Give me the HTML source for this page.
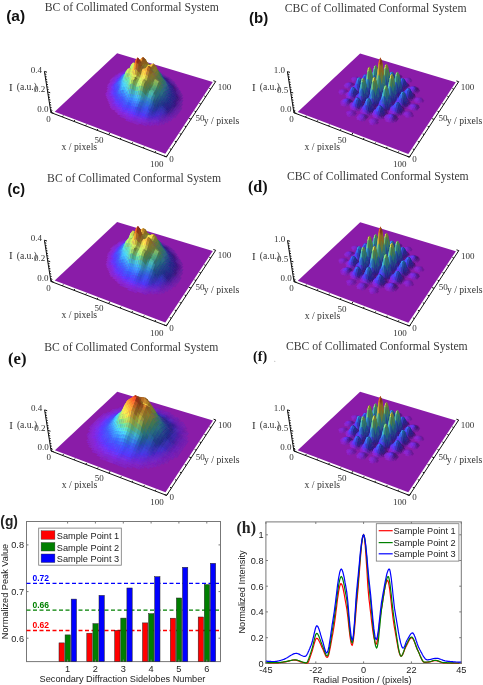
<!DOCTYPE html>
<html><head><meta charset="utf-8"><style>
html,body{margin:0;padding:0;background:#fff;width:483px;height:685px;overflow:hidden}
svg{display:block}

</style></head><body>
<svg width="483" height="685" viewBox="0 0 483 685">
<defs><filter id="bl" x="-5%" y="-5%" width="110%" height="110%"><feGaussianBlur stdDeviation=".6"/></filter><g id="bA" transform="scale(0.2)"><path fill="#7020b0" d="M736 351l10 3 5-4-10-3zM744 353l10 3 5-4-11-3z"/>
<path fill="#7020b8" d="M717 349l10 3 4-4-10-2z"/>
<path fill="#7020c0" d="M697 349l11 2 4-3-10-3z"/>
<path fill="#7028c0" d="M678 348l10 2 5-3-10-2z"/>
<path fill="#7820b0" d="M732 346l11 3 4-5-10-3zM740 348l10 3 5-4-10-4zM748 350l10 4 4-5-10-3zM756 352l10 4 4-4-10-4zM763 355l11 3 4-4-10-4z"/>
<path fill="#7820b8" d="M694 345l10 2 4-4-10-3zM721 347l10 3 4-4-10-3zM701 346l11 3 4-4-10-3zM682 346l10 2 5-4-10-2zM728 349l11 3 4-4-10-4zM709 348l10 2 5-3-10-3zM690 347l10 3 4-4-10-3z"/>
<path fill="#7820c0" d="M670 347l10 2 5-4-10-2z"/>
<path fill="#7828c8" d="M658 349l11 2 4-4-10-2z"/>
<path fill="#8020b0" d="M705 343l10 3 5-4-10-3z"/>
<path fill="#8020b8" d="M686 343l10 3 5-5-10-3zM667 343l10 2 5-4-10-3zM713 345l10 3 5-4-10-3zM655 345l10 2 5-5-10-2zM674 344l10 3 5-4-10-3z"/>
<path fill="#8020c0" d="M663 346l10 2 4-4-10-2zM651 348l10 2 5-4-10-3z"/>
<path fill="#8820c0" d="M643 347l10 2 5-5-10-2zM627 353l10 2 5-5-10-2z"/>
<path fill="#8820c8" d="M639 351l10 2 5-5-10-2z"/>
<path fill="#5828b0" d="M720 351l11 3 4-2-10-2z"/>
<path fill="#6020b0" d="M740 354l10 4 5-3-11-3zM748 357l10 3 4-3-10-3z"/>
<path fill="#6028b8" d="M713 351l10 1 4-1-10-3z"/>
<path fill="#6028c8" d="M681 351l11 2 4-3-10-2zM701 351l11 1 4-1-11-2z"/>
<path fill="#6820b0" d="M732 352l11 3 4-2-10-4z"/>
<path fill="#6820b8" d="M724 351l11 2 4-3-10-3z"/>
<path fill="#6828c0" d="M705 350l10 2 5-3-11-2zM693 351l11 1 4-2-10-2z"/>
<path fill="#6828c8" d="M674 350l10 2 5-3-11-2z"/>
<path fill="#7020b0" d="M752 355l10 3 4-3-10-4zM759 357l11 4 4-4-10-3zM767 360l11 3 4-4-10-3z"/>
<path fill="#7028c0" d="M686 349l10 2 4-2-10-3z"/>
<path fill="#7028c8" d="M666 350l10 1 5-3-10-2z"/>
<path fill="#7028d8" d="M662 353l10 1 5-4-11-1z"/>
<path fill="#7820a8" d="M779 359l10 4 5-4-11-4zM787 362l10 4 4-5-10-3zM795 365l10 4 4-5-10-4z"/>
<path fill="#7820b0" d="M771 357l10 4 5-5-10-3z"/>
<path fill="#7828d8" d="M654 352l10 1 5-4-10-1z"/>
<path fill="#8028c8" d="M635 355l10 1 5-5-10-2z"/>
<path fill="#8028d0" d="M647 352l10 1 4-4-10-2zM630 358l10 1 5-4-10-2z"/>
<path fill="#8028d8" d="M642 355l10 1 5-4-10-2z"/>
<path fill="#8820c0" d="M615 356l10 2 5-5-10-3zM611 360l10 2 5-5-10-3zM599 362l10 2 5-5-10-2z"/>
<path fill="#8828c8" d="M623 357l10 2 5-5-10-2z"/>
<path fill="#4028a8" d="M724 352l11 3 4 0-11-3z"/>
<path fill="#4828b0" d="M716 351l11 2 4 0-11-2z"/>
<path fill="#5020a8" d="M728 353l11 3 4-1-11-4zM736 355l11 3 4-1-11-4zM744 357l10 3 5-1-11-3zM752 359l10 3 4-1-10-3z"/>
<path fill="#5028c0" d="M709 351l10 1 4 0-10-2z"/>
<path fill="#5030d0" d="M697 352l10 0 5-1-11 0z"/>
<path fill="#5828d0" d="M689 352l11 1 4-2-11-1z"/>
<path fill="#5830d8" d="M677 353l11 1 4-2-10-2z"/>
<path fill="#5830e0" d="M665 355l11 1 4-3-10-1z"/>
<path fill="#6020a8" d="M771 363l11 4 4-2-10-4z"/>
<path fill="#6020b0" d="M756 359l10 3 4-2-10-4zM763 361l11 3 4-2-10-4z"/>
<path fill="#6030d8" d="M669 353l11 1 4-3-10-2z"/>
<path fill="#6820a8" d="M783 364l10 4 5-3-11-4zM791 367l10 4 4-4-10-4z"/>
<path fill="#6830e0" d="M658 355l10 1 4-4-10-1z"/>
<path fill="#7020a8" d="M775 362l10 4 5-4-11-4zM799 370l10 5 4-5-10-4z"/>
<path fill="#7030e0" d="M646 358l10 0 4-3-10-1zM634 361l10 0 5-3-11-1z"/>
<path fill="#7828e0" d="M638 359l10 0 5-4-10-1z"/>
<path fill="#7830e0" d="M650 356l10 0 5-4-10-1z"/>
<path fill="#8028c8" d="M607 363l9 2 5-5-9-2z"/>
<path fill="#8028d0" d="M619 361l9 1 5-5-10-1zM602 367l10 2 5-5-10-2z"/>
<path fill="#8028d8" d="M626 362l10 0 5-4-10-1zM614 364l10 1 5-4-10-2z"/>
<path fill="#8820c8" d="M595 366l9 2 5-5-9-2z"/>
<path fill="#3028a8" d="M720 351l11 2 4 2-11-3z"/>
<path fill="#3828a0" d="M732 354l11 3 4 1-11-4z"/>
<path fill="#3828a8" d="M740 356l11 3 4 1-11-3zM748 358l11 2 3 2-10-3z"/>
<path fill="#3830b8" d="M712 351l11 0 4 2-11-2z"/>
<path fill="#402090" d="M775 365l11 5 4-1-11-4z"/>
<path fill="#482098" d="M767 363l11 3 4 0-11-4z"/>
<path fill="#4820a8" d="M760 361l10 3 4 0-10-4z"/>
<path fill="#4830c8" d="M704 352l11-1 4 0-10 0z"/>
<path fill="#4838e0" d="M693 353l10-1 4-1-10 1zM681 355l10-1 5-1-11 0z"/>
<path fill="#5030e0" d="M685 354l11-1 4-1-11-1z"/>
<path fill="#5030e8" d="M673 355l11 0 4-2-11-1z"/>
<path fill="#5038e8" d="M661 357l11 0 4-2-11-1z"/>
<path fill="#5820a0" d="M779 366l10 4 5-3-11-4z"/>
<path fill="#6020a0" d="M787 369l10 4 5-3-11-4zM795 372l10 5 5-4-11-4z"/>
<path fill="#6030e8" d="M653 358l11-1 4-2-10-1zM641 361l11-2 4-2-10 0z"/>
<path fill="#6820a0" d="M803 375l10 5 4-4-10-4zM811 379l10 4 4-4-10-4z"/>
<path fill="#6830e8" d="M629 364l11-2 4-2-10 0z"/>
<path fill="#7020a8" d="M807 373l10 4 4-4-10-4z"/>
<path fill="#7030f0" d="M617 368l11-1 4-4-10 0z"/>
<path fill="#7820a8" d="M814 376l11 4 4-4-10-4z"/>
<path fill="#7830e0" d="M622 365l10 0 5-4-11-1z"/>
<path fill="#8028e0" d="M610 368l10 1 5-5-10-1z"/>
<path fill="#8828d0" d="M590 371l10 1 5-5-10-2zM586 375l9 2 6-6-10-2z"/>
<path fill="#8828d8" d="M598 372l10 1 5-6-10-1z"/>
<path fill="#302088" d="M772 363l10 5 4 2-11-5z"/>
<path fill="#302090" d="M764 361l10 3 4 2-11-3z"/>
<path fill="#302898" d="M728 353l11 3 4 1-11-3z"/>
<path fill="#3028a0" d="M736 355l11 2 4 2-11-3z"/>
<path fill="#3828a0" d="M756 360l11 1 3 3-10-3z"/>
<path fill="#3838c8" d="M708 351l11-1 4 1-11 0z"/>
<path fill="#4038d8" d="M700 352l11-2 4 1-10 1z"/>
<path fill="#4040e0" d="M688 354l11-2 4 0-10 1zM676 356l11-3 4 1-10 1z"/>
<path fill="#482090" d="M783 369l11 5 4-1-11-5z"/>
<path fill="#482098" d="M791 372l11 6 4-2-11-5z"/>
<path fill="#4838d8" d="M657 358l10-2 5 0-11 1z"/>
<path fill="#4838e0" d="M669 356l10-1 5 0-11 0zM644 360l11-3 5 0-11 2z"/>
<path fill="#502098" d="M799 376l10 5 5-2-11-5z"/>
<path fill="#5038e8" d="M649 359l11-2 4-1-11 1z"/>
<path fill="#5038f0" d="M637 362l10-3 5-1-11 2z"/>
<path fill="#5820a0" d="M807 380l10 4 5-2-11-4z"/>
<path fill="#6038f8" d="M625 367l10-3 5-3-11 2z"/>
<path fill="#6820a0" d="M819 382l10 4 4-4-10-4z"/>
<path fill="#7020a0" d="M827 385l10 4 4-4-10-4zM835 388l10 5 4-5-10-4z"/>
<path fill="#7030f8" d="M613 372l10-1 5-5-11 1z"/>
<path fill="#7830e8" d="M601 376l10 1 5-6-10-1z"/>
<path fill="#8030e8" d="M605 372l10 0 5-5-10 0z"/>
<path fill="#8820c8" d="M574 378l9 2 5-6-9-2zM569 383l10 2 5-6-10-2z"/>
<path fill="#8828d0" d="M581 379l10 2 5-6-10-2z"/>
<path fill="#8828e0" d="M593 376l10 1 5-6-10-1zM589 380l10 1 5-6-10-1z"/>
<path fill="#282888" d="M760 358l11 3 3 3-10-3z"/>
<path fill="#2830a0" d="M724 351l11 3 4 2-11-3zM732 353l11 2 4 2-11-2z"/>
<path fill="#302080" d="M780 367l10 6 4 0-11-5z"/>
<path fill="#3030a0" d="M744 357l11 1 4 2-11-1zM752 358l11 1 3 3-10-2z"/>
<path fill="#3038b0" d="M716 350l11 2 4 1-11-2z"/>
<path fill="#3040c8" d="M704 350l11-1 4 2-11 0z"/>
<path fill="#382088" d="M787 371l11 6 4 0-11-5z"/>
<path fill="#3840d0" d="M672 355l10-4 5 3-10 2z"/>
<path fill="#3840d8" d="M684 354l11-4 4 2-10 3z"/>
<path fill="#402090" d="M795 376l11 5 4-1-11-4zM803 380l11 4 4 0-11-5z"/>
<path fill="#4040d8" d="M696 352l11-2 4 1-11 1zM664 356l11-2 4 1-10 2zM652 358l11-3 4 1-10 2z"/>
<path fill="#4048e8" d="M640 361l10-4 5 0-10 3z"/>
<path fill="#482090" d="M811 383l11 5 4-1-11-5z"/>
<path fill="#5040f8" d="M632 364l11-4 4-1-10 3z"/>
<path fill="#582098" d="M815 383l10 5 5-3-11-4z"/>
<path fill="#5838ff" d="M621 370l10-3 4-4-10 3z"/>
<path fill="#602098" d="M823 386l10 6 5-4-11-4zM831 390l10 5 5-3-11-5z"/>
<path fill="#6820a0" d="M839 394l10 5 5-4-11-5z"/>
<path fill="#7038f8" d="M608 376l11-1 4-6-10 1z"/>
<path fill="#7830f0" d="M596 381l10 0 5-6-10 0z"/>
<path fill="#8028e0" d="M584 385l10 1 5-6-10-1z"/>
<path fill="#8820c8" d="M564 387l10 2 5-6-9-2z"/>
<path fill="#8828d0" d="M577 384l9 1 6-6-10-1z"/>
<path fill="#8828d8" d="M572 388l10 2 5-6-10-2z"/>
<path fill="#282088" d="M784 370l10 6 4 1-10-6z"/>
<path fill="#282888" d="M768 361l11 5 3 2-10-5zM776 364l10 7 4 2-10-6z"/>
<path fill="#2838a0" d="M720 350l11 2 4 2-11-2z"/>
<path fill="#2838a8" d="M740 355l11 1 4 2-11-1zM748 356l11 0 4 3-11-1z"/>
<path fill="#2840b0" d="M712 350l11 1 4 1-11-2z"/>
<path fill="#2848b8" d="M700 349l10-2 5 3-11 1z"/>
<path fill="#302088" d="M792 375l10 5 4 1-10-5z"/>
<path fill="#302090" d="M800 379l10 5 4 0-11-5z"/>
<path fill="#3048c8" d="M680 353l10-6 5 4-10 4z"/>
<path fill="#3048d0" d="M692 351l10-3 5 2-11 3z"/>
<path fill="#3840d0" d="M660 356l10-3 5 2-11 2z"/>
<path fill="#3848e0" d="M648 358l10-3 5 1-11 2z"/>
<path fill="#482090" d="M819 387l11 6 4-2-11-5z"/>
<path fill="#4850ff" d="M636 364l10-5 5-2-11 4z"/>
<path fill="#501890" d="M827 391l11 6 4-3-11-5z"/>
<path fill="#5048ff" d="M628 367l10-5 5-2-11 4zM624 371l10-5 4-4-10 5z"/>
<path fill="#581890" d="M835 396l11 6 4-4-10-5z"/>
<path fill="#5840ff" d="M616 374l10-3 5-5-11 3zM612 378l10-3 4-5-10 3z"/>
<path fill="#6838f8" d="M604 380l10-1 5-6-10 1z"/>
<path fill="#6838ff" d="M599 384l11-2 4-5-10 2z"/>
<path fill="#7020a0" d="M847 398l10 5 5-5-11-5z"/>
<path fill="#7830f0" d="M592 385l10 0 5-6-10 0z"/>
<path fill="#8028e0" d="M580 389l9 1 6-6-10-1z"/>
<path fill="#8828c8" d="M560 392l10 2 5-7-10-2z"/>
<path fill="#8828d8" d="M567 393l10 1 5-6-9-2z"/>
<path fill="#9028d0" d="M555 396l10 2 5-6-10-2z"/>
<path fill="#202888" d="M772 362l10 7 4 2-10-7z"/>
<path fill="#203088" d="M764 358l11 6 3 2-10-5z"/>
<path fill="#203090" d="M756 356l11 3 4 3-11-3z"/>
<path fill="#204090" d="M716 347l11 2 4 4-11-2z"/>
<path fill="#282888" d="M780 368l10 7 4 1-10-7zM788 373l11 6 3 1-10-6z"/>
<path fill="#2838a0" d="M728 352l11 1 4 3-11-2z"/>
<path fill="#2840a8" d="M736 353l11 0 4 3-11 0z"/>
<path fill="#2848a0" d="M708 347l10 0 5 4-11-1z"/>
<path fill="#2850b8" d="M688 349l10-6 5 6-10 4z"/>
<path fill="#302088" d="M808 382l10 6 4 0-10-5z"/>
<path fill="#3048d0" d="M668 354l10-5 5 3-10 4z"/>
<path fill="#3050d8" d="M655 356l11-4 5 2-11 3z"/>
<path fill="#381880" d="M824 391l10 7 4-1-10-7z"/>
<path fill="#382080" d="M816 386l10 7 4-1-10-6z"/>
<path fill="#3858f8" d="M643 360l11-4 4-1-10 3z"/>
<path fill="#481888" d="M832 397l10 7 4-3-10-6z"/>
<path fill="#4858ff" d="M631 367l11-4 4-4-10 4z"/>
<path fill="#5050ff" d="M619 375l11-5 4-4-11 5z"/>
<path fill="#5840ff" d="M607 382l10-5 5-3-11 4z"/>
<path fill="#6038ff" d="M595 388l10-3 5-4-11 2z"/>
<path fill="#682098" d="M843 400l11 6 4-5-10-4z"/>
<path fill="#7020a0" d="M851 404l11 5 4-5-10-4zM859 408l11 4 4-5-10-4z"/>
<path fill="#7030f0" d="M583 393l10 0 5-6-10 0z"/>
<path fill="#7830f0" d="M587 389l10 0 5-6-10 0z"/>
<path fill="#8030e8" d="M575 393l10 1 5-6-10-1zM570 398l10 1 5-7-9 0z"/>
<path fill="#8828d8" d="M563 398l10 1 5-7-10-1z"/>
<path fill="#9028d0" d="M550 401l10 2 6-6-10-2z"/>
<path fill="#203888" d="M760 356l11 5 4 3-11-6z"/>
<path fill="#204090" d="M724 349l10 0 5 5-11-1zM752 354l11 2 4 3-11-2z"/>
<path fill="#204888" d="M704 342l10 0 5 7-11 0z"/>
<path fill="#204898" d="M696 344l10-3 5 7-11 2zM732 350l10-1 5 5-11 0z"/>
<path fill="#282088" d="M804 381l11 6 3 1-10-6zM812 386l10 7 4-1-10-6z"/>
<path fill="#282888" d="M796 377l11 6 3 0-10-4z"/>
<path fill="#2840a8" d="M744 354l11 0 4 3-11 0z"/>
<path fill="#2858a8" d="M683 345l10-8 6 8-10 5z"/>
<path fill="#302080" d="M820 391l10 8 4-1-10-7z"/>
<path fill="#3058c0" d="M675 350l10-7 6 5-10 6z"/>
<path fill="#3060d8" d="M663 354l10-7 5 3-10 5z"/>
<path fill="#381880" d="M828 397l10 8 5-2-11-7z"/>
<path fill="#3868f0" d="M651 357l11-4 4 0-10 3z"/>
<path fill="#4060ff" d="M627 371l10-5 5-4-11 5z"/>
<path fill="#4068ff" d="M639 364l11-4 4-4-11 3z"/>
<path fill="#4850ff" d="M615 378l10-6 4-2-10 5z"/>
<path fill="#5048ff" d="M603 386l10-7 4-2-10 5z"/>
<path fill="#582098" d="M840 402l10 6 4-4-10-5z"/>
<path fill="#6020a0" d="M848 407l10 5 4-4-10-5z"/>
<path fill="#6038ff" d="M590 392l11-3 4-5-10 3z"/>
<path fill="#6820a0" d="M856 411l10 5 5-5-11-4z"/>
<path fill="#7020a0" d="M864 414l10 5 5-5-11-4z"/>
<path fill="#7030f0" d="M578 398l10 0 5-7-10 1z"/>
<path fill="#8028e8" d="M566 403l10 1 5-7-10-1z"/>
<path fill="#8828d0" d="M553 408l10 1 6-7-10-1z"/>
<path fill="#8828d8" d="M558 403l10 1 5-7-10-1z"/>
<path fill="#9028c8" d="M546 406l10 3 5-7-10-2z"/>
<path fill="#202888" d="M792 375l11 6 4 2-11-6z"/>
<path fill="#203088" d="M776 365l11 7 4 2-11-6zM784 371l11 6 4 2-11-6z"/>
<path fill="#203888" d="M768 360l11 7 4 2-11-7z"/>
<path fill="#204888" d="M712 342l10 1 4 7-10-1zM748 349l11 2 4 6-11-2z"/>
<path fill="#204890" d="M740 350l10-1 5 6-11 0z"/>
<path fill="#205088" d="M720 343l10 1 4 7-10-1z"/>
<path fill="#205888" d="M691 338l10-4 5 9-10 3z"/>
<path fill="#282088" d="M816 390l11 9 4 0-10-8z"/>
<path fill="#282888" d="M800 380l11 6 4 1-11-6zM808 384l11 8 4 1-11-8z"/>
<path fill="#302088" d="M824 397l11 9 4-2-10-7z"/>
<path fill="#3070d0" d="M671 349l10-9 5 4-10 7z"/>
<path fill="#3878f0" d="M659 354l10-7 5 1-10 6z"/>
<path fill="#4060ff" d="M622 374l10-7 5-2-10 6z"/>
<path fill="#4070ff" d="M635 367l10-5 4-3-10 4z"/>
<path fill="#4078ff" d="M647 360l10-5 5-2-11 4z"/>
<path fill="#482090" d="M836 403l10 7 5-3-11-6z"/>
<path fill="#4850ff" d="M610 381l10-8 5-1-10 7z"/>
<path fill="#5048ff" d="M598 389l10-7 5-3-11 6z"/>
<path fill="#582098" d="M844 408l10 6 5-3-11-6z"/>
<path fill="#6020a0" d="M852 413l11 5 4-4-11-5zM860 417l11 6 4-5-10-5z"/>
<path fill="#6038ff" d="M586 397l10-3 4-6-10 3z"/>
<path fill="#6820a0" d="M868 421l11 6 4-5-10-5z"/>
<path fill="#7830f0" d="M574 404l9-1 5-7-9 0zM569 409l10 0 5-8-10 1z"/>
<path fill="#8028e0" d="M561 409l10 1 5-8-10-1z"/>
<path fill="#8828d0" d="M549 413l10 2 5-7-10-2z"/>
<path fill="#203088" d="M797 376l10 7 4 3-11-6z"/>
<path fill="#203888" d="M780 367l11 6 4 4-11-6zM788 372l11 5 4 4-11-5z"/>
<path fill="#204088" d="M764 355l11 7 4 5-11-7zM772 361l11 7 4 4-11-7z"/>
<path fill="#204888" d="M756 351l11 5 4 5-11-4z"/>
<path fill="#205088" d="M728 344l10-2 5 9-11 0z"/>
<path fill="#205880" d="M699 335l10-1 5 10-10 0z"/>
<path fill="#206080" d="M708 335l10 1 4 9-10-1z"/>
<path fill="#3080b8" d="M679 341l10-9 5 6-10 8z"/>
<path fill="#382080" d="M832 404l11 7 4-2-10-7z"/>
<path fill="#3860f8" d="M618 375l10-7 5 0-10 6z"/>
<path fill="#3870ff" d="M630 369l10-6 5-1-10 5z"/>
<path fill="#3890e8" d="M667 349l10-10 5 1-10 10z"/>
<path fill="#3890ff" d="M655 357l10-8 4-1-10 7z"/>
<path fill="#402090" d="M840 410l11 6 4-3-10-6z"/>
<path fill="#4058ff" d="M606 384l9-9 5-2-10 8z"/>
<path fill="#4080ff" d="M642 363l11-5 4-3-10 5z"/>
<path fill="#502098" d="M849 415l10 6 4-4-10-5z"/>
<path fill="#5048ff" d="M594 394l10-7 4-5-10 7zM589 400l10-5 4-8-10 6z"/>
<path fill="#582098" d="M857 419l10 7 4-5-10-5z"/>
<path fill="#602098" d="M865 424l10 6 5-5-11-5z"/>
<path fill="#6038ff" d="M581 403l10-3 5-8-10 4z"/>
<path fill="#6838ff" d="M577 408l9-2 5-8-10 3z"/>
<path fill="#7830e8" d="M564 414l10 1 5-8-10 0z"/>
<path fill="#8828d8" d="M552 419l10 1 5-7-10-1z"/>
<path fill="#8828e0" d="M557 414l9 1 6-7-10-1z"/>
<path fill="#9028d0" d="M544 418l10 2 5-7-9-2zM539 423l10 2 6-7-10-2z"/>
<path fill="#203088" d="M805 381l10 9 4 2-11-8z"/>
<path fill="#205080" d="M761 347l10 8 4 8-11-6z"/>
<path fill="#205880" d="M736 343l10-2 5 10-11 0zM744 342l10 0 5 11-11-2zM752 342l11 5 4 10-11-4z"/>
<path fill="#206080" d="M715 337l11 0 4 8-10 0z"/>
<path fill="#282888" d="M821 396l10 9 4 0-10-8zM813 388l10 10 4 1-10-9z"/>
<path fill="#287898" d="M687 333l10-5 5 8-10 4z"/>
<path fill="#302080" d="M837 410l10 7 4-2-10-6z"/>
<path fill="#302088" d="M829 403l10 8 4 0-10-8z"/>
<path fill="#3870f0" d="M625 370l10-6 5 0-10 5z"/>
<path fill="#3870ff" d="M613 377l10-8 5-1-10 7z"/>
<path fill="#3880f8" d="M638 365l10-7 5 0-11 5z"/>
<path fill="#3898ff" d="M650 359l10-8 5-2-10 8z"/>
<path fill="#402088" d="M845 415l10 7 5-2-11-6z"/>
<path fill="#4060ff" d="M601 389l10-9 4-5-9 9z"/>
<path fill="#40a8f8" d="M663 351l9-10 5-2-10 11z"/>
<path fill="#40b0d8" d="M675 341l9-10 6 2-10 9z"/>
<path fill="#482088" d="M853 421l10 7 5-3-11-7z"/>
<path fill="#501890" d="M861 426l11 7 4-4-11-6z"/>
<path fill="#5848ff" d="M584 406l10-4 5-9-10 5z"/>
<path fill="#601898" d="M869 431l11 7 4-5-10-6z"/>
<path fill="#6820a0" d="M873 429l10 5 5-5-11-5z"/>
<path fill="#6838f8" d="M572 414l10-2 5-8-10 3z"/>
<path fill="#7038f8" d="M567 419l10-1 5-8-10 2z"/>
<path fill="#8030e8" d="M560 420l9 0 6-7-10-1zM555 425l10 0 5-7-10 0z"/>
<path fill="#8828d8" d="M547 424l10 2 5-7-9-2z"/>
<path fill="#9028c8" d="M535 428l9 2 6-7-10-2z"/>
<path fill="#202888" d="M817 392l10 11 4 2-10-10z"/>
<path fill="#203088" d="M809 382l11 12 3 4-10-10z"/>
<path fill="#203888" d="M801 375l11 9 3 6-10-8z"/>
<path fill="#204088" d="M793 370l11 6 3 7-11-6z"/>
<path fill="#204888" d="M777 361l10 5 4 8-11-6zM785 366l11 4 3 8-11-5z"/>
<path fill="#205088" d="M769 354l10 8 4 7-11-7z"/>
<path fill="#282088" d="M833 408l11 8 4 1-11-8z"/>
<path fill="#282888" d="M825 400l11 10 3 1-10-8z"/>
<path fill="#286880" d="M724 337l10-3 4 10-10 2z"/>
<path fill="#287078" d="M695 328l10 0 5 8-10 1zM703 329l11 2 4 7-10-1z"/>
<path fill="#302088" d="M841 415l11 8 4-1-11-7z"/>
<path fill="#381880" d="M850 421l10 8 4-2-10-7z"/>
<path fill="#3880f8" d="M621 371l10-6 5-1-10 6z"/>
<path fill="#3888f0" d="M633 365l10-6 5 0-10 6z"/>
<path fill="#3898f0" d="M646 360l9-9 6 1-10 7z"/>
<path fill="#401880" d="M858 427l10 8 4-3-10-7z"/>
<path fill="#4058ff" d="M597 395l10-7 4-8-10 8z"/>
<path fill="#4078ff" d="M609 382l10-8 4-5-10 8z"/>
<path fill="#40b8f8" d="M658 353l10-10 5-2-10 11z"/>
<path fill="#4858ff" d="M592 402l10-6 4-9-10 7z"/>
<path fill="#501888" d="M866 433l10 7 4-3-10-7z"/>
<path fill="#5840ff" d="M580 412l10-4 4-8-10 5zM575 418l10-5 5-6-10 4z"/>
<path fill="#682098" d="M878 436l10 6 4-5-10-5z"/>
<path fill="#7030f8" d="M563 425l10-2 5-7-10 2z"/>
<path fill="#8028e0" d="M550 430l10 1 5-7-10-1z"/>
<path fill="#8828d0" d="M538 435l9 2 6-8-10-2z"/>
<path fill="#8828d8" d="M542 429l10 2 6-7-10-2z"/>
<path fill="#203088" d="M822 396l10 11 4 3-11-10z"/>
<path fill="#206880" d="M765 345l11 8 3 10-11-7z"/>
<path fill="#282088" d="M846 419l10 9 4 0-10-8z"/>
<path fill="#282888" d="M830 405l10 9 4 2-11-8zM838 412l10 9 4 1-10-8z"/>
<path fill="#287078" d="M711 331l11 0 4 7-10 1zM740 331l10 0 5 14-10-1zM749 331l10 5 4 13-10-4z"/>
<path fill="#287080" d="M732 335l10-4 5 12-10 2z"/>
<path fill="#302080" d="M854 426l10 10 5-2-11-8z"/>
<path fill="#307878" d="M719 332l10-5 6 9-11 3z"/>
<path fill="#381878" d="M862 434l10 8 5-2-11-8z"/>
<path fill="#3898f0" d="M628 367l11-7 5-1-11 7z"/>
<path fill="#38a0e0" d="M641 361l10-10 5 1-10 9z"/>
<path fill="#4070ff" d="M600 397l10-6 4-10-10 6z"/>
<path fill="#4078ff" d="M604 389l10-7 4-9-10 7z"/>
<path fill="#409088" d="M690 327l11 0 5 3-11 0z"/>
<path fill="#4090ff" d="M616 375l11-5 4-5-10 6z"/>
<path fill="#40b0b8" d="M682 332l11-6 5 3-10 6z"/>
<path fill="#40b0e0" d="M653 354l10-12 5 2-9 10z"/>
<path fill="#4850ff" d="M587 408l11-5 4-8-10 6z"/>
<path fill="#48d0f0" d="M670 343l10-10 5-2-10 11z"/>
<path fill="#5050ff" d="M583 414l10-7 4-6-10 6z"/>
<path fill="#50d0e0" d="M666 345l10-10 5-2-10 11z"/>
<path fill="#5840ff" d="M570 423l11-5 4-6-10 4z"/>
<path fill="#601890" d="M874 439l10 6 5-4-11-6z"/>
<path fill="#6820a0" d="M882 444l11 5 4-5-11-5z"/>
<path fill="#7030f0" d="M558 431l10-2 5-8-10 2z"/>
<path fill="#8828e0" d="M545 436l10 1 6-8-10-1z"/>
<path fill="#9028d0" d="M533 440l10 3 5-8-10-2z"/>
<path fill="#203888" d="M814 385l10 13 3 5-10-11z"/>
<path fill="#204088" d="M806 374l10 14 3 6-10-11z"/>
<path fill="#205088" d="M798 366l10 10 3 9-10-9z"/>
<path fill="#205880" d="M781 358l11 3 3 11-10-4zM790 361l10 5 3 11-10-5z"/>
<path fill="#206080" d="M773 353l10 5 4 10-10-6z"/>
<path fill="#287080" d="M757 336l10 9 4 11-11-7z"/>
<path fill="#302080" d="M859 434l10 10 4-2-10-9z"/>
<path fill="#387860" d="M727 328l11-7 5 12-10 4z"/>
<path fill="#388070" d="M699 327l11 2 4 3-11-2z"/>
<path fill="#4060ff" d="M590 408l11-6 4-6-10 6z"/>
<path fill="#4068ff" d="M595 403l10-5 4-9-10 6z"/>
<path fill="#4088ff" d="M607 391l10-5 5-10-10 5z"/>
<path fill="#409080" d="M707 329l11-1 4 4-11 1z"/>
<path fill="#4090ff" d="M612 383l10-5 4-9-10 5z"/>
<path fill="#40b0c8" d="M649 353l9-14 6 4-10 11z"/>
<path fill="#40b0e0" d="M636 362l10-12 5 1-9 10z"/>
<path fill="#40b0ff" d="M624 371l10-7 5-4-11 7z"/>
<path fill="#501888" d="M870 441l11 7 4-4-10-6z"/>
<path fill="#5050ff" d="M578 419l10-7 5-6-11 7z"/>
<path fill="#5840ff" d="M566 429l10-4 4-8-10 4z"/>
<path fill="#58d0a8" d="M686 330l11-1 5-2-11 0z"/>
<path fill="#58e0d0" d="M678 335l11-7 4-1-10 6z"/>
<path fill="#601898" d="M878 447l11 6 4-5-10-5z"/>
<path fill="#6038ff" d="M561 436l10-3 5-10-10 4z"/>
<path fill="#6820a0" d="M887 451l10 6 5-5-11-5z"/>
<path fill="#7830f0" d="M553 437l10-1 5-9-10 2z"/>
<path fill="#8030e8" d="M548 443l10 0 6-9-10 1z"/>
<path fill="#8828d8" d="M541 442l9 2 6-9-10-1z"/>
<path fill="#9028d0" d="M536 448l10 2 5-8-10-2z"/>
<path fill="#203088" d="M834 409l11 10 3 2-10-9zM826 402l11 10 3 2-10-9z"/>
<path fill="#203888" d="M818 392l10 12 4 3-10-11z"/>
<path fill="#204888" d="M810 379l10 15 4 5-10-14z"/>
<path fill="#282088" d="M851 425l10 11 4-1-10-9z"/>
<path fill="#282888" d="M843 417l10 10 4 1-11-9z"/>
<path fill="#287078" d="M769 345l11 5 3 10-10-6z"/>
<path fill="#307070" d="M761 336l11 11 3 8-11-9z"/>
<path fill="#307860" d="M753 326l10 12 4 9-11-9z"/>
<path fill="#387858" d="M736 322l10-1 5 12-10 0zM745 321l10 6 4 12-10-6z"/>
<path fill="#401878" d="M867 442l10 9 4-4-10-7z"/>
<path fill="#4060ff" d="M586 413l10-6 4-6-10 7z"/>
<path fill="#4080ff" d="M603 398l10-5 4-9-10 5z"/>
<path fill="#40a0ff" d="M615 386l10-6 5-10-10 6z"/>
<path fill="#40a8ff" d="M620 378l10-6 4-8-10 5z"/>
<path fill="#48c0b8" d="M661 344l10-11 5 3-9 10z"/>
<path fill="#48d0f8" d="M632 366l10-12 5-3-10 11z"/>
<path fill="#501890" d="M875 449l10 7 5-4-11-7z"/>
<path fill="#5048ff" d="M569 433l9-4 5-11-10 5z"/>
<path fill="#5050ff" d="M573 425l11-6 4-8-10 7z"/>
<path fill="#50a880" d="M715 329l10-6 5 5-10 5z"/>
<path fill="#50b088" d="M694 329l11 1 5-1-11-3z"/>
<path fill="#602098" d="M883 454l11 6 4-4-11-6z"/>
<path fill="#60d8a0" d="M682 332l11-2 4-2-11 1z"/>
<path fill="#60e0c0" d="M674 337l10-7 5-1-11 6z"/>
<path fill="#6820a0" d="M891 459l11 6 4-6-10-5z"/>
<path fill="#7038f8" d="M556 443l10-1 5-11-10 3z"/>
<path fill="#8828e0" d="M544 449l9 1 6-9-10 0z"/>
<path fill="#9028c8" d="M531 453l10 3 5-8-9-2z"/>
<path fill="#203088" d="M839 415l10 12 4 0-10-11z"/>
<path fill="#203888" d="M831 407l10 11 4 1-10-10z"/>
<path fill="#204088" d="M823 399l10 11 4 1-11-9z"/>
<path fill="#205880" d="M803 366l9 15 4 7-10-13z"/>
<path fill="#282088" d="M855 434l10 11 4-2-10-10z"/>
<path fill="#282888" d="M847 424l10 12 4-1-10-10z"/>
<path fill="#286880" d="M794 357l11 11 3 9-11-10z"/>
<path fill="#287078" d="M777 350l11 3 4 10-11-3zM786 353l10 4 4 11-11-5z"/>
<path fill="#381880" d="M863 443l10 10 5-3-11-9z"/>
<path fill="#4060ff" d="M581 420l10-6 5-8-11 6z"/>
<path fill="#4078ff" d="M598 403l10-5 5-7-11 6zM593 408l11-5 4-6-10 5z"/>
<path fill="#4098ff" d="M611 393l10-6 4-9-10 7z"/>
<path fill="#481888" d="M871 451l11 8 4-4-10-7z"/>
<path fill="#48a888" d="M657 341l9-14 6 7-10 11z"/>
<path fill="#48d0ff" d="M628 373l10-11 4-8-10 12z"/>
<path fill="#50b890" d="M669 335l10-8 6 4-11 7z"/>
<path fill="#50c0b8" d="M644 353l10-17 5 3-9 14z"/>
<path fill="#582098" d="M879 457l11 7 4-5-10-6z"/>
<path fill="#5840ff" d="M564 441l10-2 5-13-10 5z"/>
<path fill="#58c090" d="M702 330l12-1 4 0-11 0z"/>
<path fill="#602098" d="M888 463l10 6 5-6-11-5z"/>
<path fill="#60a870" d="M723 325l11-7 5 5-11 6z"/>
<path fill="#60c088" d="M690 330l11 1 4-1-11-2z"/>
<path fill="#7020a0" d="M896 467l11 6 4-6-10-5z"/>
<path fill="#7830f0" d="M552 450l9-1 6-10-10 2z"/>
<path fill="#8030e8" d="M547 456l10 0 5-9-10 0z"/>
<path fill="#8828d0" d="M534 460l10 2 5-8-9-1z"/>
<path fill="#8828d8" d="M539 455l10 1 5-8-10-1z"/>
<path fill="#203088" d="M843 425l10 12 5-1-10-12z"/>
<path fill="#203888" d="M835 415l10 12 4-1-10-11z"/>
<path fill="#204888" d="M815 388l9 13 4 3-9-13z"/>
<path fill="#205880" d="M807 375l9 16 4 3-9-15z"/>
<path fill="#282888" d="M851 435l10 12 5-2-10-11z"/>
<path fill="#302088" d="M859 445l11 10 4-3-10-9z"/>
<path fill="#307860" d="M765 341l11 6 4 5-11-6z"/>
<path fill="#381880" d="M868 453l10 9 4-4-10-8z"/>
<path fill="#387858" d="M757 332l10 11 4 4-10-11z"/>
<path fill="#4078ff" d="M589 415l10-4 4-9-10 4z"/>
<path fill="#4090ff" d="M606 399l10-7 5-6-11 6z"/>
<path fill="#4858ff" d="M577 429l9-4 5-12-10 5z"/>
<path fill="#487850" d="M749 322l10 12 4 5-10-12z"/>
<path fill="#48b8ff" d="M619 388l10-10 4-8-10 10z"/>
<path fill="#48c8ff" d="M623 381l10-10 4-10-10 11z"/>
<path fill="#502090" d="M876 460l10 7 5-4-11-7z"/>
<path fill="#5050ff" d="M572 438l9-2 5-14-9 4z"/>
<path fill="#507840" d="M740 317l11 7 4 5-11-8z"/>
<path fill="#582098" d="M884 466l11 7 4-6-10-6z"/>
<path fill="#5840ff" d="M567 447l10-2 5-12-10 3z"/>
<path fill="#58a070" d="M677 329l11-3 5 4-11 2z"/>
<path fill="#58d8b8" d="M640 356l9-17 5-2-9 16z"/>
<path fill="#609050" d="M732 319l10-2 5 5-11 2z"/>
<path fill="#682098" d="M892 471l11 6 5-5-11-6z"/>
<path fill="#6838ff" d="M559 449l10-1 5-12-9 3z"/>
<path fill="#68c888" d="M698 331l11-2 5 0-12 1z"/>
<path fill="#7030f8" d="M555 455l9 0 6-10-10 2z"/>
<path fill="#70d088" d="M711 330l10-6 5 0-11 6z"/>
<path fill="#8828e0" d="M542 461l10 1 5-8-10 0z"/>
<path fill="#9028d0" d="M529 466l10 2 6-8-10-2z"/>
<path fill="#204088" d="M827 406l10 11 4 0-10-10z"/>
<path fill="#204888" d="M819 398l10 11 4 0-10-10z"/>
<path fill="#205880" d="M811 386l10 14 4 1-10-13z"/>
<path fill="#282088" d="M856 446l10 11 4-2-10-11z"/>
<path fill="#282888" d="M848 436l10 12 4-1-10-12z"/>
<path fill="#287080" d="M799 361l9 16 4 4-9-15z"/>
<path fill="#302080" d="M864 455l10 10 5-4-11-8z"/>
<path fill="#307060" d="M773 346l11 2 4 6-11-2z"/>
<path fill="#307068" d="M782 348l11 5 3 6-11-5z"/>
<path fill="#307070" d="M790 352l11 12 3 5-10-12z"/>
<path fill="#402088" d="M872 463l11 8 4-5-11-7z"/>
<path fill="#4068ff" d="M584 424l10-3 5-12-10 3z"/>
<path fill="#4088ff" d="M597 411l10-5 4-9-10 5z"/>
<path fill="#4090ff" d="M601 404l11-6 4-7-11 7z"/>
<path fill="#40b8ff" d="M614 393l10-11 4-5-10 11z"/>
<path fill="#4858ff" d="M580 435l9-2 5-14-9 3z"/>
<path fill="#502090" d="M880 469l11 7 4-5-10-6z"/>
<path fill="#589060" d="M664 329l10-9 6 9-10 7z"/>
<path fill="#589860" d="M685 327l11 1 5 3-11 0z"/>
<path fill="#602098" d="M889 475l10 6 5-5-11-6z"/>
<path fill="#6038ff" d="M562 454l10-1 5-10-9 2z"/>
<path fill="#60e8d0" d="M636 364l9-16 4-9-9 18z"/>
<path fill="#68a860" d="M694 328l10-2 5 4-11 1z"/>
<path fill="#68b878" d="M652 339l9-17 6 6-9 14z"/>
<path fill="#7020a0" d="M901 476l11 5 4-6-11-5z"/>
<path fill="#7830f0" d="M550 461l10 0 5-8-10 0z"/>
<path fill="#80d880" d="M706 330l11-5 5 0-11 5z"/>
<path fill="#8828d8" d="M537 467l10 1 5-8-9-1z"/>
<path fill="#9020c8" d="M524 471l10 3 6-8-10-2z"/>
<path fill="#90e078" d="M719 326l11-7 4-1-10 8z"/>
<path fill="#203088" d="M840 424l9 14 5-1-10-13z"/>
<path fill="#204088" d="M831 414l10 13 5 0-10-12z"/>
<path fill="#204888" d="M823 405l10 12 5 0-11-11z"/>
<path fill="#286880" d="M803 373l9 16 5 2-10-16z"/>
<path fill="#301880" d="M868 465l11 8 4-3-10-8z"/>
<path fill="#302088" d="M860 456l10 10 5-2-10-9z"/>
<path fill="#307070" d="M795 360l9 16 5 1-10-16z"/>
<path fill="#401888" d="M877 472l10 8 5-5-11-7z"/>
<path fill="#4070ff" d="M588 432l9-3 5-15-10 5z"/>
<path fill="#407850" d="M761 340l11 6 4 1-11-6z"/>
<path fill="#4080ff" d="M592 421l10-4 4-13-9 5z"/>
<path fill="#40b8ff" d="M609 399l10-12 5-5-10 11z"/>
<path fill="#487848" d="M753 332l10 10 4 1-10-11z"/>
<path fill="#489060" d="M769 345l11 3 4 1-11-3z"/>
<path fill="#5048ff" d="M570 453l10-2 5-10-10 2z"/>
<path fill="#5050ff" d="M575 445l10-2 5-13-10 3z"/>
<path fill="#50e0e8" d="M626 380l10-14 4-8-9 14z"/>
<path fill="#587840" d="M673 321l10-1 5 8-10 2zM744 323l10 11 5 0-10-12zM681 320l11 2 4 7-10 0z"/>
<path fill="#58e0e0" d="M631 372l10-13 4-11-10 16z"/>
<path fill="#682098" d="M897 480l11 6 4-6-10-5z"/>
<path fill="#6838ff" d="M558 460l10 0 5-9-10 1z"/>
<path fill="#688840" d="M736 319l10 6 5-1-10-8z"/>
<path fill="#8030e8" d="M545 468l10 0 5-9-10 0z"/>
<path fill="#80b058" d="M702 327l10-6 6 5-11 5z"/>
<path fill="#8828d0" d="M532 473l10 2 6-9-10-1z"/>
<path fill="#90d880" d="M648 342l9-19 5-1-9 17z"/>
<path fill="#a0e070" d="M715 326l11-6 4 0-11 6z"/>
<path fill="#a8d868" d="M727 321l12-2 4-2-11 2z"/>
<path fill="#203088" d="M844 434l10 14 4 0-10-13z"/>
<path fill="#203888" d="M836 422l10 15 4 1-10-14z"/>
<path fill="#205880" d="M815 396l10 11 4 1-10-11z"/>
<path fill="#206080" d="M807 385l10 13 4 2-10-14z"/>
<path fill="#282888" d="M852 446l10 12 4-1-10-11z"/>
<path fill="#287078" d="M799 372l9 15 5 2-10-16z"/>
<path fill="#387858" d="M777 347l11 6 5 1-11-6z"/>
<path fill="#387860" d="M786 351l10 12 5 1-10-12z"/>
<path fill="#4058ff" d="M583 443l10-3 4-14-9 4z"/>
<path fill="#40a0ff" d="M600 417l10-9 4-14-10 11z"/>
<path fill="#40b0ff" d="M605 406l10-11 4-8-10 11z"/>
<path fill="#4850ff" d="M578 451l10-2 5-12-10 3z"/>
<path fill="#501890" d="M885 478l11 7 4-5-11-6z"/>
<path fill="#507840" d="M748 332l11 9 4 1-10-11z"/>
<path fill="#50d8e8" d="M622 384l9-15 5-3-9 14z"/>
<path fill="#5840ff" d="M566 459l9 0 6-10-10 1z"/>
<path fill="#601898" d="M893 484l11 6 5-5-11-6z"/>
<path fill="#6038ff" d="M561 466l10 1 5-10-10 0z"/>
<path fill="#688840" d="M689 323l11-2 5 7-11 2z"/>
<path fill="#7020a0" d="M902 489l11 6 4-6-11-6z"/>
<path fill="#7038f8" d="M553 467l10 0 5-9-10 0z"/>
<path fill="#7830f0" d="M548 474l10 1 5-10-10 0z"/>
<path fill="#789040" d="M731 320l11 6 5-2-11-6z"/>
<path fill="#78a048" d="M660 323l10-10 5 8-9 9z"/>
<path fill="#8028e0" d="M540 474l10 1 5-9-9-1z"/>
<path fill="#8828d8" d="M535 481l10 1 6-9-10-1z"/>
<path fill="#9028d0" d="M527 479l10 2 6-8-10-2z"/>
<path fill="#90b048" d="M710 323l11-7 5 5-11 6z"/>
<path fill="#98f090" d="M643 350l10-17 4-10-9 19z"/>
<path fill="#b0d860" d="M723 322l11-1 5-2-12 1z"/>
<path fill="#202888" d="M849 445l9 14 5-1-10-12z"/>
<path fill="#204888" d="M828 411l10 13 4 3-10-13z"/>
<path fill="#205880" d="M820 402l10 11 4 3-11-11z"/>
<path fill="#206080" d="M811 392l11 12 3 3-10-11z"/>
<path fill="#282888" d="M857 456l10 12 4-2-10-10z"/>
<path fill="#302088" d="M865 466l10 9 4-2-10-9z"/>
<path fill="#307060" d="M791 359l9 15 5 2-10-16z"/>
<path fill="#381880" d="M873 473l10 9 5-3-11-8z"/>
<path fill="#4060ff" d="M586 449l10-5 5-13-10 6z"/>
<path fill="#4070ff" d="M591 439l10-5 4-15-9 7z"/>
<path fill="#407850" d="M782 350l10 12 5 1-10-12z"/>
<path fill="#4088ff" d="M596 429l9-7 5-16-10 9z"/>
<path fill="#481880" d="M881 480l11 9 4-5-10-7z"/>
<path fill="#487848" d="M757 339l10 6 5 1-11-6zM773 346l11 6 5 1-11-6z"/>
<path fill="#5048ff" d="M574 458l9-1 5-11-9 3z"/>
<path fill="#50d0d8" d="M617 389l9-18 5-2-9 16z"/>
<path fill="#581890" d="M890 487l10 7 5-5-11-6z"/>
<path fill="#5840ff" d="M569 466l10 0 5-11-10 1z"/>
<path fill="#589058" d="M765 344l11 3 4 1-11-3z"/>
<path fill="#607838" d="M740 324l10 10 5 0-10-11z"/>
<path fill="#681898" d="M898 493l11 6 4-6-10-5z"/>
<path fill="#6838ff" d="M556 474l10 1 5-10-10-1z"/>
<path fill="#687830" d="M668 314l10 0 6 8-11 1zM676 314l11 5 5 5-11-2z"/>
<path fill="#70e8b0" d="M634 368l10-14 4-8-9 15z"/>
<path fill="#8030e8" d="M543 482l10 1 6-10-10-1z"/>
<path fill="#809840" d="M697 323l11-9 5 9-10 6z"/>
<path fill="#80f0a0" d="M639 361l10-14 4-14-10 17z"/>
<path fill="#9028d0" d="M530 487l10 2 6-9-10-1z"/>
<path fill="#203888" d="M841 431l9 16 4 1-9-14z"/>
<path fill="#204888" d="M833 417l9 16 4 3-10-14z"/>
<path fill="#282088" d="M861 467l10 10 5-2-11-10z"/>
<path fill="#282888" d="M853 456l10 13 4-2-10-11z"/>
<path fill="#287078" d="M803 380l10 14 4 4-10-14z"/>
<path fill="#302080" d="M869 475l11 10 4-4-10-8z"/>
<path fill="#307068" d="M795 366l10 17 4 4-10-16z"/>
<path fill="#381878" d="M878 483l10 9 5-4-11-9z"/>
<path fill="#481888" d="M886 490l11 8 4-5-10-7z"/>
<path fill="#4858ff" d="M582 457l9-5 5-11-10 5z"/>
<path fill="#48d8f8" d="M608 408l10-16 4-14-10 19z"/>
<path fill="#5050ff" d="M577 465l10-4 5-11-10 5z"/>
<path fill="#50d8e8" d="M613 397l8-19 5-7-9 18z"/>
<path fill="#5840ff" d="M564 475l10 0 5-12-10 1z"/>
<path fill="#587838" d="M752 336l12 4 4 5-12-5z"/>
<path fill="#601898" d="M894 497l11 6 5-5-11-6z"/>
<path fill="#607838" d="M744 328l11 9 4 4-11-9z"/>
<path fill="#60d8a8" d="M629 371l10-16 5-1-9 14z"/>
<path fill="#6838f8" d="M559 484l10 0 5-11-9 0z"/>
<path fill="#687830" d="M736 319l10 11 5 4-11-10z"/>
<path fill="#7020a0" d="M903 502l11 6 4-6-11-6z"/>
<path fill="#707830" d="M727 314l11 6 4 6-11-5z"/>
<path fill="#7830f0" d="M551 483l10 1 6-11-10-1z"/>
<path fill="#8028e0" d="M546 490l10 2 6-10-10-2z"/>
<path fill="#808838" d="M719 317l10-3 5 7-10 2z"/>
<path fill="#809038" d="M685 319l10-2 5 6-10 2z"/>
<path fill="#8828d8" d="M538 489l10 2 6-10-10-1z"/>
<path fill="#9028d0" d="M533 495l10 3 6-9-10-2z"/>
<path fill="#c0e060" d="M655 326l10-12 6 0-10 10z"/>
<path fill="#d0f868" d="M651 336l11-10 4-12-11 10z"/>
<path fill="#203088" d="M845 443l10 16 4-1-10-14z"/>
<path fill="#204088" d="M837 427l9 19 5 1-10-16z"/>
<path fill="#205880" d="M824 405l10 14 4 5-10-13z"/>
<path fill="#282088" d="M866 477l10 10 4-3-10-10z"/>
<path fill="#282888" d="M857 468l11 11 4-3-10-10z"/>
<path fill="#286880" d="M816 396l11 11 3 6-11-11z"/>
<path fill="#287078" d="M808 387l10 11 4 6-11-12z"/>
<path fill="#301880" d="M874 485l10 10 5-4-11-9z"/>
<path fill="#401880" d="M882 493l11 9 4-5-10-8z"/>
<path fill="#4070ff" d="M590 452l10-9 4-10-10 9z"/>
<path fill="#407850" d="M787 353l10 16 4 5-10-15z"/>
<path fill="#4080ff" d="M594 444l10-9 4-12-10 9z"/>
<path fill="#4098ff" d="M599 434l9-9 5-17-10 11z"/>
<path fill="#40b8ff" d="M604 422l9-12 4-19-10 16z"/>
<path fill="#5048ff" d="M572 475l10-3 5-13-10 4z"/>
<path fill="#507848" d="M778 344l11 11 4 6-11-10z"/>
<path fill="#581890" d="M891 501l10 7 5-6-11-7z"/>
<path fill="#5840ff" d="M567 484l10-1 5-13-9 2z"/>
<path fill="#587840" d="M761 340l11 1 4 7-11-3zM770 341l11 4 3 7-11-5z"/>
<path fill="#68d090" d="M625 374l9-20 5 1-9 17z"/>
<path fill="#7830e8" d="M554 492l10 1 6-11-10-1z"/>
<path fill="#8828d8" d="M541 497l10 2 6-9-10-2z"/>
<path fill="#888830" d="M706 316l10-11 6 12-11 7z"/>
<path fill="#909838" d="M672 316l10 6 5-2-10-6z"/>
<path fill="#a0a040" d="M693 319l10-12 6 8-11 9z"/>
<path fill="#a0f088" d="M642 356l11-9 4-9-11 9z"/>
<path fill="#b8f870" d="M647 348l10-8 4-15-10 8z"/>
<path fill="#c0c048" d="M663 316l11 1 5-2-11-1z"/>
<path fill="#e8f060" d="M659 327l10 0 5-12-10-1z"/>
<path fill="#203088" d="M849 458l10 12 5-2-10-12z"/>
<path fill="#203888" d="M841 443l10 17 4-2-9-15z"/>
<path fill="#205880" d="M829 412l10 18 3 3-9-16z"/>
<path fill="#282088" d="M862 480l10 11 5-4-11-11z"/>
<path fill="#302080" d="M870 489l10 10 5-5-10-9z"/>
<path fill="#307068" d="M799 374l10 15 4 5-10-14z"/>
<path fill="#401880" d="M878 498l11 9 5-6-11-9z"/>
<path fill="#4068ff" d="M585 461l10-8 4-12-10 10z"/>
<path fill="#407850" d="M791 358l10 19 4 6-10-17z"/>
<path fill="#40a8ff" d="M602 436l10-10 4-13-10 10z"/>
<path fill="#4858ff" d="M580 472l10-6 4-15-9 8z"/>
<path fill="#48c8ff" d="M607 425l9-10 4-20-9 13z"/>
<path fill="#5048ff" d="M576 483l9-4 5-16-10 6z"/>
<path fill="#581890" d="M887 505l10 8 5-6-10-7z"/>
<path fill="#6820a0" d="M899 507l11 6 5-6-11-6z"/>
<path fill="#687830" d="M748 329l11 3 4 9-11-4z"/>
<path fill="#7038f8" d="M563 492l9 1 6-13-10 2z"/>
<path fill="#707830" d="M740 320l11 11 4 6-11-9z"/>
<path fill="#787828" d="M732 308l10 13 4 9-11-10z"/>
<path fill="#8030e8" d="M558 500l10 1 5-11-10 0z"/>
<path fill="#807828" d="M714 306l11-4 5 14-10 3zM723 302l11 6 4 13-10-4z"/>
<path fill="#8828d8" d="M545 505l10 2 5-8-10-3z"/>
<path fill="#8828e0" d="M550 499l10 2 5-10-10-2z"/>
<path fill="#9028d0" d="M536 503l11 3 5-9-10-2z"/>
<path fill="#90d878" d="M637 357l10-11 5 0-10 11z"/>
<path fill="#c0f870" d="M650 348l10-2 5-9-10 1z"/>
<path fill="#d0d050" d="M680 321l11-2 5-1-12 1z"/>
<path fill="#d0f868" d="M655 340l9-1 6-15-10 0z"/>
<path fill="#d8e058" d="M667 326l10 3 6-9-10-5z"/>
<path fill="#203088" d="M845 460l10 13 5-3-10-13z"/>
<path fill="#204088" d="M837 446l10 16 4-3-9-16z"/>
<path fill="#205088" d="M833 426l10 20 4 0-9-19z"/>
<path fill="#282888" d="M853 471l11 11 4-4-10-10z"/>
<path fill="#287080" d="M821 399l10 15 3 5-10-14z"/>
<path fill="#302088" d="M866 493l10 11 5-6-10-10z"/>
<path fill="#307060" d="M804 382l10 11 4 5-11-11z"/>
<path fill="#307070" d="M812 391l11 10 3 6-10-11z"/>
<path fill="#381880" d="M875 502l10 9 5-5-11-9z"/>
<path fill="#4098ff" d="M597 444l10-12 5-8-10 11z"/>
<path fill="#502090" d="M883 510l11 7 4-6-10-7z"/>
<path fill="#5840ff" d="M571 492l9-1 6-15-10 4z"/>
<path fill="#587840" d="M783 342l10 18 4 9-11-15z"/>
<path fill="#58e0e0" d="M612 411l9-13 4-23-10 17z"/>
<path fill="#6820a0" d="M895 511l11 7 5-7-11-6z"/>
<path fill="#7038f8" d="M566 501l10 0 5-12-10 1z"/>
<path fill="#707830" d="M757 333l10-2 5 12-11-2zM766 331l10 2 4 14-10-4z"/>
<path fill="#70e8b8" d="M616 394l9-19 4-16-9 21z"/>
<path fill="#78e098" d="M620 380l9-21 5-5-9 20z"/>
<path fill="#8828e0" d="M553 507l10 1 5-9-10-1z"/>
<path fill="#9028d0" d="M540 511l10 3 6-8-11-3z"/>
<path fill="#98c860" d="M632 356l10-13 6 3-10 12z"/>
<path fill="#a08830" d="M701 309l10-15 6 13-10 10z"/>
<path fill="#a0d058" d="M645 347l11-2 5 0-11 3z"/>
<path fill="#d0f868" d="M658 346l10 0 6-9-11-1z"/>
<path fill="#d8f060" d="M663 338l10 1 5-12-10-3z"/>
<path fill="#e0d040" d="M689 320l10-14 5 2-10 12z"/>
<path fill="#e8f060" d="M671 339l11-5 4-10-10 3z"/>
<path fill="#f0f058" d="M676 329l10-3 5-8-10 1z"/>
<path fill="#202888" d="M849 475l11 11 4-4-10-12z"/>
<path fill="#203888" d="M841 463l10 14 5-4-10-14z"/>
<path fill="#205880" d="M829 429l10 19 4-2-9-20z"/>
<path fill="#282888" d="M858 484l10 11 5-5-10-10z"/>
<path fill="#286880" d="M825 410l10 19 4 1-10-19z"/>
<path fill="#302088" d="M862 497l11 11 4-5-10-11z"/>
<path fill="#307070" d="M817 397l10 16 4 1-10-15z"/>
<path fill="#381880" d="M871 506l10 10 5-6-11-9z"/>
<path fill="#4060ff" d="M584 479l9-5 5-19-10 8z"/>
<path fill="#407850" d="M796 368l9 16 4 5-9-15z"/>
<path fill="#4078ff" d="M588 466l10-9 4-16-9 10z"/>
<path fill="#4088ff" d="M593 453l10-11 4-11-10 12z"/>
<path fill="#48d0ff" d="M610 426l10-7 4-14-10 8z"/>
<path fill="#501890" d="M879 514l11 8 4-6-10-8z"/>
<path fill="#5048ff" d="M579 491l9-3 5-17-9 5z"/>
<path fill="#5840ff" d="M574 500l10-1 5-13-10 2z"/>
<path fill="#587840" d="M788 350l9 21 4 6-10-19z"/>
<path fill="#58e0e0" d="M615 415l9-7 5-22-10 9z"/>
<path fill="#602098" d="M891 516l11 7 5-7-11-6zM888 521l10 6 5-6-11-6z"/>
<path fill="#687830" d="M775 333l10 10 3 13-10-10z"/>
<path fill="#7020a0" d="M900 521l11 6 5-7-11-5z"/>
<path fill="#7830e8" d="M561 508l10 1 5-11-9 0z"/>
<path fill="#787828" d="M744 324l11 2 4 8-11-3z"/>
<path fill="#807828" d="M736 312l10 14 5 5-11-11z"/>
<path fill="#8828d8" d="M548 513l10 2 6-9-10-1z"/>
<path fill="#886020" d="M710 295l10-6 5 15-10 4z"/>
<path fill="#a8c858" d="M653 345l11 2 5-3-11 1z"/>
<path fill="#e0f060" d="M667 345l10-5 5-8-11 5z"/>
<path fill="#ffe848" d="M684 326l10-15 5-5-10 14z"/>
<path fill="#203088" d="M846 478l10 12 4-4-10-12z"/>
<path fill="#203888" d="M837 466l10 14 5-4-10-13z"/>
<path fill="#204888" d="M833 449l10 17 5-4-10-17z"/>
<path fill="#205880" d="M825 434l10 18 4-4-9-19z"/>
<path fill="#282888" d="M854 488l10 11 5-5-10-11z"/>
<path fill="#287078" d="M821 413l9 19 5-3-9-19z"/>
<path fill="#387860" d="M808 389l11 11 4 1-11-10z"/>
<path fill="#407850" d="M800 381l10 10 4 2-10-11z"/>
<path fill="#4078ff" d="M592 474l9-4 5-21-10 6z"/>
<path fill="#40b8ff" d="M601 443l10-8 4-11-10 8z"/>
<path fill="#4858ff" d="M587 488l10-2 4-19-9 4z"/>
<path fill="#48c0ff" d="M605 434l11-9 4-9-11 9z"/>
<path fill="#5048ff" d="M582 499l10-1 5-15-10 2z"/>
<path fill="#58e0e8" d="M618 419l10-3 5-15-10 4z"/>
<path fill="#6838f8" d="M569 508l10 0 6-11-10 1z"/>
<path fill="#7020a0" d="M896 526l11 6 5-7-11-5z"/>
<path fill="#7830f0" d="M564 515l10 1 6-10-10 0z"/>
<path fill="#78e8a8" d="M619 398l9-9 5-25-9 11z"/>
<path fill="#8028e0" d="M556 515l10 1 6-10-10 0z"/>
<path fill="#807828" d="M752 327l11-5 5 11-11 2z"/>
<path fill="#8828d8" d="M551 521l10 2 6-9-10-1z"/>
<path fill="#886020" d="M719 289l10 8 5 13-11-6z"/>
<path fill="#886820" d="M728 297l10 18 4 7-11-14z"/>
<path fill="#9028d0" d="M543 519l10 3 6-9-10-2z"/>
<path fill="#90a840" d="M640 344l11-1 5 2-11 3z"/>
<path fill="#b0f878" d="M624 377l9-11 4-19-9 12z"/>
<path fill="#c8f868" d="M628 362l9-14 5-5-9 13z"/>
<path fill="#d8a038" d="M697 308l10-17 5 4-10 15z"/>
<path fill="#d8e860" d="M662 347l11-6 4-2-10 6z"/>
<path fill="#fff050" d="M680 335l10-15 4-9-10 15z"/>
<path fill="#203088" d="M842 480l10 12 5-3-11-12z"/>
<path fill="#204888" d="M829 452l10 16 5-3-10-16z"/>
<path fill="#282088" d="M858 500l11 11 4-4-10-11z"/>
<path fill="#282888" d="M850 490l10 12 5-4-10-11z"/>
<path fill="#301880" d="M867 509l10 11 5-5-10-10z"/>
<path fill="#307068" d="M812 401l10 15 5-4-10-15z"/>
<path fill="#4068ff" d="M595 486l10-1 5-19-10 1z"/>
<path fill="#4098ff" d="M596 457l10-6 4-18-9 8z"/>
<path fill="#481888" d="M875 518l11 9 5-6-11-8z"/>
<path fill="#5050ff" d="M590 498l10 0 5-16-9 1z"/>
<path fill="#507848" d="M791 367l10 16 5 1-10-16z"/>
<path fill="#50e0f8" d="M613 426l10-2 5-11-10 3z"/>
<path fill="#582098" d="M884 525l11 7 4-6-11-7z"/>
<path fill="#5840ff" d="M577 507l10 0 6-11-10 0z"/>
<path fill="#6820a0" d="M892 531l11 6 5-6-11-6z"/>
<path fill="#6838ff" d="M572 515l10 1 6-11-10 0z"/>
<path fill="#68e8b8" d="M623 408l9-4 5-21-9 3z"/>
<path fill="#707830" d="M779 331l10 21 4 8-10-18z"/>
<path fill="#8030e8" d="M559 523l10 1 6-10-10-1z"/>
<path fill="#807828" d="M771 322l10 10 4 13-11-10z"/>
<path fill="#887020" d="M731 312l10 15 5-1-10-14z"/>
<path fill="#887828" d="M761 322l11 0 4 13-10-1z"/>
<path fill="#9028d0" d="M546 528l10 3 6-10-10-2z"/>
<path fill="#90a040" d="M648 343l12 5 5-1-12-2z"/>
<path fill="#90e080" d="M627 389l9-3 5-24-9 2z"/>
<path fill="#b8a030" d="M739 325l12 2 4 1-11-3z"/>
<path fill="#d0d850" d="M657 347l11-6 5 0-11 6z"/>
<path fill="#e0f060" d="M635 349l11 1 5-7-11 0z"/>
<path fill="#ffb840" d="M693 314l10-17 4-6-9 18z"/>
<path fill="#fff050" d="M675 341l10-14 5-7-10 15z"/>
<path fill="#204088" d="M833 468l10 14 5-3-10-13z"/>
<path fill="#206080" d="M821 436l10 19 4-4-9-18z"/>
<path fill="#282888" d="M855 502l10 13 5-4-11-12z"/>
<path fill="#287078" d="M817 418l9 18 5-5-9-18z"/>
<path fill="#302080" d="M863 513l10 11 5-5-10-11z"/>
<path fill="#387858" d="M804 393l10 10 5-4-10-10z"/>
<path fill="#3888ff" d="M600 469l9-1 5-21-9 2z"/>
<path fill="#401880" d="M871 522l11 9 5-5-11-9z"/>
<path fill="#4070ff" d="M603 484l10 0 5-19-10 0z"/>
<path fill="#40b8ff" d="M604 451l10-1 5-18-10 1z"/>
<path fill="#4858ff" d="M599 497l9 0 6-16-10 1z"/>
<path fill="#487848" d="M795 384l11 11 5-4-11-11z"/>
<path fill="#48d0ff" d="M608 436l10-2 5-13-10 3z"/>
<path fill="#582098" d="M880 530l11 7 4-6-10-7z"/>
<path fill="#5840ff" d="M586 507l10 1 5-13-10 0z"/>
<path fill="#587840" d="M787 371l10 15 5-3-10-16z"/>
<path fill="#58e0e8" d="M621 423l10 1 6-12-11 1z"/>
<path fill="#60e8d0" d="M626 415l10-1 5-14-10 1z"/>
<path fill="#6820a0" d="M888 536l11 6 5-6-11-6z"/>
<path fill="#687830" d="M783 347l10 22 4 2-9-22z"/>
<path fill="#70e8a8" d="M631 404l9-2 5-19-9 0z"/>
<path fill="#7830f0" d="M568 523l10 2 5-11-10-1z"/>
<path fill="#8828d8" d="M554 530l10 2 6-10-10-1z"/>
<path fill="#886020" d="M723 295l10 20 5 0-10-18z"/>
<path fill="#98d870" d="M635 386l10 0 5-21-10-3z"/>
<path fill="#c07028" d="M705 292l11-7 5 5-10 7z"/>
<path fill="#c8d050" d="M644 349l10 5 6-7-11-5z"/>
<path fill="#d0f068" d="M631 366l10-1 5-18-10 0z"/>
<path fill="#e8d848" d="M670 343l10-16 6 0-10 14z"/>
<path fill="#ffc040" d="M688 323l11-16 4-10-10 17z"/>
<path fill="#202888" d="M846 492l10 13 5-4-10-12z"/>
<path fill="#203888" d="M838 482l10 13 5-3-11-13z"/>
<path fill="#205088" d="M825 453l10 17 5-2-10-16z"/>
<path fill="#287078" d="M813 421l9 18 5-3-10-18z"/>
<path fill="#307060" d="M808 407l10 14 5-6-10-15z"/>
<path fill="#381880" d="M867 527l11 9 5-6-11-9z"/>
<path fill="#3890f8" d="M608 468l9 0 5-20-9-1z"/>
<path fill="#407850" d="M799 398l11 11 5-7-10-10z"/>
<path fill="#40b8f8" d="M612 450l10 0 5-18-10-1z"/>
<path fill="#487848" d="M791 389l10 11 6-6-11-11z"/>
<path fill="#5048ff" d="M594 507l10 1 5-13-10 0z"/>
<path fill="#50e0f8" d="M617 434l10 1 5-14-10 0z"/>
<path fill="#582098" d="M876 535l11 7 4-6-10-7z"/>
<path fill="#5840ff" d="M589 516l10 2 6-12-10-1z"/>
<path fill="#6038ff" d="M581 515l10 2 5-12-10 0z"/>
<path fill="#68e8b8" d="M634 414l10-4 5-15-10 5z"/>
<path fill="#7020a0" d="M897 541l11 5 5-6-11-6z"/>
<path fill="#7038f8" d="M576 524l10 2 6-11-11-2z"/>
<path fill="#707830" d="M779 352l9 21 5-4-9-22z"/>
<path fill="#8028e0" d="M563 531l10 3 5-11-10-2z"/>
<path fill="#807828" d="M775 328l9 22 5 2-9-21z"/>
<path fill="#885018" d="M714 285l11 12 4 2-10-10z"/>
<path fill="#886820" d="M726 320l11 13 5-7-10-14z"/>
<path fill="#88f098" d="M639 402l10-4 5-19-10 4z"/>
<path fill="#9028d0" d="M549 537l11 3 5-10-10-2z"/>
<path fill="#c0d858" d="M639 365l10 3 6-17-10-4z"/>
<path fill="#d0b038" d="M748 327l11-7 5 3-11 5z"/>
<path fill="#f0f058" d="M652 353l11-5 5-6-11 4z"/>
<path fill="#ffc840" d="M684 329l10-16 4-6-10 16z"/>
<path fill="#ffe048" d="M735 332l11 1 5-7-11-2z"/>
<path fill="#203088" d="M842 496l10 12 5-4-10-12z"/>
<path fill="#204088" d="M829 470l10 14 5-2-10-15z"/>
<path fill="#206880" d="M817 436l10 20 4-2-9-18z"/>
<path fill="#282888" d="M850 506l11 13 5-5-11-12z"/>
<path fill="#302088" d="M859 517l10 11 5-5-10-11z"/>
<path fill="#307860" d="M804 409l10 15 5-4-10-14z"/>
<path fill="#4060ff" d="M607 497l10-1 5-17-10 2z"/>
<path fill="#4080ff" d="M612 484l9-2 5-20-9 3z"/>
<path fill="#40a8ff" d="M616 468l10-3 5-21-10 3z"/>
<path fill="#4850ff" d="M602 508l10-1 5-14-9 1z"/>
<path fill="#48d0ff" d="M621 450l9-3 5-18-9 3z"/>
<path fill="#587840" d="M782 376l11 15 5-6-10-15z"/>
<path fill="#58e0e8" d="M625 435l10-4 5-14-10 4z"/>
<path fill="#60e8d0" d="M630 423l10-3 5-12-10 3z"/>
<path fill="#6820a0" d="M885 541l10 6 5-6-11-6z"/>
<path fill="#6838ff" d="M584 526l10 2 6-12-10-2z"/>
<path fill="#7020a0" d="M893 546l11 6 5-7-11-6z"/>
<path fill="#8030e8" d="M571 533l10 3 6-12-10-2z"/>
<path fill="#8828d0" d="M558 539l10 3 6-10-11-3z"/>
<path fill="#885820" d="M718 303l10 19 6-8-10-20z"/>
<path fill="#886020" d="M713 316l11 16 5-11-10-18z"/>
<path fill="#886820" d="M766 318l11 13 4 3-10-12z"/>
<path fill="#887828" d="M722 331l10 10 6-9-10-13z"/>
<path fill="#a88028" d="M757 321l11-3 5 5-12 1z"/>
<path fill="#c0f870" d="M644 386l9-5 5-21-9 5z"/>
<path fill="#e0c040" d="M666 344l9-21 6 4-10 16z"/>
<path fill="#e0f060" d="M648 367l10-4 5-17-10 5z"/>
<path fill="#ff9838" d="M701 299l11-5 4-9-11 7z"/>
<path fill="#ffd048" d="M744 332l11-7 5-5-12 7z"/>
<path fill="#ffe048" d="M731 340l11-1 4-8-10-1z"/>
<path fill="#203888" d="M833 486l11 12 5-4-11-12z"/>
<path fill="#204888" d="M825 474l10 14 5-4-10-15z"/>
<path fill="#205080" d="M821 454l10 18 5-2-10-17z"/>
<path fill="#282888" d="M846 512l11 12 5-6-11-12z"/>
<path fill="#302088" d="M855 523l10 11 5-7-10-11z"/>
<path fill="#307070" d="M809 420l9 19 5 0-10-18z"/>
<path fill="#381888" d="M863 532l11 10 5-7-11-10z"/>
<path fill="#4058ff" d="M611 507l10-2 5-15-10 3z"/>
<path fill="#4070ff" d="M615 496l10-3 5-18-10 4z"/>
<path fill="#407850" d="M795 401l11 11 5-4-11-11z"/>
<path fill="#487848" d="M787 392l10 11 5-4-10-11z"/>
<path fill="#5048ff" d="M597 518l10 0 6-13-10 0z"/>
<path fill="#582098" d="M872 540l11 8 5-7-11-8z"/>
<path fill="#587838" d="M778 380l10 14 6-4-11-14z"/>
<path fill="#6038ff" d="M593 527l10 2 5-13-10-1z"/>
<path fill="#6820a0" d="M881 546l10 7 5-7-11-6z"/>
<path fill="#707830" d="M774 359l10 20 5-6-9-21z"/>
<path fill="#7830f0" d="M579 535l10 2 6-11-10-3z"/>
<path fill="#8828d8" d="M566 541l10 3 6-11-10-2z"/>
<path fill="#884818" d="M709 293l11 13 5-10-10-11z"/>
<path fill="#886820" d="M709 321l10 17 6-6-11-17z"/>
<path fill="#887028" d="M770 334l10 21 5-5-9-22z"/>
<path fill="#887828" d="M717 336l11 10 5-6-10-10z"/>
<path fill="#88f098" d="M643 410l10-9 4-15-10 10z"/>
<path fill="#9020c8" d="M553 545l10 4 6-9-10-3z"/>
<path fill="#905820" d="M705 305l10 13 6-14-11-12z"/>
<path fill="#b8f878" d="M648 398l9-9 5-23-10 13z"/>
<path fill="#e0a038" d="M679 329l10-19 5 4-10 15z"/>
<path fill="#ffa038" d="M697 309l10-2 5-15-11 5z"/>
<path fill="#ffe848" d="M726 345l12-2 4-6-11 2z"/>
<path fill="#203088" d="M838 502l10 12 5-6-10-12z"/>
<path fill="#203888" d="M829 492l11 12 5-7-11-12z"/>
<path fill="#205880" d="M817 457l10 19 5-4-10-18z"/>
<path fill="#287080" d="M813 435l10 21 4-1-9-19z"/>
<path fill="#302088" d="M851 529l10 11 5-7-10-12z"/>
<path fill="#387858" d="M800 408l10 14 5 1-10-14z"/>
<path fill="#402088" d="M859 538l11 9 5-7-11-9z"/>
<path fill="#4098ff" d="M620 482l10-4 4-23-9 7z"/>
<path fill="#487848" d="M791 400l11 10 4 1-10-11z"/>
<path fill="#48c8ff" d="M625 465l9-7 5-23-10 9z"/>
<path fill="#5050ff" d="M606 518l10-2 5-13-10 2z"/>
<path fill="#5820a0" d="M868 546l11 7 5-7-11-7z"/>
<path fill="#5840ff" d="M601 528l10 0 5-14-10 1z"/>
<path fill="#6820a8" d="M877 552l10 7 5-8-11-6z"/>
<path fill="#68e8c0" d="M634 431l10-12 4-12-10 11z"/>
<path fill="#7020a8" d="M889 552l11 5 5-7-11-5z"/>
<path fill="#7030f8" d="M588 537l10 2 5-13-10-1z"/>
<path fill="#707830" d="M770 363l10 19 5-4-10-19z"/>
<path fill="#70f0b0" d="M638 420l11-12 4-9-11 10z"/>
<path fill="#8828e0" d="M574 543l11 3 5-11-10-2z"/>
<path fill="#885820" d="M700 311l11 12 5-6-10-13z"/>
<path fill="#886020" d="M761 324l11 12 5-6-10-12z"/>
<path fill="#887028" d="M713 332l11 14 5-1-11-10z"/>
<path fill="#887828" d="M766 342l10 20 5-8-10-21z"/>
<path fill="#9028d0" d="M561 548l10 3 6-9-10-3z"/>
<path fill="#e0f060" d="M652 381l10-12 4-26-10 17z"/>
<path fill="#f8c840" d="M661 349l10-22 5-3-10 20z"/>
<path fill="#ffb038" d="M692 316l11-3 4-9-11 3z"/>
<path fill="#ffc040" d="M753 326l11-1 5-6-12 1z"/>
<path fill="#ffd048" d="M740 339l11-7 4-8-11 7z"/>
<path fill="#203088" d="M833 510l11 11 5-8-10-12z"/>
<path fill="#203888" d="M825 500l10 12 6-9-11-12z"/>
<path fill="#204888" d="M821 480l10 14 5-7-10-14z"/>
<path fill="#282888" d="M842 520l10 11 6-8-11-12z"/>
<path fill="#302088" d="M846 536l11 10 5-7-10-11z"/>
<path fill="#307860" d="M805 418l9 20 5 0-10-18z"/>
<path fill="#402090" d="M855 545l11 8 5-7-11-9z"/>
<path fill="#4070ff" d="M619 505l10-3 5-16-10 4z"/>
<path fill="#4088ff" d="M624 493l9-4 5-20-9 6z"/>
<path fill="#40b0ff" d="M629 478l9-6 5-26-10 9z"/>
<path fill="#4858ff" d="M614 516l10-3 5-14-10 3z"/>
<path fill="#507840" d="M783 392l10 10 5 0-11-11z"/>
<path fill="#5820a0" d="M864 552l11 7 5-7-11-7z"/>
<path fill="#58e0e0" d="M629 447l10-10 4-19-9 11z"/>
<path fill="#607838" d="M774 380l10 15 5-1-10-15z"/>
<path fill="#6838ff" d="M596 538l10 1 6-14-10 1z"/>
<path fill="#7020a8" d="M885 557l11 6 5-7-11-6z"/>
<path fill="#7830f0" d="M591 547l11 2 5-12-10-1z"/>
<path fill="#8030e8" d="M583 545l10 3 6-11-10-2z"/>
<path fill="#8828d0" d="M569 550l11 4 6-10-11-3z"/>
<path fill="#8828d8" d="M578 553l10 3 6-10-10-3z"/>
<path fill="#886020" d="M705 314l10 21 5 3-10-18z"/>
<path fill="#886820" d="M757 331l10 13 6-9-11-12z"/>
<path fill="#887828" d="M762 345l9 21 5-4-9-21z"/>
<path fill="#b06820" d="M687 312l10-8 6 8-11 4z"/>
<path fill="#c88028" d="M674 326l10-26 5 10-9 20z"/>
<path fill="#e0c040" d="M721 345l12-2 5-1-12 3z"/>
<path fill="#ffc040" d="M748 332l11 1 5-9-11 0z"/>
<path fill="#ffd048" d="M735 343l11-8 5-4-12 8z"/>
<path fill="#ffe848" d="M657 363l10-20 4-16-10 22z"/>
<path fill="#202888" d="M829 517l11 11 5-8-10-11z"/>
<path fill="#203888" d="M821 507l10 12 5-9-10-11z"/>
<path fill="#204888" d="M816 488l11 14 5-9-10-14z"/>
<path fill="#205880" d="M813 464l9 18 6-7-10-18z"/>
<path fill="#282888" d="M838 527l10 11 5-8-10-12z"/>
<path fill="#287078" d="M809 438l9 22 5-4-9-21z"/>
<path fill="#302088" d="M842 542l11 10 5-7-11-10z"/>
<path fill="#4068ff" d="M623 513l10-2 5-14-10 2z"/>
<path fill="#4080ff" d="M627 501l10-2 5-15-10 2z"/>
<path fill="#40a0ff" d="M632 489l10-3 5-20-10 3z"/>
<path fill="#482090" d="M851 550l11 9 5-7-11-9z"/>
<path fill="#487850" d="M796 406l10 14 5 2-10-14z"/>
<path fill="#5050ff" d="M610 527l9-1 6-15-10 2z"/>
<path fill="#5840ff" d="M605 539l10 0 5-16-10 2z"/>
<path fill="#587840" d="M787 399l11 9 4 2-10-10z"/>
<path fill="#58e0e0" d="M633 458l9-9 5-27-9 13z"/>
<path fill="#607838" d="M778 392l11 9 5 1-11-10z"/>
<path fill="#6820a8" d="M872 558l11 6 5-7-11-6z"/>
<path fill="#7020a8" d="M881 563l11 6 5-8-11-5z"/>
<path fill="#7038f8" d="M600 549l10 1 5-14-10 0z"/>
<path fill="#707830" d="M766 362l10 20 4 0-9-19z"/>
<path fill="#8828e0" d="M586 555l11 3 5-11-10-2z"/>
<path fill="#885018" d="M696 304l11 13 4 6-11-12z"/>
<path fill="#886820" d="M753 334l10 14 5-5-10-13z"/>
<path fill="#9028c8" d="M573 560l10 3 6-9-10-3z"/>
<path fill="#a8f880" d="M647 409l9-15 5-6-10 13z"/>
<path fill="#c0f870" d="M651 401l11-11 4-14-11 11z"/>
<path fill="#e0f058" d="M656 389l10-11 4-28-10 16z"/>
<path fill="#f0b840" d="M730 344l11-9 5 0-11 8z"/>
<path fill="#ffc040" d="M744 336l11 0 5-5-12 0z"/>
<path fill="#203088" d="M816 514l11 11 5-7-10-12z"/>
<path fill="#204088" d="M812 496l10 13 6-8-11-14zM808 503l10 13 5-8-10-13z"/>
<path fill="#205088" d="M803 483l11 15 5-9-10-16z"/>
<path fill="#205880" d="M808 474l10 16 5-9-9-18z"/>
<path fill="#282088" d="M834 533l10 11 5-7-10-12z"/>
<path fill="#282888" d="M825 524l10 11 6-8-11-11z"/>
<path fill="#287078" d="M804 446l10 20 5-7-9-22z"/>
<path fill="#387858" d="M801 420l9 20 5-3-10-20z"/>
<path fill="#4078ff" d="M631 511l10 1 5-14-10-1z"/>
<path fill="#4088ff" d="M636 499l10 1 5-16-10-1z"/>
<path fill="#40a0f0" d="M641 486l9 1 5-21-9-1z"/>
<path fill="#4858ff" d="M618 526l10-1 5-16-10 1z"/>
<path fill="#48c8e8" d="M637 472l9-4 5-27-9 5z"/>
<path fill="#5048ff" d="M613 538l10 1 5-17-10 1z"/>
<path fill="#5820a0" d="M860 558l10 7 5-7-10-7z"/>
<path fill="#6038ff" d="M608 550l10 1 6-15-10 0z"/>
<path fill="#6820a8" d="M868 564l11 6 5-7-11-7z"/>
<path fill="#687830" d="M770 379l10 15 5 0-10-14z"/>
<path fill="#7020a8" d="M877 569l11 5 5-7-11-5z"/>
<path fill="#78f0a8" d="M638 437l9-13 4-21-9 15z"/>
<path fill="#8030e8" d="M595 557l10 3 6-12-10-2z"/>
<path fill="#886020" d="M709 325l10 19 5 2-10-14z"/>
<path fill="#887028" d="M757 343l10 22 5 1-10-21z"/>
<path fill="#9028d0" d="M581 562l11 3 6-9-11-3z"/>
<path fill="#a0f088" d="M642 420l10-17 4-9-10 15z"/>
<path fill="#c09830" d="M717 343l12 1 4-1-11 2z"/>
<path fill="#e0f060" d="M660 391l10-6 5-15-11 6z"/>
<path fill="#e88030" d="M670 329l9-29 5 1-9 25z"/>
<path fill="#ffd040" d="M661 369l9-16 4-33-9 23z"/>
<path fill="#205088" d="M799 490l10 15 6-8-10-15z"/>
<path fill="#282088" d="M829 539l11 10 5-6-10-11z"/>
<path fill="#282888" d="M821 530l10 10 5-6-10-11z"/>
<path fill="#286880" d="M795 468l10 17 6-10-10-19z"/>
<path fill="#287080" d="M800 457l10 19 5-10-10-21z"/>
<path fill="#302088" d="M838 548l11 10 5-7-11-10z"/>
<path fill="#3870ff" d="M639 512l11 4 5-16-10-3z"/>
<path fill="#3888ff" d="M644 499l10 4 6-17-10-2z"/>
<path fill="#38a0e0" d="M649 486l10 3 5-20-10-3z"/>
<path fill="#4060ff" d="M626 524l10 2 6-16-10-1z"/>
<path fill="#482090" d="M847 556l10 9 6-7-11-9z"/>
<path fill="#48b8c8" d="M645 468l10 1 5-27-10-1z"/>
<path fill="#5048ff" d="M622 538l10 2 5-16-10-2z"/>
<path fill="#507840" d="M792 408l10 14 5-2-10-15z"/>
<path fill="#5820a0" d="M855 564l11 7 5-7-11-8z"/>
<path fill="#5840ff" d="M617 551l10 2 5-15-10-2z"/>
<path fill="#6820a8" d="M864 570l11 6 5-7-11-7z"/>
<path fill="#688040" d="M783 402l11 8 4-3-10-8z"/>
<path fill="#708838" d="M774 396l11 8 5-4-11-8z"/>
<path fill="#7830f0" d="M603 559l11 2 5-12-10-2z"/>
<path fill="#807828" d="M762 359l9 23 5 0-10-20z"/>
<path fill="#8828d8" d="M590 565l10 3 6-10-10-3z"/>
<path fill="#884018" d="M682 302l10-12 6 16-10 7z"/>
<path fill="#885018" d="M700 302l10 26 5 7-10-21z"/>
<path fill="#886020" d="M748 333l11 13 5 2-11-14z"/>
<path fill="#d09030" d="M739 336l12-3 4 2-11 1z"/>
<path fill="#d8f860" d="M655 396l10-10 5-4-11 8z"/>
<path fill="#e8a838" d="M726 344l11-10 5 1-11 10z"/>
<path fill="#f0d848" d="M665 378l9-6 5-30-10 8z"/>
<path fill="#ffa038" d="M665 346l10-26 4-20-9 29z"/>
<path fill="#203088" d="M812 521l10 10 6-7-11-11z"/>
<path fill="#203888" d="M803 510l11 12 5-7-10-13z"/>
<path fill="#206080" d="M791 475l10 17 5-8-10-17z"/>
<path fill="#282088" d="M825 545l11 11 5-8-11-11z"/>
<path fill="#302088" d="M834 554l10 10 6-7-11-10z"/>
<path fill="#307860" d="M791 442l10 17 6-12-10-19z"/>
<path fill="#3858f8" d="M635 526l10 3 5-16-10-3z"/>
<path fill="#3858ff" d="M643 529l11 3 5-16-10-3z"/>
<path fill="#3870ff" d="M648 515l10 3 6-15-10-3z"/>
<path fill="#387858" d="M796 429l10 19 5-8-10-21z"/>
<path fill="#3888ff" d="M653 502l10 3 5-16-10-3z"/>
<path fill="#38a0e8" d="M658 489l10 2 5-19-10-3z"/>
<path fill="#40a8b0" d="M654 468l9 4 6-24-10-6z"/>
<path fill="#482098" d="M842 562l11 9 5-7-10-9z"/>
<path fill="#4848f8" d="M630 540l10 3 6-16-10-4z"/>
<path fill="#5838ff" d="M625 553l11 3 5-15-10-4z"/>
<path fill="#6020a0" d="M851 570l11 7 5-8-11-7z"/>
<path fill="#60d8a8" d="M641 449l10-5 4-30-9 8z"/>
<path fill="#7020a8" d="M873 575l11 5 5-7-11-6z"/>
<path fill="#7030f0" d="M612 561l10 3 6-13-10-3z"/>
<path fill="#707830" d="M765 383l11 15 5-4-10-15z"/>
<path fill="#803818" d="M691 290l11 13 4 14-10-11z"/>
<path fill="#8828e0" d="M598 567l11 3 6-11-11-2z"/>
<path fill="#885820" d="M704 326l10 21 5-3-10-19z"/>
<path fill="#9028d0" d="M585 571l10 4 6-9-10-3z"/>
<path fill="#989838" d="M690 383l10 8 6-17-10-12z"/>
<path fill="#98a040" d="M676 386l11 9 6-13-11-10z"/>
<path fill="#a0b848" d="M685 394l11 7 5-12-10-8z"/>
<path fill="#e0e858" d="M668 384l10 3 6-14-11-4z"/>
<path fill="#f0b840" d="M712 346l12 3 5-6-12-1z"/>
<path fill="#203090" d="M807 528l11 10 6-8-11-10z"/>
<path fill="#204888" d="M795 497l10 15 5-8-10-15z"/>
<path fill="#282890" d="M816 537l11 10 5-8-10-10z"/>
<path fill="#307070" d="M786 454l11 16 5-12-10-17z"/>
<path fill="#4098ff" d="M662 505l10 1 5-17-10-1z"/>
<path fill="#40b0c0" d="M662 471l10 3 5-22-9-5z"/>
<path fill="#4848ff" d="M639 543l10 3 5-16-10-4z"/>
<path fill="#507840" d="M787 418l10 13 6-10-10-14z"/>
<path fill="#5840ff" d="M634 555l10 3 6-15-10-3z"/>
<path fill="#6820a8" d="M860 576l11 6 5-8-11-6z"/>
<path fill="#7030f8" d="M621 563l10 3 6-13-11-3z"/>
<path fill="#707830" d="M761 393l10 14 6-10-11-15z"/>
<path fill="#7820a8" d="M869 581l11 5 5-7-11-6z"/>
<path fill="#8028e0" d="M607 569l10 3 6-11-10-2z"/>
<path fill="#807828" d="M757 362l10 23 5-4-10-22z"/>
<path fill="#8828d0" d="M593 574l11 3 6-9-11-3z"/>
<path fill="#886020" d="M699 341l10 18 6-13-10-20z"/>
<path fill="#886820" d="M753 339l10 23 4 3-9-22z"/>
<path fill="#887020" d="M694 364l11 12 6-19-11-17z"/>
<path fill="#90b858" d="M778 412l11 7 5-11-10-7z"/>
<path fill="#988828" d="M681 375l10 9 6-21-10-15z"/>
<path fill="#98b850" d="M769 405l11 8 5-11-10-7z"/>
<path fill="#b0f878" d="M646 425l9-8 5-23-10 9z"/>
<path fill="#c0a038" d="M673 372l10 3 5-27-10-6z"/>
<path fill="#c8d850" d="M663 387l11 4 5-6-11-3z"/>
<path fill="#d0f868" d="M650 405l11-9 4-10-11 9z"/>
<path fill="#d8f868" d="M694 400l11 2 5-12-11-2z"/>
<path fill="#e0e058" d="M699 390l10 2 5-17-10-2z"/>
<path fill="#f0d048" d="M704 375l10 3 5-20-10-2z"/>
<path fill="#ffc840" d="M708 358l10 3 6-14-11-3z"/>
<path fill="#203888" d="M799 518l10 12 6-9-11-12z"/>
<path fill="#206080" d="M786 481l10 18 6-7-10-17z"/>
<path fill="#287078" d="M782 462l10 16 6-9-10-16z"/>
<path fill="#302898" d="M821 553l10 10 6-9-11-10z"/>
<path fill="#382090" d="M829 561l11 10 5-8-10-10z"/>
<path fill="#387860" d="M778 444l10 12 6-13-11-13z"/>
<path fill="#4068ff" d="M652 532l10 1 6-16-10-2z"/>
<path fill="#4080ff" d="M657 518l10 1 5-16-10-1z"/>
<path fill="#40b0f8" d="M666 491l10 1 6-20-10 0z"/>
<path fill="#4850ff" d="M648 545l10 2 5-16-10-2z"/>
<path fill="#487850" d="M782 432l11 12 5-15-10-13z"/>
<path fill="#48c8d8" d="M671 474l10 1 5-23-10 0z"/>
<path fill="#502098" d="M838 569l11 9 5-8-11-9z"/>
<path fill="#50a070" d="M658 444l10 6 5-25-10-9z"/>
<path fill="#58a870" d="M769 437l10 8 6-14-10-8z"/>
<path fill="#6020a8" d="M847 576l11 7 5-8-11-7z"/>
<path fill="#687838" d="M756 407l10 12 6-14-10-13z"/>
<path fill="#68b068" d="M760 430l11 8 5-14-10-8z"/>
<path fill="#68c080" d="M650 443l9 2 5-29-9-2z"/>
<path fill="#7038f8" d="M629 565l11 3 5-12-10-3z"/>
<path fill="#707830" d="M671 390l11 11 6-7-11-10z"/>
<path fill="#78b060" d="M774 425l10 8 6-16-11-7z"/>
<path fill="#8030e8" d="M616 571l10 4 6-11-11-3z"/>
<path fill="#80b858" d="M765 418l10 8 6-15-11-7z"/>
<path fill="#8828d0" d="M602 576l11 4 5-10-10-3z"/>
<path fill="#88a848" d="M680 400l11 8 6-9-11-7z"/>
<path fill="#c88028" d="M735 335l11-5 5 4-12 3z"/>
<path fill="#f09030" d="M669 353l9-8 5-37-9 12z"/>
<path fill="#f8f058" d="M708 392l10-2 5-19-10 4z"/>
<path fill="#ffb840" d="M722 349l11-11 4-4-11 11z"/>
<path fill="#203890" d="M794 528l11 11 5-11-10-11z"/>
<path fill="#204888" d="M790 505l11 15 5-9-10-15z"/>
<path fill="#2838a0" d="M803 537l11 10 5-10-10-10z"/>
<path fill="#3030a0" d="M812 545l10 10 6-10-11-10z"/>
<path fill="#307068" d="M773 452l11 12 5-9-10-13z"/>
<path fill="#4088ff" d="M666 519l10-1 5-15-10 0z"/>
<path fill="#40a0ff" d="M670 505l10 0 6-16-10 0z"/>
<path fill="#48a078" d="M764 445l11 9 6-10-11-9z"/>
<path fill="#48c0f8" d="M675 491l10 0 5-20-10 1z"/>
<path fill="#50b088" d="M667 450l10 5 5-23-10-7z"/>
<path fill="#5840ff" d="M643 557l10 3 5-15-10-2z"/>
<path fill="#58a870" d="M755 438l11 8 6-10-11-8z"/>
<path fill="#608840" d="M751 419l11 12 6-14-11-12z"/>
<path fill="#6838f8" d="M638 568l10 3 6-13-11-3z"/>
<path fill="#7020a8" d="M856 582l11 6 5-8-11-6z"/>
<path fill="#708030" d="M667 398l10 13 6-11-10-11z"/>
<path fill="#70a860" d="M671 427l10 8 6-19-10-8z"/>
<path fill="#8030e8" d="M624 574l11 3 5-11-10-3z"/>
<path fill="#804018" d="M695 300l10 29 5-1-9-26z"/>
<path fill="#807828" d="M752 374l10 21 6-11-10-22z"/>
<path fill="#80a848" d="M676 409l10 10 6-12-11-9z"/>
<path fill="#885820" d="M744 330l11 12 4 4-10-13zM686 351l10 14 6-24-11-23z"/>
<path fill="#a8d058" d="M654 416l10 3 5-22-10-3z"/>
<path fill="#c8f868" d="M689 408l11 0 5-8-10-2z"/>
<path fill="#d84820" d="M677 303l11-16 5 4-10 12z"/>
<path fill="#d8e858" d="M658 396l11 4 5-10-10-4z"/>
<path fill="#e0f060" d="M703 401l11-2 5-11-11 2z"/>
<path fill="#ffc040" d="M717 361l11-7 4-16-10 9z"/>
<path fill="#ffe048" d="M713 377l10-3 5-23-11 7z"/>
<path fill="#204088" d="M786 515l10 14 6-10-11-15z"/>
<path fill="#205880" d="M782 489l10 18 5-9-10-17z"/>
<path fill="#2838a0" d="M790 539l10 10 6-12-11-11z"/>
<path fill="#287078" d="M778 467l10 17 5-7-10-16z"/>
<path fill="#3038b0" d="M799 547l10 9 6-11-11-9z"/>
<path fill="#3828a8" d="M816 562l11 9 5-9-10-10z"/>
<path fill="#3830b0" d="M807 555l11 9 6-11-11-9z"/>
<path fill="#4020a0" d="M825 570l11 8 5-9-11-9z"/>
<path fill="#4070ff" d="M661 533l10 0 5-17-10 0z"/>
<path fill="#4858ff" d="M656 547l10 1 6-18-10 0z"/>
<path fill="#508048" d="M747 428l10 11 6-10-11-11z"/>
<path fill="#50d0d0" d="M680 475l10-1 5-25-10 3z"/>
<path fill="#5820a0" d="M834 577l11 7 5-8-11-8z"/>
<path fill="#5848ff" d="M651 559l11 2 5-16-10-1z"/>
<path fill="#607838" d="M738 415l10 15 6-10-10-15z"/>
<path fill="#60d8a0" d="M676 455l10 0 5-23-10 0z"/>
<path fill="#6820a8" d="M843 583l11 7 5-8-11-7z"/>
<path fill="#687830" d="M742 407l11 14 6-14-11-17z"/>
<path fill="#709848" d="M662 418l11 10 5-20-10-11z"/>
<path fill="#7820a8" d="M865 587l11 5 5-7-11-6z"/>
<path fill="#7830e8" d="M633 577l10 3 6-11-10-3z"/>
<path fill="#787830" d="M747 392l11 16 5-15-10-20z"/>
<path fill="#8820c8" d="M597 583l11 4 5-9-10-4z"/>
<path fill="#8828d8" d="M611 579l10 4 6-10-11-4z"/>
<path fill="#884818" d="M690 319l11 24 5-15-10-28z"/>
<path fill="#886020" d="M748 342l10 23 5-3-9-23z"/>
<path fill="#a0f088" d="M680 434l10 0 6-18-11 0z"/>
<path fill="#b06020" d="M677 345l10 6 5-33-10-10z"/>
<path fill="#c0f870" d="M685 418l10 0 6-12-11 0z"/>
<path fill="#f8e850" d="M717 390l10 0 5-20-10 1z"/>
<path fill="#203888" d="M781 528l10 12 6-12-10-14z"/>
<path fill="#205080" d="M777 501l10 16 6-11-10-17z"/>
<path fill="#3038a8" d="M785 550l11 9 5-12-10-10z"/>
<path fill="#307068" d="M769 458l10 12 6-7-11-12z"/>
<path fill="#3830b8" d="M794 558l11 8 5-11-10-9z"/>
<path fill="#4028b0" d="M812 571l11 8 5-9-11-9z"/>
<path fill="#4030b8" d="M803 565l11 8 5-11-11-9z"/>
<path fill="#4058ff" d="M665 547l10 2 5-18-10-1z"/>
<path fill="#4078ff" d="M670 532l10 2 5-18-10 0z"/>
<path fill="#4090ff" d="M674 518l11 1 5-16-10-1z"/>
<path fill="#40a8ff" d="M679 505l10 1 6-16-11-2z"/>
<path fill="#487850" d="M742 435l11 12 5-9-10-11z"/>
<path fill="#489878" d="M760 452l11 8 5-8-11-8z"/>
<path fill="#48c0e8" d="M684 491l10 1 5-20-10-1z"/>
<path fill="#5020a8" d="M821 578l10 8 6-9-11-9z"/>
<path fill="#5048ff" d="M660 561l10 2 6-16-10-2z"/>
<path fill="#50a078" d="M751 446l11 7 5-8-11-8z"/>
<path fill="#6838ff" d="M647 570l10 3 6-14-11-2z"/>
<path fill="#7020b0" d="M852 588l11 6 5-8-11-6z"/>
<path fill="#707830" d="M729 403l11 14 5-10-10-13z"/>
<path fill="#787830" d="M734 396l10 12 6-16-10-16z"/>
<path fill="#802810" d="M686 288l11 14 5 2-11-14z"/>
<path fill="#8820c8" d="M606 586l10 4 6-9-10-4z"/>
<path fill="#8828d8" d="M619 582l11 3 6-10-11-3z"/>
<path fill="#c0b038" d="M725 390l10 7 6-20-10-8z"/>
<path fill="#d8f060" d="M698 408l12-5 4-6-11 3z"/>
<path fill="#f0f058" d="M712 399l10 0 6-11-11 0z"/>
<path fill="#f8c040" d="M721 374l10-2 6-24-11 3z"/>
<path fill="#ff6828" d="M673 323l10-12 5-24-10 13z"/>
<path fill="#ff9838" d="M730 340l12-7 4-3-11 5z"/>
<path fill="#203898" d="M776 540l11 11 6-13-11-12z"/>
<path fill="#204088" d="M768 530l10 12 6-14-10-14z"/>
<path fill="#204888" d="M772 516l11 13 6-13-11-16z"/>
<path fill="#2830a0" d="M772 551l10 10 6-12-10-10z"/>
<path fill="#287078" d="M773 475l10 16 6-8-10-16z"/>
<path fill="#3078b0" d="M710 502l10 8 6-17-10-9z"/>
<path fill="#3078c8" d="M696 509l11 7 6-15-11-8z"/>
<path fill="#3830b8" d="M781 560l10 8 6-11-11-9z"/>
<path fill="#3888f0" d="M683 518l10 4 6-15-11-4z"/>
<path fill="#3898e8" d="M688 505l10 5 6-16-11-5z"/>
<path fill="#4030c0" d="M789 567l11 8 6-11-11-8z"/>
<path fill="#40b0d0" d="M692 492l11 4 5-20-10-5z"/>
<path fill="#50b888" d="M746 455l11 7 6-10-11-8z"/>
<path fill="#587840" d="M733 420l11 17 5-8-10-15z"/>
<path fill="#58c8b0" d="M689 474l9 0 6-26-10 1z"/>
<path fill="#6020a8" d="M830 584l10 7 6-8-11-8z"/>
<path fill="#6038ff" d="M655 572l11 3 5-14-10-3z"/>
<path fill="#7020b0" d="M838 590l12 6 5-8-11-6z"/>
<path fill="#7830f0" d="M642 579l10 3 6-11-11-3z"/>
<path fill="#78e098" d="M685 455l9-3 5-26-9 5z"/>
<path fill="#8828c8" d="M614 589l11 4 6-9-11-4z"/>
<path fill="#8828e0" d="M628 585l11 3 5-10-10-3z"/>
<path fill="#885018" d="M739 333l11 11 5-3-10-12z"/>
<path fill="#886020" d="M743 357l11 19 5-12-10-22z"/>
<path fill="#887028" d="M738 378l11 15 6-18-11-19z"/>
<path fill="#903018" d="M681 311l11 10 5-21-10-13z"/>
<path fill="#b0b840" d="M720 398l11 7 6-10-11-8z"/>
<path fill="#b88830" d="M730 372l10 7 6-23-10-9z"/>
<path fill="#d0f868" d="M694 418l11-6 4-11-11 5z"/>
<path fill="#ffa838" d="M726 354l10-4 5-17-10 4z"/>
<path fill="#205098" d="M759 521l10 10 6-16-10-12z"/>
<path fill="#205880" d="M764 505l10 12 6-16-11-14z"/>
<path fill="#283898" d="M763 542l11 11 5-13-10-11z"/>
<path fill="#286880" d="M768 488l11 15 6-13-11-16z"/>
<path fill="#2868c0" d="M705 515l11 8 5-15-10-8z"/>
<path fill="#3060c0" d="M700 528l11 8 6-15-11-8z"/>
<path fill="#3068c8" d="M692 522l10 7 6-15-11-7z"/>
<path fill="#3068d0" d="M714 523l11 7 5-15-10-8z"/>
<path fill="#307068" d="M764 466l11 11 5-9-10-11z"/>
<path fill="#3078c0" d="M719 510l10 7 6-17-11-8z"/>
<path fill="#3078d8" d="M728 516l10 6 6-16-11-6z"/>
<path fill="#308890" d="M715 486l10 9 6-20-11-11z"/>
<path fill="#3088b0" d="M724 495l10 7 6-18-11-9z"/>
<path fill="#3090b0" d="M701 496l10 7 6-19-10-8z"/>
<path fill="#3850f0" d="M674 549l10 3 5-18-10-3z"/>
<path fill="#3870f0" d="M678 533l11 4 5-17-10-4z"/>
<path fill="#3890c8" d="M732 502l11 6 5-19-10-6z"/>
<path fill="#407850" d="M737 444l11 12 6-10-11-12z"/>
<path fill="#4828c0" d="M798 573l11 8 6-10-11-8z"/>
<path fill="#4848f8" d="M669 563l10 3 6-16-11-4z"/>
<path fill="#5028b0" d="M807 580l11 7 6-9-11-8z"/>
<path fill="#50b098" d="M755 461l11 7 6-10-11-8z"/>
<path fill="#5820b0" d="M816 586l11 7 5-9-10-8z"/>
<path fill="#5838ff" d="M664 574l10 4 6-14-10-4z"/>
<path fill="#7820b0" d="M847 595l12 6 5-8-11-6z"/>
<path fill="#7830f0" d="M650 582l11 3 6-12-11-3z"/>
<path fill="#8028e0" d="M637 587l10 4 6-11-11-3z"/>
<path fill="#b06820" d="M734 350l11 9 6-16-11-11z"/>
<path fill="#b8f870" d="M689 434l10-5 5-19-10 5z"/>
<path fill="#e8f058" d="M707 403l11-2 5-4-11 0z"/>
<path fill="#2848a8" d="M754 534l11 10 6-14-11-11z"/>
<path fill="#2860c0" d="M745 527l11 8 6-15-11-9z"/>
<path fill="#2870b0" d="M750 513l10 9 6-18-10-9z"/>
<path fill="#3030b0" d="M767 561l11 9 6-11-11-9z"/>
<path fill="#3050c8" d="M696 542l10 7 6-15-10-8z"/>
<path fill="#3058d0" d="M687 536l10 7 6-16-10-7z"/>
<path fill="#3060d8" d="M709 535l11 7 6-15-11-6z"/>
<path fill="#3068e0" d="M732 534l10 6 6-14-11-7z"/>
<path fill="#3070e0" d="M723 529l10 6 6-15-10-6z"/>
<path fill="#3078d0" d="M737 522l10 6 6-16-11-7z"/>
<path fill="#308888" d="M759 480l11 10 6-14-11-11z"/>
<path fill="#3088c8" d="M741 508l11 6 5-19-10-6z"/>
<path fill="#3840d8" d="M691 556l11 6 5-15-10-7z"/>
<path fill="#3848d8" d="M682 552l11 5 5-17-10-6z"/>
<path fill="#3860e8" d="M718 541l11 5 5-14-10-5z"/>
<path fill="#389088" d="M728 477l11 9 5-18-10-11zM706 478l10 9 6-23-10-11z"/>
<path fill="#4030c0" d="M776 569l11 8 5-11-10-8z"/>
<path fill="#408868" d="M733 459l10 11 6-15-10-12z"/>
<path fill="#40a8c0" d="M746 491l10 7 6-20-10-6z"/>
<path fill="#40b0b8" d="M737 486l10 6 6-19-10-6z"/>
<path fill="#4840e8" d="M678 566l10 4 6-15-11-6z"/>
<path fill="#48b098" d="M697 474l10 5 6-26-10-5z"/>
<path fill="#48b8b0" d="M751 475l10 6 6-16-11-6z"/>
<path fill="#50b8a0" d="M742 469l10 6 6-15-11-7z"/>
<path fill="#587840" d="M729 429l10 17 6-10-11-16z"/>
<path fill="#6820b0" d="M825 592l11 6 5-8-11-7z"/>
<path fill="#687830" d="M725 406l10 16 6-6-11-14z"/>
<path fill="#8828d0" d="M623 592l11 4 6-10-11-3z"/>
<path fill="#889038" d="M716 400l10 9 6-5-11-8z"/>
<path fill="#2838a0" d="M758 553l11 9 6-11-11-10z"/>
<path fill="#2840b0" d="M749 545l11 9 6-12-11-10z"/>
<path fill="#3030a8" d="M754 563l10 9 6-11-11-10z"/>
<path fill="#3048d0" d="M736 550l11 7 5-13-10-7z"/>
<path fill="#3058c8" d="M741 539l10 7 6-13-11-8z"/>
<path fill="#3080a0" d="M755 497l10 9 6-18-10-10z"/>
<path fill="#3830b8" d="M763 571l10 8 6-11-11-8z"/>
<path fill="#3850e0" d="M705 548l10 6 6-14-11-7z"/>
<path fill="#3850f0" d="M714 554l10 4 6-14-11-5z"/>
<path fill="#3858f0" d="M727 545l11 6 5-14-10-5z"/>
<path fill="#387860" d="M719 466l11 12 6-20-11-15z"/>
<path fill="#4048e0" d="M700 562l10 5 6-15-10-6z"/>
<path fill="#4830c8" d="M785 575l11 8 5-10-10-8z"/>
<path fill="#4838e0" d="M686 570l11 5 6-15-11-6z"/>
<path fill="#4848f0" d="M709 566l10 5 6-15-11-5z"/>
<path fill="#487848" d="M724 445l10 15 6-15-10-17z"/>
<path fill="#5028c0" d="M794 581l11 7 5-9-11-7z"/>
<path fill="#5038f0" d="M695 574l11 5 5-14-10-5z"/>
<path fill="#5828b0" d="M803 587l11 7 5-9-11-7z"/>
<path fill="#5830e8" d="M682 581l10 5 6-13-11-5z"/>
<path fill="#5838f0" d="M673 577l10 5 6-14-11-5z"/>
<path fill="#6020b0" d="M812 593l11 7 5-9-11-7z"/>
<path fill="#7020b0" d="M834 597l11 6 5-8-11-6z"/>
<path fill="#7030e8" d="M668 587l11 4 5-11-10-5z"/>
<path fill="#7030f0" d="M659 584l11 4 5-12-10-4z"/>
<path fill="#7820b0" d="M843 602l11 5 5-8-11-6z"/>
<path fill="#8028e8" d="M646 590l10 3 6-10-11-4z"/>
<path fill="#8828d0" d="M632 595l11 3 5-9-10-4z"/>
<path fill="#88d880" d="M693 452l10-1 5-27-10 2z"/>
<path fill="#e8f060" d="M702 412l11-3 5-9-11 1z"/>
<path fill="#3038b8" d="M745 555l11 9 5-12-10-9z"/>
<path fill="#3830b8" d="M749 574l11 8 6-12-11-9z"/>
<path fill="#3838c0" d="M740 567l11 8 6-13-11-8z"/>
<path fill="#3848e0" d="M731 562l11 6 6-13-11-7z"/>
<path fill="#4030c0" d="M758 581l11 7 5-11-10-8z"/>
<path fill="#4030c8" d="M772 578l10 7 6-10-11-8z"/>
<path fill="#4050f0" d="M722 558l11 5 6-15-11-5z"/>
<path fill="#4840e0" d="M727 574l10 6 6-14-11-6z"/>
<path fill="#4848f0" d="M718 570l10 5 6-15-11-4z"/>
<path fill="#488058" d="M711 456l10 11 6-23-11-14z"/>
<path fill="#5028c8" d="M780 584l11 7 6-10-11-7zM767 587l11 7 5-11-10-7z"/>
<path fill="#5038f8" d="M704 578l11 5 5-14-10-5zM713 582l11 5 5-14-10-5z"/>
<path fill="#5828c0" d="M789 589l11 7 6-9-11-7z"/>
<path fill="#6028b8" d="M798 595l11 6 6-8-11-7z"/>
<path fill="#6030e8" d="M690 585l11 4 6-12-11-5z"/>
<path fill="#6030f0" d="M699 589l11 4 6-12-11-5z"/>
<path fill="#607838" d="M715 432l11 14 6-17-11-16z"/>
<path fill="#687830" d="M720 414l10 17 6-9-10-16z"/>
<path fill="#7020b0" d="M821 599l11 6 5-8-11-7z"/>
<path fill="#7030e0" d="M677 590l10 5 6-11-11-5z"/>
<path fill="#70b068" d="M702 451l10 5 5-26-10-6z"/>
<path fill="#7820b0" d="M830 604l11 5 5-8-11-6z"/>
<path fill="#7828d8" d="M663 595l11 5 6-11-11-4z"/>
<path fill="#8028e0" d="M654 592l11 4 6-10-11-4z"/>
<path fill="#8820c8" d="M627 602l11 4 5-9-10-4z"/>
<path fill="#8828d8" d="M641 598l10 3 6-10-11-3z"/>
<path fill="#a0a840" d="M711 408l11 8 5-9-10-8z"/>
<path fill="#d0f868" d="M698 429l10-2 5-20-10 2z"/>
<path fill="#4030d0" d="M736 579l10 7 6-13-11-8z"/>
<path fill="#4830c8" d="M744 585l11 7 6-12-11-8z"/>
<path fill="#5028c8" d="M753 591l11 6 6-11-11-7z"/>
<path fill="#5030d8" d="M731 590l11 6 5-12-10-7z"/>
<path fill="#5038e8" d="M722 586l11 5 5-13-10-6z"/>
<path fill="#5828c8" d="M740 595l11 6 5-11-11-7z"/>
<path fill="#6028c0" d="M785 598l11 6 5-10-11-6z"/>
<path fill="#6028c8" d="M776 593l11 6 5-10-11-7zM762 596l11 6 6-10-11-7zM749 600l11 6 5-10-11-7z"/>
<path fill="#6820b0" d="M807 600l11 7 6-9-11-7z"/>
<path fill="#6820b8" d="M794 602l11 7 5-9-11-7z"/>
<path fill="#6828c8" d="M771 601l11 6 6-10-11-6z"/>
<path fill="#6828d0" d="M726 600l11 5 6-11-11-6z"/>
<path fill="#6830e0" d="M717 596l11 5 6-12-11-5z"/>
<path fill="#6830e8" d="M708 592l11 5 6-12-11-5z"/>
<path fill="#7020b0" d="M816 605l12 6 5-8-11-6zM803 608l11 6 5-9-11-6z"/>
<path fill="#7030e0" d="M686 594l10 5 6-12-11-4z"/>
<path fill="#7820b0" d="M825 610l12 6 5-8-11-6z"/>
<path fill="#7828d8" d="M672 599l11 4 5-10-10-5z"/>
<path fill="#7828e0" d="M703 601l11 5 6-11-11-5z"/>
<path fill="#7830e0" d="M695 598l10 4 6-11-11-4z"/>
<path fill="#8028c8" d="M667 607l11 4 6-10-11-4z"/>
<path fill="#8028d0" d="M658 603l11 5 6-10-11-4z"/>
<path fill="#8028d8" d="M681 602l11 5 5-10-10-5z"/>
<path fill="#8820c8" d="M636 605l10 4 6-10-11-3zM644 608l11 4 6-10-11-4z"/>
<path fill="#8828d0" d="M649 600l11 4 6-10-11-4z"/>
<path fill="#a0b848" d="M706 426l11 7 5-19-10-8z"/>
<path fill="#6828c8" d="M735 604l11 6 6-11-11-6z"/>
<path fill="#7020b8" d="M789 610l11 6 6-9-11-6z"/>
<path fill="#7028c8" d="M780 606l11 5 6-9-11-6zM758 605l11 6 5-10-11-7zM744 609l11 5 6-10-11-6z"/>
<path fill="#7820b0" d="M812 612l11 6 5-8-11-6zM798 615l12 6 5-9-11-6zM808 619l11 6 5-9-11-5z"/>
<path fill="#7820b8" d="M785 618l11 5 5-9-11-5z"/>
<path fill="#7820c0" d="M776 614l11 5 5-9-11-6zM762 617l11 5 6-9-11-5zM739 617l11 5 6-10-11-5z"/>
<path fill="#7828c0" d="M753 613l11 5 6-9-11-6z"/>
<path fill="#7828c8" d="M767 610l11 5 5-10-11-6zM730 613l11 5 6-10-11-6z"/>
<path fill="#7828d0" d="M721 608l11 6 6-11-11-5z"/>
<path fill="#7828d8" d="M712 605l11 4 6-10-11-5z"/>
<path fill="#8020b0" d="M794 622l11 5 6-8-12-6z"/>
<path fill="#8020b8" d="M771 621l11 5 6-9-11-5z"/>
<path fill="#8028c8" d="M676 610l11 5 6-10-11-4zM685 614l11 4 6-10-11-4zM694 617l11 4 5-9-10-5zM717 616l11 5 5-9-11-5z"/>
<path fill="#8028d0" d="M699 609l11 5 5-10-11-5zM708 613l11 4 5-9-11-5z"/>
<path fill="#8028d8" d="M690 606l11 4 5-10-11-4z"/>
<path fill="#8820c0" d="M653 611l11 4 6-9-11-4zM662 614l11 5 6-10-11-4zM671 618l11 4 6-9-11-5zM680 621l11 4 6-9-11-4z"/>
<path fill="#8020b8" d="M780 625l11 5 6-8-11-6zM758 625l11 5 5-9-11-5zM735 624l11 5 5-9-11-5zM744 628l11 5 5-9-11-5zM721 627l11 5 6-9-11-5z"/>
<path fill="#8020c0" d="M748 621l12 5 5-9-11-6zM703 620l11 5 6-10-11-4zM726 620l11 5 5-9-11-5zM712 624l11 5 6-10-11-5z"/></g>
<g id="cB" transform="scale(0.2)"><path fill="#681888" d="M657 370l9 5 4-3-9-4z"/>
<path fill="#681890" d="M728 363l9 5 4-4-9-4zM651 368l9 4 4-3-9-3z"/>
<path fill="#681898" d="M731 370l8 5 5-5-9-5z"/>
<path fill="#6820a0" d="M722 361l8 4 4-4-8-3zM725 366l8 5 4-4-8-5zM769 371l10 2 3-1-9-3z"/>
<path fill="#701898" d="M725 359l9 3 3-3-8-3zM645 366l8 3 4-2-8-3z"/>
<path fill="#7020a8" d="M635 367l9-1 4 1-10-2zM721 371l9 4 4-5-8-5z"/>
<path fill="#7020b8" d="M718 364l9 4 4-5-9-3z"/>
<path fill="#7820a8" d="M719 357l8 3 4-3-9-3zM638 366l9 1 4-2-9-2z"/>
<path fill="#7820b0" d="M715 360l9 2 4-3-9-3zM763 371l9 1 4-2-9-2z"/>
<path fill="#7828c0" d="M715 368l8 4 5-6-9-3z"/>
<path fill="#7828c8" d="M712 363l9 2 4-4-9-3z"/>
<path fill="#8020b8" d="M709 359l9 2 4-4-9-2zM629 368l9 0 3-2-8-2z"/>
<path fill="#8028c8" d="M625 370l9-2 4-1-9 0z"/>
<path fill="#8028d0" d="M709 367l8 2 4-5-8-3z"/>
<path fill="#8820c0" d="M753 374l10 0 3-3-9-1z"/>
<path fill="#8828d0" d="M706 362l8 2 4-5-8-1z"/>
<path fill="#8828d8" d="M702 367l9 1 4-6-9-1zM705 372l9 2 4-7-8-2z"/>
<path fill="#9020c0" d="M619 371l9 0 4-4-9-1z"/>
<path fill="#9020c8" d="M699 362l9 1 4-4-9-2zM696 366l9 1 4-5-9-1z"/>
<path fill="#9028d0" d="M699 371l8 2 5-7-9-1z"/>
<path fill="#481870" d="M654 369l8 7 4-2-8-5z"/>
<path fill="#481878" d="M647 367l9 4 4 0-9-4z"/>
<path fill="#501880" d="M779 376l9 6 4-3-9-5z"/>
<path fill="#5020b0" d="M637 366l10 1 3 0-9-1z"/>
<path fill="#581880" d="M660 374l8 6 5-3-9-5zM786 381l8 6 4-4-8-5z"/>
<path fill="#582098" d="M641 366l9 1 4 1-9-2zM773 373l9 5 3-2-9-5z"/>
<path fill="#601888" d="M782 375l9 5 4-3-9-4z"/>
<path fill="#601890" d="M776 372l9 4 3-2-9-3z"/>
<path fill="#6820b0" d="M766 373l10 2 3-2-9-3z"/>
<path fill="#6828c8" d="M631 368l9-2 4 0-9 1z"/>
<path fill="#7020a0" d="M728 374l8 5 4-6-8-5z"/>
<path fill="#7820a8" d="M724 379l9 4 4-6-8-5zM682 380l10-3 3 1-9-1z"/>
<path fill="#7820b0" d="M718 376l8 4 5-6-9-5zM715 381l8 3 4-6-8-4zM699 379l8 2 4-3-9-3z"/>
<path fill="#7828c0" d="M760 373l9 0 3-2-9-1z"/>
<path fill="#8020c0" d="M708 378l9 4 4-7-8-3z"/>
<path fill="#8028c8" d="M712 373l8 4 4-7-8-3z"/>
<path fill="#8028e0" d="M757 376l9 0 3-4-9 0z"/>
<path fill="#8820b8" d="M692 378l9 2 4-4-9-2z"/>
<path fill="#8828d0" d="M750 377l9 0 4-5-9 0z"/>
<path fill="#8828d8" d="M747 381l9 0 3-6-8 0z"/>
<path fill="#8828e0" d="M622 374l9-3 3-4-9 2z"/>
<path fill="#9020c8" d="M696 376l8 2 4-7-8-2z"/>
<path fill="#9028c8" d="M615 374l9 0 4-5-9 0zM702 377l8 2 5-6-9-3zM612 378l8 0 4-6-8 0z"/>
<path fill="#401870" d="M656 375l9 7 4-3-8-6zM653 377l8 8 5-4-9-7z"/>
<path fill="#401878" d="M650 369l9 8 4-2-9-6zM695 375l9 0 4 6-9-2z"/>
<path fill="#402088" d="M644 366l8 5 4-1-8-4z"/>
<path fill="#4828b8" d="M640 369l9 5 4-4-9-5z"/>
<path fill="#501890" d="M776 379l9 6 4-4-9-6z"/>
<path fill="#581880" d="M782 383l9 7 4-4-8-6z"/>
<path fill="#582098" d="M689 378l9-4 3 5-9 0z"/>
<path fill="#6020a8" d="M679 380l8-8 5 6-9 2z"/>
<path fill="#6028b8" d="M770 377l8 4 4-4-8-5z"/>
<path fill="#6030e8" d="M634 369l9 1 4-3-9-2z"/>
<path fill="#681898" d="M711 382l9 5 4-4-9-4z"/>
<path fill="#6820a0" d="M705 380l9 4 4-4-9-3z"/>
<path fill="#7020a8" d="M663 381l8 3 5-3-9-3z"/>
<path fill="#7028d8" d="M763 375l9 3 4-5-9-2z"/>
<path fill="#7030f0" d="M628 371l9-2 3-3-9 2zM624 376l9-1 3-7-8 1z"/>
<path fill="#7820a8" d="M821 389l9 3 4-3-9-3z"/>
<path fill="#7820b8" d="M673 381l9-2 3 0-9-1z"/>
<path fill="#7828c8" d="M669 384l9-6 4 1-9 3z"/>
<path fill="#7830e8" d="M760 380l9 2 4-6-9-2z"/>
<path fill="#8028e8" d="M753 381l9 0 4-6-9 0z"/>
<path fill="#8828d8" d="M615 383l8 0 4-9-9 2z"/>
<path fill="#8828e0" d="M618 378l9-2 3-6-8 2zM750 386l9 1 4-8-9 0z"/>
<path fill="#9020c8" d="M608 382l8 1 5-7-9 0zM740 390l9 2 4-7-9-1z"/>
<path fill="#9028d0" d="M744 386l8 1 4-8-8 0zM611 388l8 1 4-8-8 0z"/>
<path fill="#381878" d="M646 372l9 7 4-3-8-7z"/>
<path fill="#382090" d="M685 374l8-8 5 10-8 3z"/>
<path fill="#401870" d="M708 379l9 8 3 0-9-5z"/>
<path fill="#401878" d="M702 375l9 5 3 3-9-3z"/>
<path fill="#481068" d="M714 385l9 7 4-2-9-5z"/>
<path fill="#481888" d="M649 382l9 8 4-6-8-8z"/>
<path fill="#482098" d="M643 377l8 7 5-6-9-7z"/>
<path fill="#581890" d="M779 388l9 6 4-5-9-7z"/>
<path fill="#5820a0" d="M773 384l8 6 4-6-8-6z"/>
<path fill="#5830d8" d="M637 374l8 5 4-7-8-4z"/>
<path fill="#6820a8" d="M770 390l8 5 4-7-8-6z"/>
<path fill="#6828d0" d="M766 381l9 4 4-6-9-4z"/>
<path fill="#6838ff" d="M630 374l9 1 4-6-8-2z"/>
<path fill="#701898" d="M828 391l9 4 3-4-9-3z"/>
<path fill="#7018a0" d="M568 386l9 3 4-3-8-3z"/>
<path fill="#7030f0" d="M627 381l8 2 4-10-8-1z"/>
<path fill="#7820a8" d="M562 384l9 3 4-3-9-3z"/>
<path fill="#7820b0" d="M818 392l9 2 4-3-9-3z"/>
<path fill="#7820b8" d="M659 384l9 3 4-4-9-3z"/>
<path fill="#7828d0" d="M763 387l9 4 4-8-9-4z"/>
<path fill="#8020b8" d="M812 391l9 1 3-3-9-2z"/>
<path fill="#8020c0" d="M552 386l9 2 4-4-9-2z"/>
<path fill="#8030e8" d="M621 382l8 0 4-10-8 2zM757 386l8 2 4-8-8-2z"/>
<path fill="#8820c0" d="M737 393l9 1 4-4-9-2z"/>
<path fill="#8828d0" d="M747 391l8 2 4-8-8-1z"/>
<path fill="#8828d8" d="M617 388l8 1 4-9-8 0zM753 392l9 2 4-8-9-2z"/>
<path fill="#9020c8" d="M802 394l9 1 4-5-9-1zM542 390l8 1 5-5-8-2z"/>
<path fill="#282088" d="M692 367l8-2 4 12-8 0z"/>
<path fill="#401878" d="M711 380l8 12 4 0-8-8z"/>
<path fill="#481870" d="M717 390l9 6 4-1-9-5z"/>
<path fill="#5028c8" d="M676 380l8-12 4 5-8 8z"/>
<path fill="#5820a8" d="M639 385l9 6 4-9-8-6z"/>
<path fill="#602098" d="M646 389l8 6 5-7-9-7z"/>
<path fill="#681890" d="M831 395l9 5 4-3-9-5z"/>
<path fill="#682098" d="M776 394l8 5 5-6-9-6z"/>
<path fill="#6820a0" d="M825 393l9 4 3-4-9-3z"/>
<path fill="#6820a8" d="M564 388l9 4 4-4-8-4zM734 394l9-4 3 3-9 0z"/>
<path fill="#6830d8" d="M633 382l8 4 5-9-8-4z"/>
<path fill="#7020b0" d="M766 396l9 4 4-7-8-5zM750 393l9 2 4-2-9-3z"/>
<path fill="#7820b0" d="M603 393l9-2 4 0-9-1z"/>
<path fill="#7820b8" d="M558 387l9 2 4-3-8-3z"/>
<path fill="#7828c8" d="M815 395l9 3 4-5-9-3z"/>
<path fill="#7828d0" d="M630 390l8 3 4-9-8-4z"/>
<path fill="#7830e8" d="M666 387l8-8 4-1-9 6z"/>
<path fill="#8020b0" d="M727 394l9 1 4-2-9-2z"/>
<path fill="#8020c0" d="M743 394l10 0 3-3-9-2z"/>
<path fill="#8028c8" d="M760 393l8 4 4-8-8-4z"/>
<path fill="#8028d0" d="M656 389l8 3 5-7-9-3z"/>
<path fill="#8030e8" d="M623 389l8 1 5-10-8-1z"/>
<path fill="#8828c8" d="M652 394l9 3 4-7-8-3z"/>
<path fill="#8828d0" d="M809 394l9 2 3-5-9-1zM613 392l9 1 4-6-8-1zM548 390l9 1 4-5-8-1z"/>
<path fill="#9020c8" d="M538 394l9 1 4-6-8-1z"/>
<path fill="#9028c8" d="M799 398l9 1 3-5-9-1z"/>
<path fill="#282088" d="M699 365l8 5 3 11-8-4z"/>
<path fill="#302080" d="M705 370l8 12 4 5-9-7z"/>
<path fill="#481888" d="M740 391l9-5 4 8-9 0z"/>
<path fill="#5038f0" d="M672 382l8-14 4 0-8 12z"/>
<path fill="#601888" d="M763 397l9 6 4-4-9-5z"/>
<path fill="#602098" d="M756 394l9 5 4-4-9-4z"/>
<path fill="#6020a0" d="M610 391l8-3 5 4-10 0z"/>
<path fill="#681890" d="M835 402l8 6 4-5-8-5zM769 401l9 6 4-5-9-5z"/>
<path fill="#681898" d="M571 390l8 5 5-4-9-4z"/>
<path fill="#682098" d="M828 399l9 5 4-5-9-5z"/>
<path fill="#6820a0" d="M632 395l9 6 4-6-8-5z"/>
<path fill="#6820a8" d="M724 395l9-4 4 3-10 0z"/>
<path fill="#6820b0" d="M636 392l8 5 5-8-8-6z"/>
<path fill="#701898" d="M577 394l8 4 5-4-8-4z"/>
<path fill="#7020a8" d="M642 396l9 4 4-7-8-5z"/>
<path fill="#7020b8" d="M822 396l9 4 3-4-8-4zM626 393l8 4 5-6-9-3zM561 391l8 4 5-5-9-3z"/>
<path fill="#7820a0" d="M773 399l8 4 4-6-8-5z"/>
<path fill="#7830f0" d="M662 391l9-5 3-7-8 7z"/>
<path fill="#8020b8" d="M593 396l9-3 4 0-9-1zM583 397l9 2 4-4-8-2z"/>
<path fill="#8028c8" d="M554 390l9 3 4-5-8-3z"/>
<path fill="#8028d0" d="M620 392l8 2 4-5-8-3zM812 399l9 3 4-6-9-3z"/>
<path fill="#8028e0" d="M659 397l8-2 4-10-9 4z"/>
<path fill="#8828d0" d="M544 394l9 1 4-6-8-1z"/>
<path fill="#8828d8" d="M805 399l9 1 4-6-9-1z"/>
<path fill="#9020c8" d="M796 403l8 1 4-6-9-2z"/>
<path fill="#302080" d="M708 376l8 15 4 1-8-12z"/>
<path fill="#3030a8" d="M682 370l8-11 5 9-9 7z"/>
<path fill="#381878" d="M747 387l9-1 3 9-8-1zM754 386l9 5 3 7-9-3z"/>
<path fill="#401870" d="M629 392l8 8 5 0-9-6z"/>
<path fill="#401878" d="M714 389l9 8 4-1-9-7zM622 388l9 5 4 3-9-3z"/>
<path fill="#401880" d="M616 389l9-1 4 5-9-1z"/>
<path fill="#4820a0" d="M730 393l9-11 4 9-8 4z"/>
<path fill="#5840ff" d="M669 387l8-12 3-7-7 14z"/>
<path fill="#6020b0" d="M600 394l8-8 5 5-9 3z"/>
<path fill="#6028c0" d="M721 396l8-7 4 3-9 4z"/>
<path fill="#6820a0" d="M567 394l8 5 5-5-8-5z"/>
<path fill="#701898" d="M832 407l8 5 4-6-8-5z"/>
<path fill="#7020a0" d="M573 397l9 5 4-5-8-5z"/>
<path fill="#7020a8" d="M825 403l9 5 4-6-9-5z"/>
<path fill="#7020b0" d="M563 398l8 5 5-6-8-5z"/>
<path fill="#7828c0" d="M819 401l8 3 4-5-9-4z"/>
<path fill="#7828c8" d="M557 396l8 3 5-6-8-3zM590 398l8-6 4 1-8 3z"/>
<path fill="#8020c0" d="M815 406l9 4 4-7-9-4z"/>
<path fill="#8028d8" d="M551 395l8 2 5-6-9-3z"/>
<path fill="#8828c8" d="M580 401l8 1 5-5-9-1z"/>
<path fill="#8828d0" d="M655 402l9 0 4-9-9 1z"/>
<path fill="#8828d8" d="M809 405l8 2 4-7-8-2zM547 400l8 2 5-7-8-2z"/>
<path fill="#9020c8" d="M799 408l9 2 4-7-9-1zM652 405l8 2 4-7-8 0z"/>
<path fill="#9028d0" d="M802 404l9 1 4-7-9-1zM541 399l8 2 4-8-8-1z"/>
<path fill="#203088" d="M688 360l8-3 5 10-8 2zM695 358l9 6 3 9-9-6z"/>
<path fill="#282088" d="M737 384l8-10 5 14-9 5z"/>
<path fill="#282888" d="M702 363l8 15 3 5-8-13z"/>
<path fill="#381878" d="M711 391l8 8 4-3-8-8z"/>
<path fill="#382090" d="M606 387l7-7 6 10-8 3z"/>
<path fill="#3850e8" d="M679 371l7-12 5 1-8 11z"/>
<path fill="#401878" d="M760 391l9 10 3 1-9-5z"/>
<path fill="#481068" d="M767 398l8 10 4-2-9-6zM635 398l9 8 4-3-9-5z"/>
<path fill="#5028c8" d="M596 394l7-12 6 5-8 8z"/>
<path fill="#601880" d="M773 406l8 6 4-4-8-4z"/>
<path fill="#6038ff" d="M666 395l8-6 3-14-9 11z"/>
<path fill="#701898" d="M641 404l9 4 5-3-9-4z"/>
<path fill="#7820a8" d="M569 402l9 4 5-6-9-4z"/>
<path fill="#7820b0" d="M822 408l9 5 4-7-9-4zM559 404l9 4 4-7-8-4zM819 413l8 5 4-7-8-4z"/>
<path fill="#7820b8" d="M648 408l9-4 4 1-9-1z"/>
<path fill="#7830e8" d="M662 402l8-2 4-14-9 7z"/>
<path fill="#8020b0" d="M566 407l8 4 5-7-8-4z"/>
<path fill="#8020b8" d="M796 411l9 1 3-3-9-2z"/>
<path fill="#8020c0" d="M812 411l9 4 4-7-9-4z"/>
<path fill="#8028c8" d="M553 401l8 4 5-7-8-4z"/>
<path fill="#8030e8" d="M586 402l8-8 4-2-8 7z"/>
<path fill="#8820c0" d="M549 407l9 3 4-7-8-4z"/>
<path fill="#8828c8" d="M806 409l8 3 4-7-8-2z"/>
<path fill="#8828e0" d="M658 406l9-2 4-6-9 2z"/>
<path fill="#9028c8" d="M543 405l8 3 5-8-8-2z"/>
<path fill="#9028d0" d="M576 405l8 1 5-6-9-1z"/>
<path fill="#203088" d="M698 363l8 15 4 0-8-15z"/>
<path fill="#282088" d="M705 376l7 17 4-2-7-16zM612 381l8-2 5 11-8 1zM619 379l8 5 4 10-8-3zM701 383l8 16 4-7-8-16z"/>
<path fill="#302080" d="M625 384l9 12 3 4-9-7z"/>
<path fill="#3060e0" d="M685 361l9-3 3 1-9 3z"/>
<path fill="#381878" d="M764 391l8 15 3 2-8-10z"/>
<path fill="#3830b8" d="M727 391l8-16 5 8-9 11z"/>
<path fill="#401870" d="M770 404l8 9 4-2-9-6z"/>
<path fill="#401878" d="M632 394l8 11 4 0-8-7z"/>
<path fill="#402090" d="M707 397l9 7 4-6-8-8z"/>
<path fill="#4060ff" d="M675 378l9-11 3-8-9 11z"/>
<path fill="#481880" d="M638 404l9 4 4-1-9-3z"/>
<path fill="#5050ff" d="M672 389l8-6 3-17-8 9z"/>
<path fill="#581890" d="M793 410l9-3 3 5-9-1z"/>
<path fill="#5820a0" d="M654 405l8-9 5 8-8 3z"/>
<path fill="#5820a8" d="M704 406l8 5 5-8-9-7z"/>
<path fill="#6038f0" d="M717 399l9-9 4-1-9 8z"/>
<path fill="#6038ff" d="M668 400l8-3 4-17-8 6z"/>
<path fill="#681890" d="M816 415l8 6 4-5-9-4z"/>
<path fill="#6820a0" d="M809 413l9 4 4-4-9-4z"/>
<path fill="#6820a8" d="M776 412l10-1 3 1-10-2z"/>
<path fill="#6838ff" d="M714 404l9-7 3-7-9 8z"/>
<path fill="#7020a8" d="M786 412l10-2 3 1-10-2z"/>
<path fill="#7030f0" d="M665 404l8-2 4-7-9 3z"/>
<path fill="#7820b0" d="M802 411l9 3 4-3-9-3z"/>
<path fill="#8020b0" d="M556 409l8 4 5-7-9-4z"/>
<path fill="#8030e8" d="M583 406l8-5 3-7-8 7z"/>
<path fill="#9020c8" d="M572 410l9 2 4-7-8-2z"/>
<path fill="#203088" d="M694 371l8 14 5-7-8-15z"/>
<path fill="#203888" d="M691 358l9 7 4 0-9-7z"/>
<path fill="#282088" d="M758 378l8 15 2 8-8-8z"/>
<path fill="#282888" d="M744 374l8-3 4 17-8 1zM751 371l8 7 3 15-8-4zM691 386l8 11 5-13-9-14z"/>
<path fill="#302080" d="M697 395l8 12 5-9-8-16z"/>
<path fill="#302090" d="M687 400l8 8 5-13-8-11z"/>
<path fill="#3030b0" d="M602 384l7-11 6 8-8 8z"/>
<path fill="#381878" d="M767 402l8 12 4-1-9-9z"/>
<path fill="#401878" d="M694 407l8 7 5-9-9-11zM799 408l10 0 3 5-10-1zM806 408l10 5 2 3-9-3z"/>
<path fill="#4030c0" d="M681 397l8 4 4-17-8-5z"/>
<path fill="#4058ff" d="M678 383l8-1 4-18-8 2z"/>
<path fill="#4070ff" d="M681 369l9-2 4-9-9 1z"/>
<path fill="#481878" d="M690 411l9 8 4-6-8-8z"/>
<path fill="#4828c0" d="M677 401l9 5 4-6-8-6z"/>
<path fill="#5038f0" d="M592 396l8-14 4 0-7 12z"/>
<path fill="#5040f8" d="M675 397l7 0 4-18-7 1z"/>
<path fill="#5820a8" d="M644 408l8-10 5 7-8 3zM783 412l9-7 4 5-10 3z"/>
<path fill="#6038ff" d="M671 401l8 1 4-7-8 0z"/>
<path fill="#7020a8" d="M697 418l8 4 5-6-9-4z"/>
<path fill="#7020b0" d="M700 413l9 5 4-8-8-6z"/>
<path fill="#7030f0" d="M711 411l8-3 4-12-9 6z"/>
<path fill="#7820b0" d="M525 413l9 1 4-3-8-2z"/>
<path fill="#8828e0" d="M579 411l8-1 4-11-9 5zM707 417l8 0 4-11-8 3z"/>
<path fill="#9028d0" d="M575 416l8 1 4-10-8 2z"/>
<path fill="#203088" d="M608 374l8-3 5 10-8 2z"/>
<path fill="#203898" d="M734 377l8-15 5 13-9 10z"/>
<path fill="#282088" d="M761 383l7 21 4 2-8-15z"/>
<path fill="#282888" d="M621 377l8 15 4 4-8-12z"/>
<path fill="#2850b8" d="M688 366l8 7 4-9-8-6z"/>
<path fill="#301880" d="M764 403l7 13 4-3-8-12z"/>
<path fill="#302080" d="M628 389l8 15 4 1-8-12z"/>
<path fill="#302088" d="M661 398l8-10 4 13-8 4z"/>
<path fill="#3040c0" d="M684 381l8 6 5-17-8-6z"/>
<path fill="#381878" d="M684 404l8 9 5-6-9-9zM634 402l9 5 4 0-9-4z"/>
<path fill="#382088" d="M790 406l8-7 4 10-9 3z"/>
<path fill="#3850f0" d="M598 385l8-12 4 1-7 11z"/>
<path fill="#401870" d="M813 412l9 8 3 0-9-5zM693 416l9 7 4-2-9-5z"/>
<path fill="#4048e0" d="M724 392l8-18 4 1-8 17z"/>
<path fill="#481068" d="M819 418l9 8 4-3-9-5z"/>
<path fill="#4850ff" d="M721 399l8-17 3-8-7 18z"/>
<path fill="#581888" d="M544 417l8 5 5-3-8-5z"/>
<path fill="#5840ff" d="M589 402l7-13 4-6-7 13z"/>
<path fill="#601890" d="M538 414l8 4 5-2-9-4z"/>
<path fill="#6028b8" d="M773 412l9-2 4 1-10 1z"/>
<path fill="#6038ff" d="M585 410l8-6 3-15-8 11z"/>
<path fill="#6820a0" d="M531 413l9 2 5-2-9-3z"/>
<path fill="#6838f8" d="M714 417l8-3 3-17-8 9z"/>
<path fill="#7828c8" d="M521 415l9 0 4-2-9-1z"/>
<path fill="#8030e8" d="M582 417l7-2 4-14-8 6z"/>
<path fill="#8820c0" d="M515 416l9 0 4-4-9-1z"/>
<path fill="#8828d0" d="M703 421l9 1 4-7-9 0z"/>
<path fill="#8828d8" d="M577 421l9 0 4-8-8 1z"/>
<path fill="#203088" d="M614 371l9 6 4 9-9-5zM755 366l7 20 3 8-8-16z"/>
<path fill="#204088" d="M741 363l8-4 4 15-8 2z"/>
<path fill="#282088" d="M797 400l8-2 4 12-9 0zM624 389l8 17 5-2-9-15z"/>
<path fill="#282888" d="M667 388l8-3 5 17-8 0zM674 385l8 6 4 15-8-4z"/>
<path fill="#301880" d="M811 404l8 12 3 4-9-7z"/>
<path fill="#302080" d="M760 409l8 12 4-6-8-13z"/>
<path fill="#302088" d="M681 391l8 15 4 7-9-8z"/>
<path fill="#302898" d="M651 400l7-20 5 18-7 8z"/>
<path fill="#381878" d="M687 404l8 14 4 0-8-8z"/>
<path fill="#401870" d="M817 414l8 12 3 0-8-8z"/>
<path fill="#4028b0" d="M630 404l9 5 4-3-8-4z"/>
<path fill="#4030c0" d="M641 407l7-16 5 8-8 9z"/>
<path fill="#481068" d="M823 424l8 8 4-3-9-6z"/>
<path fill="#4828c0" d="M780 411l8-11 4 6-8 7z"/>
<path fill="#5048ff" d="M718 408l8-9 3-17-9 16z"/>
<path fill="#5820a0" d="M533 415l9 5 5-3-9-4z"/>
<path fill="#6038ff" d="M588 415l7-2 4-18-7 6z"/>
<path fill="#681890" d="M550 420l9 5 5-4-9-4z"/>
<path fill="#6820b0" d="M700 422l9-3 4 2-10 0z"/>
<path fill="#6820b8" d="M527 414l9 3 5-3-9-2z"/>
<path fill="#6830e8" d="M770 415l9-3 3-2-9 2z"/>
<path fill="#7820a8" d="M846 432l9 1 4-2-10-3z"/>
<path fill="#8020b0" d="M557 424l9 2 4-3-9-3z"/>
<path fill="#8028e0" d="M517 419l9 0 4-5-8 0z"/>
<path fill="#8030e8" d="M710 422l9-3 3-8-9 4z"/>
<path fill="#8820c0" d="M567 423l9 0 4-3-8-1z"/>
<path fill="#8828d0" d="M511 419l9 0 4-5-9 0z"/>
<path fill="#203088" d="M617 377l8 15 5-1-8-14z"/>
<path fill="#204088" d="M748 359l8 7 3 14-8-6z"/>
<path fill="#282088" d="M804 398l9 6 2 10-8-4zM620 397l8 15 5-7-8-16z"/>
<path fill="#282888" d="M758 382l7 23 4-1-8-21z"/>
<path fill="#3068d8" d="M731 376l8-16 4 2-8 16z"/>
<path fill="#381878" d="M756 420l9 8 4-8-8-12zM690 409l9 12 3 2-9-7z"/>
<path fill="#3860e0" d="M604 375l9-3 4 0-9 4z"/>
<path fill="#4058ff" d="M595 392l8-11 3-8-8 12z"/>
<path fill="#4820a0" d="M706 420l9-11 4 9-8 4z"/>
<path fill="#4840e8" d="M638 409l7-19 4 1-7 16z"/>
<path fill="#4840f0" d="M777 413l8-12 4 0-9 11z"/>
<path fill="#501888" d="M540 418l8 6 5-3-8-6z"/>
<path fill="#5048ff" d="M721 414l7-5 4-22-8 10z"/>
<path fill="#5050ff" d="M592 404l7-6 3-17-7 8z"/>
<path fill="#5830e8" d="M627 411l8 4 5-8-9-4z"/>
<path fill="#601888" d="M546 422l9 6 5-4-9-5z"/>
<path fill="#601890" d="M859 434l10 4 3-3-9-3z"/>
<path fill="#681898" d="M853 432l9 3 3-2-9-3z"/>
<path fill="#6830d8" d="M623 420l8 4 5-11-8-4z"/>
<path fill="#6838ff" d="M717 419l9-4 3-9-9 6z"/>
<path fill="#7020b8" d="M573 423l9-5 5 2-10 1z"/>
<path fill="#7028d8" d="M523 418l9 2 4-5-8-2z"/>
<path fill="#7038f8" d="M766 421l9-2 4-8-9 2z"/>
<path fill="#7820b0" d="M836 433l10 0 3-2-10-1z"/>
<path fill="#7820b8" d="M563 426l9-6 4 2-9 1z"/>
<path fill="#7830f0" d="M763 428l9 0 4-11-9 1z"/>
<path fill="#8030e8" d="M584 421l8-1 4-10-8 2z"/>
<path fill="#8828d0" d="M507 424l8 0 5-7-8 1z"/>
<path fill="#203888" d="M610 372l9 7 4 0-8-8z"/>
<path fill="#282088" d="M750 406l8 15 5-10-8-21z"/>
<path fill="#282888" d="M754 390l7 21 5-6-8-23z"/>
<path fill="#302080" d="M814 410l8 16 3 0-8-12z"/>
<path fill="#302088" d="M616 410l9 11 5-10-9-15z"/>
<path fill="#3030a8" d="M787 402l8-10 4 9-8 7z"/>
<path fill="#381880" d="M746 421l9 9 4-10-8-15z"/>
<path fill="#382090" d="M607 416l8 7 4-14-8-11z"/>
<path fill="#401870" d="M820 424l8 10 4-2-9-8z"/>
<path fill="#401880" d="M613 422l8 7 5-10-8-11z"/>
<path fill="#402098" d="M696 420l9-10 4 10-8 3z"/>
<path fill="#4030c0" d="M600 412l8 4 4-17-8-6z"/>
<path fill="#4068ff" d="M724 399l8-9 4-21-9 13z"/>
<path fill="#502098" d="M603 423l8 6 5-8-9-8z"/>
<path fill="#5020a8" d="M580 419l8-5 5 5-9 2z"/>
<path fill="#5040f8" d="M594 412l8 0 3-19-7 2z"/>
<path fill="#581890" d="M609 428l9 6 5-7-9-7z"/>
<path fill="#582098" d="M753 429l8 6 5-8-9-9zM536 421l8 6 5-4-8-6z"/>
<path fill="#6028c0" d="M530 419l8 4 5-5-9-4z"/>
<path fill="#6030d0" d="M596 420l9 4 4-10-8-5z"/>
<path fill="#681888" d="M866 437l9 5 4-4-9-4z"/>
<path fill="#6820a8" d="M843 433l10-1 3 0-10-1z"/>
<path fill="#7020a8" d="M826 433l9 3 4-3-9-3z"/>
<path fill="#7030f8" d="M590 420l8 1 4-11-8 0z"/>
<path fill="#7828d0" d="M620 428l8 4 4-10-8-4z"/>
<path fill="#8020b8" d="M553 427l9 1 4-3-9-2z"/>
<path fill="#8028e0" d="M513 423l8 1 5-7-8 0z"/>
<path fill="#8828d8" d="M760 434l8 2 4-10-8-1z"/>
<path fill="#9028d0" d="M503 429l8 1 5-8-8 0z"/>
<path fill="#203088" d="M613 385l9 14 4-8-8-15z"/>
<path fill="#203888" d="M657 381l7-19 5 28-7 9z"/>
<path fill="#204088" d="M751 364l8 21 3 1-7-20z"/>
<path fill="#282088" d="M684 388l8 24 3 6-8-13z"/>
<path fill="#282888" d="M610 400l8 11 5-13-9-14zM740 413l8 9 5-16-8-15z"/>
<path fill="#2840a8" d="M647 394l7-30 5 17-7 20z"/>
<path fill="#302080" d="M736 418l9 10 4-7-8-11z"/>
<path fill="#3050c0" d="M606 380l9 7 5-9-9-7z"/>
<path fill="#401870" d="M743 426l8 9 5-6-9-10z"/>
<path fill="#4048e8" d="M727 409l8-1 4-24-8 3z"/>
<path fill="#4058ff" d="M597 397l8-1 4-18-8 2z"/>
<path fill="#4070ff" d="M601 383l8-2 4-9-8 1z"/>
<path fill="#4080ff" d="M728 384l8-15 3-9-8 16z"/>
<path fill="#5020a8" d="M569 422l8-11 6 8-9 5z"/>
<path fill="#5048ff" d="M634 415l7-16 4-9-7 19z"/>
<path fill="#581890" d="M850 432l9 2 3 0-9-2z"/>
<path fill="#5840ff" d="M723 415l9 0 4-9-9 0zM630 424l8-8 3-17-8 15z"/>
<path fill="#5848ff" d="M774 419l9-11 3-7-9 12z"/>
<path fill="#601898" d="M542 426l9 6 5-5-9-6z"/>
<path fill="#682098" d="M749 434l9 5 4-6-8-6z"/>
<path fill="#6828c8" d="M559 428l8-10 5 3-8 6z"/>
<path fill="#7828c8" d="M833 436l10-2 3-2-10 0z"/>
<path fill="#7830e8" d="M519 423l9 2 4-7-8-2z"/>
<path fill="#7830f0" d="M627 431l7-2 4-16-8 8z"/>
<path fill="#8020c0" d="M616 433l8 4 5-7-8-4z"/>
<path fill="#8828d8" d="M509 429l9 1 4-8-8-1zM549 431l9 0 4-4-8-1z"/>
<path fill="#9028d0" d="M756 438l9 2 4-6-9-2z"/>
<path fill="#203088" d="M794 393l8-2 4 9-9 2zM801 391l9 7 2 8-9-6zM743 393l8 15 5-16-8-19z"/>
<path fill="#282088" d="M713 410l8-12 5 17-8 5z"/>
<path fill="#282888" d="M808 397l7 15 4 4-9-12z"/>
<path fill="#301880" d="M586 415l8-2 5 7-8 0z"/>
<path fill="#302080" d="M592 413l10 6 3 4-9-3z"/>
<path fill="#3038b0" d="M734 408l7 5 5-22-8-7z"/>
<path fill="#3040c0" d="M604 396l7 5 5-17-8-6z"/>
<path fill="#3078c8" d="M737 362l9-4 4 2-9 5z"/>
<path fill="#381878" d="M599 418l9 10 4 1-9-8z"/>
<path fill="#3850e8" d="M784 403l8-11 4 1-9 10z"/>
<path fill="#401870" d="M606 426l8 10 5-3-9-6zM746 432l9 8 4-2-9-5z"/>
<path fill="#401878" d="M817 426l8 11 4-3-8-11z"/>
<path fill="#4030c0" d="M730 414l8 6 5-8-9-7z"/>
<path fill="#481870" d="M863 436l9 7 4-2-9-5z"/>
<path fill="#481878" d="M857 433l9 5 3-1-9-4z"/>
<path fill="#581878" d="M870 441l9 7 4-4-10-5z"/>
<path fill="#601890" d="M612 434l9 5 4-4-8-4z"/>
<path fill="#6020a8" d="M532 426l8 6 5-6-8-6z"/>
<path fill="#6038ff" d="M770 428l9-6 3-14-9 10z"/>
<path fill="#6820a0" d="M539 431l8 5 5-6-8-6z"/>
<path fill="#6828c0" d="M840 434l10-2 3 0-10 1z"/>
<path fill="#7020b8" d="M823 436l9 3 4-4-9-3z"/>
<path fill="#7028d0" d="M526 424l8 4 5-7-8-4z"/>
<path fill="#7830f0" d="M767 435l8-2 4-13-9 5z"/>
<path fill="#8028e0" d="M516 429l8 2 4-8-8-2z"/>
<path fill="#8828d8" d="M623 436l8 0 4-9-8 2z"/>
<path fill="#9028d0" d="M506 435l8 2 4-9-8-1z"/>
<path fill="#203888" d="M677 365l9 24 3 18-8-13z"/>
<path fill="#204088" d="M747 373l8 20 4-9-7-20z"/>
<path fill="#204888" d="M664 362l7-7 4 33-7 3z"/>
<path fill="#205088" d="M744 358l9 9 3 2-8-10z"/>
<path fill="#282088" d="M687 401l8 16 4 4-9-12zM811 410l7 18 4-2-7-17zM575 412l8-10 6 14-8 5z"/>
<path fill="#282888" d="M703 413l8-24 5 22-8 10z"/>
<path fill="#2850a8" d="M737 387l8 7 4-21-7-8z"/>
<path fill="#3030a8" d="M693 416l8-15 5 11-9 9z"/>
<path fill="#381878" d="M740 418l8 16 4 1-9-9z"/>
<path fill="#3878f0" d="M731 390l7-3 4-22-7 4z"/>
<path fill="#401878" d="M813 432l9 10 4-5-8-12z"/>
<path fill="#4060ff" d="M781 410l9-10 3-8-10 11z"/>
<path fill="#40a8ff" d="M734 371l9-3 3-10-8 2z"/>
<path fill="#5020a8" d="M847 432l10 2 3 0-10-2z"/>
<path fill="#6038ff" d="M774 433l8-2 4-18-9 6z"/>
<path fill="#6820a8" d="M753 439l9-1 4 1-10-2z"/>
<path fill="#6820b0" d="M528 433l9 5 5-8-9-5z"/>
<path fill="#6830e8" d="M556 431l7-11 5-1-8 9z"/>
<path fill="#7020a8" d="M535 437l8 4 5-7-8-5z"/>
<path fill="#7030f8" d="M629 436l8-4 4-14-8 9z"/>
<path fill="#7820c0" d="M619 438l9-5 4 2-10 0z"/>
<path fill="#7828d0" d="M522 430l8 4 5-8-8-4z"/>
<path fill="#8028c8" d="M518 437l8 4 5-9-8-4z"/>
<path fill="#8028d0" d="M820 441l9 3 4-6-9-3z"/>
<path fill="#8030e8" d="M830 439l10-2 3-4-10 2z"/>
<path fill="#8828d0" d="M512 436l8 2 5-9-8-2z"/>
<path fill="#8828d8" d="M545 435l9 1 4-7-8 0z"/>
<path fill="#8828e0" d="M763 440l9-2 4-7-10 2z"/>
<path fill="#203088" d="M804 397l8 16 4-1-8-15z"/>
<path fill="#204888" d="M670 355l8 10 4 29-7-6z"/>
<path fill="#282088" d="M734 403l8 17 3 8-8-9zM807 417l8 17 4-6-7-18z"/>
<path fill="#282888" d="M720 399l8-4 4 20-8 1zM727 395l8 8 3 17-7-5z"/>
<path fill="#286098" d="M740 367l9 9 4-11-8-8z"/>
<path fill="#302080" d="M803 430l8 12 5-9-8-16z"/>
<path fill="#3058d8" d="M790 393l10-1 3 0-9 2z"/>
<path fill="#3070d0" d="M644 393l6-34 5 5-7 30z"/>
<path fill="#381880" d="M602 418l8 16 5 1-9-9z"/>
<path fill="#401870" d="M608 432l9 5 4 1-9-5z"/>
<path fill="#401878" d="M810 440l8 8 5-7-9-10zM861 436l8 8 4-2-9-6z"/>
<path fill="#401880" d="M854 433l9 5 3-1-9-5z"/>
<path fill="#4030c0" d="M566 421l6-17 6 8-7 11z"/>
<path fill="#481068" d="M867 442l9 9 4-4-9-7z"/>
<path fill="#5020a0" d="M760 439l8-9 4 7-9 3z"/>
<path fill="#5048ff" d="M633 429l8-8 3-26-8 19z"/>
<path fill="#5050ff" d="M777 422l8-6 4-17-8 9z"/>
<path fill="#601888" d="M874 449l8 6 4-5-9-5z"/>
<path fill="#601890" d="M806 448l9 5 4-7-8-7z"/>
<path fill="#7030f0" d="M837 437l10-2 3-3-10 1zM770 438l9-3 3-6-9 2z"/>
<path fill="#7030f8" d="M552 436l8-9 3-7-7 11z"/>
<path fill="#7820b0" d="M525 440l8 4 5-8-9-5z"/>
<path fill="#8020b0" d="M531 443l8 4 5-7-8-5z"/>
<path fill="#8030e8" d="M827 444l9-1 3-7-9 1z"/>
<path fill="#8828d0" d="M541 441l9 2 4-9-8-1zM816 447l9 3 4-8-8-3z"/>
<path fill="#203088" d="M801 404l8 16 4-8-8-16z"/>
<path fill="#203888" d="M797 391l9 8 4 0-9-8zM680 370l8 34 4 8-8-24z"/>
<path fill="#282088" d="M595 405l9 16 4 7-9-8z"/>
<path fill="#282888" d="M582 402l7-3 6 16-8 2zM683 400l8 17 4 0-8-16zM797 420l8 11 5-13-8-14z"/>
<path fill="#302088" d="M793 435l8 8 5-13-8-12z"/>
<path fill="#381878" d="M857 439l9 8 4-4-9-7z"/>
<path fill="#381880" d="M744 423l8 15 3 2-9-8z"/>
<path fill="#3830c0" d="M787 431l8 4 4-17-8-6z"/>
<path fill="#3868ff" d="M637 416l8-19 2-26-7 30z"/>
<path fill="#401870" d="M864 445l9 9 4-4-9-8z"/>
<path fill="#401878" d="M800 442l8 7 5-9-8-12z"/>
<path fill="#402090" d="M749 437l9-6 4 8-9 1z"/>
<path fill="#4058ff" d="M784 416l8-1 4-17-8 1z"/>
<path fill="#4070ff" d="M787 402l9-2 4-9-9 1z"/>
<path fill="#481878" d="M796 446l9 8 4-6-8-8z"/>
<path fill="#4820a8" d="M615 437l8-12 5 9-8 5z"/>
<path fill="#4828b0" d="M850 436l10 5 3-4-9-5z"/>
<path fill="#5028b0" d="M625 435l8-12 5 7-8 6z"/>
<path fill="#5040f8" d="M780 431l8 0 4-19-8 1z"/>
<path fill="#581880" d="M871 452l8 7 4-5-9-6z"/>
<path fill="#6030e0" d="M844 435l9 2 4-4-10-2z"/>
<path fill="#6038ff" d="M776 435l9 1 4-7-9-1z"/>
<path fill="#681898" d="M803 452l9 6 4-6-9-6z"/>
<path fill="#7030f8" d="M834 442l9-1 3-7-9 1z"/>
<path fill="#7830e8" d="M548 442l8-3 4-13-9 9z"/>
<path fill="#8828e0" d="M823 449l9 1 4-9-9 1z"/>
<path fill="#9020c8" d="M537 446l9 2 5-7-9-2z"/>
<path fill="#202888" d="M679 409l8 16 5-8-8-17z"/>
<path fill="#206080" d="M653 366l7-28 6 26-8 19z"/>
<path fill="#282088" d="M675 426l9 10 5-13-9-14z"/>
<path fill="#282888" d="M588 399l8 6 5 15-8-4zM737 397l8 29 3 8-8-15z"/>
<path fill="#2848b0" d="M794 399l8 8 5-9-9-7z"/>
<path fill="#302080" d="M604 429l9 6 4 2-9-6z"/>
<path fill="#302088" d="M766 431l9-10 4 14-8 3z"/>
<path fill="#3040b8" d="M791 415l8 6 4-17-8-6z"/>
<path fill="#381878" d="M790 439l8 9 5-7-9-8z"/>
<path fill="#381880" d="M662 439l8 10 5-9-9-14z"/>
<path fill="#3848e0" d="M690 417l7-19 5 3-8 16z"/>
<path fill="#3880f0" d="M640 401l7-30 4-12-7 34z"/>
<path fill="#402090" d="M672 440l8 7 5-13-8-10zM854 445l9 7 4-6-9-8z"/>
<path fill="#4048e8" d="M562 422l6-19 5 1-7 17z"/>
<path fill="#481878" d="M861 451l8 8 4-6-8-9z"/>
<path fill="#4828c0" d="M783 435l9 5 4-6-9-6z"/>
<path fill="#5048ff" d="M636 432l8-6 3-17-8 9z"/>
<path fill="#5830d0" d="M847 441l9 5 4-7-9-4z"/>
<path fill="#601888" d="M867 457l9 6 4-5-9-7z"/>
<path fill="#6020a8" d="M668 447l9 6 4-8-8-7z"/>
<path fill="#6838ff" d="M840 441l10 2 3-7-9-2z"/>
<path fill="#7020a0" d="M506 448l9 4 5-4-9-3z"/>
<path fill="#7820a8" d="M500 447l8 3 5-4-8-3z"/>
<path fill="#7830e8" d="M830 449l9 0 4-10-9 1z"/>
<path fill="#8828d8" d="M544 448l8 0 4-12-8 4z"/>
<path fill="#8828e0" d="M827 456l9 1 4-10-9 0z"/>
<path fill="#9020c8" d="M540 452l8 2 5-8-8 0z"/>
<path fill="#9028d0" d="M820 455l9 1 4-9-9 0z"/>
<path fill="#204088" d="M710 390l8-24 4 35-8 11z"/>
<path fill="#282088" d="M655 429l8 11 5-13-8-15z"/>
<path fill="#282888" d="M665 428l8 13 5-15-8-24zM598 411l8 20 4 2-8-15z"/>
<path fill="#282890" d="M631 425l8-13 5 13-8 7z"/>
<path fill="#2838a0" d="M571 406l7-16 6 13-7 11z"/>
<path fill="#302890" d="M756 433l9-20 4 19-8 8z"/>
<path fill="#3860f0" d="M640 421l7-10 3-35-7 19z"/>
<path fill="#401878" d="M794 439l8 14 4 0-9-8z"/>
<path fill="#4058ff" d="M686 425l8-17 4-10-8 19z"/>
<path fill="#481068" d="M800 451l9 9 4-3-9-6z"/>
<path fill="#4850ff" d="M558 429l7-17 4-9-7 20zM642 426l8-1 4-20-8 4z"/>
<path fill="#5048ff" d="M683 436l8-8 3-20-8 15z"/>
<path fill="#581888" d="M857 458l9 6 4-7-8-8z"/>
<path fill="#5820a0" d="M851 453l8 6 5-8-9-8z"/>
<path fill="#5840ff" d="M555 439l7-9 3-18-7 17z"/>
<path fill="#6028d0" d="M844 449l9 5 4-10-9-4z"/>
<path fill="#6838ff" d="M679 446l8-2 4-19-8 9z"/>
<path fill="#701898" d="M512 451l9 4 5-4-9-4z"/>
<path fill="#7020a0" d="M807 459l9 2 4-3-10-3z"/>
<path fill="#7030f8" d="M837 449l9 1 4-10-9-1zM551 448l7-3 4-18-8 9z"/>
<path fill="#7820b8" d="M495 449l9 3 5-4-9-3z"/>
<path fill="#8020c0" d="M489 449l9 2 5-5-9-2z"/>
<path fill="#8030e8" d="M675 452l9-1 4-10-9 3zM834 456l9 2 4-10-9-2z"/>
<path fill="#8828d0" d="M824 460l9 1 4-6-10-1z"/>
<path fill="#8828d8" d="M547 454l8-1 4-11-8 3z"/>
<path fill="#9020c8" d="M479 452l8 2 5-6-8-1z"/>
<path fill="#203088" d="M591 394l8 19 4 8-8-16z"/>
<path fill="#203888" d="M668 403l9 24 4-16-8-34z"/>
<path fill="#204088" d="M731 370l8 29 2 21-7-15z"/>
<path fill="#204888" d="M676 365l8 38 4 1-8-34z"/>
<path fill="#206080" d="M673 341l8 32 4 17-9-24z"/>
<path fill="#282088" d="M600 430l9 7 5-2-9-7z"/>
<path fill="#282888" d="M774 422l8-3 4 17-9 0zM740 414l8 20 4 4-8-15zM781 419l8 7 3 14-8-4z"/>
<path fill="#282890" d="M621 428l7-25 6 22-8 11z"/>
<path fill="#2850a0" d="M700 403l7-36 5 22-8 24z"/>
<path fill="#301880" d="M658 431l8 17 5 0-9-11z"/>
<path fill="#302088" d="M788 426l8 16 3 5-9-7z"/>
<path fill="#3028a8" d="M746 433l9-10 4 9-9 6z"/>
<path fill="#3038b0" d="M649 424l7 6 5-17-8-8z"/>
<path fill="#3830b8" d="M611 435l7-18 6 9-8 12z"/>
<path fill="#401870" d="M665 446l8 7 5-1-9-6z"/>
<path fill="#6020b0" d="M671 453l9-7 4 4-9 2z"/>
<path fill="#681898" d="M508 453l9 5 5-4-9-5z"/>
<path fill="#6820a8" d="M847 460l9 5 4-8-8-6z"/>
<path fill="#701898" d="M864 463l9 5 4-6-9-6z"/>
<path fill="#7020a0" d="M854 464l9 5 4-7-9-6z"/>
<path fill="#7020a8" d="M502 451l8 4 5-4-8-4z"/>
<path fill="#7020b0" d="M813 461l10-2 3 0-9-1zM837 461l9 5 4-6-9-4z"/>
<path fill="#7028c8" d="M841 458l8 3 5-9-9-5z"/>
<path fill="#8028d0" d="M830 460l10 2 3-5-9-3zM542 456l10-2 4-2-9 0z"/>
<path fill="#8828d0" d="M485 453l8 1 5-5-8-2z"/>
<path fill="#9020c8" d="M475 457l8 1 5-6-8-1z"/>
<path fill="#202888" d="M594 410l8 22 4-1-8-21z"/>
<path fill="#203088" d="M638 412l8-5 5 17-8 2zM645 408l8 8 4 14-8-5z"/>
<path fill="#203888" d="M659 415l8 14 4-26-8-24z"/>
<path fill="#204088" d="M577 391l8-4 5 14-8 3zM584 387l8 7 4 14-8-7z"/>
<path fill="#204888" d="M673 378l7 34 4-9-7-38z"/>
<path fill="#205880" d="M717 366l8-8 3 40-7 3z"/>
<path fill="#282888" d="M652 415l8 19 4 6-9-12z"/>
<path fill="#3068e0" d="M567 406l7-17 5 2-7 16z"/>
<path fill="#307068" d="M659 338l8-9 5 29-8 7z"/>
<path fill="#3070d0" d="M646 411l7-3 3-39-7 7z"/>
<path fill="#401878" d="M798 445l7 15 4 0-9-9z"/>
<path fill="#4030c0" d="M596 438l9 6 5-9-9-6z"/>
<path fill="#40b0f0" d="M643 398l7-19 3-34-8 26z"/>
<path fill="#4850ff" d="M686 444l8-10 3-31-8 24z"/>
<path fill="#5040ff" d="M557 445l7-4 4-23-7 9z"/>
<path fill="#581890" d="M803 458l10 2 3 1-9-3z"/>
<path fill="#582098" d="M820 459l10-3 3 4-9-1z"/>
<path fill="#6038ff" d="M682 451l9-6 3-14-9 12z"/>
<path fill="#682098" d="M844 464l9 6 4-6-9-5z"/>
<path fill="#6820a0" d="M504 457l9 5 5-5-9-5z"/>
<path fill="#701898" d="M515 457l8 5 5-5-8-4z"/>
<path fill="#7020b8" d="M498 455l8 3 5-5-8-4z"/>
<path fill="#7028d0" d="M549 454l9-4 4 1-9 1z"/>
<path fill="#7830f0" d="M553 453l8-1 4-14-8 4z"/>
<path fill="#8020b8" d="M521 461l9 1 5-4-9-2z"/>
<path fill="#8020c0" d="M532 459l9-3 4-1-9 0z"/>
<path fill="#8028c8" d="M491 453l9 3 5-5-9-3z"/>
<path fill="#8828d0" d="M481 457l8 2 5-7-8-1z"/>
<path fill="#202888" d="M590 419l8 20 5-8-9-21z"/>
<path fill="#203088" d="M737 411l7 24 4-1-7-20z"/>
<path fill="#203888" d="M763 414l9-19 4 29-8 8z"/>
<path fill="#204088" d="M734 376l7 41 4 9-8-29z"/>
<path fill="#205880" d="M724 358l8 12 3 35-7-7z"/>
<path fill="#205898" d="M653 408l7 7 4-36-8-10z"/>
<path fill="#282088" d="M792 423l7 25 3 5-9-13z"/>
<path fill="#302080" d="M661 437l9 12 4 4-9-6z"/>
<path fill="#307068" d="M666 330l8 11 4 27-7-10z"/>
<path fill="#381880" d="M583 452l8 8 5-12-9-14z"/>
<path fill="#3828a8" d="M678 448l8-18 5 14-8 8z"/>
<path fill="#401878" d="M828 457l9 0 3 5-10-2zM835 457l9 6 3 2-10-4z"/>
<path fill="#4048e0" d="M743 434l9-12 4 1-9 11zM608 437l6-22 5 2-7 19z"/>
<path fill="#4060ff" d="M561 430l7-10 3-22-7 14z"/>
<path fill="#4080ff" d="M564 415l7-16 4-10-7 17z"/>
<path fill="#48a8a0" d="M650 362l6-31 5 7-7 29z"/>
<path fill="#5028c8" d="M593 449l8 5 5-12-8-6z"/>
<path fill="#5030c8" d="M566 452l8 4 4-14-8-5z"/>
<path fill="#581890" d="M579 461l8 6 5-8-8-9z"/>
<path fill="#5820a8" d="M810 460l10-6 3 5-9 2z"/>
<path fill="#6020b0" d="M538 457l8-8 6 5-9 3z"/>
<path fill="#6038f8" d="M559 452l8 1 4-16-7 1z"/>
<path fill="#6828c0" d="M589 459l9 4 4-11-8-5z"/>
<path fill="#7020a0" d="M511 461l8 5 5-6-8-4z"/>
<path fill="#7828c8" d="M494 459l8 4 5-6-8-4z"/>
<path fill="#7828d0" d="M528 462l8-7 5 1-9 3z"/>
<path fill="#8828d8" d="M487 458l9 3 5-7-9-3z"/>
<path fill="#9028d0" d="M477 463l8 2 5-8-8-2z"/>
<path fill="#203088" d="M733 421l8 21 4-8-8-23z"/>
<path fill="#204088" d="M586 392l9 21 4 0-8-19z"/>
<path fill="#282088" d="M576 444l8 9 5-18-9-14z"/>
<path fill="#282888" d="M586 436l9 14 4-12-8-19zM729 440l8 14 5-13-8-20zM655 410l8 29 4 9-9-15z"/>
<path fill="#2840a8" d="M754 426l8-30 4 18-8 19z"/>
<path fill="#301880" d="M725 456l9 8 5-12-9-14z"/>
<path fill="#302088" d="M795 439l7 20 4 1-8-15z"/>
<path fill="#302090" d="M668 448l8-16 5 16-9 5z"/>
<path fill="#3088c0" d="M697 401l7-41 4 7-7 37z"/>
<path fill="#381880" d="M561 451l9 5 5-1-9-5z"/>
<path fill="#3880f8" d="M690 428l8-23 2-31-7 37z"/>
<path fill="#401870" d="M842 461l8 9 4-1-10-6z"/>
<path fill="#4048e8" d="M563 441l8-1 3-25-7 2z"/>
<path fill="#481068" d="M848 468l9 8 4-4-9-5z"/>
<path fill="#482098" d="M572 456l9 6 4-11-8-9zM800 458l10 1 3 1-10-2z"/>
<path fill="#4850ff" d="M689 445l8-8 3-18-8 13z"/>
<path fill="#4858ff" d="M740 442l9-10 3-10-9 12z"/>
<path fill="#501888" d="M722 464l8 6 5-7-9-9z"/>
<path fill="#5028b8" d="M555 451l9 0 4 0-9-1z"/>
<path fill="#58d0c8" d="M646 374l7-29 4-14-7 31z"/>
<path fill="#7020b0" d="M500 462l9 5 5-6-9-5z"/>
<path fill="#7030f8" d="M597 463l7-3 4-18-8 10z"/>
<path fill="#7038f8" d="M733 464l8-1 4-17-9 5z"/>
<path fill="#7820a8" d="M507 466l8 4 5-6-8-5z"/>
<path fill="#8020c0" d="M586 466l8 3 5-8-9-4z"/>
<path fill="#8828d0" d="M517 465l9 1 5-5-9-2zM483 464l9 2 4-7-8-3z"/>
<path fill="#203088" d="M579 423l8 14 5-17-9-18z"/>
<path fill="#203888" d="M786 400l7 25 2 17-7-13z"/>
<path fill="#204088" d="M627 404l7-24 6 34-7 12z"/>
<path fill="#205080" d="M579 387l9 8 4 1-8-9z"/>
<path fill="#206080" d="M662 381l8 24 5-26-9-31z"/>
<path fill="#282888" d="M719 442l8 15 5-16-8-29z"/>
<path fill="#2850a0" d="M617 419l7-37 6 22-8 24z"/>
<path fill="#302080" d="M715 452l8 13 5-9-8-16z"/>
<path fill="#3038b0" d="M570 440l7 4 4-23-8-6z"/>
<path fill="#307068" d="M669 335l8 33 4 5-8-32z"/>
<path fill="#3080d0" d="M572 391l9-5 5 2-8 5z"/>
<path fill="#382088" d="M817 455l10-7 3 10-9 2z"/>
<path fill="#382098" d="M544 450l8-7 6 9-8 3z"/>
<path fill="#3878f0" d="M567 420l7-3 3-22-7 3z"/>
<path fill="#38a0e8" d="M693 411l7-37 4-14-7 41z"/>
<path fill="#401870" d="M575 461l8 8 5-3-8-7z"/>
<path fill="#401878" d="M568 455l9 8 5-2-9-7z"/>
<path fill="#4828c0" d="M807 460l10-11 3 6-9 6z"/>
<path fill="#4850ff" d="M604 444l7-19 4-10-7 22z"/>
<path fill="#5048ff" d="M736 454l8-5 4-18-8 8zM600 454l8-10 3-19-7 19z"/>
<path fill="#7020a0" d="M581 468l9 4 5-4-9-4z"/>
<path fill="#7820b0" d="M496 468l9 4 5-7-9-5z"/>
<path fill="#8020b0" d="M503 471l8 4 5-7-8-4z"/>
<path fill="#8028c8" d="M490 465l8 4 5-8-8-3z"/>
<path fill="#8028e0" d="M729 470l8 1 4-10-8 1z"/>
<path fill="#8030e8" d="M524 466l8-8 5-3-9 7z"/>
<path fill="#8828d8" d="M592 469l9 0 4-11-8 3z"/>
<path fill="#9020c8" d="M479 469l9 3 4-8-8-2z"/>
<path fill="#9028d0" d="M513 469l9 2 5-7-9-1z"/>
<path fill="#203088" d="M684 432l9-19 4 23-8 9z"/>
<path fill="#204088" d="M582 402l9 19 5-9-9-20z"/>
<path fill="#204888" d="M772 395l7-6 3 33-7 2zM779 389l7 11 3 29-8-7z"/>
<path fill="#282088" d="M825 448l9-1 3 12-9 0zM832 447l9 7 3 9-9-4zM550 443l8-2 6 11-8 1zM712 439l8 23 4 3-9-14z"/>
<path fill="#282888" d="M708 440l9 14 5-13-9-18zM658 426l8 16 4 7-9-12z"/>
<path fill="#2850a8" d="M573 417l7 7 4-22-8-7z"/>
<path fill="#287070" d="M706 369l8-33 5 32-8 24z"/>
<path fill="#302080" d="M839 453l9 13 2 4-9-8z"/>
<path fill="#307068" d="M665 348l8 32 5-12-8-33z"/>
<path fill="#3878f0" d="M693 434l7-12 4-42-8 23z"/>
<path fill="#401870" d="M846 464l8 12 3-1-9-8z"/>
<path fill="#401878" d="M719 459l8 12 4-1-9-8z"/>
<path fill="#4068ff" d="M696 437l7-3 4-19-8 4z"/>
<path fill="#40a0ff" d="M569 401l8-4 4-11-8 3z"/>
<path fill="#481068" d="M852 474l8 9 4-4-9-6z"/>
<path fill="#5030c8" d="M534 457l7-12 6 5-8 8z"/>
<path fill="#5030d0" d="M797 460l10 2 3-3-9-2z"/>
<path fill="#50c0b0" d="M649 379l7-7 4-36-7 9z"/>
<path fill="#6020b0" d="M725 470l10-2 3 1-10 0z"/>
<path fill="#6838f8" d="M599 469l8-4 4-17-9 10z"/>
<path fill="#7038f8" d="M736 470l8-4 4-13-9 8z"/>
<path fill="#8028c8" d="M588 471l10-3 4-1-10 0z"/>
<path fill="#8030e8" d="M520 471l9-6 3-7-8 7z"/>
<path fill="#8820c0" d="M486 471l8 4 5-8-8-4z"/>
<path fill="#9020c8" d="M509 474l9 3 5-8-9-2z"/>
<path fill="#203888" d="M789 406l7 36 3 6-7-25z"/>
<path fill="#204088" d="M647 383l9 29 4 22-8-16zM722 413l8 28 5-17-8-41z"/>
<path fill="#205880" d="M731 369l7 45 3 2-7-40z"/>
<path fill="#282088" d="M557 442l9 5 4 9-8-4z"/>
<path fill="#282888" d="M792 438l7 23 3-2-7-20zM788 447l7 20 4-6-7-23z"/>
<path fill="#2838a8" d="M664 442l8-25 5 16-8 16z"/>
<path fill="#2840a0" d="M702 434l8 7 5-17-9-9z"/>
<path fill="#2868a8" d="M575 396l9 9 5-12-9-7z"/>
<path fill="#302080" d="M564 447l9 12 4 4-9-8z"/>
<path fill="#3030a8" d="M815 451l9-10 4 8-10 7z"/>
<path fill="#3070d0" d="M751 424l8-33 3 5-8 30z"/>
<path fill="#307870" d="M655 372l8 10 4-34-8-12z"/>
<path fill="#381878" d="M571 457l8 12 5 0-9-8z"/>
<path fill="#401870" d="M849 474l8 12 4-4-9-8z"/>
<path fill="#481880" d="M577 467l9 5 5-1-9-4z"/>
<path fill="#4828b0" d="M732 469l9-11 4 7-9 6z"/>
<path fill="#4840f0" d="M804 462l9-12 4 0-9 10z"/>
<path fill="#4848ff" d="M603 460l7-10 3-31-7 24z"/>
<path fill="#5038f0" d="M530 460l7-14 5-1-7 13z"/>
<path fill="#5048ff" d="M740 463l8-8 3-27-8 19z"/>
<path fill="#507848" d="M662 325l9 12 3 7-8-14z"/>
<path fill="#5820b0" d="M584 472l8-10 6 6-9 4z"/>
<path fill="#5828c8" d="M595 469l8-10 5 4-9 6z"/>
<path fill="#6038ff" d="M794 467l9 2 4-9-9-2z"/>
<path fill="#609858" d="M655 333l8-9 5 7-8 10z"/>
<path fill="#681890" d="M855 484l9 5 4-4-9-5z"/>
<path fill="#7030f0" d="M790 476l9 2 4-12-8-1z"/>
<path fill="#8828e0" d="M516 476l8-1 4-11-8 4z"/>
<path fill="#203088" d="M706 417l8 25 3 12-8-13z"/>
<path fill="#203888" d="M674 435l8-36 5 34-8 16z"/>
<path fill="#204888" d="M713 426l7 17 5-30-8-29z"/>
<path fill="#205880" d="M634 380l7-9 5 39-7 5zM727 383l7 41 4-10-7-45zM640 371l8 12 5 35-8-8z"/>
<path fill="#206080" d="M760 398l9-27 5 26-9 19z"/>
<path fill="#282088" d="M716 446l7 21 4 4-9-11z"/>
<path fill="#287070" d="M728 340l7 39 3 21-8-29z"/>
<path fill="#301880" d="M843 460l8 17 3-1-8-12z"/>
<path fill="#302080" d="M721 465l9-6 5 10-9 2z"/>
<path fill="#302088" d="M783 462l9 14 4-9-7-21z"/>
<path fill="#3030b0" d="M540 447l7-11 6 8-8 8z"/>
<path fill="#381878" d="M780 477l8 8 5-10-8-14z"/>
<path fill="#381880" d="M573 467l9 5 5 0-9-5z"/>
<path fill="#3868ff" d="M744 449l8-18 3-28-8 30z"/>
<path fill="#3888f0" d="M747 433l8-30 4-12-8 33z"/>
<path fill="#5048ff" d="M743 466l8-5 4-18-9 10zM801 468l10-10 3-8-10 12zM606 465l7-6 4-23-8 12z"/>
<path fill="#581888" d="M776 484l9 6 5-7-9-8z"/>
<path fill="#5840ff" d="M526 466l8-12 4-8-7 14z"/>
<path fill="#681898" d="M852 488l9 5 4-5-9-5z"/>
<path fill="#701898" d="M886 489l10 4 3-3-9-4z"/>
<path fill="#7820a8" d="M879 488l10 2 3-3-9-3z"/>
<path fill="#8020b8" d="M862 488l10 2 3-4-9-2zM869 490l10 1 3-4-9-2z"/>
<path fill="#8828e0" d="M787 484l8 2 5-11-9-1z"/>
<path fill="#9028d0" d="M512 481l8 1 5-10-8 2z"/>
<path fill="#98f090" d="M652 348l8-9 4-15-8 7z"/>
<path fill="#203088" d="M822 442l9-2 3 9-9 2zM546 437l8-3 5 9-8 3zM830 440l9 8 2 8-9-7z"/>
<path fill="#203888" d="M653 424l9 18 4 0-8-16z"/>
<path fill="#204088" d="M692 413l7-7 5 28-8 3zM699 406l8 11 3 24-7-7z"/>
<path fill="#204888" d="M650 389l8 40 5 10-8-29z"/>
<path fill="#282088" d="M773 464l8 14 5-15-8-25z"/>
<path fill="#282888" d="M837 447l7 15 3 4-8-13z"/>
<path fill="#282890" d="M739 459l9-13 4 14-9 7z"/>
<path fill="#301880" d="M632 472l8 10 5-11-9-15z"/>
<path fill="#302088" d="M567 453l8 16 5 0-9-12z"/>
<path fill="#3088c8" d="M614 418l6-42 4 6-6 38z"/>
<path fill="#381878" d="M770 475l8 10 5-8-9-15z"/>
<path fill="#382098" d="M643 472l8 6 4-15-8-10z"/>
<path fill="#3830b0" d="M601 461l8-12 5 8-8 8z"/>
<path fill="#3868f0" d="M747 455l7-9 5-36-8 18z"/>
<path fill="#3878f8" d="M607 445l7-24 2-31-6 38z"/>
<path fill="#3890c8" d="M699 422l8-4 4-47-8 9z"/>
<path fill="#401878" d="M846 477l8 12 4-4-8-11z"/>
<path fill="#507848" d="M658 338l8 13 5-15-8-12z"/>
<path fill="#6020a8" d="M639 481l8 5 5-9-9-7z"/>
<path fill="#6038ff" d="M798 478l8-6 4-15-9 9z"/>
<path fill="#6838ff" d="M523 474l7-5 4-15-8 10z"/>
<path fill="#7820b0" d="M876 490l10 3 3-4-9-3z"/>
<path fill="#7830f0" d="M794 486l9-1 4-15-9 5z"/>
<path fill="#8030e8" d="M519 482l7-1 4-15-7 6z"/>
<path fill="#8820c8" d="M859 492l9 2 4-5-9-2z"/>
<path fill="#8828d8" d="M790 491l9 0 4-9-9 2z"/>
<path fill="#9028d0" d="M783 489l9 3 4-8-9-2z"/>
<path fill="#203088" d="M552 435l10 6 4 8-9-5z"/>
<path fill="#203888" d="M649 435l9 16 5-10-9-17z"/>
<path fill="#204888" d="M786 402l6 39 4 0-7-35z"/>
<path fill="#206080" d="M783 376l7 33 2 17-7-25z"/>
<path fill="#282088" d="M763 465l8 11 5-12-8-16zM840 461l7 18 4-3-8-16z"/>
<path fill="#282888" d="M560 440l8 16 5 3-9-12zM646 455l8 11 5-17-9-15z"/>
<path fill="#286890" d="M706 417l7 9 5-42-8-13z"/>
<path fill="#302898" d="M591 464l7-21 6 18-8 9z"/>
<path fill="#381880" d="M767 468l8 17 4 0-9-12z"/>
<path fill="#3850f0" d="M812 452l9-11 3 1-9 10zM536 449l7-12 5 0-7 11z"/>
<path fill="#3898e8" d="M610 428l6-38 4-14-6 42z"/>
<path fill="#401870" d="M773 482l9 10 4-3-9-7zM635 481l9 7 4-3-9-6z"/>
<path fill="#401878" d="M842 483l9 11 4-6-8-12z"/>
<path fill="#4030c8" d="M580 472l8-17 5 8-8 10z"/>
<path fill="#4050ff" d="M750 461l8-1 4-19-8 2z"/>
<path fill="#4828b0" d="M569 469l9 5 5-3-9-5z"/>
<path fill="#487850" d="M714 336l7-10 4 35-7 8z"/>
<path fill="#50c8c8" d="M696 406l8-23 3-41-8 33z"/>
<path fill="#5840ff" d="M650 478l7-5 4-24-8 14z"/>
<path fill="#681890" d="M890 495l10 5 3-4-9-5z"/>
<path fill="#6820a0" d="M883 492l10 4 3-4-9-4z"/>
<path fill="#7020a0" d="M849 493l9 5 4-6-9-6z"/>
<path fill="#7020a8" d="M780 491l9 2 4-3-9-2z"/>
<path fill="#8030e8" d="M646 486l8-1 4-14-8 5z"/>
<path fill="#8828d0" d="M866 493l10 2 3-5-9-2z"/>
<path fill="#9028d0" d="M514 488l9 1 4-10-8 1z"/>
<path fill="#203888" d="M777 439l8 25 5-15-8-35zM709 407l7 42 4 13-8-20z"/>
<path fill="#204888" d="M782 414l7 35 4-8-7-39z"/>
<path fill="#282088" d="M562 454l9 17 5-3-9-15zM836 468l8 17 4-6-8-19z"/>
<path fill="#282888" d="M636 458l8 15 5-18-9-28zM625 463l8 10 5-16-9-17zM729 461l8-24 5 23-9 10z"/>
<path fill="#2838a8" d="M619 457l7 6 5-23-8-8z"/>
<path fill="#287070" d="M622 385l8-35 6 32-8 24z"/>
<path fill="#3038b0" d="M756 460l9 6 4-17-8-9z"/>
<path fill="#3068d0" d="M661 442l7-30 4 5-7 26z"/>
<path fill="#381880" d="M628 467l9 16 4-2-8-11z"/>
<path fill="#3850f0" d="M612 459l8-2 3-25-7 4z"/>
<path fill="#3870e8" d="M610 450l6-11 3-43-6 23z"/>
<path fill="#401870" d="M839 492l8 8 5-7-9-11z"/>
<path fill="#4060ff" d="M808 460l10-10 3-9-10 11z"/>
<path fill="#487850" d="M721 326l7 14 4 33-8-12z"/>
<path fill="#5050ff" d="M805 472l9-5 3-18-9 8z"/>
<path fill="#6038ff" d="M801 484l9-2 4-18-9 6z"/>
<path fill="#6838ff" d="M525 481l8-2 3-19-7 6z"/>
<path fill="#68b068" d="M703 363l8-36 4 9-8 34z"/>
<path fill="#7020b8" d="M787 493l10-5 3 2-10 0z"/>
<path fill="#7820a8" d="M845 499l9 4 5-7-9-5z"/>
<path fill="#7828c8" d="M873 494l10 3 3-5-9-3z"/>
<path fill="#7828d0" d="M642 487l9-3 4-1-10 1z"/>
<path fill="#7830f0" d="M797 491l9-1 4-10-9 2z"/>
<path fill="#8028e0" d="M521 489l8 1 4-14-8 2z"/>
<path fill="#8828d8" d="M863 498l9 2 4-7-9-1z"/>
<path fill="#9028d0" d="M856 497l9 2 4-7-9-1z"/>
<path fill="#202888" d="M614 446l10 9 3 8-9-6z"/>
<path fill="#203088" d="M833 447l8 16 4-1-8-16zM746 447l9-4 3 17-8 1zM712 430l8 30 3 7-7-21z"/>
<path fill="#203888" d="M767 451l8 14 5-26-8-24z"/>
<path fill="#282088" d="M621 454l9 16 4 3-9-13z"/>
<path fill="#282888" d="M607 450l8-4 6 11-9 2zM761 452l7 18 4 6-9-12z"/>
<path fill="#283090" d="M718 459l9-10 4 12-8 6z"/>
<path fill="#302080" d="M832 481l8 12 5-9-8-16z"/>
<path fill="#3060d8" d="M819 443l10-1 3-1-10 2z"/>
<path fill="#307070" d="M716 386l8 29 5-30-8-38z"/>
<path fill="#381878" d="M771 475l7 17 4 0-9-10z"/>
<path fill="#3860e8" d="M541 438l10-2 4-1-9 4z"/>
<path fill="#3878f8" d="M657 451l7-26 4-13-7 30z"/>
<path fill="#401878" d="M828 494l9 7 5-9-9-12z"/>
<path fill="#4058ff" d="M532 457l8-11 4-9-8 12zM654 465l7-13 3-27-7 26z"/>
<path fill="#501890" d="M776 490l10 0 4 3-10-2z"/>
<path fill="#5050ff" d="M529 469l7-6 4-18-8 9z"/>
<path fill="#5830e8" d="M565 476l9 5 5-9-9-4z"/>
<path fill="#601890" d="M835 500l9 5 4-7-8-8z"/>
<path fill="#682098" d="M887 499l9 5 4-5-9-5z"/>
<path fill="#7020b8" d="M880 496l10 4 3-5-9-4z"/>
<path fill="#7038f8" d="M804 490l9 1 4-10-8-1z"/>
<path fill="#7830e8" d="M527 489l8 2 5-14-8-1z"/>
<path fill="#8028d0" d="M870 499l9 3 4-7-9-2z"/>
<path fill="#80d888" d="M700 377l7-35 4-15-7 36z"/>
<path fill="#8828d0" d="M517 492l8 2 5-6-9-2z"/>
<path fill="#9020c8" d="M853 502l9 2 4-7-10-2z"/>
<path fill="#203088" d="M555 441l9 16 5-2-9-15zM754 443l8 9 3 14-8-6z"/>
<path fill="#203888" d="M826 441l9 8 4 0-9-9z"/>
<path fill="#204888" d="M638 428l9 28 5-19-9-40z"/>
<path fill="#206080" d="M646 382l8 45 5 2-8-40z"/>
<path fill="#282088" d="M558 462l9 15 5-7-9-16z"/>
<path fill="#302080" d="M554 476l9 11 5-11-9-15z"/>
<path fill="#307068" d="M769 371l8-8 3 29-8 6zM776 363l8 13 2 27-7-11z"/>
<path fill="#3070d0" d="M754 446l7-3 5-39-8 6z"/>
<path fill="#381880" d="M631 474l9 12 4 2-9-8z"/>
<path fill="#382088" d="M822 487l8 8 5-14-8-12z"/>
<path fill="#40b8e8" d="M751 431l8-18 4-35-9 26z"/>
<path fill="#481888" d="M551 489l9 6 5-10-9-11z"/>
<path fill="#4840e8" d="M577 474l6-19 5 1-7 16z"/>
<path fill="#4840f0" d="M808 482l8 1 5-20-8 1z"/>
<path fill="#487848" d="M724 331l7 41 4 7-7-39z"/>
<path fill="#502090" d="M818 494l9 7 4-8-8-8z"/>
<path fill="#5020a0" d="M794 489l9-5 4 5-10 2z"/>
<path fill="#5038f0" d="M531 479l8 0 4-20-8 1z"/>
<path fill="#581888" d="M825 500l9 6 4-6-9-8z"/>
<path fill="#5828c8" d="M811 491l9 5 4-10-8-6z"/>
<path fill="#5840ff" d="M653 485l8-7 3-23-8 17z"/>
<path fill="#681890" d="M894 503l9 5 4-5-9-5z"/>
<path fill="#6828c8" d="M534 490l8 4 5-13-9-5z"/>
<path fill="#6830d8" d="M562 486l8 4 5-12-9-4z"/>
<path fill="#7820c0" d="M877 501l9 4 4-7-9-3z"/>
<path fill="#8020c0" d="M506 495l9 0 4-3-8-2z"/>
<path fill="#8828d8" d="M523 493l9 2 5-6-9-2z"/>
<path fill="#9028d0" d="M860 504l9 2 4-8-9-2z"/>
<path fill="#203088" d="M829 455l8 16 5-8-8-17zM551 450l9 14 5-8-9-16z"/>
<path fill="#203888" d="M548 436l9 7 5-1-9-8z"/>
<path fill="#204088" d="M629 443l8 16 4-32-9-27z"/>
<path fill="#205098" d="M761 443l7 8 5-36-8-11z"/>
<path fill="#282888" d="M825 471l9 12 5-14-9-15z"/>
<path fill="#2848b0" d="M822 449l9 8 5-9-9-7z"/>
<path fill="#286880" d="M681 399l8-36 4 53-7 17z"/>
<path fill="#307070" d="M643 353l8 39 4 21-9-29z"/>
<path fill="#382098" d="M544 483l9 7 4-15-8-11z"/>
<path fill="#3830c0" d="M815 483l8 5 5-18-8-7z"/>
<path fill="#4020a0" d="M638 485l8-10 5 9-9 4z"/>
<path fill="#4030c0" d="M538 479l8 4 4-19-8-5z"/>
<path fill="#4058ff" d="M812 467l8-1 5-18-9 1zM535 463l7-1 4-19-7 2z"/>
<path fill="#4070ff" d="M816 452l9-1 3-10-9 0zM538 447l8-1 4-10-8 1z"/>
<path fill="#48a898" d="M758 394l8-30 4 7-8 28z"/>
<path fill="#5030d0" d="M649 485l8-13 4 4-8 9z"/>
<path fill="#6020a8" d="M540 493l9 5 5-10-9-8z"/>
<path fill="#6820a0" d="M547 497l9 5 5-8-9-7z"/>
<path fill="#701898" d="M891 508l9 5 4-6-9-6z"/>
<path fill="#7020a8" d="M884 504l9 5 4-6-9-6z"/>
<path fill="#7020b8" d="M530 494l8 4 5-6-8-4zM512 494l10 0 4-2-9-1z"/>
<path fill="#7828c8" d="M558 495l8 3 5-10-8-4z"/>
<path fill="#8820c0" d="M554 501l8 3 5-8-8-3z"/>
<path fill="#8828d0" d="M867 505l9 3 4-8-9-3z"/>
<path fill="#9020c0" d="M495 498l9 1 5-5-9-2z"/>
<path fill="#9020c8" d="M856 509l9 3 4-8-9-2z"/>
<path fill="#203888" d="M596 445l8-21 6 28-8 10z"/>
<path fill="#206080" d="M642 397l9 40 4-10-8-45z"/>
<path fill="#282888" d="M547 466l9 11 5-14-9-14zM624 451l8 26 5 5-9-14zM764 448l8 29 3 8-9-16z"/>
<path fill="#2840b0" d="M587 458l6-31 6 17-7 21z"/>
<path fill="#287890" d="M671 420l7-55 5 34-8 36z"/>
<path fill="#302080" d="M801 485l10-1 3 7-10-1z"/>
<path fill="#3040b8" d="M819 466l8 6 5-17-8-7z"/>
<path fill="#3040c0" d="M541 461l8 6 4-18-8-6z"/>
<path fill="#3050c0" d="M544 445l9 7 5-10-9-7z"/>
<path fill="#3088c8" d="M616 439l7-4 3-48-7 9z"/>
<path fill="#381878" d="M815 490l9 11 4 0-9-8z"/>
<path fill="#3860f8" d="M657 473l7-15 3-43-8 36z"/>
<path fill="#401870" d="M822 499l9 10 4-3-9-7z"/>
<path fill="#4020a0" d="M784 491l9-10 4 8-10 5z"/>
<path fill="#481888" d="M693 498l9 6 4-9-8-11z"/>
<path fill="#487848" d="M720 347l8 39 4-14-8-41z"/>
<path fill="#5048ff" d="M573 481l7-17 4-9-7 19z"/>
<path fill="#5840ff" d="M569 490l8-8 3-18-8 16z"/>
<path fill="#58d8c0" d="M754 406l9-28 3-14-8 30z"/>
<path fill="#601880" d="M829 507l9 7 4-5-9-5z"/>
<path fill="#6820a0" d="M536 497l9 5 5-5-9-6z"/>
<path fill="#7820a8" d="M881 510l9 4 4-7-9-5z"/>
<path fill="#7830f0" d="M565 498l8-2 4-17-8 8z"/>
<path fill="#78c078" d="M703 383l7-9 4-42-7 10z"/>
<path fill="#8020c0" d="M874 507l9 4 4-8-9-4z"/>
<path fill="#8028d0" d="M502 498l9-2 4-3-9 0z"/>
<path fill="#9020c8" d="M863 511l10 3 4-8-10-3z"/>
<path fill="#9028c8" d="M491 502l9 0 4-5-8-1z"/>
<path fill="#204088" d="M736 438l8-24 4 35-8 12zM709 425l7 35 4 0-8-30z"/>
<path fill="#206080" d="M771 417l8 24 5-25-8-33z"/>
<path fill="#282088" d="M697 487l8 10 5-15-9-20zM768 466l7 24 4 1-8-16zM686 487l9 12 4-13-8-22zM627 467l9 16 4 3-9-12z"/>
<path fill="#286880" d="M702 368l9 41 2 33-7-22z"/>
<path fill="#286890" d="M622 435l8 8 3-43-8-13z"/>
<path fill="#301880" d="M808 484l10 7 3 4-10-5z"/>
<path fill="#3058d8" d="M715 459l8-13 5 3-9 11z"/>
<path fill="#307068" d="M780 370l6 35 4 4-7-33z"/>
<path fill="#382098" d="M773 488l10-1 3 4-9 0z"/>
<path fill="#401870" d="M689 497l9 10 5-3-9-8z"/>
<path fill="#4058f8" d="M660 478l7-8 4-32-8 17z"/>
<path fill="#481870" d="M532 497l9 7 5-3-9-6z"/>
<path fill="#481888" d="M525 494l9 5 5-2-9-4z"/>
<path fill="#4850ff" d="M708 484l8-5 4-22-8 9z"/>
<path fill="#487848" d="M710 374l7 13 4-40-7-15zM629 350l7-11 5 35-7 9z"/>
<path fill="#50c8d0" d="M613 422l6-23 3-41-7 33z"/>
<path fill="#6020a0" d="M519 493l9 2 5-1-10-3z"/>
<path fill="#6038ff" d="M704 497l8-2 4-19-8 5z"/>
<path fill="#6828c8" d="M508 496l9-2 5-1-10 0z"/>
<path fill="#8030e8" d="M700 504l9 1 4-12-9 1z"/>
<path fill="#8820c0" d="M870 513l10 4 4-8-9-4z"/>
<path fill="#8828d0" d="M561 504l8 1 5-11-9 1z"/>
<path fill="#8828e0" d="M497 502l9-2 5-5-9 1z"/>
<path fill="#889038" d="M709 328l9-10 5 9-9 12z"/>
<path fill="#9020c8" d="M557 508l8 1 5-6-9-1z"/>
<path fill="#203088" d="M700 464l9 20 4-16-8-30z"/>
<path fill="#203888" d="M617 428l9 26 4 16-8-14z"/>
<path fill="#204088" d="M704 439l8 30 5-9-8-35zM758 420l8 30 2 20-7-16z"/>
<path fill="#204888" d="M603 424l7-7 6 32-8 3z"/>
<path fill="#282088" d="M791 482l9-10 4 14-9 5z"/>
<path fill="#283090" d="M644 478l8-25 6 21-9 12z"/>
<path fill="#2850a0" d="M726 451l8-35 4 22-8 24z"/>
<path fill="#302080" d="M683 482l8 18 4-2-8-13z"/>
<path fill="#3030b0" d="M634 482l8-16 5 10-8 10z"/>
<path fill="#3038b8" d="M655 475l8-15 5 8-8 10z"/>
<path fill="#307068" d="M776 384l7 33 4-13-7-34z"/>
<path fill="#381878" d="M820 492l7 16 4 0-9-10z"/>
<path fill="#3830b8" d="M780 489l9-16 5 9-10 10z"/>
<path fill="#4068ff" d="M711 469l10-10 2-12-9 12z"/>
<path fill="#481068" d="M826 506l8 10 4-3-9-7z"/>
<path fill="#4838e8" d="M770 490l10-1 3-1-10 0z"/>
<path fill="#487848" d="M636 339l7 14 5 33-7-12z"/>
<path fill="#5040ff" d="M572 496l7-7 3-27-7 18z"/>
<path fill="#50b8a8" d="M758 413l8-6 4-36-8 7z"/>
<path fill="#581880" d="M539 502l9 7 5-4-9-6z"/>
<path fill="#5828b8" d="M514 494l9 2 5-2-9-2z"/>
<path fill="#6838ff" d="M707 505l9-4 3-18-8 10z"/>
<path fill="#68b070" d="M619 379l6-37 5 8-6 35z"/>
<path fill="#701898" d="M832 515l10 5 4-5-10-4z"/>
<path fill="#7028c0" d="M696 506l10-2 4-1-10-1z"/>
<path fill="#707830" d="M717 318l8 16 4 9-9-17z"/>
<path fill="#7830f0" d="M568 505l8-2 3-17-7 7z"/>
<path fill="#9028c8" d="M487 507l8 0 5-7-8 0z"/>
<path fill="#e8f060" d="M706 345l9-10 3-17-8 9z"/>
<path fill="#203088" d="M679 475l9 13 4-22-8-24z"/>
<path fill="#203888" d="M690 467l8 20 5-22-9-41z"/>
<path fill="#204888" d="M610 417l7 11 6 28-8-7z"/>
<path fill="#282088" d="M813 477l8 17 3 7-9-10z"/>
<path fill="#282888" d="M799 472l8-2 3 17-8 0zM676 465l8 20 4 3-8-16zM764 464l7 27 4-1-7-24z"/>
<path fill="#286880" d="M705 374l8 59 3 16-7-42z"/>
<path fill="#301880" d="M686 489l8 16 5 1-10-9z"/>
<path fill="#307070" d="M631 402l9 28 5-31-10-38z"/>
<path fill="#3070d0" d="M583 458l6-35 4 4-6 31z"/>
<path fill="#307870" d="M765 406l7 12 5-34-8-13z"/>
<path fill="#387860" d="M688 363l7-13 5 59-8 7z"/>
<path fill="#401870" d="M535 504l8 8 6-4-9-7z"/>
<path fill="#401878" d="M528 498l8 8 6-3-9-7z"/>
<path fill="#402090" d="M521 494l9 6 5-2-9-5z"/>
<path fill="#4850ff" d="M711 495l8-9 4-32-9 23z"/>
<path fill="#487848" d="M772 358l9 14 3 7-8-15z"/>
<path fill="#5828c8" d="M703 505l9-10 4 4-9 6z"/>
<path fill="#609858" d="M764 366l10-8 4 7-9 9z"/>
<path fill="#7020a8" d="M541 510l9 4 5-4-9-4z"/>
<path fill="#7030f0" d="M504 499l9-1 4-5-9 1z"/>
<path fill="#707830" d="M712 334l9 16 5-18-9-14z"/>
<path fill="#7820b0" d="M846 520l10 1 4-3-10-2z"/>
<path fill="#8020b0" d="M839 519l10 1 4-3-10-3z"/>
<path fill="#8020c0" d="M552 510l10-2 4-1-9-1z"/>
<path fill="#80d888" d="M616 393l6-35 4-16-7 37z"/>
<path fill="#8828e0" d="M563 508l9-2 4-5-9 2zM493 507l9-1 4-8-8 2z"/>
<path fill="#9020c8" d="M483 512l8 1 5-8-8 0z"/>
<path fill="#202888" d="M623 466l8 18 5-2-8-16z"/>
<path fill="#203888" d="M620 435l8 34 5 8-9-26zM661 461l9-5 5 11-9 3zM669 456l9 11 3 8-9-9z"/>
<path fill="#204088" d="M761 427l7 42 4 8-8-29z"/>
<path fill="#204898" d="M673 468l8 7 4-33-8-11z"/>
<path fill="#205880" d="M744 414l8-8 3 40-8 3zM751 406l8 14 2 34-7-8z"/>
<path fill="#282888" d="M806 470l9 8 2 14-8-5z"/>
<path fill="#3068d8" d="M666 470l8-2 3-37-7 7z"/>
<path fill="#381878" d="M752 510l9 8 4-10-8-16z"/>
<path fill="#3860ff" d="M576 482l7-18 2-28-6 31z"/>
<path fill="#387860" d="M695 350l8 18 3 52-7-11z"/>
<path fill="#401878" d="M823 504l8 15 4-3-9-11z"/>
<path fill="#402098" d="M692 503l9-6 5 8-9 2z"/>
<path fill="#40b8e0" d="M660 452l8-36 2-43-6 55z"/>
<path fill="#487848" d="M639 345l8 40 4 7-8-39z"/>
<path fill="#5838ff" d="M574 503l8-2 3-24-7 9z"/>
<path fill="#5840ff" d="M766 498l9 0 4-10-9 0z"/>
<path fill="#601890" d="M829 517l9 6 4-5-9-4z"/>
<path fill="#6028b8" d="M559 509l8-8 6 4-9 4z"/>
<path fill="#6030f0" d="M510 497l9 2 5-5-9-1z"/>
<path fill="#6820a0" d="M854 520l10 3 3-3-10-3z"/>
<path fill="#6838ff" d="M763 509l8 0 5-14-9 0z"/>
<path fill="#7030f0" d="M570 506l9-3 4-5-9 3zM500 505l8-1 5-8-9 1z"/>
<path fill="#8020c0" d="M836 522l10 1 3-4-9-2z"/>
<path fill="#8030e8" d="M759 518l9 2 4-13-9-1z"/>
<path fill="#8828d8" d="M489 513l8 0 5-10-8 2z"/>
<path fill="#98f088" d="M762 381l8-8 4-15-9 6z"/>
<path fill="#206080" d="M592 429l7-28 6 25-7 20z"/>
<path fill="#282088" d="M756 493l8 16 5-11-8-24zM615 494l9 10 5-14-9-15zM817 485l7 22 4 1-8-17z"/>
<path fill="#282888" d="M760 475l8 23 4-7-7-27zM619 476l8 16 5-9-8-17z"/>
<path fill="#381880" d="M523 501l9 8 5-4-8-8z"/>
<path fill="#3850e0" d="M630 483l8-19 4 2-7 17z"/>
<path fill="#3880f0" d="M579 467l6-31 4-13-6 35z"/>
<path fill="#401878" d="M530 507l9 8 5-4-8-8zM601 511l8 8 5-11-8-13z"/>
<path fill="#402098" d="M612 509l8 6 5-13-9-10z"/>
<path fill="#4048e8" d="M777 490l9-17 4 0-9 16z"/>
<path fill="#487848" d="M635 362l8 38 4-15-8-40z"/>
<path fill="#5028c0" d="M517 498l8 5 6-5-9-5z"/>
<path fill="#5048ff" d="M714 501l8-6 4-23-8 11z"/>
<path fill="#507848" d="M768 372l8 14 5-15-8-13z"/>
<path fill="#50a888" d="M667 415l7-62 4 12-7 55z"/>
<path fill="#581888" d="M748 519l9 6 5-8-9-9z"/>
<path fill="#581890" d="M826 520l9 7 4-6-9-5z"/>
<path fill="#601890" d="M861 522l9 4 4-3-10-4z"/>
<path fill="#6820a8" d="M608 518l8 4 5-9-8-7z"/>
<path fill="#6838ff" d="M506 504l8 1 5-7-8-2z"/>
<path fill="#70c078" d="M619 399l7-9 3-43-7 11z"/>
<path fill="#7820c0" d="M537 514l9 4 5-6-9-3z"/>
<path fill="#7828c0" d="M843 522l10 1 4-3-10-2z"/>
<path fill="#7828d0" d="M548 513l9-6 5 1-10 2z"/>
<path fill="#8030e8" d="M496 513l8 0 4-11-8 1z"/>
<path fill="#8828d0" d="M755 524l9 3 5-9-9-2z"/>
<path fill="#9020c8" d="M485 518l8 2 5-9-8 0z"/>
<path fill="#203898" d="M788 475l9-14 4 12-9 11z"/>
<path fill="#282088" d="M605 497l8 12 5-16-9-23z"/>
<path fill="#282888" d="M679 462l8 30 4 7-9-17z"/>
<path fill="#302088" d="M594 505l8 7 5-16-9-14z"/>
<path fill="#3090c0" d="M722 449l8-40 4 7-8 36z"/>
<path fill="#381878" d="M820 506l8 16 4-4-8-14zM590 506l9 10 5-5-9-9z"/>
<path fill="#381880" d="M741 510l9 10 5-10-9-17z"/>
<path fill="#3830b0" d="M710 497l9-11 5 8-9 7z"/>
<path fill="#3860f0" d="M578 489l7-9 3-37-7 19z"/>
<path fill="#3880f8" d="M715 479l9-23 3-32-8 36z"/>
<path fill="#401870" d="M597 514l9 8 5-5-9-8zM745 519l9 9 4-4-9-7z"/>
<path fill="#4028a8" d="M583 502l9 6 5-4-9-6z"/>
<path fill="#40b0d8" d="M663 458l7-17 3-61-7 35z"/>
<path fill="#4840e0" d="M581 500l8 1 3-26-7 2z"/>
<path fill="#487850" d="M625 390l8 13 3-42-8-14z"/>
<path fill="#501888" d="M526 513l9 8 5-7-9-8z"/>
<path fill="#5048ff" d="M623 504l8-8 3-21-8 15z"/>
<path fill="#581888" d="M868 525l9 6 4-4-9-5z"/>
<path fill="#5830d8" d="M512 504l9 5 5-8-8-4z"/>
<path fill="#58c8a0" d="M664 428l6-55 4-20-6 62z"/>
<path fill="#6038ff" d="M576 503l9 1 5-5-9-1z"/>
<path fill="#6820a0" d="M604 521l9 5 5-5-9-5z"/>
<path fill="#6838f8" d="M619 515l8-2 4-20-8 8zM767 520l8-3 4-19-9 9z"/>
<path fill="#7030f0" d="M502 512l8 2 5-11-8-1z"/>
<path fill="#8828d8" d="M615 522l8 1 5-13-9 2zM492 520l8 1 5-11-9 0zM833 526l10 1 3-6-9-1z"/>
<path fill="#204888" d="M650 454l8-25 6 34-8 12z"/>
<path fill="#282888" d="M745 496l9 15 5-17-9-29zM735 500l8 11 5-16-8-18zM682 480l8 21 5 4-9-16z"/>
<path fill="#2850a0" d="M641 469l7-37 5 21-7 25z"/>
<path fill="#286880" d="M693 425l9 40 4-24-8-59z"/>
<path fill="#302898" d="M699 499l9-20 5 18-9 9z"/>
<path fill="#381878" d="M738 505l9 16 4-2-9-11z"/>
<path fill="#3820a0" d="M565 502l8-7 6 8-8 4z"/>
<path fill="#3830b0" d="M588 500l7 5 4-23-8-7z"/>
<path fill="#3850e8" d="M721 495l8-1 4-25-8 3z"/>
<path fill="#4058ff" d="M627 492l7-17 4-10-8 19z"/>
<path fill="#40a8e8" d="M719 460l8-36 3-15-7 40z"/>
<path fill="#482098" d="M519 507l9 8 5-7-9-8z"/>
<path fill="#4858ff" d="M774 498l9-16 3-9-8 17z"/>
<path fill="#5030c8" d="M555 509l7-12 6 5-8 8z"/>
<path fill="#5048ff" d="M770 509l9-8 4-19-10 14z"/>
<path fill="#582098" d="M858 523l9 5 4-3-10-4z"/>
<path fill="#6820a0" d="M822 526l9 6 5-7-9-6z"/>
<path fill="#6820b8" d="M851 522l9 3 4-3-10-3z"/>
<path fill="#6830d8" d="M509 513l8 4 5-10-8-5z"/>
<path fill="#7820b0" d="M752 527l9 3 4-5-9-3z"/>
<path fill="#7830e8" d="M544 517l9-7 4-2-9 5z"/>
<path fill="#8028d0" d="M533 520l9 3 5-7-9-3z"/>
<path fill="#8028e0" d="M840 526l10 1 3-5-9-1z"/>
<path fill="#8828d0" d="M611 525l9 1 4-5-9-2z"/>
<path fill="#8828e0" d="M763 526l8 0 5-12-9 3zM498 521l8 2 5-12-8-1z"/>
<path fill="#9020c8" d="M487 525l9 3 5-9-9-2z"/>
<path fill="#909838" d="M624 343l8-10 5 7-8 13z"/>
<path fill="#202888" d="M717 486l9-3 4 11-9 1z"/>
<path fill="#203088" d="M810 466l8 21 3 7-8-16z"/>
<path fill="#203888" d="M608 471l9 24 4-17-9-34z"/>
<path fill="#204088" d="M796 461l8-3 4 14-9 3z"/>
<path fill="#204888" d="M615 430l9 39 4 0-8-35z"/>
<path fill="#206080" d="M612 404l9 33 4 17-9-26z"/>
<path fill="#282088" d="M732 491l8 17 4 2-9-12z"/>
<path fill="#282888" d="M814 484l7 24 4-2-8-22z"/>
<path fill="#2838a8" d="M728 494l8 6 5-23-8-9z"/>
<path fill="#286880" d="M683 445l8 22 5-42-9-41z"/>
<path fill="#3030a8" d="M689 500l8-10 5 8-9 7z"/>
<path fill="#307070" d="M732 418l9-34 5 32-9 24z"/>
<path fill="#381878" d="M816 513l8 14 4-6-8-15z"/>
<path fill="#3878e8" d="M718 486l8-11 4-44-8 23z"/>
<path fill="#481878" d="M600 521l9 7 5-3-10-5z"/>
<path fill="#501880" d="M865 527l9 6 4-3-9-6z"/>
<path fill="#581880" d="M872 532l9 7 4-5-9-6z"/>
<path fill="#5820a8" d="M515 516l9 6 5-9-9-7z"/>
<path fill="#602098" d="M522 521l9 6 5-8-9-7z"/>
<path fill="#7020b0" d="M511 525l9 4 5-9-9-6z"/>
<path fill="#7030f0" d="M770 526l9 0 4-15-9 3z"/>
<path fill="#7030f8" d="M622 522l8-2 4-19-8 9z"/>
<path fill="#707830" d="M631 333l9 15 4 8-9-17z"/>
<path fill="#7820b0" d="M819 533l9 5 4-8-9-5z"/>
<path fill="#7828c8" d="M505 522l8 4 5-11-8-4z"/>
<path fill="#7830e8" d="M540 523l9-4 4-9-9 6z"/>
<path fill="#8028d0" d="M759 529l10-2 3-2-10-1z"/>
<path fill="#8828c8" d="M529 526l9 3 5-8-9-3z"/>
<path fill="#8828d8" d="M829 531l10 1 4-7-10-1z"/>
<path fill="#9028c8" d="M494 527l8 3 5-9-8-3z"/>
<path fill="#203888" d="M598 484l8 14 4-28-9-23z"/>
<path fill="#204088" d="M803 458l9 9 2 13-8-8zM749 466l8 29 5-18-7-42z"/>
<path fill="#204888" d="M672 434l9 30 3 21-8-17zM611 444l9 34 4-9-8-39z"/>
<path fill="#205880" d="M758 420l7 47 3 2-6-42z"/>
<path fill="#282088" d="M572 495l8-2 6 10-9 1zM579 494l9 6 4 8-9-5z"/>
<path fill="#282888" d="M725 483l9 9 3 8-9-7z"/>
<path fill="#302088" d="M586 499l9 13 4 3-9-9z"/>
<path fill="#3070e0" d="M785 475l9-16 4 2-9 15z"/>
<path fill="#381878" d="M593 510l9 13 4-1-8-9zM742 513l8 15 4 0-9-10z"/>
<path fill="#387860" d="M702 362l7 66 4 5-7-59z"/>
<path fill="#401878" d="M812 524l9 10 4-7-8-15z"/>
<path fill="#4848ff" d="M626 513l7-9 4-33-8 23z"/>
<path fill="#501880" d="M808 534l9 6 5-7-9-10z"/>
<path fill="#5040ff" d="M774 517l8-4 4-24-8 9z"/>
<path fill="#582098" d="M748 527l10 2 4 0-10-3z"/>
<path fill="#6028b8" d="M854 527l10 5 4-5-10-5z"/>
<path fill="#6820b8" d="M607 527l9-4 4 1-9 1z"/>
<path fill="#687838" d="M677 368l7-52 6 49-8 37z"/>
<path fill="#7028d8" d="M847 526l10 3 4-6-10-2z"/>
<path fill="#7820a8" d="M518 528l9 5 5-8-9-6z"/>
<path fill="#8020b0" d="M507 532l9 4 5-8-9-5z"/>
<path fill="#8030e8" d="M618 525l9-5 4-2-10 3zM837 531l9 1 4-7-9-1z"/>
<path fill="#8820c0" d="M501 529l8 4 5-9-8-4z"/>
<path fill="#8828d0" d="M826 537l9 1 4-8-9-1z"/>
<path fill="#e0f060" d="M621 361l8-11 3-17-7 9z"/>
<path fill="#203088" d="M678 479l8 23 5-1-8-21z"/>
<path fill="#204088" d="M739 480l8 16 5-31-8-28z"/>
<path fill="#205098" d="M591 478l8 7 3-38-8-11z"/>
<path fill="#205880" d="M754 435l7 42 4-10-7-47z"/>
<path fill="#282088" d="M805 510l9 16 4-11-8-22z"/>
<path fill="#282888" d="M810 494l7 21 4-7-7-24z"/>
<path fill="#287070" d="M755 390l7 40 3 21-8-31z"/>
<path fill="#3030b0" d="M561 499l8-11 6 8-9 8z"/>
<path fill="#307068" d="M598 401l7-9 6 28-7 7z"/>
<path fill="#3070d0" d="M585 480l7-2 2-42-7 7z"/>
<path fill="#381878" d="M801 526l9 9 5-11-8-15z"/>
<path fill="#387860" d="M698 382l7 59 4-13-7-66z"/>
<path fill="#4068ff" d="M778 501l8-9 4-23-9 13z"/>
<path fill="#40b0f0" d="M582 464l6-18 3-36-7 27z"/>
<path fill="#482090" d="M791 530l9 7 4-11-8-10z"/>
<path fill="#501888" d="M798 536l9 6 4-8-8-10z"/>
<path fill="#501890" d="M862 530l9 7 4-5-9-6z"/>
<path fill="#5038f0" d="M551 512l7-13 5-1-7 12z"/>
<path fill="#581880" d="M869 536l9 7 4-6-9-6z"/>
<path fill="#5820a8" d="M755 529l10-7 4 5-10 2z"/>
<path fill="#6038f8" d="M777 525l9 2 4-16-9-1z"/>
<path fill="#6828d0" d="M766 527l10-3 3 0-10 1z"/>
<path fill="#701898" d="M805 541l9 5 4-7-9-7z"/>
<path fill="#707830" d="M627 349l9 15 4-18-8-13z"/>
<path fill="#7830e8" d="M844 531l9 3 4-7-9-3z"/>
<path fill="#8020b0" d="M815 539l10 4 4-7-9-5z"/>
<path fill="#8028e0" d="M536 529l9-1 4-11-8 3z"/>
<path fill="#8828e0" d="M833 538l10 1 4-9-10-1z"/>
<path fill="#9020c8" d="M823 542l9 3 4-9-9-1z"/>
<path fill="#9028d0" d="M532 535l8 1 5-11-8 2z"/>
<path fill="#203888" d="M706 480l9-20 4 28-8 10z"/>
<path fill="#204088" d="M675 441l8 42 4 9-8-30zM807 465l7 22 4 0-7-21z"/>
<path fill="#206080" d="M658 429l7-8 5 38-7 4zM665 421l8 13 4 34-8-9z"/>
<path fill="#282088" d="M735 490l8 26 4 5-9-15zM795 518l8 9 5-17-8-15z"/>
<path fill="#302080" d="M589 506l8 17 5 0-9-13z"/>
<path fill="#307068" d="M605 392l8 12 5 27-8-11z"/>
<path fill="#381880" d="M667 526l8 8 5-13-8-13z"/>
<path fill="#401878" d="M596 521l9 8 4-2-9-7z"/>
<path fill="#4048e0" d="M781 513l8 0 5-26-9 2z"/>
<path fill="#4048e8" d="M685 502l9-13 4 1-8 11z"/>
<path fill="#4088ff" d="M781 485l10-15 3-10-9 15z"/>
<path fill="#482098" d="M745 526l10 2 3 1-10-2z"/>
<path fill="#4828b0" d="M613 524l9-11 5 8-9 5z"/>
<path fill="#48a8a0" d="M588 426l6-31 5 6-6 29z"/>
<path fill="#5028b0" d="M773 525l10 1 4-1-10-1z"/>
<path fill="#5028c0" d="M784 526l8 5 5-15-8-6z"/>
<path fill="#5040ff" d="M629 520l8-4 3-26-7 11z"/>
<path fill="#50a888" d="M670 441l7-7 3-68-7 14z"/>
<path fill="#581888" d="M865 541l9 7 5-7-9-7z"/>
<path fill="#5820a0" d="M858 536l9 6 5-6-9-7z"/>
<path fill="#5840ff" d="M547 519l8-12 4-8-8 13z"/>
<path fill="#602098" d="M663 536l9 5 5-9-9-8z"/>
<path fill="#6038f0" d="M624 522l9-7 5-1-10 5z"/>
<path fill="#6828c8" d="M851 533l9 4 5-7-10-4z"/>
<path fill="#687838" d="M698 320l8 57 4 33-9-41z"/>
<path fill="#8028e8" d="M841 539l9 2 4-9-9-2z"/>
<path fill="#9028d0" d="M830 544l9 2 4-9-9-1z"/>
<path fill="#203088" d="M674 490l9 21 4-9-8-24zM799 497l8 15 5-17-8-20zM567 489l8-2 6 8-8 2z"/>
<path fill="#206080" d="M600 449l9 24 5-28-10-31z"/>
<path fill="#282888" d="M670 509l9 14 5-13-9-21z"/>
<path fill="#2848a8" d="M696 492l8-30 5 18-8 20z"/>
<path fill="#286090" d="M732 471l8 9 4-43-7-14z"/>
<path fill="#302088" d="M739 507l7 21 5 0-9-15z"/>
<path fill="#3038b0" d="M788 513l8 6 5-24-8-8z"/>
<path fill="#3080c8" d="M792 461l10-3 3 1-9 4z"/>
<path fill="#3088c0" d="M725 475l8-4 4-48-7 8z"/>
<path fill="#3088c8" d="M637 467l6-41 5 6-7 37z"/>
<path fill="#381878" d="M780 525l10 6 4-1-10-6zM656 529l9 8 5-11-9-16z"/>
<path fill="#382090" d="M762 523l10-7 4 9-9 3z"/>
<path fill="#387860" d="M677 434l7 11 4-61-8-18z"/>
<path fill="#3878f8" d="M630 496l8-22 2-33-7 37z"/>
<path fill="#401878" d="M788 529l8 10 5-3-9-8z"/>
<path fill="#481068" d="M794 537l9 8 5-4-9-7z"/>
<path fill="#4858ff" d="M682 510l9-9 3-12-9 12z"/>
<path fill="#5048ff" d="M678 523l8-5 4-19-8 9z"/>
<path fill="#58d0c8" d="M585 439l6-29 3-15-6 31z"/>
<path fill="#6028c8" d="M603 528l8-7 5 2-9 5z"/>
<path fill="#6820a8" d="M855 543l9 6 4-8-9-6z"/>
<path fill="#6838ff" d="M543 528l8-6 4-15-9 10z"/>
<path fill="#7030f8" d="M674 534l8-1 4-17-8 4z"/>
<path fill="#7828d0" d="M848 540l9 4 4-8-9-5z"/>
<path fill="#8030e8" d="M539 536l8-1 4-15-8 5z"/>
<path fill="#8828d8" d="M670 541l9 2 4-12-9 0zM837 546l9 3 4-10-9-3z"/>
<path fill="#203088" d="M574 487l10 7 4 7-10-6z"/>
<path fill="#203888" d="M729 466l8 26 3 16-8-14z"/>
<path fill="#204088" d="M803 476l8 20 4-9-8-22z"/>
<path fill="#205088" d="M799 458l9 10 4 1-9-11z"/>
<path fill="#282088" d="M649 520l8 9 5-18-8-16zM638 515l9 7 5-2-9-7z"/>
<path fill="#282888" d="M581 493l9 16 5 3-9-13zM660 513l8 14 5-18-9-28z"/>
<path fill="#2850a0" d="M792 490l8 8 5-23-8-8z"/>
<path fill="#302080" d="M645 520l9 12 5-3-9-11z"/>
<path fill="#307068" d="M608 399l8 34 5 4-9-33z"/>
<path fill="#381878" d="M591 524l9 8 5-4-9-8z"/>
<path fill="#3848e0" d="M636 516l7 0 4-30-8 4z"/>
<path fill="#3850f0" d="M557 501l7-12 6 0-8 11z"/>
<path fill="#3870f0" d="M785 492l8-2 5-23-9 2z"/>
<path fill="#38a0e8" d="M633 478l7-37 4-15-7 41z"/>
<path fill="#401870" d="M652 530l9 11 5-5-9-9z"/>
<path fill="#40a8ff" d="M789 472l9-3 4-11-9 2z"/>
<path fill="#4830c8" d="M752 529l9-11 4 5-9 7z"/>
<path fill="#4838e8" d="M631 517l10-1 4-2-10 0z"/>
<path fill="#487848" d="M740 384l8-10 4 35-8 8zM748 374l8 16 3 33-8-14z"/>
<path fill="#50c8c8" d="M722 457l8-23 4-42-9 33z"/>
<path fill="#601888" d="M659 539l9 6 5-5-9-6z"/>
<path fill="#681898" d="M862 548l9 5 4-7-9-6z"/>
<path fill="#7820b0" d="M851 551l9 4 5-8-9-5z"/>
<path fill="#8020c0" d="M844 548l9 4 5-10-9-4z"/>
<path fill="#8828c8" d="M666 544l9 2 5-5-9-2z"/>
<path fill="#9028d0" d="M535 542l8 2 5-11-9 0z"/>
<path fill="#b0d860" d="M667 418l7-35 3-59-8 51z"/>
<path fill="#204888" d="M714 460l8-6 4 32-8 3z"/>
<path fill="#205890" d="M795 468l9 10 5-12-9-8z"/>
<path fill="#282088" d="M584 508l9 18 5-4-9-16zM770 517l9-1 4 10-9 0zM778 516l9 7 3 8-9-5z"/>
<path fill="#282888" d="M620 515l8-11 6 13-9 5zM735 507l8 23 4-2-8-21z"/>
<path fill="#287070" d="M743 439l8 29 5-31-8-39z"/>
<path fill="#302080" d="M785 522l8 13 4 3-9-9z"/>
<path fill="#3038a8" d="M642 515l8 6 4-26-8-9z"/>
<path fill="#307068" d="M603 414l9 33 5-14-9-34z"/>
<path fill="#307070" d="M646 434l8-35 6 32-8 25z"/>
<path fill="#3830c0" d="M609 523l8-17 6 8-8 11z"/>
<path fill="#3870e8" d="M633 504l7-11 3-45-7 23z"/>
<path fill="#401870" d="M655 537l9 10 5-2-9-7z"/>
<path fill="#401878" d="M792 533l8 13 4-1-9-9z"/>
<path fill="#402098" d="M587 531l9 8 5-8-9-8z"/>
<path fill="#4058ff" d="M553 509l9-10 3-10-9 12z"/>
<path fill="#481068" d="M798 544l9 9 4-4-9-6z"/>
<path fill="#48b8b0" d="M587 446l7-7 3-37-7 8z"/>
<path fill="#5030d8" d="M741 529l10 2 4-3-10-2z"/>
<path fill="#5048ff" d="M681 533l8-7 4-28-8 18z"/>
<path fill="#5050ff" d="M550 522l7-5 4-19-8 9z"/>
<path fill="#6038f8" d="M599 532l8-9 5-2-9 8z"/>
<path fill="#6838ff" d="M546 535l8-2 3-19-7 6z"/>
<path fill="#68b068" d="M729 412l9-36 4 8-9 35z"/>
<path fill="#7830f0" d="M677 542l9-1 4-18-9 8z"/>
<path fill="#8828e0" d="M542 543l8 2 4-14-8 1zM673 546l10-2 4-5-10 1z"/>
<path fill="#9020c8" d="M537 548l9 3 5-8-9-2z"/>
<path fill="#203088" d="M577 494l9 16 5-1-9-16z"/>
<path fill="#203888" d="M732 474l7 36 4 6-7-26z"/>
<path fill="#204088" d="M663 482l9 29 4-19-8-41z"/>
<path fill="#204888" d="M722 454l7 12 4 28-8-8z"/>
<path fill="#205880" d="M671 435l8 46 4 2-8-42z"/>
<path fill="#282088" d="M580 516l9 16 5-7-9-18z"/>
<path fill="#302080" d="M576 530l9 12 5-11-9-15z"/>
<path fill="#307870" d="M594 439l8 11 3-36-8-12z"/>
<path fill="#3078d0" d="M693 492l7-34 5 4-8 31z"/>
<path fill="#381880" d="M648 523l9 17 4 0-8-11z"/>
<path fill="#3860e8" d="M563 491l9-1 5-2-10 2z"/>
<path fill="#401870" d="M795 544l9 12 4-4-9-9z"/>
<path fill="#481880" d="M573 544l8 6 5-10-9-11z"/>
<path fill="#4840f0" d="M749 531l9-12 4-1-9 11z"/>
<path fill="#487850" d="M751 381l7 42 4 7-7-40z"/>
<path fill="#5038f0" d="M552 533l8 1 4-21-8 1z"/>
<path fill="#5820a8" d="M584 541l8 6 5-10-8-8z"/>
<path fill="#6038ff" d="M738 537l9 2 4-9-9-2z"/>
<path fill="#681898" d="M802 555l9 5 4-5-9-5z"/>
<path fill="#6820b0" d="M662 546l10 0 4-1-10-2z"/>
<path fill="#6828c0" d="M555 546l8 4 5-14-8-5z"/>
<path fill="#6838ff" d="M595 538l9-5 3-10-9 8z"/>
<path fill="#687838" d="M686 386l9 41 5-43-9-55z"/>
<path fill="#68a060" d="M593 397l8-9 5 5-8 11z"/>
<path fill="#7020b0" d="M580 550l8 4 5-9-8-6z"/>
<path fill="#7828e0" d="M548 544l9 2 4-15-8-1z"/>
<path fill="#8020b0" d="M819 557l10 2 4-4-10-3z"/>
<path fill="#886820" d="M684 316l7-17 5 54-8 13z"/>
<path fill="#88d888" d="M726 427l8-35 4-16-8 36z"/>
<path fill="#9028d0" d="M544 550l9 3 5-9-9-2z"/>
<path fill="#202888" d="M627 504l8-3 5 16-8 1z"/>
<path fill="#203888" d="M569 489l9 8 6-2-9-8z"/>
<path fill="#204088" d="M653 497l8 16 5-32-9-28z"/>
<path fill="#282888" d="M731 517l8 20 4-7-8-23zM641 509l9 17 4 6-9-11z"/>
<path fill="#302080" d="M788 529l8 18 4-1-8-13z"/>
<path fill="#302088" d="M727 533l8 14 5-10-8-21z"/>
<path fill="#3030a8" d="M759 520l9-10 5 8-10 7z"/>
<path fill="#307070" d="M668 404l8 40 4 21-9-31z"/>
<path fill="#382090" d="M566 537l8 7 5-14-9-12z"/>
<path fill="#3868ff" d="M685 518l9-17 3-29-8 30z"/>
<path fill="#401878" d="M723 548l9 8 5-10-9-14z"/>
<path fill="#4030c0" d="M559 533l8 5 4-19-8-6z"/>
<path fill="#4058ff" d="M556 516l8 0 4-20-8 2z"/>
<path fill="#507848" d="M600 389l9 13 4 5-8-15z"/>
<path fill="#5828b0" d="M669 546l9-7 5 4-10 3z"/>
<path fill="#5838ff" d="M685 541l8-2 4-24-9 8z"/>
<path fill="#6020a8" d="M562 549l8 4 5-11-8-7z"/>
<path fill="#7020a0" d="M569 553l8 4 6-8-9-8z"/>
<path fill="#7030f0" d="M734 546l9 2 4-12-9-2zM680 544l10-3 4-5-10 3z"/>
<path fill="#7820a8" d="M827 558l9 3 4-4-9-3z"/>
<path fill="#7830f0" d="M591 546l8-2 4-13-8 5z"/>
<path fill="#8020b8" d="M809 559l9 2 4-5-9-2z"/>
<path fill="#8020c0" d="M551 552l9 4 5-8-9-5z"/>
<path fill="#8820b8" d="M533 552l9 2 5-5-9-3z"/>
<path fill="#8828e0" d="M730 555l9 3 4-12-8-2z"/>
<path fill="#886820" d="M691 299l8 21 4 51-8-18z"/>
<path fill="#98f090" d="M590 413l8-8 3-17-7 7z"/>
<path fill="#b89030" d="M673 356l7-55 5 15-7 52z"/>
<path fill="#202888" d="M634 501l9 8 4 13-8-5z"/>
<path fill="#203088" d="M573 503l9 16 5-10-9-15z"/>
<path fill="#205880" d="M667 451l8 41 5-11-9-46z"/>
<path fill="#206080" d="M703 464l8-27 5 25-8 20z"/>
<path fill="#282888" d="M569 520l9 12 5-15-9-15z"/>
<path fill="#2850c0" d="M565 498l9 7 5-10-8-7z"/>
<path fill="#3040b8" d="M562 515l9 6 4-18-8-7z"/>
<path fill="#3088c0" d="M639 493l8-4 3-49-7 8z"/>
<path fill="#381878" d="M651 536l9 13 5-2-9-10z"/>
<path fill="#3888f0" d="M689 502l8-30 3-14-7 34z"/>
<path fill="#401878" d="M712 550l9 8 5-11-9-13zM791 547l9 13 4-4-8-12z"/>
<path fill="#4048e8" d="M606 525l7-19 5 1-8 17z"/>
<path fill="#4070ff" d="M559 501l8-2 5-10-8 0z"/>
<path fill="#487850" d="M747 398l8 40 4-15-7-42z"/>
<path fill="#5048ff" d="M745 539l10-10 3-10-10 12z"/>
<path fill="#507848" d="M596 403l9 14 4-17-8-12z"/>
<path fill="#601898" d="M719 557l9 5 5-8-9-8z"/>
<path fill="#6028c0" d="M658 547l10-2 4 1-10 0z"/>
<path fill="#6038f8" d="M687 541l9 1 5-5-10-1z"/>
<path fill="#6038ff" d="M741 548l9-5 4-15-9 8z"/>
<path fill="#681898" d="M798 559l9 5 5-5-10-6z"/>
<path fill="#701898" d="M834 560l10 5 4-5-10-4z"/>
<path fill="#70c078" d="M729 434l8-8 4-43-8 9z"/>
<path fill="#7820b0" d="M558 555l8 4 6-7-9-5zM540 553l9 3 5-5-9-3z"/>
<path fill="#8020c0" d="M816 560l10 2 4-4-10-2z"/>
<path fill="#8828d8" d="M587 554l8 0 5-12-9 2z"/>
<path fill="#9020c8" d="M726 561l9 3 5-8-9-3zM583 559l8 3 5-10-9-1z"/>
<path fill="#203088" d="M767 511l9-2 4 9-9 1zM774 509l10 8 3 7-10-7z"/>
<path fill="#282088" d="M716 536l8 13 6-16-9-24zM644 516l9 22 4 2-8-17z"/>
<path fill="#282888" d="M782 516l8 16 3 3-8-13z"/>
<path fill="#2840a0" d="M616 508l8-15 5 12-8 11z"/>
<path fill="#286090" d="M646 489l8 9 3-45-8-13z"/>
<path fill="#302088" d="M705 543l9 8 5-16-9-15z"/>
<path fill="#381878" d="M701 545l9 10 5-5-9-9z"/>
<path fill="#3820a0" d="M676 540l9-7 5 8-9 4z"/>
<path fill="#3830b0" d="M698 539l9 5 4-23-8-8z"/>
<path fill="#3850f0" d="M756 522l9-11 4-1-9 11z"/>
<path fill="#3860f0" d="M689 526l7-8 4-38-8 18z"/>
<path fill="#401870" d="M708 553l9 9 5-5-9-9z"/>
<path fill="#4020a0" d="M694 541l9 6 5-5-9-6z"/>
<path fill="#4040e0" d="M692 538l8 1 4-26-8 2z"/>
<path fill="#487848" d="M736 426l8 14 5-42-8-15z"/>
<path fill="#50c8d0" d="M636 474l7-23 3-42-7 33z"/>
<path fill="#681890" d="M715 560l9 6 5-5-9-6z"/>
<path fill="#701898" d="M553 558l9 5 6-6-9-4z"/>
<path fill="#7020a8" d="M546 555l9 4 6-5-9-4z"/>
<path fill="#7030f8" d="M594 554l8-2 4-19-8 8z"/>
<path fill="#7820b0" d="M823 561l10 4 4-5-10-3z"/>
<path fill="#7830e8" d="M738 557l8-1 4-15-9 5z"/>
<path fill="#8020c0" d="M528 555l9 2 6-5-9-2z"/>
<path fill="#8820c8" d="M805 563l10 3 4-6-10-2z"/>
<path fill="#8828d0" d="M734 564l9 1 4-11-9 1z"/>
<path fill="#886820" d="M694 306l8 59 4 12-8-57z"/>
<path fill="#9020c8" d="M518 559l8 2 5-6-8-2z"/>
<path fill="#e8b840" d="M670 376l7-52 3-23-6 55z"/>
<path fill="#203888" d="M720 510l8 25 5-16-8-36z"/>
<path fill="#204888" d="M728 470l8 39 4 1-8-37z"/>
<path fill="#206080" d="M725 442l8 34 3 17-8-27z"/>
<path fill="#282088" d="M785 531l8 19 4-4-8-17z"/>
<path fill="#302080" d="M647 538l9 14 5-4-9-13z"/>
<path fill="#401878" d="M788 554l8 12 5-7-9-12z"/>
<path fill="#481068" d="M712 561l9 9 4-5-9-6z"/>
<path fill="#4830c8" d="M665 547l9-12 5 5-9 7z"/>
<path fill="#4850ff" d="M602 533l8-17 3-9-7 19z"/>
<path fill="#487848" d="M653 400l8-11 5 35-8 8zM660 389l8 15 5 33-8-13z"/>
<path fill="#5848ff" d="M598 544l8-9 3-19-8 16z"/>
<path fill="#6038ff" d="M745 556l8-1 5-20-9 6z"/>
<path fill="#681890" d="M838 566l9 6 4-5-9-5z"/>
<path fill="#6820a0" d="M831 563l9 5 4-5-9-4z"/>
<path fill="#6830f0" d="M654 551l10-2 4-4-10 2z"/>
<path fill="#68b070" d="M643 429l7-37 4 8-7 35z"/>
<path fill="#7020a0" d="M795 564l9 6 4-7-9-6z"/>
<path fill="#7020a8" d="M542 558l9 4 5-4-9-5z"/>
<path fill="#707830" d="M744 368l9 16 3 9-8-18z"/>
<path fill="#7820b8" d="M535 556l9 3 5-4-9-4z"/>
<path fill="#7828c8" d="M820 566l9 3 5-6-10-3z"/>
<path fill="#8028e0" d="M741 565l9 1 4-14-9 2z"/>
<path fill="#8828d0" d="M813 565l9 2 4-6-9-2zM524 560l9 2 5-6-9-2z"/>
<path fill="#8828d8" d="M590 561l8 1 5-13-9 3z"/>
<path fill="#889038" d="M736 377l9-9 5 8-9 11z"/>
<path fill="#9020c8" d="M585 566l9 2 5-8-9-1zM513 564l9 2 5-7-9-2z"/>
<path fill="#9028d0" d="M802 569l9 2 4-7-9-2z"/>
<path fill="#203088" d="M637 498l8 21 5 7-9-17zM778 517l8 17 4-2-8-16z"/>
<path fill="#203888" d="M709 523l8 14 5-28-8-24z"/>
<path fill="#204088" d="M622 494l9-4 5 14-8 3z"/>
<path fill="#204888" d="M724 483l8 36 4-10-7-39z"/>
<path fill="#282088" d="M683 534l9-2 5 10-9 0zM781 539l8 17 5-7-8-18z"/>
<path fill="#287070" d="M656 455l8 29 5-32-9-38z"/>
<path fill="#301880" d="M643 546l9 12 5-7-9-14z"/>
<path fill="#302080" d="M698 538l9 14 4 3-9-10z"/>
<path fill="#3860e0" d="M763 512l10 0 4-2-11 1z"/>
<path fill="#401870" d="M784 564l9 8 4-8-8-11z"/>
<path fill="#401878" d="M705 549l9 14 4-2-9-9z"/>
<path fill="#4060ff" d="M752 530l10-9 3-10-10 10z"/>
<path fill="#5050ff" d="M749 543l8-5 4-19-8 9z"/>
<path fill="#681898" d="M549 561l9 5 5-5-9-5zM556 565l9 5 5-5-9-5z"/>
<path fill="#7020b8" d="M827 568l10 4 4-6-10-4z"/>
<path fill="#7030f8" d="M651 558l9-1 4-9-9 1z"/>
<path fill="#7820a8" d="M791 571l9 4 5-7-9-5z"/>
<path fill="#7830e8" d="M597 562l8 1 4-17-8 3zM748 566l9 2 4-15-8-1z"/>
<path fill="#8028c8" d="M531 561l9 3 5-6-9-3z"/>
<path fill="#8828d0" d="M737 569l9 2 5-7-10-1zM592 567l9 2 5-8-9-1z"/>
<path fill="#8828d8" d="M809 570l10 2 4-7-10-2z"/>
<path fill="#886820" d="M690 329l8 56 4-20-7-59z"/>
<path fill="#9020c8" d="M798 574l10 3 4-8-9-2z"/>
<path fill="#d0a038" d="M673 383l7-14 4-62-8 17z"/>
<path fill="#e8f060" d="M733 395l9-9 3-18-8 8z"/>
<path fill="#203888" d="M770 511l10 8 4-1-9-9z"/>
<path fill="#204088" d="M630 490l9 8 4 13-9-7z"/>
<path fill="#282088" d="M691 532l9 7 4 8-10-5z"/>
<path fill="#282888" d="M640 516l9 24 4-2-8-22z"/>
<path fill="#301880" d="M777 553l9 12 4-10-8-16z"/>
<path fill="#307068" d="M710 437l8-8 5 28-8 6z"/>
<path fill="#3070c8" d="M696 518l7-2 4-42-8 6z"/>
<path fill="#3070e0" d="M612 509l7-16 5 0-7 16z"/>
<path fill="#381878" d="M639 558l9 8 5-9-9-12z"/>
<path fill="#401880" d="M773 566l9 7 5-9-9-12z"/>
<path fill="#5038e8" d="M752 555l8 1 5-21-8 0z"/>
<path fill="#5040f0" d="M662 550l8-13 5-1-9 11z"/>
<path fill="#5040ff" d="M601 552l8-4 3-24-7 9z"/>
<path fill="#601890" d="M780 572l9 6 5-8-9-8z"/>
<path fill="#6020a0" d="M762 571l9 5 5-11-9-8z"/>
<path fill="#681890" d="M842 575l9 6 4-6-9-6z"/>
<path fill="#682098" d="M834 571l10 5 4-5-9-6z"/>
<path fill="#6820a0" d="M545 565l9 6 5-6-9-5z"/>
<path fill="#6828c0" d="M755 567l9 4 5-13-9-5z"/>
<path fill="#6830e0" d="M604 562l8 2 4-18-8-1z"/>
<path fill="#7020b8" d="M538 562l9 5 5-6-9-4z"/>
<path fill="#707830" d="M739 384l9 17 5-18-8-15z"/>
<path fill="#8020b8" d="M726 571l10 0 4-3-10-2z"/>
<path fill="#8028d0" d="M816 571l10 3 4-7-9-3zM744 570l9 2 5-6-10-3z"/>
<path fill="#8030e8" d="M647 566l8 0 5-12-9 1z"/>
<path fill="#80d888" d="M639 444l7-35 4-17-7 37z"/>
<path fill="#8820c0" d="M581 570l9 1 5-5-9-2z"/>
<path fill="#8828d0" d="M520 565l9 2 5-7-9-2z"/>
<path fill="#886820" d="M680 369l7 18 4-58-8-22z"/>
<path fill="#203088" d="M774 526l8 16 5-9-8-17z"/>
<path fill="#205098" d="M703 516l7 7 5-38-8-11z"/>
<path fill="#282888" d="M770 543l8 11 6-14-9-15zM636 527l9 21 4-8-8-24z"/>
<path fill="#3030b0" d="M672 537l9-10 5 7-9 8z"/>
<path fill="#307068" d="M718 429l8 13 3 27-7-12z"/>
<path fill="#381878" d="M628 561l9 8 5-11-9-15z"/>
<path fill="#382090" d="M766 560l9 7 5-15-9-11z"/>
<path fill="#401870" d="M708 561l9 12 5-4-9-9z"/>
<path fill="#4030c0" d="M759 555l9 5 4-19-8-6z"/>
<path fill="#4058ff" d="M756 538l8-1 5-19-9 1z"/>
<path fill="#4060ff" d="M605 536l7-9 4-24-8 13z"/>
<path fill="#4070ff" d="M760 522l9-1 4-10-9 0z"/>
<path fill="#40b0e8" d="M692 501l8-18 4-37-9 26z"/>
<path fill="#487848" d="M664 396l8 42 4 6-8-40z"/>
<path fill="#5828c0" d="M611 564l8 4 5-17-9-6z"/>
<path fill="#601898" d="M625 572l8 5 5-9-9-9z"/>
<path fill="#602098" d="M636 568l8 6 5-9-9-9z"/>
<path fill="#681898" d="M769 575l9 5 5-8-9-8zM552 569l9 6 5-6-9-6z"/>
<path fill="#7020a8" d="M715 571l9 4 5-4-10-4z"/>
<path fill="#7020b8" d="M751 571l10 5 4-6-9-5zM733 571l10 0 4-2-10-1z"/>
<path fill="#7820c0" d="M824 573l9 4 4-7-9-4z"/>
<path fill="#8020c0" d="M588 570l9 2 5-4-9-3z"/>
<path fill="#8828d8" d="M599 568l9 3 5-9-9-2zM527 566l9 3 5-7-9-3zM643 573l9 2 4-11-9 0z"/>
<path fill="#9028d0" d="M806 576l9 2 4-8-9-2zM516 571l9 2 5-8-9-2z"/>
<path fill="#204088" d="M633 498l8 21 5 0-9-21z"/>
<path fill="#282088" d="M632 544l9 15 5-12-9-21zM621 553l9 9 5-19-9-14z"/>
<path fill="#2848b0" d="M767 520l8 8 5-11-9-7z"/>
<path fill="#302080" d="M701 546l9 17 4 0-9-14z"/>
<path fill="#3040b8" d="M763 537l8 7 5-18-8-8z"/>
<path fill="#4040e0" d="M608 548l8 0 3-26-7 2z"/>
<path fill="#4080ff" d="M608 519l8-15 4-11-8 16z"/>
<path fill="#487848" d="M659 414l9 40 4-16-8-42z"/>
<path fill="#48a898" d="M699 461l8-30 5 6-8 28z"/>
<path fill="#5020a0" d="M618 567l8 5 5-12-9-10z"/>
<path fill="#5820a0" d="M740 570l10 3 4-2-10-3z"/>
<path fill="#5840ff" d="M658 557l9-11 3-9-8 13z"/>
<path fill="#681898" d="M758 575l10 5 4-6-9-6z"/>
<path fill="#701898" d="M838 580l10 6 4-7-9-6z"/>
<path fill="#7020a0" d="M548 575l9 5 5-7-9-5z"/>
<path fill="#7020a8" d="M831 576l9 5 5-6-10-6zM613 573l9 5 5-7-9-6zM541 571l9 5 5-7-9-5z"/>
<path fill="#7020b0" d="M595 571l9 3 5-4-9-3z"/>
<path fill="#70c078" d="M642 451l8-8 3-44-7 10z"/>
<path fill="#7820a0" d="M620 577l9 5 5-7-9-5z"/>
<path fill="#7820a8" d="M632 576l9 4 5-8-9-6z"/>
<path fill="#7828c0" d="M534 568l9 4 5-7-9-4z"/>
<path fill="#7828c8" d="M606 570l9 4 5-8-9-5zM722 574l10-1 4-3-10 0z"/>
<path fill="#8020c0" d="M820 580l9 4 5-8-9-5z"/>
<path fill="#8828c8" d="M577 574l9 0 5-4-9-2z"/>
<path fill="#8828d0" d="M813 577l9 3 5-8-10-3zM523 572l8 3 6-8-9-3z"/>
<path fill="#203088" d="M679 528l9-2 5 8-9 2zM625 531l9 15 5-19-10-19z"/>
<path fill="#206080" d="M713 487l8 25 5-27-8-33z"/>
<path fill="#282888" d="M694 532l9 17 4 3-9-14z"/>
<path fill="#3038b0" d="M615 548l8 5 4-24-8-8z"/>
<path fill="#307068" d="M721 437l8 36 4 3-8-34z"/>
<path fill="#3088d8" d="M618 494l9-3 5 0-9 5z"/>
<path fill="#401878" d="M704 564l9 13 5-5-9-11z"/>
<path fill="#481870" d="M755 575l9 8 5-4-10-6z"/>
<path fill="#481880" d="M748 571l9 6 4-2-9-5z"/>
<path fill="#487850" d="M649 443l8 13 4-42-8-15z"/>
<path fill="#581878" d="M762 581l9 7 5-5-10-5z"/>
<path fill="#58d8c0" d="M696 475l8-29 4-15-8 30z"/>
<path fill="#601888" d="M609 575l9 6 5-4-9-6z"/>
<path fill="#6020a0" d="M602 572l9 5 5-4-9-5z"/>
<path fill="#6038ff" d="M654 566l9-5 3-16-8 10z"/>
<path fill="#6828c8" d="M729 573l11-1 3-2-10 0z"/>
<path fill="#7820b0" d="M827 583l10 4 4-7-9-5zM536 577l9 5 6-8-9-5z"/>
<path fill="#7820c0" d="M711 575l10 4 4-6-9-3z"/>
<path fill="#7828c8" d="M584 573l9 1 5-4-9-1z"/>
<path fill="#8020c8" d="M530 574l8 4 6-8-9-4z"/>
<path fill="#8030e8" d="M650 575l9-1 4-15-9 5z"/>
<path fill="#803818" d="M687 287l8 21 4 15-8-23z"/>
<path fill="#8820c0" d="M817 586l9 4 4-8-9-4z"/>
<path fill="#8828d8" d="M573 578l9 0 5-6-9 0z"/>
<path fill="#9020c8" d="M809 584l10 3 4-8-9-3zM518 579l9 3 5-9-8-3z"/>
<path fill="#9028d0" d="M646 582l9 1 4-11-9 1z"/>
<path fill="#903818" d="M679 303l8-16 6 14-9 18z"/>
<path fill="#203088" d="M687 526l9 8 4 7-10-8z"/>
<path fill="#204088" d="M628 509l9 20 5-10-9-22z"/>
<path fill="#205080" d="M625 491l9 9 5 0-9-10z"/>
<path fill="#282088" d="M697 548l9 18 4-3-8-17z"/>
<path fill="#2850a8" d="M618 524l8 8 5-24-9-8z"/>
<path fill="#307068" d="M717 452l8 34 5-14-8-35z"/>
<path fill="#3850f0" d="M668 539l9-11 5-1-9 11z"/>
<path fill="#3870f0" d="M611 527l8-3 4-24-8 3z"/>
<path fill="#401878" d="M700 571l9 11 5-6-9-12z"/>
<path fill="#4060ff" d="M665 548l9-9 3-11-9 10z"/>
<path fill="#40a0ff" d="M614 506l9-3 4-12-8 2z"/>
<path fill="#481878" d="M696 581l9 8 5-8-9-11z"/>
<path fill="#48b8b0" d="M699 483l8-6 4-38-8 7z"/>
<path fill="#501880" d="M605 578l9 7 5-5-9-6z"/>
<path fill="#5028b0" d="M737 571l10 3 4-2-10-3z"/>
<path fill="#5050ff" d="M661 561l8-5 4-19-8 8z"/>
<path fill="#5820a0" d="M598 575l9 4 5-3-9-5z"/>
<path fill="#6038ff" d="M657 574l9-1 4-20-9 5z"/>
<path fill="#681890" d="M616 580l9 6 5-5-9-6z"/>
<path fill="#6828b8" d="M591 573l9 3 5-4-9-3z"/>
<path fill="#707830" d="M656 383l9 16 4 8-9-18z"/>
<path fill="#8028d0" d="M707 581l10 4 4-8-9-3z"/>
<path fill="#8028e8" d="M580 578l9 0 5-5-9-1z"/>
<path fill="#8030e8" d="M719 578l9-1 4-5-10 1z"/>
<path fill="#803818" d="M682 309l9 23 5-25-9-20z"/>
<path fill="#8820c0" d="M525 581l9 4 5-9-8-4z"/>
<path fill="#8828d0" d="M569 583l9 1 5-8-9 0z"/>
<path fill="#8828e0" d="M653 583l9 2 4-15-8 1z"/>
<path fill="#909838" d="M648 393l9-10 5 7-8 12z"/>
<path fill="#f86828" d="M676 327l8-17 4-23-8 14z"/>
<path fill="#203088" d="M690 534l9 16 4-2-8-16z"/>
<path fill="#282088" d="M693 557l9 16 5-7-9-19z"/>
<path fill="#2860a0" d="M621 502l9 9 5-12-9-9z"/>
<path fill="#302080" d="M689 570l9 12 5-10-9-16z"/>
<path fill="#307870" d="M706 477l8 11 5-36-8-13z"/>
<path fill="#3860e8" d="M675 530l10-1 4-2-10 1z"/>
<path fill="#401878" d="M751 576l10 9 4-3-9-8z"/>
<path fill="#402088" d="M744 572l10 6 4-2-10-5z"/>
<path fill="#481868" d="M759 583l9 8 4-4-9-7z"/>
<path fill="#481880" d="M685 584l9 7 5-10-9-12z"/>
<path fill="#5038e8" d="M664 573l9 1 4-22-8 1z"/>
<path fill="#507848" d="M714 425l8 15 4 5-8-16z"/>
<path fill="#581880" d="M612 583l9 7 5-5-9-6z"/>
<path fill="#601888" d="M766 590l9 7 5-6-10-6z"/>
<path fill="#6030e8" d="M733 575l10 3 4-6-10-2z"/>
<path fill="#681898" d="M693 590l9 5 5-8-10-8z"/>
<path fill="#6828c0" d="M667 586l9 4 5-14-9-5z"/>
<path fill="#68a060" d="M706 433l9-8 5 5-9 10z"/>
<path fill="#7028d8" d="M587 577l9 3 5-6-9-2z"/>
<path fill="#7030f8" d="M726 577l10-1 4-5-10 1z"/>
<path fill="#707830" d="M651 401l9 16 5-20-9-14z"/>
<path fill="#7828e0" d="M660 584l9 2 4-15-8-1z"/>
<path fill="#8028e0" d="M576 583l9 1 4-8-8 0z"/>
<path fill="#8030e8" d="M715 584l9-1 4-8-9 2z"/>
<path fill="#8828c8" d="M704 588l9 3 4-8-9-4z"/>
<path fill="#8828d8" d="M711 591l9 0 5-10-10 1z"/>
<path fill="#9020c8" d="M649 588l9 3 5-9-9-1z"/>
<path fill="#9028d0" d="M656 590l9 3 5-9-9-2zM565 589l9 2 4-9-8-1z"/>
<path fill="#e0f060" d="M645 412l8-10 4-19-8 9z"/>
<path fill="#203088" d="M686 543l9 16 5-9-9-17z"/>
<path fill="#203888" d="M682 528l10 8 4-2-9-8z"/>
<path fill="#282888" d="M682 560l9 12 5-15-9-15z"/>
<path fill="#2848b8" d="M678 537l9 8 5-11-9-7z"/>
<path fill="#3040b8" d="M675 555l9 6 4-18-8-7z"/>
<path fill="#381878" d="M748 580l9 8 4-4-9-9z"/>
<path fill="#382090" d="M678 577l9 8 5-15-9-12z"/>
<path fill="#401870" d="M755 587l9 9 5-6-10-8z"/>
<path fill="#4030c0" d="M671 573l9 5 4-19-8-7z"/>
<path fill="#4058ff" d="M668 556l8-1 5-19-9 1z"/>
<path fill="#4070ff" d="M672 539l8-1 5-10-9 0z"/>
<path fill="#4828b8" d="M740 576l10 6 4-5-9-6z"/>
<path fill="#487848" d="M709 441l9 14 5-17-9-13z"/>
<path fill="#502090" d="M601 582l9 7 5-6-9-6z"/>
<path fill="#581880" d="M608 587l9 7 5-5-9-7zM762 594l9 7 5-6-9-6z"/>
<path fill="#6020a8" d="M674 589l9 5 5-11-9-8z"/>
<path fill="#6028c0" d="M594 579l9 5 5-6-9-5z"/>
<path fill="#7020a0" d="M681 593l10 5 4-9-9-7z"/>
<path fill="#7030f0" d="M722 583l9-1 5-8-10 1z"/>
<path fill="#7820a8" d="M670 595l9 5 5-8-9-5z"/>
<path fill="#7820b0" d="M652 593l9 4 5-6-9-3z"/>
<path fill="#7830e8" d="M583 583l9 3 5-8-9-2z"/>
<path fill="#8020c0" d="M663 592l9 4 5-8-9-4z"/>
<path fill="#8030e8" d="M718 591l9 0 5-11-9 1z"/>
<path fill="#8820b8" d="M645 592l9 2 5-5-9-3z"/>
<path fill="#8820c0" d="M634 595l9 2 5-6-10-2z"/>
<path fill="#8828d8" d="M572 590l8 2 5-10-8-1z"/>
<path fill="#9028d0" d="M707 597l9 2 5-10-9 0z"/>
<path fill="#98f090" d="M703 449l8-7 4-17-8 6z"/>
<path fill="#481878" d="M751 593l9 8 5-6-9-9z"/>
<path fill="#482090" d="M744 587l9 8 5-8-9-8z"/>
<path fill="#581890" d="M747 601l9 7 5-8-9-8z"/>
<path fill="#5820a0" d="M740 596l9 6 5-9-9-8z"/>
<path fill="#5830d8" d="M736 583l10 5 4-8-9-5z"/>
<path fill="#601888" d="M758 600l10 6 4-6-9-7z"/>
<path fill="#601890" d="M604 593l9 7 5-7-9-7z"/>
<path fill="#6020a0" d="M597 588l9 6 5-7-9-6z"/>
<path fill="#6820a8" d="M655 599l9 4 5-5-9-4z"/>
<path fill="#6820b0" d="M593 596l9 5 5-8-9-6z"/>
<path fill="#6828d0" d="M733 592l9 5 5-11-9-5z"/>
<path fill="#6838ff" d="M729 582l10 2 4-8-9-2z"/>
<path fill="#701898" d="M666 598l10 6 4-6-9-5zM755 606l9 6 5-7-10-7z"/>
<path fill="#7020a0" d="M600 600l9 6 5-8-9-6z"/>
<path fill="#7020a8" d="M659 595l9 5 5-5-9-5z"/>
<path fill="#7028d0" d="M590 585l9 4 5-7-9-5z"/>
<path fill="#7030f0" d="M726 591l9 2 4-11-9-2z"/>
<path fill="#7820b8" d="M648 597l9 3 5-5-9-3z"/>
<path fill="#7828d0" d="M586 593l9 4 5-10-9-4z"/>
<path fill="#8020c0" d="M641 596l9 2 5-5-10-3z"/>
<path fill="#8020c8" d="M582 601l9 3 5-9-9-4z"/>
<path fill="#8028e0" d="M579 591l8 2 5-9-8-3z"/>
<path fill="#8828d0" d="M575 598l8 3 5-10-8-2zM637 600l9 2 5-6-9-2z"/>
<path fill="#8828d8" d="M714 599l9 1 5-11-9 0z"/>
<path fill="#8828e0" d="M722 600l9 3 4-12-9-2z"/>
<path fill="#9020c8" d="M710 605l10 3 4-10-9-2z"/>
<path fill="#9028c8" d="M630 600l9 1 5-6-10-2z"/>
<path fill="#9028d0" d="M568 597l8 2 5-10-9-1z"/>
<path fill="#681890" d="M666 611l9 5 5-6-9-5z"/>
<path fill="#681898" d="M662 602l10 5 5-5-10-5z"/>
<path fill="#6820a0" d="M658 606l10 6 5-6-10-6z"/>
<path fill="#701898" d="M662 616l9 6 5-7-9-6z"/>
<path fill="#7020a0" d="M743 609l10 5 4-8-9-7z"/>
<path fill="#7020a8" d="M736 605l9 5 5-10-9-6zM654 612l10 5 5-7-10-5z"/>
<path fill="#7020b8" d="M651 603l9 5 5-6-9-5z"/>
<path fill="#7820b0" d="M589 603l9 5 5-9-9-5zM650 619l10 5 5-8-10-6z"/>
<path fill="#7828c0" d="M647 609l9 4 5-7-9-4z"/>
<path fill="#7828c8" d="M729 602l9 4 5-11-9-5z"/>
<path fill="#8020b0" d="M732 612l10 4 4-8-9-5z"/>
<path fill="#8020c0" d="M643 616l9 4 5-9-9-4z"/>
<path fill="#8028c8" d="M644 601l9 3 5-6-9-3z"/>
<path fill="#8028d0" d="M640 607l9 3 5-7-9-3z"/>
<path fill="#8820c0" d="M725 609l9 4 5-9-9-4zM639 623l9 3 5-8-9-4z"/>
<path fill="#8828d0" d="M636 614l9 3 5-9-9-3z"/>
<path fill="#8828d8" d="M633 606l9 2 5-8-9-1z"/>
<path fill="#9020c8" d="M632 620l9 4 5-9-9-3z"/>
<path fill="#9028c8" d="M718 607l9 3 5-10-10-2zM626 605l9 2 5-8-10-1z"/>
<path fill="#9028d0" d="M629 612l9 2 5-8-9-2z"/></g>
<g id="bC" transform="scale(0.2)"><path fill="#7020b0" d="M736 351l10 3 5-4-10-3zM744 353l10 3 5-4-11-3z"/>
<path fill="#7020b8" d="M717 350l10 2 4-3-10-3z"/>
<path fill="#7020c0" d="M697 349l11 2 4-3-10-3z"/>
<path fill="#7028c0" d="M678 349l10 2 5-4-10-2z"/>
<path fill="#7820b0" d="M740 348l10 3 5-4-10-4zM748 350l10 4 4-5-10-3zM728 349l11 3 4-4-10-3zM756 353l10 3 4-4-10-4zM763 355l10 3 5-4-10-3z"/>
<path fill="#7820b8" d="M721 347l10 3 4-4-10-3zM701 347l10 2 5-4-10-3zM682 346l10 3 5-4-10-3zM709 348l10 3 5-4-10-3zM690 348l10 2 4-4-10-2z"/>
<path fill="#7820c0" d="M670 347l10 3 5-4-10-3z"/>
<path fill="#8020b0" d="M705 344l10 2 5-4-10-3zM732 346l10 3 5-4-10-4z"/>
<path fill="#8020b8" d="M686 343l10 3 5-5-10-3zM667 343l10 3 5-5-10-3zM713 345l10 3 5-4-10-3zM655 345l10 2 5-4-10-3zM694 345l10 3 4-5-10-3zM674 345l10 2 5-4-10-3z"/>
<path fill="#8020c0" d="M663 346l10 2 4-4-10-2zM651 349l10 1 5-4-10-2z"/>
<path fill="#8028c8" d="M658 350l11 1 4-4-10-2z"/>
<path fill="#8820c0" d="M643 347l10 3 5-5-10-3zM639 351l10 2 5-5-10-2zM627 353l10 3 5-6-10-2z"/>
<path fill="#5828b0" d="M720 352l11 2 4-1-10-3z"/>
<path fill="#6028c8" d="M701 352l11 0 4-1-11-2z"/>
<path fill="#6820b0" d="M732 353l10 3 5-3-10-3zM740 355l10 3 5-3-11-3zM748 357l10 3 4-2-10-4z"/>
<path fill="#6828b8" d="M713 351l10 2 4-2-10-2z"/>
<path fill="#6828c0" d="M693 351l11 1 4-2-10-2z"/>
<path fill="#6828c8" d="M674 351l10 2 5-3-11-3zM681 352l11 1 4-2-10-2z"/>
<path fill="#7020a8" d="M775 362l10 4 5-4-11-4z"/>
<path fill="#7020b0" d="M752 355l10 4 4-4-10-4zM759 358l11 3 4-4-10-3zM767 360l11 3 4-3-10-4z"/>
<path fill="#7020b8" d="M724 351l11 3 4-3-10-3z"/>
<path fill="#7028c0" d="M705 350l10 2 5-3-11-2zM686 350l10 2 4-3-10-3z"/>
<path fill="#7028d8" d="M662 353l10 1 5-3-11-2z"/>
<path fill="#7820a8" d="M779 360l10 3 5-4-11-4zM787 362l10 4 4-5-10-3z"/>
<path fill="#7820b0" d="M771 357l10 4 5-5-10-3z"/>
<path fill="#7828c8" d="M666 350l10 2 5-4-10-2z"/>
<path fill="#7828d8" d="M654 353l10 1 5-4-10-2z"/>
<path fill="#7828e0" d="M650 356l10 1 5-5-10-1z"/>
<path fill="#8028c8" d="M635 355l10 1 5-5-10-2z"/>
<path fill="#8028d0" d="M647 352l10 2 4-5-10-2zM630 358l10 2 5-5-10-2z"/>
<path fill="#8028d8" d="M642 356l10 1 5-5-10-1z"/>
<path fill="#8820c0" d="M611 360l10 2 5-5-10-3zM599 362l10 3 5-6-10-2z"/>
<path fill="#8820c8" d="M623 357l10 2 5-5-10-2z"/>
<path fill="#4028a8" d="M724 353l11 3 4 0-11-3z"/>
<path fill="#4828b0" d="M716 352l11 1 4 1-10-2z"/>
<path fill="#5020a8" d="M736 355l10 4 5-2-11-3zM744 358l10 3 5-2-11-3zM752 360l10 3 4-1-10-4z"/>
<path fill="#5030d0" d="M697 353l10-1 5 0-11-1z"/>
<path fill="#5030e0" d="M685 354l11 0 4-1-11-1z"/>
<path fill="#5820a8" d="M728 353l11 3 4-1-11-3z"/>
<path fill="#5828c0" d="M709 352l10 0 4 0-10-1z"/>
<path fill="#6020a0" d="M779 366l10 4 5-2-11-4z"/>
<path fill="#6020a8" d="M771 364l11 3 4-2-10-4z"/>
<path fill="#6020b0" d="M756 359l10 3 4-2-10-4zM763 361l11 4 4-3-10-3z"/>
<path fill="#6028d0" d="M689 353l11 0 4-1-11-2z"/>
<path fill="#6030d8" d="M677 354l11 1 4-3-10-1z"/>
<path fill="#6030e0" d="M665 356l11 0 4-2-10-2z"/>
<path fill="#6830d8" d="M669 353l11 2 4-3-10-2z"/>
<path fill="#6830e0" d="M658 356l10 0 4-3-10-1z"/>
<path fill="#7020a8" d="M783 365l10 4 5-4-11-4zM791 367l10 5 4-4-10-4zM799 370l10 5 4-5-10-4z"/>
<path fill="#7030e0" d="M646 359l10 0 4-4-10 0zM634 362l10-1 5-3-11 0z"/>
<path fill="#7828d8" d="M638 359l10 0 5-4-10-1z"/>
<path fill="#8028c8" d="M619 361l9 2 5-5-10-2z"/>
<path fill="#8028d0" d="M614 365l10 1 5-5-10-2z"/>
<path fill="#8028d8" d="M626 362l10 1 5-5-10-1z"/>
<path fill="#8820c8" d="M595 366l9 2 5-5-9-2z"/>
<path fill="#8828c8" d="M607 364l9 2 5-6-9-2z"/>
<path fill="#8828d0" d="M602 368l10 1 5-5-10-2z"/>
<path fill="#3828a8" d="M720 352l11 2 4 1-11-2z"/>
<path fill="#4028a0" d="M732 355l11 3 4 0-11-3z"/>
<path fill="#4028a8" d="M740 357l11 3 4 0-11-3zM748 359l11 2 3 1-10-3z"/>
<path fill="#4030b8" d="M712 352l11 0 4 1-11-1z"/>
<path fill="#4038d8" d="M700 353l11-1 4 0-10 0z"/>
<path fill="#482098" d="M775 366l11 5 4-1-11-5z"/>
<path fill="#4820a0" d="M767 363l11 4 4 0-11-4z"/>
<path fill="#4830d0" d="M705 352l10 0 4 0-10 0z"/>
<path fill="#4838e0" d="M693 354l10-1 4-1-10 1z"/>
<path fill="#4838e8" d="M681 356l10-1 5-1-11 0z"/>
<path fill="#5020a8" d="M760 362l10 2 4 0-10-3z"/>
<path fill="#5030e0" d="M673 356l10 0 5-2-11-1z"/>
<path fill="#5030e8" d="M661 358l11 0 4-3-11 0zM649 360l11-2 4-1-11 1z"/>
<path fill="#6020a0" d="M787 369l10 5 5-3-11-5zM795 372l10 5 5-3-11-5z"/>
<path fill="#6030e8" d="M653 358l11 0 4-3-10 0zM641 361l11-1 4-2-10 0z"/>
<path fill="#6820a0" d="M803 376l10 4 4-4-10-4z"/>
<path fill="#6820a8" d="M811 379l10 4 4-4-10-4z"/>
<path fill="#6830e8" d="M629 365l11-2 4-3-10 1z"/>
<path fill="#7020a8" d="M807 374l10 4 4-5-10-4z"/>
<path fill="#7820a8" d="M814 376l11 5 4-5-10-4z"/>
<path fill="#7828e0" d="M622 365l10 0 5-4-11-1z"/>
<path fill="#7830e8" d="M617 369l11-1 4-4-10 0z"/>
<path fill="#8028e0" d="M610 368l10 1 5-5-10-1z"/>
<path fill="#8828c8" d="M590 371l10 2 5-6-10-2z"/>
<path fill="#8828d0" d="M586 375l9 2 6-6-10-2z"/>
<path fill="#8828d8" d="M598 372l10 1 5-5-10-2z"/>
<path fill="#302088" d="M772 364l10 5 4 1-11-4z"/>
<path fill="#302098" d="M764 362l10 3 4 2-11-4z"/>
<path fill="#3028a0" d="M728 354l11 3 4 1-11-4zM736 356l11 2 4 2-11-3z"/>
<path fill="#3030a8" d="M744 358l11 1 4 2-11-2z"/>
<path fill="#3038b0" d="M716 352l11 1 4 1-11-2z"/>
<path fill="#3828a0" d="M756 361l11 1 3 2-10-2z"/>
<path fill="#3838c8" d="M708 352l11 0 4 0-11 0z"/>
<path fill="#4040e0" d="M676 357l11-2 4 0-10 1zM696 354l11-3 4 1-11 1z"/>
<path fill="#482090" d="M783 369l11 5 4-1-11-5z"/>
<path fill="#4838e0" d="M669 357l10 0 5-2-11 0zM657 359l10-2 5 0-11 0zM644 361l11-3 5 0-11 2z"/>
<path fill="#4840e0" d="M688 355l11-2 4 0-10 1z"/>
<path fill="#502098" d="M791 373l11 5 4-2-11-5z"/>
<path fill="#5820a0" d="M799 377l10 5 5-3-11-4zM807 380l10 5 5-3-11-4z"/>
<path fill="#5838f0" d="M637 363l10-3 5-1-11 2z"/>
<path fill="#6038f8" d="M625 368l10-3 5-3-11 2z"/>
<path fill="#7020a0" d="M819 382l10 4 4-4-10-4zM827 385l10 5 4-5-10-4zM835 388l10 5 4-5-10-4z"/>
<path fill="#7030f0" d="M613 372l10-1 5-5-10 1z"/>
<path fill="#8030e8" d="M605 372l10 1 5-5-10-1zM601 377l10 0 5-6-10 0z"/>
<path fill="#8820c8" d="M569 383l10 2 5-6-10-2z"/>
<path fill="#8828d0" d="M581 380l10 1 5-6-10-2z"/>
<path fill="#8828e0" d="M593 376l10 1 5-5-10-2zM589 381l10 1 5-6-10-2z"/>
<path fill="#282890" d="M760 360l11 3 3 2-10-3z"/>
<path fill="#302080" d="M780 368l10 6 4 0-11-5z"/>
<path fill="#3030a0" d="M724 353l11 3 4 1-11-3zM752 359l11 1 3 3-10-2z"/>
<path fill="#3030a8" d="M732 355l11 2 4 2-11-3z"/>
<path fill="#3040b8" d="M712 351l11 1 4 1-11-1z"/>
<path fill="#382088" d="M787 372l11 6 4-1-11-5z"/>
<path fill="#3840d0" d="M704 352l11-1 4 1-11 0z"/>
<path fill="#3840d8" d="M672 356l10-3 5 2-10 2z"/>
<path fill="#3848d0" d="M692 353l10-3 5 2-11 2z"/>
<path fill="#402090" d="M795 377l11 5 4-1-11-5z"/>
<path fill="#4038d8" d="M664 358l11-2 4 0-10 1z"/>
<path fill="#4040d8" d="M684 355l11-3 4 1-10 2zM652 359l11-2 4 0-10 2z"/>
<path fill="#482098" d="M803 380l11 5 4-1-11-5z"/>
<path fill="#4840f0" d="M640 362l11-4 4 0-10 3z"/>
<path fill="#5040f8" d="M633 365l10-4 4-1-10 3z"/>
<path fill="#5048ff" d="M628 368l11-4 4-3-11 4z"/>
<path fill="#5840ff" d="M616 375l10-3 5-5-11 3z"/>
<path fill="#602098" d="M823 387l10 5 5-4-11-4z"/>
<path fill="#6020a0" d="M815 383l10 5 5-3-11-4z"/>
<path fill="#6038ff" d="M621 371l10-3 4-4-10 3z"/>
<path fill="#682098" d="M831 391l10 5 5-4-11-5z"/>
<path fill="#6820a0" d="M839 394l10 5 5-4-11-5z"/>
<path fill="#7030f8" d="M608 376l11-1 4-5-10 1z"/>
<path fill="#7830e8" d="M596 381l10 0 5-6-10 0z"/>
<path fill="#8820c8" d="M564 387l10 2 5-6-9-2z"/>
<path fill="#8828d0" d="M577 384l9 2 6-6-10-2zM572 388l10 2 5-6-10-2z"/>
<path fill="#8828e0" d="M584 385l10 1 5-6-10-1z"/>
<path fill="#282088" d="M776 366l10 6 4 1-10-5zM784 371l10 6 4 1-10-6z"/>
<path fill="#282888" d="M768 362l10 5 4 2-10-5z"/>
<path fill="#2838a8" d="M720 352l11 2 4 2-11-3zM748 357l11 1 4 3-11-1zM728 354l11 1 4 2-11-2z"/>
<path fill="#302090" d="M792 376l10 5 4 0-10-5z"/>
<path fill="#3038a8" d="M740 357l11 0 4 3-11-2z"/>
<path fill="#3048c0" d="M700 350l10-1 5 3-11 1z"/>
<path fill="#3048c8" d="M680 354l10-5 5 4-10 3z"/>
<path fill="#3048d0" d="M668 356l10-5 5 3-10 3z"/>
<path fill="#382090" d="M800 380l10 5 4 0-11-5z"/>
<path fill="#3840d0" d="M660 357l10-2 5 1-11 2z"/>
<path fill="#3848e0" d="M648 359l10-2 5 0-11 2z"/>
<path fill="#482090" d="M811 384l11 5 4-2-11-4zM819 387l11 6 4-2-11-5z"/>
<path fill="#4850ff" d="M636 365l10-4 5-3-11 4z"/>
<path fill="#501890" d="M827 392l11 6 4-3-11-6z"/>
<path fill="#5048ff" d="M624 372l10-4 4-5-10 5z"/>
<path fill="#5840ff" d="M612 379l10-3 4-5-10 3z"/>
<path fill="#601898" d="M835 396l11 6 4-4-10-5z"/>
<path fill="#6838f8" d="M599 385l11-2 4-5-10 1z"/>
<path fill="#7020a0" d="M847 398l10 5 5-5-11-4z"/>
<path fill="#7038f8" d="M604 381l10-2 5-5-10 1z"/>
<path fill="#7830f0" d="M592 385l10 0 5-6-10 0zM587 389l10 0 5-5-10 0z"/>
<path fill="#8028e0" d="M580 389l9 1 6-6-10-1z"/>
<path fill="#8828c8" d="M560 392l10 2 5-6-10-2z"/>
<path fill="#8828d8" d="M567 393l10 1 5-6-9-1z"/>
<path fill="#9028c8" d="M555 397l10 2 5-7-9-2z"/>
<path fill="#203088" d="M764 360l11 5 3 2-10-5z"/>
<path fill="#204098" d="M716 350l11 1 4 3-11-1z"/>
<path fill="#282888" d="M772 364l10 7 4 1-10-6zM780 369l10 7 4 1-10-6zM788 374l10 6 4 1-10-6z"/>
<path fill="#283098" d="M756 358l11 3 4 2-11-3z"/>
<path fill="#2840a8" d="M708 349l11 0 4 4-11-1zM736 355l11 0 4 3-11-1zM744 355l11 1 4 3-11-1z"/>
<path fill="#2848b8" d="M688 350l10-5 5 6-10 3z"/>
<path fill="#3050c0" d="M675 352l10-7 6 5-10 5z"/>
<path fill="#382088" d="M816 387l10 7 4-2-10-5z"/>
<path fill="#382090" d="M808 383l10 6 4-1-10-5z"/>
<path fill="#3850e0" d="M655 357l11-3 5 1-11 3z"/>
<path fill="#401888" d="M824 392l10 7 4-2-10-6z"/>
<path fill="#4058ff" d="M643 362l11-4 4-1-10 2z"/>
<path fill="#481888" d="M832 397l10 7 4-3-10-6z"/>
<path fill="#4858ff" d="M631 369l11-5 4-4-10 4z"/>
<path fill="#5048ff" d="M619 376l11-4 4-5-10 4z"/>
<path fill="#582098" d="M840 402l10 6 4-3-10-6z"/>
<path fill="#5840ff" d="M607 383l11-4 4-4-11 3z"/>
<path fill="#682098" d="M843 401l11 5 4-5-10-4z"/>
<path fill="#6838ff" d="M595 389l10-3 5-5-10 2z"/>
<path fill="#7020a0" d="M851 404l11 5 4-4-10-5zM859 408l11 5 4-5-10-5z"/>
<path fill="#7830f0" d="M583 394l10-1 5-6-10 1z"/>
<path fill="#8028e0" d="M575 394l10 0 5-6-10-1z"/>
<path fill="#8028e8" d="M570 398l10 1 5-6-9-1z"/>
<path fill="#8828d8" d="M563 398l10 1 5-6-10-2z"/>
<path fill="#9028c8" d="M550 401l10 3 6-7-10-2z"/>
<path fill="#202888" d="M784 372l11 6 4 2-11-6z"/>
<path fill="#203088" d="M768 362l11 7 3 2-10-7zM776 367l11 7 3 2-10-7z"/>
<path fill="#203888" d="M760 358l11 5 4 2-11-5z"/>
<path fill="#204088" d="M704 344l10 0 5 7-11 0z"/>
<path fill="#204098" d="M724 351l10 1 5 4-11-2zM752 356l11 2 4 3-11-3z"/>
<path fill="#204898" d="M732 352l10-1 5 5-11 0z"/>
<path fill="#282088" d="M804 382l10 6 4 0-10-5z"/>
<path fill="#282890" d="M796 379l11 5 3 0-10-5z"/>
<path fill="#2848a0" d="M696 347l10-3 5 6-11 2z"/>
<path fill="#2858b0" d="M683 347l10-7 6 7-10 5z"/>
<path fill="#302080" d="M820 392l10 8 4-2-10-7z"/>
<path fill="#302088" d="M812 387l10 7 4-1-10-6z"/>
<path fill="#3058d8" d="M663 355l10-6 5 3-10 5z"/>
<path fill="#381880" d="M828 398l10 7 5-2-11-6z"/>
<path fill="#3860f8" d="M651 359l11-4 4 0-10 3z"/>
<path fill="#4060ff" d="M639 365l11-3 4-4-11 3z"/>
<path fill="#482090" d="M836 404l10 6 5-3-11-6z"/>
<path fill="#4858ff" d="M627 372l10-4 5-4-11 4z"/>
<path fill="#5050ff" d="M615 379l10-5 4-3-10 5z"/>
<path fill="#5840ff" d="M603 386l10-5 4-3-10 4z"/>
<path fill="#6020a0" d="M848 407l10 5 4-4-10-5z"/>
<path fill="#6038ff" d="M590 393l11-3 4-5-10 2z"/>
<path fill="#6820a0" d="M856 411l10 5 5-5-11-4z"/>
<path fill="#7020a0" d="M864 415l10 4 5-4-11-5z"/>
<path fill="#7830f0" d="M578 399l10-1 5-6-10 0z"/>
<path fill="#8028e0" d="M566 404l10 1 5-8-10 0z"/>
<path fill="#8828d0" d="M553 408l10 2 6-7-10-2z"/>
<path fill="#8828d8" d="M558 403l10 1 5-7-10-1z"/>
<path fill="#204088" d="M748 352l11 2 4 5-11-2zM756 353l11 5 4 5-11-5z"/>
<path fill="#204888" d="M712 345l10 1 4 6-10-1zM720 346l10 0 4 7-10-1z"/>
<path fill="#204890" d="M740 352l10 0 5 5-11 0z"/>
<path fill="#205890" d="M691 341l10-4 5 8-10 3z"/>
<path fill="#282088" d="M816 392l11 8 4-1-11-8z"/>
<path fill="#282888" d="M792 377l11 6 4 1-11-6zM800 381l11 7 4 0-11-6zM808 386l11 8 4-1-11-7z"/>
<path fill="#302080" d="M824 398l11 8 4-1-10-8z"/>
<path fill="#3068d0" d="M671 351l10-9 5 4-10 7z"/>
<path fill="#382088" d="M832 405l11 7 4-2-10-7z"/>
<path fill="#3870f0" d="M659 356l10-6 5 0-10 6z"/>
<path fill="#4058ff" d="M622 375l11-6 4-2-10 5z"/>
<path fill="#4068ff" d="M635 369l10-5 4-3-10 3z"/>
<path fill="#4070ff" d="M647 362l10-4 5-3-11 4z"/>
<path fill="#4850ff" d="M610 382l10-7 5-1-10 5z"/>
<path fill="#5048ff" d="M598 390l10-7 5-3-11 6z"/>
<path fill="#582098" d="M844 409l10 6 5-4-11-5z"/>
<path fill="#6020a0" d="M852 413l11 6 4-4-11-5z"/>
<path fill="#6038ff" d="M586 398l10-3 5-6-11 2zM581 403l10-2 5-8-10 3z"/>
<path fill="#6820a0" d="M860 417l11 6 4-5-10-5z"/>
<path fill="#7020a0" d="M868 422l11 5 4-5-10-5z"/>
<path fill="#7830f0" d="M574 404l9 0 5-8-9 1zM569 409l10 0 5-7-10 0z"/>
<path fill="#8828d8" d="M557 414l9 1 6-7-10-1z"/>
<path fill="#8828e0" d="M561 409l10 1 5-7-10-1z"/>
<path fill="#9028d0" d="M549 413l10 2 5-7-10-2z"/>
<path fill="#203088" d="M788 374l11 5 4 4-11-6zM797 378l10 7 4 2-11-6zM805 383l10 8 4 2-11-7z"/>
<path fill="#203888" d="M772 363l11 7 4 4-11-7zM780 369l11 6 4 3-11-5z"/>
<path fill="#204088" d="M764 358l11 7 4 4-11-7z"/>
<path fill="#205088" d="M728 347l10-2 5 8-11 0zM736 346l10-2 5 9-11 1z"/>
<path fill="#205880" d="M699 338l11-1 4 9-10 0zM707 338l11 1 4 8-10-1z"/>
<path fill="#282888" d="M813 390l10 9 4 1-10-9z"/>
<path fill="#3078b8" d="M679 344l10-9 5 6-10 7z"/>
<path fill="#3860f8" d="M618 377l10-7 5-1-10 6z"/>
<path fill="#3868ff" d="M630 371l10-6 5-1-10 4z"/>
<path fill="#3888e8" d="M667 352l10-10 5 1-10 9z"/>
<path fill="#3888ff" d="M655 359l10-7 4-2-10 7z"/>
<path fill="#4078ff" d="M642 365l11-5 4-3-10 5z"/>
<path fill="#482090" d="M840 410l11 7 4-3-10-6z"/>
<path fill="#4858ff" d="M606 385l9-8 5-2-10 7z"/>
<path fill="#502098" d="M848 415l11 6 4-3-10-6z"/>
<path fill="#5048ff" d="M594 395l10-6 4-6-10 7zM589 401l10-5 4-8-10 6z"/>
<path fill="#582098" d="M857 420l10 6 4-4-10-6z"/>
<path fill="#602098" d="M865 424l10 6 5-4-11-6z"/>
<path fill="#6820a0" d="M873 429l10 5 5-5-11-5z"/>
<path fill="#6838ff" d="M577 409l9-2 5-8-9 2z"/>
<path fill="#8030e8" d="M564 415l10 0 5-8-10 0z"/>
<path fill="#8828d8" d="M552 419l10 2 5-7-10-2z"/>
<path fill="#9028c8" d="M539 423l10 2 6-7-10-2z"/>
<path fill="#9028d0" d="M544 418l10 2 5-7-9-2z"/>
<path fill="#204888" d="M769 357l10 7 4 7-11-7z"/>
<path fill="#205088" d="M761 350l10 8 4 7-11-6z"/>
<path fill="#205880" d="M715 340l11 0 4 8-10 0zM744 345l10 0 5 10-11-1zM752 346l11 4 4 9-11-4z"/>
<path fill="#206080" d="M723 340l11-3 4 10-10 2z"/>
<path fill="#282088" d="M821 397l10 9 4 0-10-8z"/>
<path fill="#286880" d="M695 332l10 0 5 7-10 0z"/>
<path fill="#287898" d="M687 336l10-5 5 8-10 4z"/>
<path fill="#302088" d="M829 404l10 8 4-1-10-7z"/>
<path fill="#382080" d="M837 411l10 7 4-2-10-7z"/>
<path fill="#3868ff" d="M613 379l10-8 5-1-10 7z"/>
<path fill="#3870f0" d="M625 371l11-5 5 0-11 5z"/>
<path fill="#3880f8" d="M638 367l10-6 5-1-11 5z"/>
<path fill="#3890ff" d="M650 361l10-7 5-2-10 7z"/>
<path fill="#38a8d8" d="M675 344l10-10 5 2-10 9z"/>
<path fill="#402088" d="M845 416l10 7 5-3-11-6z"/>
<path fill="#40a0f8" d="M663 354l9-10 5-2-10 10z"/>
<path fill="#482090" d="M853 421l10 7 5-3-11-6z"/>
<path fill="#4858ff" d="M601 390l10-8 5-5-10 8zM597 396l10-6 4-9-10 8z"/>
<path fill="#581890" d="M861 427l11 6 4-4-11-6z"/>
<path fill="#5840ff" d="M584 407l10-4 5-9-10 5z"/>
<path fill="#601898" d="M869 432l11 6 4-5-10-5z"/>
<path fill="#7030f8" d="M567 420l10-1 5-8-10 2z"/>
<path fill="#7038f8" d="M572 415l10-2 5-8-10 2z"/>
<path fill="#8028e8" d="M555 425l10 1 5-8-10 0z"/>
<path fill="#8030e8" d="M560 420l9 0 6-7-10 0z"/>
<path fill="#8828d8" d="M547 424l10 2 5-7-9-2z"/>
<path fill="#9020c8" d="M535 428l9 2 6-7-10-2z"/>
<path fill="#203088" d="M809 384l10 11 4 4-10-9z"/>
<path fill="#203888" d="M801 377l11 9 3 5-11-7z"/>
<path fill="#204088" d="M785 368l11 5 3 7-11-5zM793 372l11 6 3 7-11-6z"/>
<path fill="#204888" d="M777 363l10 6 4 6-11-5z"/>
<path fill="#282088" d="M833 409l11 8 4 0-11-7z"/>
<path fill="#282888" d="M825 402l10 9 4 1-10-8zM817 393l10 11 4 2-10-9z"/>
<path fill="#286880" d="M732 338l10-4 5 12-10 2z"/>
<path fill="#287080" d="M703 332l11 2 4 7-10-1zM711 335l11-1 4 8-10 0z"/>
<path fill="#302080" d="M841 416l11 7 4-1-11-7z"/>
<path fill="#381880" d="M849 422l11 7 4-2-10-6z"/>
<path fill="#3878f8" d="M621 373l10-6 5-1-10 6z"/>
<path fill="#3880f0" d="M633 368l10-7 5 0-10 6z"/>
<path fill="#3890f0" d="M646 363l10-9 5 0-10 8z"/>
<path fill="#401880" d="M858 428l10 7 4-3-10-6z"/>
<path fill="#4070ff" d="M609 383l10-7 4-4-10 7z"/>
<path fill="#40a8f8" d="M658 356l10-10 5-2-10 10z"/>
<path fill="#40b0c0" d="M682 336l11-6 5 2-11 6z"/>
<path fill="#4850ff" d="M592 403l10-5 4-10-10 7z"/>
<path fill="#48c8f0" d="M670 346l10-9 5-2-10 10z"/>
<path fill="#501888" d="M866 434l10 7 4-4-10-6z"/>
<path fill="#5840ff" d="M580 413l10-4 4-8-10 4zM575 418l10-4 5-6-10 3z"/>
<path fill="#7020a0" d="M878 436l10 6 4-5-10-5z"/>
<path fill="#7030f0" d="M563 425l10-1 5-7-10 1z"/>
<path fill="#8028e0" d="M550 431l10 1 5-8-9-1z"/>
<path fill="#8828d0" d="M542 429l10 2 6-7-10-2z"/>
<path fill="#9028d0" d="M538 435l9 2 6-7-10-2z"/>
<path fill="#203088" d="M822 398l10 11 4 2-11-9z"/>
<path fill="#203888" d="M814 388l10 12 3 4-10-11z"/>
<path fill="#205880" d="M773 356l10 5 4 9-11-5z"/>
<path fill="#206080" d="M765 348l10 9 4 8-11-7z"/>
<path fill="#282088" d="M838 414l10 8 4 1-10-8z"/>
<path fill="#282888" d="M830 407l10 9 4 1-11-8z"/>
<path fill="#286880" d="M757 340l10 9 4 10-11-7z"/>
<path fill="#287080" d="M740 335l10 0 5 13-10-1zM749 335l10 5 4 12-10-4z"/>
<path fill="#301880" d="M854 427l10 9 5-1-11-8z"/>
<path fill="#302088" d="M846 420l10 9 4 0-10-8z"/>
<path fill="#308080" d="M719 335l10-4 5 8-10 3z"/>
<path fill="#381878" d="M862 434l10 9 5-3-11-7z"/>
<path fill="#389098" d="M691 331l10 0 5 2-11 0z"/>
<path fill="#3890f8" d="M629 369l10-7 5 0-11 6z"/>
<path fill="#3898e0" d="M641 363l10-10 5 2-10 8z"/>
<path fill="#4068ff" d="M600 398l10-5 4-10-10 5z"/>
<path fill="#4070ff" d="M604 390l10-6 5-8-11 6z"/>
<path fill="#4088ff" d="M616 378l11-6 4-4-10 5z"/>
<path fill="#40a8e0" d="M654 356l9-10 5 1-9 9z"/>
<path fill="#48d0f0" d="M666 348l10-9 5-2-10 10z"/>
<path fill="#5050ff" d="M587 409l11-5 4-8-10 6zM583 415l10-6 4-6-10 5z"/>
<path fill="#5840ff" d="M570 424l11-4 4-7-10 4z"/>
<path fill="#58d8e0" d="M678 339l11-7 4-2-10 6z"/>
<path fill="#601898" d="M874 439l10 6 5-4-11-6z"/>
<path fill="#7020a0" d="M882 444l11 5 4-5-11-5z"/>
<path fill="#7830f0" d="M558 431l10-1 5-8-10 1z"/>
<path fill="#8828d8" d="M545 436l10 2 6-8-10-1z"/>
<path fill="#9028c8" d="M533 440l10 3 5-8-10-2z"/>
<path fill="#204088" d="M806 377l10 13 3 5-10-10z"/>
<path fill="#204888" d="M798 369l10 9 3 9-10-8z"/>
<path fill="#205088" d="M789 364l11 5 3 10-10-5z"/>
<path fill="#205880" d="M781 361l11 3 3 10-10-4z"/>
<path fill="#282088" d="M851 426l10 11 4-1-10-9z"/>
<path fill="#301880" d="M859 435l10 10 4-3-10-8z"/>
<path fill="#307870" d="M727 332l11-6 5 10-10 4z"/>
<path fill="#308078" d="M699 331l11 2 4 3-11-3z"/>
<path fill="#389088" d="M707 333l11-1 4 4-11 0z"/>
<path fill="#401880" d="M867 443l10 8 4-4-10-7z"/>
<path fill="#4060ff" d="M595 405l10-5 5-9-11 5zM590 410l11-6 4-6-10 6z"/>
<path fill="#4080ff" d="M607 393l10-5 5-10-10 5z"/>
<path fill="#4088ff" d="M612 385l10-5 4-9-10 5z"/>
<path fill="#40a8e8" d="M637 364l9-11 5 1-9 10z"/>
<path fill="#40a8ff" d="M624 373l11-6 4-4-11 6z"/>
<path fill="#40b0c8" d="M649 356l9-14 6 4-10 11z"/>
<path fill="#48b8c8" d="M661 348l10-11 5 2-9 10z"/>
<path fill="#501888" d="M870 441l11 7 4-4-10-6z"/>
<path fill="#5050ff" d="M578 420l10-7 5-5-11 6z"/>
<path fill="#58d0b8" d="M686 334l11-1 5-2-11-1z"/>
<path fill="#58d8d0" d="M674 341l10-7 5-1-11 6z"/>
<path fill="#601898" d="M878 447l11 6 4-5-10-5z"/>
<path fill="#6038ff" d="M566 430l10-4 4-8-10 4z"/>
<path fill="#6838ff" d="M561 436l10-2 5-10-10 4z"/>
<path fill="#7020a0" d="M887 452l10 5 5-5-11-5z"/>
<path fill="#7830e8" d="M553 437l10 0 5-9-10 1z"/>
<path fill="#8028e8" d="M548 443l10 1 6-9-10 0z"/>
<path fill="#8828d8" d="M541 442l9 2 6-8-10-2z"/>
<path fill="#9028d0" d="M536 448l10 2 5-8-10-2z"/>
<path fill="#202888" d="M834 411l11 9 3 2-10-9z"/>
<path fill="#203088" d="M826 404l11 9 3 2-10-8z"/>
<path fill="#203888" d="M818 394l10 12 4 3-10-11z"/>
<path fill="#204888" d="M810 382l10 14 4 4-10-12z"/>
<path fill="#205080" d="M802 369l10 15 4 6-10-13z"/>
<path fill="#282888" d="M842 418l11 10 4 1-11-9z"/>
<path fill="#286880" d="M777 354l11 2 4 10-11-3z"/>
<path fill="#287078" d="M761 340l11 11 3 7-11-9z"/>
<path fill="#287080" d="M769 349l11 5 3 9-10-6z"/>
<path fill="#307068" d="M753 331l10 11 4 9-11-10z"/>
<path fill="#307860" d="M736 327l10-2 5 12-10 0zM745 325l10 6 4 11-11-5z"/>
<path fill="#4060ff" d="M586 415l10-6 4-6-10 6z"/>
<path fill="#4070ff" d="M598 405l11-5 4-7-11 6z"/>
<path fill="#4078ff" d="M603 400l10-5 4-9-10 5z"/>
<path fill="#4098ff" d="M615 388l10-5 5-10-10 5z"/>
<path fill="#40a0ff" d="M620 380l10-6 4-8-10 6z"/>
<path fill="#48a890" d="M715 333l10-5 5 4-10 5z"/>
<path fill="#48b098" d="M694 333l11 2 5-2-11-3z"/>
<path fill="#48c0f8" d="M632 368l9-13 6-2-10 12z"/>
<path fill="#5048ff" d="M573 426l11-5 4-8-10 5zM569 434l10-4 4-11-9 5z"/>
<path fill="#50c0a0" d="M702 334l12-1 4 0-11 0z"/>
<path fill="#581890" d="M875 449l10 7 5-4-11-6z"/>
<path fill="#58d0b0" d="M682 336l11-2 4-2-11 1z"/>
<path fill="#602098" d="M883 455l11 6 4-5-11-6z"/>
<path fill="#7020a0" d="M891 459l11 6 4-6-10-5z"/>
<path fill="#7030f8" d="M556 443l10-1 5-10-10 2z"/>
<path fill="#8828d8" d="M544 449l9 1 6-8-10-1z"/>
<path fill="#9028c8" d="M531 453l10 3 5-8-9-2z"/>
<path fill="#203088" d="M839 417l10 11 4 0-10-10zM831 409l10 10 4 1-10-9z"/>
<path fill="#203888" d="M822 401l11 11 4 1-11-10z"/>
<path fill="#204888" d="M814 391l10 13 4 2-10-12z"/>
<path fill="#206080" d="M794 361l11 10 3 8-11-9z"/>
<path fill="#282888" d="M847 426l10 11 4-1-10-10z"/>
<path fill="#286880" d="M786 356l10 5 4 10-11-5z"/>
<path fill="#302088" d="M855 435l10 11 4-2-10-10z"/>
<path fill="#381880" d="M863 444l10 10 5-4-11-8z"/>
<path fill="#4058ff" d="M581 421l10-5 5-8-10 5z"/>
<path fill="#4070ff" d="M593 410l11-5 4-6-10 5z"/>
<path fill="#4090ff" d="M611 395l10-6 4-8-10 6z"/>
<path fill="#481888" d="M871 452l11 7 4-4-10-7z"/>
<path fill="#48a090" d="M657 344l9-14 6 8-10 10z"/>
<path fill="#48b8b8" d="M644 355l10-17 5 4-9 14z"/>
<path fill="#48c8ff" d="M628 375l9-13 5-7-10 13z"/>
<path fill="#50a878" d="M723 329l11-6 5 4-11 6z"/>
<path fill="#50b098" d="M669 339l10-8 6 4-11 6z"/>
<path fill="#582098" d="M879 458l11 6 4-4-10-6z"/>
<path fill="#5840ff" d="M564 442l10-2 5-12-10 3z"/>
<path fill="#58c098" d="M690 334l11 1 4-1-11-2z"/>
<path fill="#58c890" d="M698 335l11-1 5-1-12 1z"/>
<path fill="#60d098" d="M711 334l11-5 4 0-11 5z"/>
<path fill="#682098" d="M888 463l10 6 5-5-11-6z"/>
<path fill="#6838ff" d="M559 449l10-1 5-11-9 3z"/>
<path fill="#7020a0" d="M896 468l11 5 4-6-10-5z"/>
<path fill="#7830e8" d="M552 450l9 0 6-10-10 1z"/>
<path fill="#8028e8" d="M547 456l10 0 5-8-10 0z"/>
<path fill="#8828d8" d="M539 455l10 2 5-9-10-1z"/>
<path fill="#9028d0" d="M534 460l10 2 5-7-9-2z"/>
<path fill="#202888" d="M843 426l10 13 4-2-9-12z"/>
<path fill="#205880" d="M807 378l9 15 4 3-9-14z"/>
<path fill="#282088" d="M851 436l10 12 5-2-10-11z"/>
<path fill="#286880" d="M798 365l10 16 4 3-10-15z"/>
<path fill="#302080" d="M859 446l11 10 4-3-10-9z"/>
<path fill="#307068" d="M765 345l11 6 4 5-11-6zM773 350l11 2 4 6-11-3z"/>
<path fill="#307860" d="M757 337l10 10 4 4-10-10z"/>
<path fill="#387858" d="M749 327l10 12 4 4-10-12z"/>
<path fill="#401888" d="M867 454l11 8 4-4-10-7z"/>
<path fill="#4070ff" d="M589 416l10-3 5-9-11 4z"/>
<path fill="#4088ff" d="M606 401l10-6 5-7-11 6z"/>
<path fill="#40b0ff" d="M619 390l10-10 4-9-10 11z"/>
<path fill="#4858ff" d="M577 430l9-4 5-12-10 5z"/>
<path fill="#487848" d="M740 322l11 7 4 4-11-7z"/>
<path fill="#488860" d="M664 331l10-8 6 10-10 7z"/>
<path fill="#489068" d="M685 331l12 1 4 3-11 0z"/>
<path fill="#48a078" d="M677 333l11-2 5 3-11 2z"/>
<path fill="#48c0ff" d="M623 383l10-11 4-10-10 13z"/>
<path fill="#502098" d="M876 461l10 7 5-5-11-6z"/>
<path fill="#5048ff" d="M572 439l9-2 5-13-9 3z"/>
<path fill="#5840ff" d="M567 448l10-2 5-12-10 3z"/>
<path fill="#589060" d="M732 324l10-2 5 5-11 1z"/>
<path fill="#58c8b8" d="M640 358l9-21 5 1-9 18z"/>
<path fill="#602098" d="M884 466l11 7 4-5-10-6z"/>
<path fill="#7030f0" d="M555 456l9-1 6-9-10 1z"/>
<path fill="#70d890" d="M706 334l11-4 5-1-11 5z"/>
<path fill="#80e088" d="M719 330l11-6 4-1-10 7z"/>
<path fill="#8828e0" d="M542 462l10 0 5-8-10 0z"/>
<path fill="#9028c8" d="M529 466l10 2 6-8-10-1z"/>
<path fill="#203088" d="M835 417l10 12 4-1-10-11z"/>
<path fill="#204088" d="M827 409l10 10 4 0-10-10z"/>
<path fill="#204888" d="M819 400l10 11 4 0-10-10z"/>
<path fill="#205088" d="M811 389l9 13 5 1-10-12z"/>
<path fill="#206080" d="M803 377l9 15 4 1-9-15z"/>
<path fill="#282088" d="M856 447l10 11 4-3-10-10z"/>
<path fill="#282888" d="M848 437l10 12 4-1-10-12z"/>
<path fill="#287078" d="M790 356l10 12 4 4-10-11z"/>
<path fill="#301880" d="M864 456l10 9 5-3-11-9z"/>
<path fill="#307070" d="M782 352l11 5 3 6-11-6z"/>
<path fill="#4068ff" d="M584 426l10-3 5-12-10 3z"/>
<path fill="#4088ff" d="M601 406l11-6 4-6-10 6zM597 413l10-4 4-10-10 5z"/>
<path fill="#40b0ff" d="M614 396l10-11 4-6-10 11z"/>
<path fill="#482090" d="M872 463l10 8 5-4-11-7z"/>
<path fill="#4858ff" d="M580 436l9-2 5-13-9 2z"/>
<path fill="#487848" d="M673 324l10-1 5 9-10 2z"/>
<path fill="#5048ff" d="M575 446l10-2 5-12-10 2z"/>
<path fill="#582098" d="M880 470l11 7 4-5-10-7z"/>
<path fill="#58a870" d="M652 340l9-19 6 10-9 14zM694 333l11-2 4 3-11 2z"/>
<path fill="#602098" d="M889 475l10 7 5-6-11-6z"/>
<path fill="#6038ff" d="M562 455l10-1 5-10-9 2z"/>
<path fill="#60e0c0" d="M636 364l8-20 5-7-8 21z"/>
<path fill="#682098" d="M892 471l11 6 5-5-11-6z"/>
<path fill="#7020a0" d="M901 476l11 6 4-6-11-6z"/>
<path fill="#7830f0" d="M550 462l10 0 5-9-10 1z"/>
<path fill="#8828d8" d="M537 467l10 1 5-8-9 0z"/>
<path fill="#90d878" d="M727 326l12-1 4-3-12 2z"/>
<path fill="#90e080" d="M715 331l11-5 4-1-11 6z"/>
<path fill="#203088" d="M840 426l9 13 5-1-10-12z"/>
<path fill="#203888" d="M831 417l10 12 5-1-10-11z"/>
<path fill="#204888" d="M823 408l10 11 4 0-10-11z"/>
<path fill="#205088" d="M815 399l10 11 4 1-10-11z"/>
<path fill="#282888" d="M852 448l10 11 4-1-10-11z"/>
<path fill="#287078" d="M794 364l10 15 4 1-9-15z"/>
<path fill="#302088" d="M860 457l10 10 5-3-11-9z"/>
<path fill="#307068" d="M786 356l10 11 5 0-11-11z"/>
<path fill="#381880" d="M868 465l11 9 4-4-10-8z"/>
<path fill="#387858" d="M761 345l10 6 5 0-11-6z"/>
<path fill="#387860" d="M777 352l11 6 5 0-11-6z"/>
<path fill="#4068ff" d="M588 434l9-4 5-13-9 3z"/>
<path fill="#407850" d="M752 337l11 10 4 0-10-11z"/>
<path fill="#4078ff" d="M592 423l10-4 5-13-10 5z"/>
<path fill="#409070" d="M769 349l11 4 4 0-11-3z"/>
<path fill="#40a8ff" d="M609 401l10-11 5-5-10 11z"/>
<path fill="#481888" d="M877 472l10 8 5-4-11-7z"/>
<path fill="#4858ff" d="M583 444l10-3 5-13-10 3z"/>
<path fill="#487848" d="M744 328l10 11 5 0-10-12z"/>
<path fill="#507848" d="M681 324l11 3 4 7-10-1z"/>
<path fill="#50e0f0" d="M627 382l9-16 4-10-9 17z"/>
<path fill="#5840ff" d="M570 453l10-1 5-10-9 2z"/>
<path fill="#58e0d8" d="M631 373l9-17 5-12-9 20z"/>
<path fill="#608848" d="M736 324l10 6 5-1-10-8z"/>
<path fill="#6838ff" d="M558 461l10 0 5-9-10 1z"/>
<path fill="#7020a0" d="M897 480l11 6 4-6-10-5z"/>
<path fill="#70b868" d="M702 332l10-5 6 3-11 5z"/>
<path fill="#8030e8" d="M545 468l10 0 5-9-10 1z"/>
<path fill="#8828d0" d="M532 473l10 2 6-8-10-2z"/>
<path fill="#a0d868" d="M723 327l11-1 5-2-12 1z"/>
<path fill="#203088" d="M844 436l10 14 4-1-10-12z"/>
<path fill="#203888" d="M836 424l10 14 4 1-10-13z"/>
<path fill="#204888" d="M828 414l10 13 4 1-10-12z"/>
<path fill="#206080" d="M807 388l10 13 4 1-10-13z"/>
<path fill="#287080" d="M799 375l9 15 5 2-10-15z"/>
<path fill="#407850" d="M756 344l11 6 5 0-11-6z"/>
<path fill="#4080ff" d="M596 430l9-6 5-16-10 9z"/>
<path fill="#4098ff" d="M600 419l10-9 4-13-10 10z"/>
<path fill="#40a8ff" d="M605 409l10-11 4-8-10 11z"/>
<path fill="#487848" d="M748 337l11 9 4 0-10-10z"/>
<path fill="#489060" d="M765 348l11 4 4 1-11-4z"/>
<path fill="#5048ff" d="M574 459l9-1 6-10-10 2z"/>
<path fill="#5050ff" d="M578 452l10-2 5-11-10 2z"/>
<path fill="#507840" d="M740 329l10 10 5-1-10-10z"/>
<path fill="#50d8f0" d="M622 387l9-15 5-6-9 16z"/>
<path fill="#581890" d="M885 478l11 8 4-6-11-6z"/>
<path fill="#5840ff" d="M566 460l9 0 6-10-10 1z"/>
<path fill="#588848" d="M689 327l11-1 5 7-11 1z"/>
<path fill="#601898" d="M893 484l11 6 5-5-11-6z"/>
<path fill="#6038ff" d="M561 467l10 0 5-9-10 0z"/>
<path fill="#688840" d="M660 323l10-10 6 12-10 8z"/>
<path fill="#7020a0" d="M902 489l11 6 4-6-11-6z"/>
<path fill="#7030f8" d="M553 467l10 1 5-9-10 0z"/>
<path fill="#709848" d="M731 325l11 6 5-1-11-7z"/>
<path fill="#7830f0" d="M548 475l10 0 5-10-9 0z"/>
<path fill="#8028e0" d="M540 474l10 1 5-9-9 0z"/>
<path fill="#80b058" d="M710 328l11-7 5 6-11 5z"/>
<path fill="#8828d8" d="M535 481l10 2 6-10-10-1z"/>
<path fill="#88c870" d="M648 340l9-22 5 4-9 19z"/>
<path fill="#9028c8" d="M527 479l10 3 6-9-10-2z"/>
<path fill="#203888" d="M841 433l9 16 4 1-9-14z"/>
<path fill="#205088" d="M819 405l11 11 4 3-11-12z"/>
<path fill="#206080" d="M811 395l10 12 4 3-10-12z"/>
<path fill="#282088" d="M857 458l10 11 4-2-10-10z"/>
<path fill="#282888" d="M849 446l9 14 5-1-10-12z"/>
<path fill="#286880" d="M803 384l10 14 4 3-10-13z"/>
<path fill="#302080" d="M865 467l10 9 4-3-10-8z"/>
<path fill="#307068" d="M790 364l10 14 5 1-10-15z"/>
<path fill="#381880" d="M873 474l10 9 5-4-11-8z"/>
<path fill="#387858" d="M782 355l10 11 5 1-11-12z"/>
<path fill="#4060ff" d="M586 450l10-5 5-12-10 5z"/>
<path fill="#4070ff" d="M591 441l10-5 4-15-9 7z"/>
<path fill="#407858" d="M773 351l11 6 5 0-11-6z"/>
<path fill="#481888" d="M881 481l11 8 4-5-10-7z"/>
<path fill="#48d0e8" d="M617 392l9-17 5-3-9 15z"/>
<path fill="#581890" d="M890 487l10 8 5-6-11-6z"/>
<path fill="#5840ff" d="M569 467l10 0 5-11-10 1z"/>
<path fill="#681898" d="M898 493l11 6 4-6-10-5z"/>
<path fill="#6838f8" d="M556 475l10 1 5-11-10 0z"/>
<path fill="#687838" d="M668 313l10 2 5 11-10 0zM677 315l11 8 4 6-11-3zM727 320l11 6 4 5-11-5z"/>
<path fill="#688038" d="M685 322l10 1 5 5-10 1z"/>
<path fill="#789040" d="M719 322l10-2 5 6-11 2z"/>
<path fill="#78a048" d="M697 328l11-8 5 8-10 5z"/>
<path fill="#78f0a8" d="M634 369l10-16 4-14-9 19z"/>
<path fill="#8028e0" d="M543 482l10 2 6-11-10-1z"/>
<path fill="#9028d0" d="M530 487l10 3 6-9-10-2z"/>
<path fill="#98f090" d="M639 359l10-19 3-16-9 23z"/>
<path fill="#a8e878" d="M643 347l9-23 5-6-9 22z"/>
<path fill="#203088" d="M845 445l10 15 4 0-10-14z"/>
<path fill="#204888" d="M833 420l9 16 4 2-10-14z"/>
<path fill="#205880" d="M824 408l10 14 4 5-10-13z"/>
<path fill="#282088" d="M861 468l10 10 5-3-11-9z"/>
<path fill="#282888" d="M853 458l10 12 4-2-10-11z"/>
<path fill="#302080" d="M869 476l11 9 4-3-10-9z"/>
<path fill="#307070" d="M795 371l10 16 4 3-10-15z"/>
<path fill="#381880" d="M878 483l10 9 5-4-11-8z"/>
<path fill="#387858" d="M787 358l10 15 4 5-10-15z"/>
<path fill="#4090ff" d="M599 436l10-9 4-16-10 11z"/>
<path fill="#40a8ff" d="M604 424l9-11 4-18-10 14z"/>
<path fill="#4858ff" d="M582 458l10-4 4-11-10 5z"/>
<path fill="#48c8ff" d="M608 411l10-16 4-13-10 18z"/>
<path fill="#48d8f8" d="M613 400l9-18 4-7-9 17z"/>
<path fill="#501888" d="M886 491l11 8 4-6-11-7z"/>
<path fill="#5050ff" d="M577 466l10-3 5-12-10 5z"/>
<path fill="#507848" d="M752 341l12 5 3 4-11-6zM761 345l11 1 4 6-11-3z"/>
<path fill="#587840" d="M744 333l11 10 4 3-11-9z"/>
<path fill="#601898" d="M894 497l11 7 5-6-11-6z"/>
<path fill="#6038ff" d="M564 475l10 1 5-12-10 1z"/>
<path fill="#607838" d="M736 325l10 10 5 4-11-10z"/>
<path fill="#68e8b0" d="M630 374l9-16 5-5-9 16z"/>
<path fill="#7038f8" d="M559 484l10 1 6-12-10 0z"/>
<path fill="#7830f0" d="M551 483l10 2 6-11-10-1z"/>
<path fill="#809038" d="M706 322l10-10 5 11-10 6z"/>
<path fill="#8828d8" d="M538 489l10 2 6-9-10-2z"/>
<path fill="#8828e0" d="M546 490l10 2 6-10-10-1z"/>
<path fill="#9028d0" d="M533 495l10 3 6-9-10-2z"/>
<path fill="#a0b048" d="M655 320l10-12 6 6-10 10z"/>
<path fill="#203088" d="M849 459l10 13 5-3-11-11z"/>
<path fill="#204088" d="M837 430l9 18 5 1-10-16z"/>
<path fill="#206080" d="M816 400l10 10 4 6-11-11z"/>
<path fill="#282888" d="M857 470l10 10 5-3-10-10z"/>
<path fill="#287080" d="M807 391l11 11 3 5-10-12z"/>
<path fill="#302088" d="M866 478l10 10 4-4-10-9z"/>
<path fill="#307070" d="M799 378l10 15 4 5-10-14z"/>
<path fill="#381880" d="M874 486l10 10 5-5-11-9z"/>
<path fill="#4068ff" d="M590 454l10-9 4-10-10 9z"/>
<path fill="#4078ff" d="M594 445l10-8 5-12-10 9z"/>
<path fill="#481888" d="M882 494l11 9 4-6-10-7z"/>
<path fill="#487850" d="M778 350l11 10 3 6-10-11z"/>
<path fill="#507848" d="M769 346l12 4 3 7-11-5z"/>
<path fill="#581890" d="M891 501l10 7 5-6-11-6z"/>
<path fill="#5848ff" d="M572 475l10-2 5-13-10 4z"/>
<path fill="#6038ff" d="M567 484l10 0 5-13-9 2z"/>
<path fill="#60d8a0" d="M625 377l9-19 5 0-9 16z"/>
<path fill="#6820a0" d="M899 507l11 6 5-6-11-6z"/>
<path fill="#687830" d="M740 326l11 11 4 6-11-9z"/>
<path fill="#7020a0" d="M903 502l11 6 4-6-11-5z"/>
<path fill="#707830" d="M672 312l10 12 5 0-10-9z"/>
<path fill="#787830" d="M663 308l11 5 5 4-11-2zM714 312l11-3 5 13-10 2z"/>
<path fill="#8030e8" d="M554 492l10 1 6-10-10-1z"/>
<path fill="#8828d0" d="M541 497l10 2 6-9-10-2z"/>
<path fill="#98a840" d="M693 324l10-10 6 7-11 8z"/>
<path fill="#a0b048" d="M680 322l11 4 5-2-11-1z"/>
<path fill="#b8f878" d="M642 355l10-8 4-17-9 10z"/>
<path fill="#d8f868" d="M647 342l9-9 5-19-10 11z"/>
<path fill="#e8f058" d="M651 327l10-12 4-7-10 12z"/>
<path fill="#203888" d="M841 446l10 16 4-2-10-15z"/>
<path fill="#205080" d="M829 415l9 18 4 3-9-17z"/>
<path fill="#282088" d="M862 482l10 10 5-5-11-10z"/>
<path fill="#286880" d="M821 403l10 14 3 5-10-14z"/>
<path fill="#302080" d="M870 490l10 10 5-5-10-10z"/>
<path fill="#387858" d="M791 363l10 18 4 6-10-16z"/>
<path fill="#401888" d="M878 498l11 9 5-5-11-9z"/>
<path fill="#4060ff" d="M585 463l10-8 4-12-10 9z"/>
<path fill="#40a0ff" d="M602 438l10-10 4-12-10 10z"/>
<path fill="#4858ff" d="M580 473l10-6 5-14-10 7z"/>
<path fill="#48b8ff" d="M607 428l9-10 5-19-10 12z"/>
<path fill="#5048ff" d="M576 483l9-3 5-16-9 6z"/>
<path fill="#50e0f0" d="M612 413l9-12 4-22-10 16z"/>
<path fill="#581890" d="M887 505l10 8 5-6-11-7z"/>
<path fill="#607838" d="M748 335l11 3 4 8-11-4zM757 338l10-1 5 11-11-1z"/>
<path fill="#68e0a8" d="M620 384l9-20 5-6-9 20z"/>
<path fill="#7030f8" d="M563 493l9 0 6-12-10 1z"/>
<path fill="#707830" d="M732 315l10 13 4 7-11-9z"/>
<path fill="#787828" d="M723 309l11 6 4 12-10-4z"/>
<path fill="#787830" d="M667 319l10 11 6-7-10-11z"/>
<path fill="#8030e8" d="M558 500l10 2 5-11-10 0z"/>
<path fill="#8828d0" d="M545 505l10 3 5-9-10-2z"/>
<path fill="#8828e0" d="M550 499l10 2 5-10-10-1z"/>
<path fill="#9028c8" d="M536 503l11 3 5-8-10-3z"/>
<path fill="#a0f088" d="M637 360l10-11 5-4-10 10z"/>
<path fill="#a89838" d="M701 316l11-13 5 10-10 10z"/>
<path fill="#d8d048" d="M659 316l10 5 5-8-10-5z"/>
<path fill="#d8d850" d="M689 326l10-11 5 0-10 10z"/>
<path fill="#d8e858" d="M675 329l11 4 5-9-10-3z"/>
<path fill="#203088" d="M845 462l10 13 5-4-10-12z"/>
<path fill="#204088" d="M837 448l10 16 4-3-9-16z"/>
<path fill="#204888" d="M833 429l9 19 5 0-10-18z"/>
<path fill="#282088" d="M858 486l10 10 5-5-10-10z"/>
<path fill="#282888" d="M853 473l11 11 4-5-10-10z"/>
<path fill="#287078" d="M812 395l11 10 3 6-10-11z"/>
<path fill="#302080" d="M866 494l10 10 5-5-10-10z"/>
<path fill="#307068" d="M804 386l10 11 4 5-11-11z"/>
<path fill="#387858" d="M795 373l10 16 4 4-10-15z"/>
<path fill="#401888" d="M874 503l11 9 5-6-11-9z"/>
<path fill="#4088ff" d="M593 455l10-11 4-10-10 11z"/>
<path fill="#4090ff" d="M598 446l10-12 4-8-10 11z"/>
<path fill="#502090" d="M883 510l11 8 4-6-10-8z"/>
<path fill="#507848" d="M783 348l10 17 4 8-11-15z"/>
<path fill="#6038ff" d="M571 493l9-1 6-14-10 3z"/>
<path fill="#607838" d="M774 339l11 10 3 12-10-10z"/>
<path fill="#6820a0" d="M895 512l11 6 5-7-11-5z"/>
<path fill="#687838" d="M766 337l10 2 4 13-10-4z"/>
<path fill="#68e8c8" d="M616 397l10-17 3-16-9 20z"/>
<path fill="#7030f8" d="M566 501l10 0 5-12-10 1z"/>
<path fill="#8828e0" d="M553 507l10 2 5-10-10-1z"/>
<path fill="#9028c8" d="M540 511l10 3 6-8-11-3z"/>
<path fill="#98a040" d="M663 334l10 7 5-12-10-11z"/>
<path fill="#98d870" d="M632 361l10-13 6 1-10 11z"/>
<path fill="#b0d058" d="M658 346l10 4 6-11-10-7z"/>
<path fill="#c0f870" d="M645 351l11-1 5-5-11 0z"/>
<path fill="#c8f868" d="M650 347l10 0 5-14-10-3z"/>
<path fill="#d0d850" d="M654 333l10 2 6-16-10-5z"/>
<path fill="#d8f060" d="M671 341l10 1 6-11-11-3z"/>
<path fill="#f0f058" d="M684 333l11-8 4-10-11 10z"/>
<path fill="#203088" d="M841 465l10 13 5-4-10-13z"/>
<path fill="#205088" d="M829 432l9 19 5-3-9-19z"/>
<path fill="#206080" d="M825 414l9 18 5 0-10-17z"/>
<path fill="#282888" d="M849 476l11 12 4-5-10-11z"/>
<path fill="#287078" d="M817 402l9 14 5 1-10-14z"/>
<path fill="#381880" d="M871 507l10 9 5-5-11-9z"/>
<path fill="#4070ff" d="M588 467l10-8 4-16-9 10z"/>
<path fill="#40b8ff" d="M605 436l11-8 4-8-11 7z"/>
<path fill="#4858ff" d="M584 480l9-5 5-18-10 7z"/>
<path fill="#48c8ff" d="M610 429l10-7 4-13-9 7z"/>
<path fill="#5048ff" d="M579 491l10-2 4-16-9 4z"/>
<path fill="#507848" d="M787 355l10 21 4 5-10-18z"/>
<path fill="#50e0f0" d="M615 418l9-7 5-21-10 9z"/>
<path fill="#6038ff" d="M574 501l10-1 5-13-10 2z"/>
<path fill="#6820a0" d="M891 516l11 7 5-7-11-6z"/>
<path fill="#68e8b8" d="M619 402l9-9 5-24-9 10z"/>
<path fill="#7020a0" d="M900 521l11 6 5-7-11-5z"/>
<path fill="#707830" d="M744 331l11 2 4 7-11-3z"/>
<path fill="#787828" d="M736 319l10 14 4 4-10-11z"/>
<path fill="#8030e8" d="M561 508l10 1 6-10-10 0z"/>
<path fill="#8828d0" d="M548 513l10 3 6-9-10-2z"/>
<path fill="#886820" d="M719 298l11 7 4 12-11-6z"/>
<path fill="#887020" d="M710 303l10-5 5 13-10 4z"/>
<path fill="#887828" d="M728 305l10 17 4 6-11-13z"/>
<path fill="#98b850" d="M640 349l11 0 5 0-11 2z"/>
<path fill="#a8d058" d="M653 349l11 4 5-5-10-4z"/>
<path fill="#b8f878" d="M628 367l10-14 5-5-10 13z"/>
<path fill="#d0f868" d="M667 349l10-1 5-8-10-2z"/>
<path fill="#e8c040" d="M697 317l10-15 5 1-10 14z"/>
<path fill="#e8f060" d="M680 342l10-6 5-12-11 7z"/>
<path fill="#202888" d="M845 479l11 12 4-4-10-12z"/>
<path fill="#203888" d="M837 468l10 13 5-3-10-13z"/>
<path fill="#204088" d="M833 452l10 16 5-4-10-16z"/>
<path fill="#205880" d="M825 437l9 17 5-4-9-18z"/>
<path fill="#282888" d="M854 489l10 11 5-5-10-10z"/>
<path fill="#286880" d="M821 417l9 18 5-3-9-19z"/>
<path fill="#302088" d="M862 498l11 11 4-6-10-10z"/>
<path fill="#307068" d="M808 394l10 10 5 1-11-10z"/>
<path fill="#387858" d="M799 385l11 11 4 1-10-11z"/>
<path fill="#4070ff" d="M592 475l9-4 5-20-9 6z"/>
<path fill="#4090ff" d="M596 459l10-5 4-18-9 7z"/>
<path fill="#40a8ff" d="M601 446l10-8 4-11-10 7z"/>
<path fill="#4858ff" d="M587 489l10-2 4-18-9 3z"/>
<path fill="#487850" d="M791 372l10 16 5 0-10-15z"/>
<path fill="#502090" d="M879 514l11 8 4-5-10-8z"/>
<path fill="#50e0f0" d="M618 422l10-3 5-14-10 3z"/>
<path fill="#5848ff" d="M582 500l10-1 5-14-10 1z"/>
<path fill="#602098" d="M888 521l10 7 5-7-11-6z"/>
<path fill="#60e0d0" d="M623 411l9-3 5-20-9 2z"/>
<path fill="#687830" d="M779 338l10 20 4 7-10-17z"/>
<path fill="#7020a0" d="M896 526l11 6 5-6-11-6z"/>
<path fill="#7038f8" d="M569 508l10 0 6-10-10 0z"/>
<path fill="#788030" d="M752 333l11-4 5 10-11 1z"/>
<path fill="#8828e0" d="M556 515l10 1 6-9-10-1z"/>
<path fill="#88a848" d="M648 349l11 4 6-2-12-3z"/>
<path fill="#9028d0" d="M543 520l10 2 6-8-10-3z"/>
<path fill="#a0f088" d="M624 382l9-10 4-19-9 11z"/>
<path fill="#c0e860" d="M662 352l11-5 5 0-12 1z"/>
<path fill="#e0f060" d="M675 348l11-10 4-4-11 7z"/>
<path fill="#ffe048" d="M693 326l11-13 3-11-10 15z"/>
<path fill="#203088" d="M841 482l11 12 4-4-10-11z"/>
<path fill="#204888" d="M829 455l10 15 5-3-10-16z"/>
<path fill="#282088" d="M858 501l11 11 4-4-10-11z"/>
<path fill="#282888" d="M850 492l10 11 5-4-10-11z"/>
<path fill="#286880" d="M816 422l10 17 5-5-9-17z"/>
<path fill="#307070" d="M812 405l10 14 5-3-10-15z"/>
<path fill="#381880" d="M867 510l10 10 5-5-11-9z"/>
<path fill="#387860" d="M804 397l10 10 5-4-10-10z"/>
<path fill="#4060ff" d="M595 487l10-1 5-18-10 1z"/>
<path fill="#481888" d="M875 519l11 8 5-6-11-8z"/>
<path fill="#48d0ff" d="M613 429l10-2 5-10-10 3z"/>
<path fill="#5050ff" d="M590 499l10 0 5-15-9 0z"/>
<path fill="#602098" d="M884 526l11 7 4-7-11-6z"/>
<path fill="#6038ff" d="M577 508l10 0 6-11-10 0z"/>
<path fill="#607838" d="M783 354l10 21 4 1-9-21z"/>
<path fill="#7020a0" d="M892 531l11 6 5-6-11-6z"/>
<path fill="#7830f0" d="M564 516l10 0 6-10-10 0z"/>
<path fill="#787828" d="M761 330l11-1 4 12-10-1z"/>
<path fill="#787830" d="M770 329l11 10 4 11-11-10z"/>
<path fill="#807828" d="M731 320l10 14 5-1-10-14z"/>
<path fill="#80e090" d="M627 393l10-2 4-23-9 1z"/>
<path fill="#8828d8" d="M551 522l10 2 6-10-10-1z"/>
<path fill="#886820" d="M723 305l10 18 5-1-10-17z"/>
<path fill="#b8b040" d="M739 332l12 3 4-1-11-3z"/>
<path fill="#c0c848" d="M670 349l10-16 6 5-10 10z"/>
<path fill="#c0d058" d="M657 353l11-7 5 1-11 5z"/>
<path fill="#c0f870" d="M631 371l10 0 5-18-10 0z"/>
<path fill="#d0f868" d="M635 355l11 0 5-7-10 0z"/>
<path fill="#e0a038" d="M705 304l11-7 5 2-11 6z"/>
<path fill="#fff050" d="M688 336l11-9 4-14-11 12z"/>
<path fill="#203888" d="M833 470l10 14 5-3-10-13z"/>
<path fill="#205880" d="M821 440l9 17 5-3-9-18z"/>
<path fill="#282088" d="M854 504l11 12 4-5-10-11z"/>
<path fill="#302080" d="M863 514l10 10 5-5-10-10z"/>
<path fill="#307068" d="M808 411l10 14 5-6-10-14z"/>
<path fill="#3880ff" d="M600 471l9-1 5-20-9 1z"/>
<path fill="#401880" d="M871 523l11 9 5-6-11-9z"/>
<path fill="#4068ff" d="M603 486l10 0 5-19-9 0z"/>
<path fill="#407850" d="M795 389l10 10 5-4-10-10z"/>
<path fill="#40a8ff" d="M604 454l10-1 5-18-10 1z"/>
<path fill="#4858ff" d="M599 498l9 0 6-15-10 0z"/>
<path fill="#48c8ff" d="M608 439l10-2 6-12-10 2z"/>
<path fill="#507848" d="M787 376l10 15 5-4-10-15z"/>
<path fill="#50e0f0" d="M621 427l10 0 6-11-10 0z"/>
<path fill="#582098" d="M880 530l11 7 4-6-10-7z"/>
<path fill="#5840ff" d="M586 508l10 0 5-12-10 0z"/>
<path fill="#58e0e0" d="M626 419l10-1 5-14-10 1z"/>
<path fill="#6838f8" d="M572 516l11 0 5-10-10 0z"/>
<path fill="#68e0b8" d="M631 408l10-2 5-18-10 0z"/>
<path fill="#8028e0" d="M559 523l10 1 6-10-10-1z"/>
<path fill="#807828" d="M726 329l11 12 5-8-10-13z"/>
<path fill="#886020" d="M714 297l11 10 5 0-11-9z"/>
<path fill="#88d880" d="M635 390l10 0 5-20-10-2z"/>
<path fill="#9028d0" d="M546 528l10 3 6-9-10-2z"/>
<path fill="#b0e060" d="M640 370l9 3 6-16-10-4z"/>
<path fill="#c0d858" d="M644 354l10 5 6-7-11-4z"/>
<path fill="#e0c840" d="M748 335l11-6 5 1-11 5z"/>
<path fill="#f8e850" d="M684 340l10-14 5-1-11 11z"/>
<path fill="#ffc040" d="M701 315l11-4 4-14-10 5z"/>
<path fill="#fff050" d="M735 340l11 3 5-9-11-3z"/>
<path fill="#203088" d="M838 484l10 12 5-3-11-12z"/>
<path fill="#204888" d="M825 456l10 17 4-3-9-16z"/>
<path fill="#282888" d="M846 494l10 12 5-4-10-11z"/>
<path fill="#287080" d="M812 425l10 17 5-3-10-17z"/>
<path fill="#387858" d="M799 402l11 11 5-7-11-10z"/>
<path fill="#3888f8" d="M608 470l10 0 5-20-10 0z"/>
<path fill="#407850" d="M791 394l10 10 5-6-10-10z"/>
<path fill="#40b0ff" d="M612 452l10 1 5-17-10-1z"/>
<path fill="#48d0ff" d="M617 437l10 1 5-13-10-1z"/>
<path fill="#5048ff" d="M594 508l10 1 5-13-10 0z"/>
<path fill="#507848" d="M782 383l10 13 6-6-10-14z"/>
<path fill="#6038ff" d="M581 516l10 2 5-12-10-1z"/>
<path fill="#60e8c8" d="M635 418l9-4 5-14-10 4z"/>
<path fill="#6820a0" d="M888 536l11 6 5-6-11-6z"/>
<path fill="#687838" d="M778 360l10 19 5-5-9-20z"/>
<path fill="#7830f0" d="M568 524l10 1 5-11-10-1z"/>
<path fill="#787830" d="M775 336l9 21 5 1-10-20z"/>
<path fill="#78f0a8" d="M639 406l10-4 5-19-10 5z"/>
<path fill="#8028e0" d="M563 532l10 2 5-11-10-2z"/>
<path fill="#8828d8" d="M554 530l11 2 5-10-10-1z"/>
<path fill="#886820" d="M718 316l10 15 6-9-10-18z"/>
<path fill="#887028" d="M713 328l11 13 5-11-10-15z"/>
<path fill="#888030" d="M722 340l10 10 6-10-10-12z"/>
<path fill="#a8f880" d="M644 390l9-4 5-21-9 5z"/>
<path fill="#b88028" d="M709 310l11 8 5-12-10-9z"/>
<path fill="#c0a838" d="M757 330l11-2 5 2-12 1z"/>
<path fill="#e0f060" d="M653 359l11-7 4-6-11 6z"/>
<path fill="#f0f058" d="M731 349l10 3 5-11-10-3z"/>
<path fill="#ffd048" d="M697 327l10-3 5-16-11 5z"/>
<path fill="#fff050" d="M744 343l11-4 4-10-11 4z"/>
<path fill="#204088" d="M829 472l10 14 5-3-10-13z"/>
<path fill="#206080" d="M817 440l9 18 5-1-10-18z"/>
<path fill="#282888" d="M850 508l11 12 5-5-11-12z"/>
<path fill="#302088" d="M859 518l10 11 5-6-10-10z"/>
<path fill="#307068" d="M804 414l10 14 5-4-10-14z"/>
<path fill="#387858" d="M795 405l11 11 5-4-11-11z"/>
<path fill="#401880" d="M867 527l11 10 5-6-11-9z"/>
<path fill="#4060ff" d="M607 498l10-1 5-16-10 2z"/>
<path fill="#4078ff" d="M612 485l9-1 5-19-9 2z"/>
<path fill="#4098ff" d="M616 470l10-2 5-21-10 3z"/>
<path fill="#5050ff" d="M602 509l10 0 5-14-9 1z"/>
<path fill="#50e0f0" d="M625 438l10-3 5-14-10 3z"/>
<path fill="#582098" d="M876 535l11 8 4-7-10-7z"/>
<path fill="#5840ff" d="M589 517l10 2 6-12-10-1z"/>
<path fill="#58e0e0" d="M630 427l10-3 5-12-10 3z"/>
<path fill="#607838" d="M774 369l10 16 5-7-10-18z"/>
<path fill="#6820a0" d="M885 541l10 7 5-7-11-6z"/>
<path fill="#7030f8" d="M576 525l10 2 6-12-11-1z"/>
<path fill="#787828" d="M717 343l11 12 5-6-10-11zM770 345l10 17 5-6-10-20z"/>
<path fill="#887028" d="M766 328l10 11 5 2-10-12zM709 329l10 16 6-4-11-14z"/>
<path fill="#9028c8" d="M549 537l11 3 5-10-10-2z"/>
<path fill="#b09030" d="M679 335l9-20 6 13-10 12z"/>
<path fill="#c89830" d="M705 323l10 7 6-14-11-8z"/>
<path fill="#c8b840" d="M666 348l9-22 6 7-10 16z"/>
<path fill="#d0f868" d="M648 372l10-4 5-17-10 5z"/>
<path fill="#d8e050" d="M726 354l11 4 5-7-11-4z"/>
<path fill="#f8c840" d="M692 328l11-6 5 0-12 5z"/>
<path fill="#f8f050" d="M739 352l11-1 5-14-11 3z"/>
<path fill="#203088" d="M842 498l10 12 5-5-10-12z"/>
<path fill="#203888" d="M833 488l11 12 5-4-11-12z"/>
<path fill="#204088" d="M825 476l10 14 5-4-10-14z"/>
<path fill="#205088" d="M821 457l10 18 4-3-9-16z"/>
<path fill="#287078" d="M809 424l9 18 5 0-10-17z"/>
<path fill="#302088" d="M855 524l10 10 5-6-10-11z"/>
<path fill="#402088" d="M863 533l11 9 5-7-11-9z"/>
<path fill="#4070ff" d="M615 497l10-2 5-18-10 4z"/>
<path fill="#407850" d="M786 397l11 10 5-4-10-10z"/>
<path fill="#4090ff" d="M620 484l10-4 4-22-9 7z"/>
<path fill="#48c8ff" d="M621 453l9-3 5-18-9 3z"/>
<path fill="#507848" d="M778 386l10 13 5-4-10-13z"/>
<path fill="#582098" d="M872 541l11 7 5-7-11-7z"/>
<path fill="#5840ff" d="M597 518l10 1 6-13-10 0z"/>
<path fill="#6038ff" d="M593 528l10 1 5-12-10-1z"/>
<path fill="#6820a0" d="M881 547l10 6 5-7-11-6z"/>
<path fill="#6838ff" d="M584 526l10 3 6-12-10-2z"/>
<path fill="#7020a0" d="M893 546l11 6 5-7-11-5z"/>
<path fill="#7830f0" d="M579 535l11 3 5-12-10-2z"/>
<path fill="#787830" d="M765 356l10 15 6-9-10-18z"/>
<path fill="#78f0a8" d="M643 414l10-8 5-15-11 9z"/>
<path fill="#8030e8" d="M571 533l10 3 6-11-10-3z"/>
<path fill="#8828d0" d="M558 539l10 3 6-10-11-2z"/>
<path fill="#8828d8" d="M566 541l10 3 6-10-10-3z"/>
<path fill="#886820" d="M700 323l11 8 5-2-11-8z"/>
<path fill="#988028" d="M761 337l11 10 5-9-10-11z"/>
<path fill="#a0f088" d="M648 402l9-8 5-23-10 12z"/>
<path fill="#f0f058" d="M735 357l11-1 5-8-12 2z"/>
<path fill="#ffe048" d="M753 339l10 0 5-11-11 1z"/>
<path fill="#fff050" d="M748 350l11 1 5-15-11 1z"/>
<path fill="#203088" d="M838 504l10 12 5-7-10-12z"/>
<path fill="#203888" d="M829 494l10 12 6-7-11-12z"/>
<path fill="#205880" d="M817 460l10 18 4-4-9-17z"/>
<path fill="#282888" d="M846 514l11 11 5-6-11-12z"/>
<path fill="#286880" d="M813 439l9 20 5-1-10-19z"/>
<path fill="#302088" d="M850 530l11 11 5-8-10-11z"/>
<path fill="#307860" d="M800 413l10 14 5 0-11-14z"/>
<path fill="#402090" d="M859 539l11 9 5-7-11-9z"/>
<path fill="#407850" d="M791 405l11 10 4 0-10-10z"/>
<path fill="#4858ff" d="M611 508l10-2 5-14-10 3z"/>
<path fill="#487848" d="M782 398l11 9 5 0-11-11z"/>
<path fill="#48b8ff" d="M625 467l9-6 5-23-10 9z"/>
<path fill="#5048ff" d="M606 519l10-2 5-13-10 2z"/>
<path fill="#50e0f0" d="M629 450l10-9 4-19-9 10z"/>
<path fill="#5820a0" d="M868 546l11 8 5-7-11-8z"/>
<path fill="#607838" d="M770 373l10 16 5-5-10-16z"/>
<path fill="#60e8d0" d="M634 435l10-12 4-12-10 11z"/>
<path fill="#68e8c0" d="M638 423l11-11 4-9-11 10z"/>
<path fill="#7020a8" d="M889 552l11 5 5-7-11-5z"/>
<path fill="#7030f0" d="M588 537l10 2 5-12-10-1z"/>
<path fill="#707830" d="M761 361l10 14 5-5-10-15z"/>
<path fill="#807828" d="M713 336l10 17 5 1-10-12z"/>
<path fill="#8828e0" d="M574 543l11 3 5-10-10-3z"/>
<path fill="#888830" d="M722 352l11 5 5 0-12-4z"/>
<path fill="#9028c8" d="M561 548l10 3 6-9-10-3z"/>
<path fill="#b0a038" d="M757 350l10 8 6-13-11-9z"/>
<path fill="#d8f060" d="M652 386l10-12 4-27-10 18z"/>
<path fill="#f0d048" d="M661 354l10-24 5-3-10 22z"/>
<path fill="#fff050" d="M743 356l11 1 5-8-11-1zM657 368l10-20 4-18-10 24z"/>
<path fill="#203088" d="M833 511l11 12 5-9-10-11z"/>
<path fill="#203888" d="M825 502l10 11 6-8-11-12z"/>
<path fill="#204088" d="M821 482l10 14 5-7-10-14z"/>
<path fill="#205880" d="M812 467l10 18 5-7-9-18z"/>
<path fill="#282888" d="M842 521l10 11 6-8-11-11z"/>
<path fill="#287080" d="M809 442l9 21 5-4-9-20z"/>
<path fill="#302088" d="M846 537l11 10 5-8-10-10z"/>
<path fill="#307068" d="M805 422l9 20 5 0-10-18z"/>
<path fill="#4068ff" d="M619 506l10-3 5-15-10 4z"/>
<path fill="#4080ff" d="M624 494l9-3 5-19-9 5z"/>
<path fill="#40a8ff" d="M629 480l9-5 5-25-10 8z"/>
<path fill="#482090" d="M855 545l11 9 5-7-11-9z"/>
<path fill="#4858ff" d="M614 517l10-2 5-14-10 3z"/>
<path fill="#5840ff" d="M601 529l10 0 5-14-10 1z"/>
<path fill="#587840" d="M774 386l10 14 5-1-10-13z"/>
<path fill="#6820a8" d="M877 552l10 7 5-7-11-7z"/>
<path fill="#6838ff" d="M596 539l10 1 6-14-10 1z"/>
<path fill="#687830" d="M766 371l10 18 4-1-10-15z"/>
<path fill="#7020a8" d="M885 557l11 6 5-7-11-6z"/>
<path fill="#7830e8" d="M591 548l11 2 5-13-10-1z"/>
<path fill="#8028e8" d="M583 546l10 2 6-11-10-2z"/>
<path fill="#885820" d="M696 307l11 10 4 14-10-6z"/>
<path fill="#886020" d="M687 316l10-10 6 18-10 5z"/>
<path fill="#886820" d="M705 316l10 23 5 6-11-16z"/>
<path fill="#9028d0" d="M569 551l11 3 6-10-11-3z"/>
<path fill="#a09838" d="M752 355l11 8 5-6-10-9z"/>
<path fill="#a8f880" d="M651 406l11-11 4-14-11 11z"/>
<path fill="#b07828" d="M674 329l10-29 6 15-10 21z"/>
<path fill="#c0b040" d="M730 356l11-4 5 3-11 2z"/>
<path fill="#d0f060" d="M656 394l10-10 4-28-9 15z"/>
<path fill="#203088" d="M820 509l11 11 5-8-10-11z"/>
<path fill="#204088" d="M816 490l11 14 5-9-10-13zM812 498l10 13 6-9-11-13z"/>
<path fill="#205088" d="M808 476l10 16 5-8-10-17z"/>
<path fill="#282088" d="M838 528l10 10 5-7-10-11z"/>
<path fill="#282888" d="M829 519l11 11 5-9-11-11z"/>
<path fill="#387858" d="M796 411l10 14 5 1-11-14z"/>
<path fill="#4068ff" d="M623 514l10-1 5-14-10 2z"/>
<path fill="#4078ff" d="M627 503l10-2 5-15-9 2z"/>
<path fill="#4098ff" d="M632 491l10-2 5-20-10 3z"/>
<path fill="#487848" d="M787 404l11 9 4 2-11-10z"/>
<path fill="#5048ff" d="M610 528l9-1 6-15-10 3z"/>
<path fill="#507840" d="M778 398l11 8 5 1-11-10z"/>
<path fill="#50d8e8" d="M633 461l9-8 5-27-9 12z"/>
<path fill="#5820a0" d="M864 552l10 8 5-8-10-7z"/>
<path fill="#5840ff" d="M605 539l10 0 5-15-10 2z"/>
<path fill="#607838" d="M770 386l10 14 5-1-10-13z"/>
<path fill="#6820a8" d="M872 558l11 6 5-7-11-6z"/>
<path fill="#7020a8" d="M881 563l11 6 5-7-11-6z"/>
<path fill="#7030f8" d="M600 549l10 2 5-14-10 0z"/>
<path fill="#787828" d="M757 357l10 17 5 1-10-14z"/>
<path fill="#807828" d="M748 350l11 9 4 4-11-9z"/>
<path fill="#8828d8" d="M578 553l10 3 6-10-10-2zM586 555l11 3 5-10-10-3z"/>
<path fill="#886820" d="M709 328l10 22 5 3-10-17z"/>
<path fill="#887828" d="M717 348l12 5 4 3-12-4z"/>
<path fill="#88f098" d="M642 424l10-16 4-9-10 15z"/>
<path fill="#9020c8" d="M573 560l10 3 6-9-10-3z"/>
<path fill="#98f090" d="M647 414l10-15 4-5-10 12z"/>
<path fill="#a09030" d="M739 352l11-2 5 6-11 0z"/>
<path fill="#203088" d="M816 516l11 11 5-8-10-11z"/>
<path fill="#203888" d="M808 505l10 13 5-8-10-13z"/>
<path fill="#204888" d="M803 486l11 14 5-9-10-15z"/>
<path fill="#282088" d="M833 534l11 11 5-8-10-10z"/>
<path fill="#282888" d="M825 525l10 11 6-8-11-10z"/>
<path fill="#286880" d="M799 461l10 18 6-10-10-20z"/>
<path fill="#287080" d="M804 449l10 21 5-8-10-21z"/>
<path fill="#302088" d="M842 543l11 10 5-7-11-10z"/>
<path fill="#307860" d="M800 424l10 20 5-3-10-19z"/>
<path fill="#3898f8" d="M641 488l9 1 6-20-10-1z"/>
<path fill="#4070ff" d="M631 513l10 1 6-14-11-1z"/>
<path fill="#4088ff" d="M636 501l10 1 5-15-10-1z"/>
<path fill="#40c0f0" d="M637 475l9-4 5-26-9 5z"/>
<path fill="#482098" d="M851 551l11 9 5-8-11-8z"/>
<path fill="#4858ff" d="M618 527l10-1 5-15-10 1z"/>
<path fill="#5048ff" d="M613 539l10 1 5-16-9 0z"/>
<path fill="#6020a0" d="M860 558l10 7 5-7-10-7z"/>
<path fill="#6820a8" d="M868 564l11 6 5-7-11-6z"/>
<path fill="#6838ff" d="M608 550l10 2 6-15-10 0z"/>
<path fill="#68e8b8" d="M638 441l9-12 5-21-10 14z"/>
<path fill="#7020a8" d="M877 569l11 6 5-8-11-5z"/>
<path fill="#707830" d="M761 368l10 20 5 0-10-17z"/>
<path fill="#8028e8" d="M595 557l10 3 6-12-10-1z"/>
<path fill="#9028d0" d="M581 562l11 4 6-10-11-3z"/>
<path fill="#b09830" d="M726 353l11-7 5 7-11 4z"/>
<path fill="#c0a030" d="M712 352l11 5 6-4-11-5z"/>
<path fill="#d0f868" d="M660 396l10-6 5-14-11 5z"/>
<path fill="#e88830" d="M670 333l9-32 5-1-9 29z"/>
<path fill="#e8d850" d="M665 384l9-6 5-30-10 8z"/>
<path fill="#f8d848" d="M661 374l9-15 4-35-9 24z"/>
<path fill="#204888" d="M799 493l10 14 6-8-11-14z"/>
<path fill="#206080" d="M795 471l10 16 6-9-10-18z"/>
<path fill="#282088" d="M829 540l11 10 5-7-10-10z"/>
<path fill="#282888" d="M821 531l10 11 5-7-10-11z"/>
<path fill="#302088" d="M838 549l11 9 5-7-11-9z"/>
<path fill="#307860" d="M796 433l10 19 5-8-10-20z"/>
<path fill="#3880ff" d="M644 502l10 3 6-16-10-3z"/>
<path fill="#3898e8" d="M649 489l10 2 5-19-10-3z"/>
<path fill="#4058ff" d="M626 526l10 2 6-16-10-2z"/>
<path fill="#40b8d0" d="M645 471l10 1 5-26-10-1z"/>
<path fill="#482098" d="M847 557l10 8 6-7-11-8z"/>
<path fill="#487848" d="M791 413l11 14 5-3-11-14z"/>
<path fill="#5048ff" d="M622 539l10 2 5-16-10-2z"/>
<path fill="#6020a0" d="M855 564l11 7 5-7-11-7z"/>
<path fill="#6038ff" d="M617 551l10 3 6-15-11-2z"/>
<path fill="#608848" d="M782 408l11 7 5-3-10-8z"/>
<path fill="#60d8b8" d="M641 453l10-5 4-29-9 7z"/>
<path fill="#6820a8" d="M864 570l11 6 5-7-11-6z"/>
<path fill="#687838" d="M765 389l10 14 6-4-11-14z"/>
<path fill="#689040" d="M774 402l11 7 5-4-11-8z"/>
<path fill="#7830e8" d="M603 559l11 3 5-12-10-2z"/>
<path fill="#804018" d="M682 301l10-13 6 21-10 9z"/>
<path fill="#8828d8" d="M590 565l10 3 6-10-10-3z"/>
<path fill="#885018" d="M700 301l10 30 5 8-10-23z"/>
<path fill="#886020" d="M704 330l10 23 5-3-10-22z"/>
<path fill="#887828" d="M753 350l10 20 4 4-10-17z"/>
<path fill="#907028" d="M735 347l10-5 6 10-11 2z"/>
<path fill="#c8f868" d="M655 401l11-9 4-4-11 7z"/>
<path fill="#d0e860" d="M668 390l10 3 6-14-11-4z"/>
<path fill="#ffa838" d="M665 350l10-26 4-23-9 32z"/>
<path fill="#203088" d="M812 522l10 11 6-7-11-11z"/>
<path fill="#203888" d="M803 512l11 12 5-7-10-13z"/>
<path fill="#205880" d="M790 479l11 16 5-8-10-17z"/>
<path fill="#307068" d="M791 446l10 17 6-12-10-18z"/>
<path fill="#3870ff" d="M639 514l11 3 5-15-10-3zM648 517l10 3 6-15-10-3z"/>
<path fill="#3888ff" d="M653 504l10 3 5-16-10-3z"/>
<path fill="#3898e8" d="M658 491l10 3 5-19-10-3z"/>
<path fill="#4058f8" d="M635 527l10 4 6-16-11-4z"/>
<path fill="#40a8c0" d="M654 471l10 4 5-24-10-5z"/>
<path fill="#4848f8" d="M630 541l10 3 6-16-10-3z"/>
<path fill="#487848" d="M787 423l10 13 6-10-11-14z"/>
<path fill="#5838ff" d="M625 553l11 3 5-14-10-4z"/>
<path fill="#7820a8" d="M873 575l11 5 5-7-11-5z"/>
<path fill="#7830f0" d="M612 561l10 3 6-12-10-3z"/>
<path fill="#8828d8" d="M598 567l11 3 6-10-11-3z"/>
<path fill="#886820" d="M744 343l11 9 4 8-11-8z"/>
<path fill="#887828" d="M695 370l10 12 6-19-11-18z"/>
<path fill="#888830" d="M681 381l10 9 6-21-10-15z"/>
<path fill="#88b858" d="M769 411l11 7 5-10-10-8z"/>
<path fill="#909840" d="M690 389l10 7 6-16-10-12z"/>
<path fill="#90a040" d="M676 392l11 8 6-12-11-10z"/>
<path fill="#98b850" d="M685 399l11 7 5-11-10-8z"/>
<path fill="#c0b038" d="M673 378l10 3 5-27-10-6z"/>
<path fill="#c0f870" d="M650 411l11-10 4-9-11 8z"/>
<path fill="#c8f870" d="M694 406l11 1 5-11-11-2z"/>
<path fill="#d0e860" d="M699 396l10 2 5-17-10-2z"/>
<path fill="#e0d848" d="M704 381l10 3 5-19-10-3z"/>
<path fill="#f8c040" d="M721 356l11-9 5-1-11 8z"/>
<path fill="#f8d048" d="M708 364l10 4 6-13-11-5z"/>
<path fill="#204888" d="M795 499l10 15 5-8-10-14z"/>
<path fill="#282088" d="M825 546l11 10 5-7-11-10z"/>
<path fill="#282890" d="M816 538l11 10 5-8-10-10z"/>
<path fill="#283098" d="M807 530l11 10 5-8-10-11z"/>
<path fill="#287078" d="M786 458l11 15 5-11-10-17z"/>
<path fill="#382088" d="M834 555l10 10 6-8-11-10z"/>
<path fill="#4058ff" d="M643 530l11 3 5-15-10-4z"/>
<path fill="#407858" d="M782 436l10 12 6-14-10-13z"/>
<path fill="#4090ff" d="M662 507l10 1 5-16-10-1z"/>
<path fill="#40a8f8" d="M666 493l10 1 6-18-10-1z"/>
<path fill="#40b0d0" d="M662 474l10 4 6-22-10-5z"/>
<path fill="#482098" d="M842 563l11 9 5-8-10-8z"/>
<path fill="#4848ff" d="M639 544l10 3 5-16-10-3z"/>
<path fill="#58c090" d="M650 447l9 2 5-28-9-2z"/>
<path fill="#6020a0" d="M851 570l11 7 5-7-11-7z"/>
<path fill="#687838" d="M760 399l11 13 6-10-11-14z"/>
<path fill="#688038" d="M672 396l10 11 6-8-11-9z"/>
<path fill="#68b070" d="M773 430l11 8 6-16-11-7z"/>
<path fill="#7020a8" d="M860 576l11 6 5-7-11-7z"/>
<path fill="#7030f0" d="M621 563l10 3 6-12-11-3z"/>
<path fill="#787828" d="M757 369l10 22 5-3-10-21z"/>
<path fill="#78b868" d="M765 423l10 8 6-15-11-7z"/>
<path fill="#8028e0" d="M607 569l10 3 6-10-10-3z"/>
<path fill="#803818" d="M691 288l11 13 4 18-10-10z"/>
<path fill="#80a850" d="M680 405l11 9 6-9-11-8z"/>
<path fill="#80b868" d="M778 417l11 7 5-10-11-7z"/>
<path fill="#886820" d="M699 346l10 19 6-13-10-23z"/>
<path fill="#9028c8" d="M585 571l10 4 6-9-10-3z"/>
<path fill="#a0f088" d="M646 429l9-7 5-22-10 8z"/>
<path fill="#b8d858" d="M663 393l11 4 5-6-11-3z"/>
<path fill="#203888" d="M799 520l10 11 6-8-11-12z"/>
<path fill="#205880" d="M786 485l10 16 6-7-10-16z"/>
<path fill="#287080" d="M782 466l10 15 6-9-11-15z"/>
<path fill="#387868" d="M777 448l11 12 6-13-11-12z"/>
<path fill="#402098" d="M829 562l11 9 5-8-10-9z"/>
<path fill="#4060ff" d="M652 533l10 2 6-16-10-2z"/>
<path fill="#4078ff" d="M657 520l10 1 5-15-10-2z"/>
<path fill="#48a080" d="M658 448l10 6 5-24-10-9z"/>
<path fill="#48b090" d="M667 454l10 5 5-22-10-7z"/>
<path fill="#48c8e0" d="M671 477l10 1 5-22-10 0z"/>
<path fill="#5020a0" d="M838 570l11 8 5-8-11-8z"/>
<path fill="#5050ff" d="M648 546l10 2 5-16-10-1z"/>
<path fill="#50a880" d="M769 441l10 9 6-14-11-8z"/>
<path fill="#5838ff" d="M634 556l10 3 6-15-10-3z"/>
<path fill="#588850" d="M751 424l11 11 5-13-10-11z"/>
<path fill="#608040" d="M756 412l10 12 6-14-10-13z"/>
<path fill="#60b078" d="M760 434l11 8 5-13-10-8z"/>
<path fill="#7030f8" d="M629 566l11 3 5-13-10-3z"/>
<path fill="#7820a8" d="M869 581l11 5 5-7-11-6z"/>
<path fill="#787830" d="M752 381l10 19 6-10-10-21z"/>
<path fill="#78a858" d="M676 415l10 9 6-12-11-8z"/>
<path fill="#8828d0" d="M593 574l11 3 6-9-11-3z"/>
<path fill="#886020" d="M686 357l10 14 6-25-11-23z"/>
<path fill="#b8f870" d="M689 413l11 1 5-9-10-1z"/>
<path fill="#c8e860" d="M658 402l11 4 5-11-10-3z"/>
<path fill="#d0f868" d="M703 407l11-2 5-11-11 1z"/>
<path fill="#e0f060" d="M708 398l10-2 5-18-10 3z"/>
<path fill="#e8a030" d="M669 359l9-8 5-39-9 12z"/>
<path fill="#ffd848" d="M717 367l11-6 4-14-10 7z"/>
<path fill="#fff050" d="M712 384l11-4 5-21-11 6z"/>
<path fill="#203890" d="M794 530l11 10 5-10-10-11z"/>
<path fill="#204088" d="M790 507l11 15 5-9-10-15z"/>
<path fill="#2838a8" d="M803 539l11 9 5-10-10-9z"/>
<path fill="#302898" d="M821 554l10 10 6-9-11-10z"/>
<path fill="#3030a0" d="M812 547l10 9 6-9-11-10z"/>
<path fill="#307068" d="M773 456l11 12 5-9-10-12z"/>
<path fill="#4080ff" d="M666 521l10 0 5-16-10 0z"/>
<path fill="#4098ff" d="M670 508l11 0 5-16-10 0z"/>
<path fill="#40b8ff" d="M675 494l10 0 5-19-10 0z"/>
<path fill="#488058" d="M747 433l10 11 6-10-11-11z"/>
<path fill="#48a080" d="M764 449l11 9 5-10-10-9z"/>
<path fill="#50a878" d="M755 443l11 8 6-10-11-9z"/>
<path fill="#5840ff" d="M643 558l10 3 5-15-10-2z"/>
<path fill="#6020a8" d="M847 577l11 6 5-7-11-7z"/>
<path fill="#607838" d="M742 412l11 14 6-14-11-16z"/>
<path fill="#60d8b0" d="M676 458l10 1 5-23-10 0z"/>
<path fill="#688038" d="M667 404l10 12 6-11-10-10z"/>
<path fill="#689850" d="M662 423l11 10 5-19-10-11z"/>
<path fill="#68a868" d="M671 432l10 7 6-18-10-8z"/>
<path fill="#7020a8" d="M856 582l11 6 5-8-11-6z"/>
<path fill="#707830" d="M747 398l10 16 6-15-10-19z"/>
<path fill="#8028e8" d="M616 572l10 3 6-11-11-3z"/>
<path fill="#8828d0" d="M602 576l11 4 5-10-10-3z"/>
<path fill="#884018" d="M696 301l9 31 5-1-9-30z"/>
<path fill="#886820" d="M748 351l10 21 5-2-10-20z"/>
<path fill="#98d068" d="M654 421l10 3 5-21-10-3z"/>
<path fill="#a86820" d="M678 351l9 6 5-34-9-11z"/>
<path fill="#b0f880" d="M685 423l10 0 6-11-11-1z"/>
<path fill="#e8a038" d="M730 348l11-5 5 0-11 5z"/>
<path fill="#e8e858" d="M716 396l11 0 5-20-10 1z"/>
<path fill="#204088" d="M786 518l10 13 6-10-11-15z"/>
<path fill="#205880" d="M782 492l10 17 5-8-10-17z"/>
<path fill="#2838a0" d="M790 540l10 10 6-11-11-11z"/>
<path fill="#287080" d="M777 471l11 16 5-7-10-15z"/>
<path fill="#3038b8" d="M798 549l11 8 6-11-11-9z"/>
<path fill="#307070" d="M769 462l10 11 6-6-11-12z"/>
<path fill="#3828a8" d="M816 563l11 9 5-10-10-9z"/>
<path fill="#3830b0" d="M807 556l11 8 6-10-11-9z"/>
<path fill="#4068ff" d="M661 534l10 0 5-16-10 0z"/>
<path fill="#4820a0" d="M825 570l11 9 5-9-11-9z"/>
<path fill="#4850ff" d="M656 548l10 1 6-17-10 0z"/>
<path fill="#48a880" d="M751 450l11 8 5-9-11-8z"/>
<path fill="#507840" d="M738 420l10 15 6-10-10-14z"/>
<path fill="#50d0e0" d="M680 478l10-1 5-24-10 3z"/>
<path fill="#5820a8" d="M834 577l11 8 5-8-11-8z"/>
<path fill="#5840ff" d="M651 560l11 2 5-15-10-2z"/>
<path fill="#7038f8" d="M638 568l10 3 6-13-11-2z"/>
<path fill="#707830" d="M734 402l10 12 6-16-10-15z"/>
<path fill="#7820a8" d="M865 587l11 5 5-7-11-6z"/>
<path fill="#8030e8" d="M624 574l11 4 5-11-10-3z"/>
<path fill="#8828d0" d="M611 579l10 4 6-10-11-3z"/>
<path fill="#884818" d="M690 324l11 24 5-16-10-31z"/>
<path fill="#886020" d="M739 343l11 10 5-1-11-10z"/>
<path fill="#88f098" d="M680 439l10 0 6-18-11 0z"/>
<path fill="#b0b040" d="M725 396l10 7 6-19-10-8z"/>
<path fill="#c8f868" d="M698 413l12-4 4-6-11 2z"/>
<path fill="#d8f060" d="M712 404l10 1 6-11-11 0z"/>
<path fill="#e05020" d="M678 304l10-17 5 1-10 15z"/>
<path fill="#ff6828" d="M674 327l9-12 5-28-10 14z"/>
<path fill="#ffd048" d="M721 380l10-1 5-23-10 3z"/>
<path fill="#203888" d="M781 530l10 12 6-12-10-14z"/>
<path fill="#205088" d="M777 504l10 15 6-11-10-16z"/>
<path fill="#286880" d="M773 479l10 16 6-9-11-16z"/>
<path fill="#3038b0" d="M785 551l11 9 5-12-10-9z"/>
<path fill="#3830c0" d="M794 559l11 8 5-11-10-9z"/>
<path fill="#4030b8" d="M803 565l11 8 5-10-11-9z"/>
<path fill="#4070ff" d="M670 534l10 1 5-16-10-1z"/>
<path fill="#407850" d="M742 440l11 11 5-8-10-11z"/>
<path fill="#4088ff" d="M674 520l11 1 5-15-10-1z"/>
<path fill="#409888" d="M760 456l10 8 6-8-11-8z"/>
<path fill="#40a0ff" d="M679 507l10 1 6-15-11-2z"/>
<path fill="#40b8f0" d="M684 494l10 1 5-20-10-1z"/>
<path fill="#4858ff" d="M665 549l10 1 5-17-10-1z"/>
<path fill="#5048ff" d="M660 562l10 2 6-16-10-2z"/>
<path fill="#507848" d="M733 426l11 16 5-8-10-15z"/>
<path fill="#607838" d="M729 409l11 13 5-9-10-13z"/>
<path fill="#6820a8" d="M843 584l11 6 5-8-11-7z"/>
<path fill="#6838ff" d="M647 571l10 2 6-13-11-2z"/>
<path fill="#68e0a8" d="M685 459l9-3 5-25-9 5z"/>
<path fill="#7020b0" d="M852 589l11 5 5-8-11-5z"/>
<path fill="#802810" d="M686 288l11 16 5-1-10-15z"/>
<path fill="#8030e8" d="M633 577l10 3 6-11-10-3z"/>
<path fill="#807828" d="M738 385l11 14 6-18-11-18z"/>
<path fill="#8820c8" d="M597 583l11 4 5-9-10-4z"/>
<path fill="#8828d8" d="M619 582l11 4 6-10-11-4z"/>
<path fill="#887020" d="M743 364l10 19 6-12-10-21z"/>
<path fill="#a8b848" d="M720 404l11 7 6-10-11-7z"/>
<path fill="#b89830" d="M730 379l10 7 6-22-11-9z"/>
<path fill="#c0f870" d="M694 423l11-6 4-10-11 4z"/>
<path fill="#ffc040" d="M726 361l10-3 5-16-10 5z"/>
<path fill="#203890" d="M768 532l10 11 6-13-11-13z"/>
<path fill="#204888" d="M772 518l11 13 6-13-11-15z"/>
<path fill="#283898" d="M776 542l11 10 6-12-11-12z"/>
<path fill="#2868c0" d="M705 518l11 8 5-15-10-8z"/>
<path fill="#307070" d="M764 470l11 11 5-9-10-11z"/>
<path fill="#3078b0" d="M710 505l10 8 6-17-10-9z"/>
<path fill="#3078c8" d="M696 511l11 8 6-15-11-8zM719 512l10 7 6-16-11-8z"/>
<path fill="#3088b0" d="M723 498l11 7 6-18-11-9z"/>
<path fill="#3088b8" d="M701 499l10 7 6-19-10-8z"/>
<path fill="#3830b8" d="M781 561l10 8 6-11-11-9z"/>
<path fill="#387858" d="M737 449l11 12 6-11-11-11z"/>
<path fill="#3880f8" d="M683 520l10 5 6-15-11-4z"/>
<path fill="#3890f0" d="M688 508l10 4 6-15-11-5z"/>
<path fill="#38a8d8" d="M692 495l11 4 5-19-10-5z"/>
<path fill="#4828b0" d="M812 572l11 8 5-10-11-8z"/>
<path fill="#48b0a0" d="M755 465l11 7 5-10-10-7z"/>
<path fill="#5020a8" d="M821 579l10 7 6-9-11-8z"/>
<path fill="#50b898" d="M746 459l11 7 6-10-11-8z"/>
<path fill="#50c8c0" d="M689 477l9 1 6-25-10 0z"/>
<path fill="#6020a8" d="M829 585l11 7 6-9-11-7z"/>
<path fill="#6038ff" d="M655 573l11 3 5-14-10-3z"/>
<path fill="#607838" d="M725 412l10 16 6-6-11-14z"/>
<path fill="#7830f0" d="M642 579l10 4 6-12-11-3z"/>
<path fill="#8820c8" d="M606 586l10 4 6-9-10-4z"/>
<path fill="#8828d8" d="M628 585l11 3 5-10-10-3z"/>
<path fill="#903818" d="M682 315l10 11 5-25-10-14z"/>
<path fill="#a8f088" d="M689 439l10-5 5-19-10 6z"/>
<path fill="#b08028" d="M734 357l11 9 6-15-11-9z"/>
<path fill="#d8f860" d="M707 409l11-1 5-5-11 0z"/>
<path fill="#205080" d="M763 508l11 12 6-16-11-14z"/>
<path fill="#205098" d="M759 523l10 10 6-15-10-12z"/>
<path fill="#206080" d="M768 492l11 14 5-13-10-15z"/>
<path fill="#2838a0" d="M763 544l11 10 5-12-10-12z"/>
<path fill="#3030a8" d="M772 553l10 9 6-11-11-11z"/>
<path fill="#3058c8" d="M700 530l11 8 6-14-11-8z"/>
<path fill="#3068d0" d="M714 525l11 7 5-15-10-7zM692 524l10 7 6-15-11-7z"/>
<path fill="#3070d8" d="M736 524l11 6 6-16-11-6z"/>
<path fill="#3078d8" d="M728 519l10 6 6-16-11-7z"/>
<path fill="#308098" d="M715 489l10 9 6-19-11-12z"/>
<path fill="#3088d0" d="M741 510l11 7 5-19-10-6z"/>
<path fill="#3868e0" d="M723 531l10 5 6-14-10-6z"/>
<path fill="#3868f8" d="M678 535l11 4 5-17-10-4z"/>
<path fill="#388878" d="M733 463l10 11 6-15-10-11z"/>
<path fill="#389098" d="M728 481l11 8 5-18-10-10zM706 482l10 8 6-22-10-11z"/>
<path fill="#3890d0" d="M732 505l11 6 5-18-10-7z"/>
<path fill="#4030c0" d="M789 568l11 7 6-10-11-8z"/>
<path fill="#4050f0" d="M674 550l10 4 5-18-10-4z"/>
<path fill="#40a8c8" d="M737 489l10 6 6-18-10-6z"/>
<path fill="#4828c0" d="M798 574l11 7 6-9-11-8z"/>
<path fill="#4840f8" d="M669 564l10 3 6-16-11-4z"/>
<path fill="#487848" d="M729 434l10 17 6-10-11-16z"/>
<path fill="#48b0a8" d="M697 478l10 4 6-24-10-6z"/>
<path fill="#48b8b0" d="M742 473l10 6 6-15-11-6z"/>
<path fill="#7020b0" d="M838 590l12 6 5-8-11-6z"/>
<path fill="#7830f0" d="M650 582l11 3 6-11-11-4z"/>
<path fill="#809038" d="M716 406l10 9 6-5-11-8z"/>
<path fill="#8828c8" d="M614 589l11 4 6-9-11-4z"/>
<path fill="#2848a8" d="M754 536l11 9 5-13-10-11z"/>
<path fill="#2868b8" d="M750 516l10 8 6-17-10-9z"/>
<path fill="#3038a8" d="M758 554l11 10 6-12-11-10z"/>
<path fill="#3048d0" d="M696 544l10 7 6-15-11-8z"/>
<path fill="#3058d0" d="M687 538l10 6 6-15-10-7z"/>
<path fill="#3058d8" d="M709 537l11 6 6-14-11-6z"/>
<path fill="#3060c0" d="M745 529l11 8 6-15-11-8z"/>
<path fill="#307868" d="M719 470l11 11 6-19-11-14z"/>
<path fill="#3080a8" d="M755 500l10 9 6-18-10-10z"/>
<path fill="#308898" d="M759 483l11 10 6-14-11-10z"/>
<path fill="#3830b0" d="M767 562l11 9 6-11-11-9z"/>
<path fill="#3840d8" d="M691 558l11 6 5-16-10-7z"/>
<path fill="#3848e0" d="M682 553l11 5 5-16-10-6z"/>
<path fill="#3850e0" d="M705 550l10 6 6-15-11-6z"/>
<path fill="#3858f0" d="M718 543l11 5 5-14-10-5z"/>
<path fill="#3860e0" d="M732 536l10 5 6-13-11-6z"/>
<path fill="#38a8c8" d="M746 494l10 7 6-19-10-6z"/>
<path fill="#4030c0" d="M776 570l11 7 5-10-10-8z"/>
<path fill="#407850" d="M724 449l10 15 6-15-10-16z"/>
<path fill="#4840e8" d="M678 567l10 4 6-15-11-5z"/>
<path fill="#48b8b8" d="M751 478l10 6 6-15-11-6z"/>
<path fill="#5028b0" d="M807 580l11 7 6-9-11-8z"/>
<path fill="#6020b0" d="M816 586l11 7 5-8-10-8z"/>
<path fill="#6038f8" d="M664 575l11 4 5-14-10-4z"/>
<path fill="#6820b0" d="M825 592l11 6 5-8-11-7z"/>
<path fill="#7820b0" d="M847 595l12 6 5-8-11-6z"/>
<path fill="#78d890" d="M693 456l10-1 5-26-10 2z"/>
<path fill="#8828d0" d="M623 592l11 4 6-10-11-3z"/>
<path fill="#8828e0" d="M637 588l10 3 6-10-11-4z"/>
<path fill="#d8f868" d="M702 417l11-2 5-9-11 1z"/>
<path fill="#2840b0" d="M749 547l11 8 6-11-11-10z"/>
<path fill="#3030b0" d="M754 564l10 9 6-11-11-9z"/>
<path fill="#3038b8" d="M745 557l11 8 5-11-10-9z"/>
<path fill="#3048d8" d="M736 551l11 7 5-12-10-8z"/>
<path fill="#3050c8" d="M741 540l10 8 6-13-11-8z"/>
<path fill="#3830b8" d="M763 572l10 8 6-11-11-8z"/>
<path fill="#3858f0" d="M727 547l11 5 5-13-10-6z"/>
<path fill="#4040e8" d="M700 563l10 5 6-14-10-6z"/>
<path fill="#4050f0" d="M714 555l10 5 6-14-11-5zM722 559l11 5 6-14-11-5z"/>
<path fill="#408060" d="M711 460l10 10 6-21-11-14z"/>
<path fill="#4830c8" d="M785 576l11 7 5-9-10-8z"/>
<path fill="#4838e8" d="M686 571l11 5 6-15-11-6z"/>
<path fill="#4848f8" d="M709 567l10 5 6-14-11-5z"/>
<path fill="#5028c0" d="M794 582l11 7 5-9-11-8z"/>
<path fill="#5038f0" d="M695 575l11 5 5-14-10-5z"/>
<path fill="#507840" d="M715 437l11 14 6-17-11-15z"/>
<path fill="#5828b0" d="M803 588l11 7 5-9-11-7z"/>
<path fill="#5838f0" d="M673 578l10 4 6-13-11-5z"/>
<path fill="#6030e8" d="M682 582l10 4 6-12-11-6z"/>
<path fill="#607838" d="M720 420l10 16 6-9-10-15z"/>
<path fill="#60b070" d="M702 455l10 5 5-25-10-6z"/>
<path fill="#7020b0" d="M834 597l11 6 5-8-11-6z"/>
<path fill="#7030e8" d="M668 587l11 5 5-12-10-4z"/>
<path fill="#7030f0" d="M659 584l11 4 5-11-10-4z"/>
<path fill="#7820b0" d="M843 602l11 5 5-8-11-5z"/>
<path fill="#8028e0" d="M646 590l10 4 6-11-11-3z"/>
<path fill="#8828d0" d="M632 595l11 4 5-10-10-3z"/>
<path fill="#98b048" d="M711 414l11 8 5-9-10-8z"/>
<path fill="#c0f870" d="M698 434l10-2 5-19-10 2z"/>
<path fill="#3830b8" d="M749 575l11 8 6-12-11-9z"/>
<path fill="#3838c0" d="M740 568l11 8 6-13-11-8z"/>
<path fill="#4030d0" d="M736 580l10 6 6-12-11-8z"/>
<path fill="#4040e0" d="M731 563l11 6 6-13-11-7z"/>
<path fill="#4828c0" d="M758 581l11 8 5-11-10-8z"/>
<path fill="#4830c8" d="M771 579l11 7 6-10-11-8zM744 585l11 7 6-11-11-8z"/>
<path fill="#4838e8" d="M727 575l10 6 6-14-11-6z"/>
<path fill="#4840f0" d="M718 571l10 5 6-14-11-5z"/>
<path fill="#5028c8" d="M780 585l11 6 6-9-11-7z"/>
<path fill="#5030e8" d="M722 587l11 5 5-13-10-6z"/>
<path fill="#5038f8" d="M704 579l11 4 5-13-10-5zM713 583l11 4 5-13-10-5z"/>
<path fill="#5828c0" d="M789 590l11 6 6-9-11-7z"/>
<path fill="#5828c8" d="M767 588l11 6 5-10-10-7z"/>
<path fill="#6020b0" d="M812 593l11 7 5-8-11-7z"/>
<path fill="#6020b8" d="M798 595l11 7 6-9-11-7z"/>
<path fill="#6028c8" d="M776 593l11 6 5-10-11-6z"/>
<path fill="#6030e8" d="M690 585l11 5 6-12-11-5z"/>
<path fill="#6820b0" d="M807 600l11 7 6-9-11-6z"/>
<path fill="#6830e8" d="M699 589l11 5 6-13-11-4z"/>
<path fill="#7020b0" d="M821 599l11 6 5-8-11-7z"/>
<path fill="#7030e0" d="M677 591l10 4 6-11-11-5zM686 594l10 5 6-11-11-5z"/>
<path fill="#7820b0" d="M830 604l11 5 5-8-11-5z"/>
<path fill="#8028d8" d="M663 596l11 4 6-10-11-5z"/>
<path fill="#8028e0" d="M654 593l11 4 6-11-11-4z"/>
<path fill="#8828d0" d="M641 598l10 3 6-9-11-4zM649 601l11 4 6-10-11-4z"/>
<path fill="#90b850" d="M706 432l11 6 5-18-10-8z"/>
<path fill="#5828c8" d="M753 591l11 7 6-11-11-7z"/>
<path fill="#5830d8" d="M731 591l11 6 5-13-10-6z"/>
<path fill="#6028c8" d="M762 597l11 6 6-11-11-6zM740 596l11 6 5-12-11-7z"/>
<path fill="#6820b8" d="M794 603l11 6 5-9-11-6z"/>
<path fill="#6828c0" d="M785 598l11 6 5-9-11-7z"/>
<path fill="#6828c8" d="M771 602l11 5 6-10-11-6zM749 601l11 5 5-10-11-7z"/>
<path fill="#6828d0" d="M726 600l11 6 6-11-11-6z"/>
<path fill="#6830e0" d="M717 596l11 5 6-11-11-6z"/>
<path fill="#6830e8" d="M708 593l11 4 6-12-11-4z"/>
<path fill="#7020b0" d="M816 606l12 6 5-9-11-6zM803 608l11 6 5-9-11-6z"/>
<path fill="#7020b8" d="M789 611l11 5 6-9-11-6z"/>
<path fill="#7028c0" d="M780 606l11 6 6-10-11-6z"/>
<path fill="#7028c8" d="M758 605l11 6 5-10-11-6zM735 605l11 5 6-10-11-6z"/>
<path fill="#7820b0" d="M825 610l12 6 5-8-11-6zM812 613l11 5 5-8-11-6z"/>
<path fill="#7828d8" d="M672 599l11 5 5-11-10-4zM712 605l11 5 6-11-11-5z"/>
<path fill="#7828e0" d="M703 602l11 4 6-11-11-4z"/>
<path fill="#7830e0" d="M695 598l10 4 6-10-11-5z"/>
<path fill="#8028c8" d="M667 607l11 4 6-9-11-5z"/>
<path fill="#8028d0" d="M658 604l11 4 6-10-11-4zM681 603l11 4 5-10-10-5zM690 606l11 4 5-10-11-4z"/>
<path fill="#8820c0" d="M653 611l11 4 6-9-11-4z"/>
<path fill="#8820c8" d="M636 605l10 4 6-9-11-4zM644 608l11 4 6-9-11-4z"/>
<path fill="#7028c8" d="M744 609l11 5 6-9-11-6z"/>
<path fill="#7820b0" d="M798 615l12 6 5-9-11-6zM808 620l11 5 5-8-11-6z"/>
<path fill="#7820b8" d="M785 618l11 5 5-8-11-6z"/>
<path fill="#7820c0" d="M776 614l11 5 5-9-11-6zM762 618l11 5 6-10-11-5zM739 617l11 5 6-9-11-6z"/>
<path fill="#7828c0" d="M753 613l11 6 6-10-11-5zM730 613l11 5 6-10-11-5z"/>
<path fill="#7828c8" d="M767 610l11 5 5-10-11-5zM721 609l11 5 6-10-11-6z"/>
<path fill="#8020b0" d="M794 622l11 6 5-9-11-6zM780 625l11 5 6-8-11-5z"/>
<path fill="#8020b8" d="M771 622l11 5 6-9-11-6zM748 621l12 5 5-9-11-5zM757 625l12 5 5-9-11-5zM735 624l11 5 5-9-11-5zM721 628l11 4 6-8-11-5z"/>
<path fill="#8020c0" d="M703 620l11 5 6-9-11-5zM726 620l11 5 5-9-11-5zM712 624l11 5 6-9-11-5z"/>
<path fill="#8028c0" d="M717 617l11 4 5-9-11-5z"/>
<path fill="#8028c8" d="M676 610l11 5 6-10-11-4zM708 613l11 5 5-10-11-5z"/>
<path fill="#8028d0" d="M699 610l11 4 5-10-11-4z"/>
<path fill="#8820c0" d="M662 614l11 5 6-9-11-5zM671 618l11 4 6-9-11-4z"/>
<path fill="#8828c8" d="M685 614l11 4 6-9-11-5zM694 617l11 4 6-9-11-4z"/></g>
<g id="bE" transform="scale(0.2)"><path fill="#7820b8" d="M751 347l12 4 6-6-12-4zM727 346l12 3 6-5-12-4zM761 350l12 3 5-5-12-4zM737 348l12 4 5-6-12-3zM771 352l12 4 5-6-12-3zM746 351l12 4 6-6-12-4z"/>
<path fill="#7820c0" d="M703 345l12 4 6-6-12-4zM679 344l12 4 6-6-12-3zM713 348l12 3 5-6-12-3zM689 347l12 3 5-5-11-4z"/>
<path fill="#7828c0" d="M665 346l12 3 5-5-11-3z"/>
<path fill="#8020b8" d="M675 338l12 3 5-6-11-3zM732 341l12 4 6-6-12-4zM708 341l12 3 6-6-12-3zM684 340l12 4 6-6-12-4zM637 340l11 3 6-6-11-3zM661 340l11 3 6-6-12-3zM742 344l12 4 5-6-12-4zM718 343l12 4 5-6-12-4zM694 343l12 3 5-5-11-4zM622 342l12 4 6-6-12-4zM670 342l12 3 5-5-11-4z"/>
<path fill="#8020c0" d="M646 342l12 3 5-5-11-4zM607 345l12 3 6-6-12-4zM631 345l12 3 6-6-12-4zM655 344l12 3 6-5-12-3zM617 347l11 3 6-6-11-3zM602 350l11 3 7-6-12-4z"/>
<path fill="#8028c0" d="M641 347l11 3 6-6-11-3z"/>
<path fill="#8820c0" d="M593 348l11 3 6-7-11-3z"/>
<path fill="#7020c0" d="M732 352l12 4 5-5-12-4zM742 355l12 4 5-5-12-4z"/>
<path fill="#7028c0" d="M674 348l12 3 6-5-12-3zM717 353l12 3 6-4-12-4zM751 357l12 4 6-5-12-4z"/>
<path fill="#7028c8" d="M708 351l12 3 5-5-12-3zM684 350l12 3 5-4-12-4zM693 352l12 3 6-4-12-3zM669 352l12 3 6-5-12-3z"/>
<path fill="#7820b0" d="M790 358l12 4 5-6-12-4zM800 361l12 4 5-5-12-5z"/>
<path fill="#7820b8" d="M780 355l12 4 6-6-12-4zM756 354l12 4 5-6-11-4zM766 356l12 4 5-5-12-4zM775 359l12 4 6-5-12-4z"/>
<path fill="#7820c0" d="M722 350l12 3 6-5-12-4z"/>
<path fill="#7828c0" d="M698 349l12 3 6-5-12-3z"/>
<path fill="#7828c8" d="M650 349l12 2 6-5-12-3zM621 354l11 3 6-6-11-3zM606 356l11 3 7-6-12-3z"/>
<path fill="#7828d0" d="M659 350l12 3 6-5-12-3zM645 353l12 2 5-5-11-3z"/>
<path fill="#8020c0" d="M587 352l12 3 6-6-12-3zM572 355l12 3 6-6-11-3z"/>
<path fill="#8028c8" d="M626 349l12 3 6-6-12-3zM611 352l12 3 6-6-12-3zM635 351l12 3 6-6-12-3zM596 354l12 3 6-6-11-3zM582 357l11 3 6-6-11-3z"/>
<path fill="#8820c0" d="M557 358l12 3 6-6-11-4z"/>
<path fill="#5828c0" d="M722 357l12 4 6-3-13-4z"/>
<path fill="#6028c8" d="M712 356l13 2 5-3-12-3z"/>
<path fill="#6820b8" d="M780 365l12 5 6-5-12-4z"/>
<path fill="#6828c0" d="M727 355l12 4 6-4-13-4zM737 358l12 3 5-4-12-4zM746 360l12 4 6-4-12-4z"/>
<path fill="#6828c8" d="M703 354l12 2 5-3-12-3z"/>
<path fill="#6828d0" d="M678 354l12 3 6-5-12-3zM688 356l12 2 6-4-12-3z"/>
<path fill="#6828d8" d="M664 356l12 2 5-5-12-2z"/>
<path fill="#6830d8" d="M649 358l12 2 6-5-12-2z"/>
<path fill="#7020b8" d="M785 362l12 4 6-5-13-4zM795 365l12 5 5-6-12-4zM805 368l12 5 5-6-12-4z"/>
<path fill="#7028c0" d="M761 360l12 4 5-5-12-4zM771 363l12 4 5-5-12-4z"/>
<path fill="#7028d8" d="M654 354l12 3 6-6-12-2zM639 357l12 2 6-5-12-3zM625 359l11 2 6-5-11-2z"/>
<path fill="#7820b0" d="M809 364l12 5 6-6-12-5zM819 367l12 5 5-6-12-4zM829 371l12 4 5-6-12-4z"/>
<path fill="#7828d0" d="M630 356l12 2 6-6-12-2zM615 358l12 2 6-5-12-3zM600 360l12 3 6-6-12-2z"/>
<path fill="#8028c8" d="M567 360l11 3 7-6-12-3zM591 359l12 2 6-5-12-3zM561 365l12 3 6-7-12-2z"/>
<path fill="#8028d0" d="M576 362l12 2 6-6-12-2z"/>
<path fill="#8820c0" d="M552 363l11 3 7-6-12-3z"/>
<path fill="#4830c8" d="M717 359l12 4 6-3-13-4z"/>
<path fill="#5030d0" d="M707 358l13 2 5-3-12-3z"/>
<path fill="#5030e0" d="M692 360l13 1 5-3-12-2z"/>
<path fill="#5828b8" d="M776 368l12 4 5-3-12-5z"/>
<path fill="#5828c0" d="M732 360l12 4 5-4-12-4zM741 362l13 4 5-3-12-4z"/>
<path fill="#5830e0" d="M683 359l12 1 6-3-13-3zM643 360l13 1 5-3-12-1zM668 360l12 2 6-4-12-2z"/>
<path fill="#6028c0" d="M756 363l12 3 6-3-13-4zM766 365l12 4 5-4-12-3z"/>
<path fill="#6030d8" d="M673 357l12 3 6-5-12-3zM698 357l12 2 5-4-12-2zM658 359l12 2 6-4-12-3z"/>
<path fill="#6820b8" d="M790 369l12 4 6-5-13-4z"/>
<path fill="#6830e0" d="M634 360l12 1 6-4-12-1zM619 363l12 1 6-4-12-2z"/>
<path fill="#7020b8" d="M800 372l12 5 5-5-12-5z"/>
<path fill="#7028d8" d="M610 362l12 2 6-5-12-2zM595 365l11 2 7-6-12-2z"/>
<path fill="#7820b0" d="M839 374l12 4 5-6-12-4zM834 378l12 5 6-6-13-5z"/>
<path fill="#7820b8" d="M814 372l13 4 5-6-12-4zM824 375l12 4 6-6-12-4z"/>
<path fill="#7828d8" d="M585 363l12 3 6-6-11-3z"/>
<path fill="#7828e0" d="M580 368l11 2 7-6-12-2z"/>
<path fill="#8028d0" d="M555 371l12 2 6-7-11-2z"/>
<path fill="#8028d8" d="M570 367l12 2 6-6-11-3z"/>
<path fill="#8820c0" d="M531 372l11 3 7-7-11-3z"/>
<path fill="#8820c8" d="M546 369l12 3 6-7-11-3z"/>
<path fill="#4030d0" d="M712 361l12 3 6-2-13-4z"/>
<path fill="#4828b0" d="M771 369l12 5 5-3-12-4z"/>
<path fill="#4830c8" d="M727 361l12 4 5-2-12-4zM736 364l13 3 5-2-12-4z"/>
<path fill="#4830d8" d="M663 361l12 2 6-2-13-2z"/>
<path fill="#4830e0" d="M702 360l13 2 5-3-12-2z"/>
<path fill="#4838e0" d="M638 362l12 0 6-1-12-1z"/>
<path fill="#5028c0" d="M751 365l13 3 5-3-13-3zM761 367l12 3 6-2-13-4z"/>
<path fill="#5030d8" d="M653 361l12 1 6-2-12-2z"/>
<path fill="#5030e0" d="M678 361l12 1 5-3-12-1z"/>
<path fill="#5828b0" d="M785 371l13 5 5-4-12-5z"/>
<path fill="#5830e8" d="M629 363l12 0 5-3-12-1z"/>
<path fill="#6028b8" d="M795 375l12 5 6-5-13-4zM805 378l12 5 6-4-13-5z"/>
<path fill="#6030f0" d="M614 367l12 0 5-4-12-1z"/>
<path fill="#6830e0" d="M604 366l12 1 6-5-12-2z"/>
<path fill="#7020b0" d="M830 382l12 5 5-5-12-5z"/>
<path fill="#7020b8" d="M810 376l12 4 5-5-12-5zM820 379l12 4 5-5-12-4z"/>
<path fill="#7030e8" d="M589 369l12 2 6-6-12-2z"/>
<path fill="#7820b0" d="M844 382l12 4 6-6-13-4zM854 385l12 5 5-6-12-5z"/>
<path fill="#7830e8" d="M574 373l12 2 6-6-12-2z"/>
<path fill="#8020c0" d="M525 377l12 3 6-7-11-3z"/>
<path fill="#8028c8" d="M540 374l12 3 6-7-11-3z"/>
<path fill="#8028d0" d="M550 376l11 2 7-7-12-2zM535 379l11 2 7-6-12-3z"/>
<path fill="#8028e0" d="M565 372l11 2 7-6-12-3z"/>
<path fill="#8820c0" d="M510 380l11 3 7-7-11-3z"/>
<path fill="#4030c0" d="M756 368l13 3 5-1-13-4z"/>
<path fill="#4030c8" d="M722 363l12 4 5-3-12-3zM731 366l13 2 5-2-12-3z"/>
<path fill="#4038d8" d="M648 362l12 0 6-1-13-1zM672 362l13 0 5-1-12-1zM697 361l13 1 5-1-13-2z"/>
<path fill="#4828b0" d="M781 373l12 5 5-3-12-5z"/>
<path fill="#4830d0" d="M746 366l13 3 5-2-13-3z"/>
<path fill="#4838e0" d="M687 362l13 0 5-2-12-1z"/>
<path fill="#4840e8" d="M632 365l13-2 6-1-13 0z"/>
<path fill="#5028b0" d="M790 377l13 5 5-3-12-5z"/>
<path fill="#5028b8" d="M800 381l13 4 5-3-12-5z"/>
<path fill="#5038f8" d="M623 366l12-1 6-3-12 0z"/>
<path fill="#5838ff" d="M608 370l12 0 6-5-12 0z"/>
<path fill="#6020b0" d="M825 385l12 6 5-5-12-5z"/>
<path fill="#6020b8" d="M815 382l12 5 6-5-13-4z"/>
<path fill="#6038f8" d="M593 374l12 1 6-5-12-1z"/>
<path fill="#6820b0" d="M835 389l12 6 5-5-12-5z"/>
<path fill="#6830f0" d="M599 370l11 1 6-5-11-2zM583 374l12 1 6-6-11-1z"/>
<path fill="#7020b0" d="M839 386l13 5 5-6-12-5zM849 390l13 5 5-6-12-5z"/>
<path fill="#7030e8" d="M568 377l12 2 6-6-11-2z"/>
<path fill="#7820b0" d="M859 393l13 5 5-6-12-5z"/>
<path fill="#7828e0" d="M559 377l12 1 6-6-12-2z"/>
<path fill="#7830e8" d="M553 381l12 1 6-5-11-2z"/>
<path fill="#8028c8" d="M519 382l12 3 6-7-11-3z"/>
<path fill="#8028d0" d="M529 384l11 3 7-7-12-3z"/>
<path fill="#8028d8" d="M544 381l11 1 7-6-12-2z"/>
<path fill="#8820c0" d="M504 386l12 3 6-8-11-3z"/>
<path fill="#3038c0" d="M692 361l12-1 6 2-13 0z"/>
<path fill="#3828b0" d="M776 374l12 6 5-3-12-5z"/>
<path fill="#3828b8" d="M766 370l12 5 6-2-13-5z"/>
<path fill="#3838b8" d="M716 363l13 3 5 0-12-4z"/>
<path fill="#3838c0" d="M751 369l13 3 5-1-13-4z"/>
<path fill="#3838c8" d="M707 362l12 2 6-1-13-3z"/>
<path fill="#3838d0" d="M682 362l13-2 5 1-13 0z"/>
<path fill="#3840d0" d="M667 362l12-2 6 2-13 0z"/>
<path fill="#4028b8" d="M786 378l12 6 5-3-12-5z"/>
<path fill="#4038c8" d="M741 368l13 2 5-2-13-2z"/>
<path fill="#4038d0" d="M657 362l13 0 5 0-12-1z"/>
<path fill="#4040e0" d="M642 363l13 0 5-1-12-1z"/>
<path fill="#5020b0" d="M820 388l13 5 5-4-13-5z"/>
<path fill="#5028b8" d="M810 384l13 5 5-4-13-4z"/>
<path fill="#5040ff" d="M617 370l13-2 5-4-12 1z"/>
<path fill="#5820a8" d="M830 392l13 6 5-4-13-6z"/>
<path fill="#5838f8" d="M587 378l12 0 6-5-12 0z"/>
<path fill="#5840ff" d="M602 374l13-1 5-4-12 0z"/>
<path fill="#6030f0" d="M578 378l12 1 6-5-12-2z"/>
<path fill="#6820b0" d="M845 394l12 5 5-6-12-5z"/>
<path fill="#6830f0" d="M563 382l11 0 7-5-12-1z"/>
<path fill="#7020b0" d="M855 398l12 5 5-6-12-5z"/>
<path fill="#7030f0" d="M547 386l12 1 6-6-11-1z"/>
<path fill="#7820b0" d="M869 397l13 5 5-7-12-4zM879 401l13 4 5-6-12-5z"/>
<path fill="#8028d8" d="M523 390l11 2 7-7-12-3z"/>
<path fill="#8028e0" d="M538 386l12 1 6-6-11-2z"/>
<path fill="#8820c8" d="M498 391l12 3 6-7-11-3z"/>
<path fill="#8828c8" d="M513 388l12 3 7-8-12-3z"/>
<path fill="#8828d0" d="M508 393l11 3 7-7-12-3z"/>
<path fill="#2838a0" d="M711 361l13 3 5 2-13-2z"/>
<path fill="#2838a8" d="M701 360l13 1 5 3-12-2z"/>
<path fill="#3030a8" d="M771 375l12 6 6-2-13-6z"/>
<path fill="#3038c0" d="M736 367l13 2 5 0-13-2z"/>
<path fill="#3040c8" d="M677 361l12-4 6 4-13 2z"/>
<path fill="#3830b0" d="M761 371l13 5 5-1-13-5zM781 380l12 5 6-2-13-5z"/>
<path fill="#3838c0" d="M726 366l13 2 5 0-13-3z"/>
<path fill="#3848d8" d="M652 363l12-1 6 0-13 0z"/>
<path fill="#4050f0" d="M637 366l12-2 6-1-13 0z"/>
<path fill="#4828b0" d="M816 390l12 6 5-4-12-5z"/>
<path fill="#4828b8" d="M806 386l12 5 5-3-12-5z"/>
<path fill="#4828c0" d="M796 382l12 5 5-3-12-4z"/>
<path fill="#4848f8" d="M627 368l12-2 6-3-12 1z"/>
<path fill="#5040f8" d="M597 377l12-2 6-3-13 1zM581 381l13-1 6-3-13 0z"/>
<path fill="#5048ff" d="M612 373l12-3 6-3-13 2z"/>
<path fill="#5838f8" d="M572 381l12 1 6-5-12-1z"/>
<path fill="#6020b0" d="M840 397l13 6 5-5-13-6z"/>
<path fill="#6820b0" d="M850 401l13 6 5-6-13-5zM860 405l13 5 5-5-12-5z"/>
<path fill="#6838f8" d="M557 386l12 0 6-5-12-1z"/>
<path fill="#7020b0" d="M865 401l12 5 5-6-12-4zM875 405l12 5 6-6-13-5z"/>
<path fill="#7030f8" d="M542 392l11 0 7-7-12 0z"/>
<path fill="#7820a8" d="M885 409l13 5 5-6-13-5z"/>
<path fill="#8028d8" d="M517 395l11 3 7-8-11-2z"/>
<path fill="#8030e8" d="M532 391l12 2 6-8-11-1z"/>
<path fill="#8820c8" d="M492 397l12 3 6-7-11-3z"/>
<path fill="#8828d0" d="M502 399l11 3 7-7-12-3z"/>
<path fill="#204098" d="M696 356l13 1 5 5-12-1z"/>
<path fill="#283098" d="M766 375l13 6 5-1-13-6z"/>
<path fill="#2830a0" d="M756 371l13 5 5 0-13-5z"/>
<path fill="#2838a0" d="M721 363l13 2 5 3-13-2z"/>
<path fill="#2840b0" d="M686 358l13-3 5 6-12 1z"/>
<path fill="#3038b0" d="M746 369l13 3 5 0-13-3z"/>
<path fill="#3048d8" d="M661 362l13-3 6 2-13 2z"/>
<path fill="#3058d0" d="M671 360l12-6 6 4-12 4z"/>
<path fill="#3828b0" d="M811 392l12 7 6-4-13-6z"/>
<path fill="#3830b8" d="M791 384l12 5 6-3-13-4zM801 388l12 5 6-3-13-5z"/>
<path fill="#3850e8" d="M646 364l13-1 5-1-12 1z"/>
<path fill="#4048f8" d="M606 375l12-5 6-1-12 4z"/>
<path fill="#4050f8" d="M621 370l13-3 5-2-12 2z"/>
<path fill="#4820a8" d="M826 395l12 6 5-4-12-6z"/>
<path fill="#4848f8" d="M591 380l12-4 6-2-12 3z"/>
<path fill="#5020b0" d="M836 400l12 6 5-5-12-5z"/>
<path fill="#5048ff" d="M576 385l12-1 6-5-12 1z"/>
<path fill="#5840ff" d="M566 386l12 0 6-5-12-1z"/>
<path fill="#6028b8" d="M846 405l12 5 5-5-12-5z"/>
<path fill="#6038ff" d="M551 391l12 0 6-6-12 0z"/>
<path fill="#7020a8" d="M881 414l12 5 5-6-12-5z"/>
<path fill="#7020b0" d="M870 409l13 6 5-6-12-5z"/>
<path fill="#7030f8" d="M536 397l11 1 7-8-12 0z"/>
<path fill="#7830e8" d="M520 402l12 1 7-7-12-1z"/>
<path fill="#8028d0" d="M496 405l11 2 7-7-12-3z"/>
<path fill="#8028e0" d="M511 401l11 2 7-7-11-2z"/>
<path fill="#8030e8" d="M526 397l12 1 6-7-11-2z"/>
<path fill="#8828c8" d="M486 403l12 3 6-8-11-3zM480 408l11 3 7-7-11-3z"/>
<path fill="#203888" d="M751 367l13 5 5 4-13-5z"/>
<path fill="#203890" d="M741 365l13 2 5 5-13-3z"/>
<path fill="#204088" d="M706 357l13 2 5 5-13-2z"/>
<path fill="#2838a0" d="M731 365l13 0 5 4-13-1z"/>
<path fill="#2858b8" d="M681 356l12-4 6 5-12 2z"/>
<path fill="#3030a0" d="M776 379l13 6 5 0-13-6z"/>
<path fill="#3030a8" d="M786 384l13 5 5-1-13-5zM796 388l13 6 5-2-13-5z"/>
<path fill="#3850e8" d="M616 371l12-5 6 1-13 4z"/>
<path fill="#3850f0" d="M600 377l12-7 7 1-13 5z"/>
<path fill="#3858f0" d="M631 368l13-3 5-1-13 1z"/>
<path fill="#3860e0" d="M656 363l12-5 6 1-12 4z"/>
<path fill="#3860e8" d="M641 366l12-4 6 1-13 2z"/>
<path fill="#4028a8" d="M821 397l12 7 6-4-13-6z"/>
<path fill="#4828b0" d="M831 403l12 6 6-4-13-6z"/>
<path fill="#4850ff" d="M585 384l12-6 6-2-12 4z"/>
<path fill="#5028b8" d="M841 408l13 6 5-5-13-5z"/>
<path fill="#5840ff" d="M560 391l12 0 6-7-11 0z"/>
<path fill="#6020b8" d="M856 409l12 6 5-6-12-5z"/>
<path fill="#6038ff" d="M545 397l12 0 6-7-12 0z"/>
<path fill="#6820b0" d="M866 413l12 6 6-6-13-5zM876 418l13 6 5-6-13-6z"/>
<path fill="#7020b0" d="M886 423l13 5 5-6-13-6z"/>
<path fill="#7038f8" d="M530 403l11 0 7-7-12 0z"/>
<path fill="#7820a8" d="M891 418l12 5 5-6-12-5z"/>
<path fill="#7820b0" d="M901 422l13 5 5-7-13-5z"/>
<path fill="#7830f0" d="M514 408l12 1 7-7-12-2z"/>
<path fill="#8028d0" d="M489 410l12 3 7-7-12-3z"/>
<path fill="#8028e0" d="M505 406l11 3 7-8-11-2z"/>
<path fill="#8828c8" d="M474 414l11 3 7-7-11-3z"/>
<path fill="#203088" d="M761 371l13 7 5 3-13-7zM771 377l13 6 5 2-13-6zM781 382l13 5 5 2-13-5z"/>
<path fill="#204090" d="M716 359l13 0 5 6-13 0z"/>
<path fill="#204890" d="M726 360l13-2 5 8-12 0z"/>
<path fill="#205098" d="M691 353l12-1 6 6-13-1z"/>
<path fill="#302898" d="M816 398l13 8 5-3-12-7z"/>
<path fill="#3028a0" d="M806 393l13 7 5-2-13-7z"/>
<path fill="#3060d8" d="M625 368l12-4 7 1-13 3z"/>
<path fill="#3060e0" d="M610 372l12-7 6 2-12 5z"/>
<path fill="#3070d8" d="M666 360l12-7 6 2-12 6z"/>
<path fill="#3070e0" d="M650 363l13-6 6 2-13 5z"/>
<path fill="#3828a8" d="M826 405l13 7 5-4-12-6z"/>
<path fill="#3860ff" d="M595 379l11-8 7 0-12 6z"/>
<path fill="#4828b0" d="M836 411l13 6 5-4-12-6z"/>
<path fill="#4858ff" d="M579 388l13-5 5-5-12 5z"/>
<path fill="#5048ff" d="M570 390l12-2 6-6-12 2z"/>
<path fill="#5050ff" d="M564 395l12-2 6-6-12 1z"/>
<path fill="#5828b8" d="M851 413l13 6 5-6-13-5z"/>
<path fill="#5840ff" d="M555 396l11 0 7-7-12 0z"/>
<path fill="#6020b0" d="M861 417l13 7 5-6-12-6zM872 422l12 7 5-6-12-6z"/>
<path fill="#6038ff" d="M539 402l12 0 6-7-11 0z"/>
<path fill="#6838f8" d="M524 408l12 0 6-7-12 0z"/>
<path fill="#7820b0" d="M897 427l12 5 5-6-12-5zM907 431l12 5 6-7-13-5z"/>
<path fill="#7830f0" d="M508 413l12 1 7-7-12-1z"/>
<path fill="#8028e0" d="M499 412l11 2 7-7-11-2z"/>
<path fill="#8828c8" d="M468 421l11 3 7-8-11-3z"/>
<path fill="#8828d8" d="M483 416l12 3 7-8-12-2z"/>
<path fill="#203088" d="M792 386l12 6 5 2-13-6z"/>
<path fill="#204088" d="M757 365l12 8 5 5-13-6z"/>
<path fill="#204888" d="M736 359l13 1 5 8-13-2zM746 360l13 5 5 8-13-5z"/>
<path fill="#205088" d="M701 353l13 1 5 6-13-2z"/>
<path fill="#205890" d="M711 355l12-1 6 6-13 0z"/>
<path fill="#282888" d="M802 391l12 8 5 0-12-7zM812 398l12 9 5-1-12-8z"/>
<path fill="#302890" d="M822 405l12 9 5-3-12-7z"/>
<path fill="#3068c8" d="M619 366l12-5 7 3-12 5z"/>
<path fill="#3068d0" d="M635 365l12-5 6 3-12 3z"/>
<path fill="#3078c8" d="M675 355l13-5 6 3-13 4z"/>
<path fill="#3080d8" d="M660 359l12-8 6 3-12 7z"/>
<path fill="#4060ff" d="M574 393l12-5 5-6-12 5z"/>
<path fill="#4828b0" d="M847 416l12 6 5-4-12-6z"/>
<path fill="#4850ff" d="M558 400l12-2 6-6-12 2z"/>
<path fill="#5020b0" d="M857 421l12 7 6-6-13-6z"/>
<path fill="#5820a8" d="M867 426l12 7 6-6-13-6z"/>
<path fill="#5840ff" d="M533 407l12-1 6-6-11 1z"/>
<path fill="#5848ff" d="M549 401l12 0 6-7-12 1z"/>
<path fill="#6020b0" d="M877 432l13 6 5-6-13-6z"/>
<path fill="#6820b0" d="M882 427l12 6 6-6-13-6z"/>
<path fill="#6838ff" d="M518 414l11-1 7-7-12 0z"/>
<path fill="#7020b0" d="M892 432l13 5 5-6-13-5z"/>
<path fill="#7820b0" d="M902 436l13 5 5-6-13-5z"/>
<path fill="#7830f0" d="M502 420l12 1 7-9-12 0z"/>
<path fill="#8028e0" d="M493 418l11 2 7-8-11-2zM487 425l11 2 7-8-11-2z"/>
<path fill="#8828c8" d="M462 427l11 3 7-8-11-3z"/>
<path fill="#8828d8" d="M477 423l12 3 7-9-12-2z"/>
<path fill="#203888" d="M777 378l13 5 4 4-13-5zM787 382l13 6 4 4-13-6zM797 387l13 10 4 2-12-8z"/>
<path fill="#204088" d="M767 372l12 7 5 4-13-6z"/>
<path fill="#286090" d="M721 354l12-2 6 8-12 1z"/>
<path fill="#287098" d="M695 350l13 1 6 4-13-1z"/>
<path fill="#2870a8" d="M685 351l13-1 6 4-13 0z"/>
<path fill="#3078c0" d="M629 362l12-5 7 4-12 5z"/>
<path fill="#3078c8" d="M645 361l11-7 7 4-12 6z"/>
<path fill="#3090c0" d="M670 353l12-6 6 4-12 5z"/>
<path fill="#3828a0" d="M832 412l12 7 6-3-13-6z"/>
<path fill="#3828a8" d="M842 418l13 7 5-4-13-6z"/>
<path fill="#3878f0" d="M604 373l12-8 6 1-12 6z"/>
<path fill="#4020a0" d="M852 423l13 8 5-4-13-7z"/>
<path fill="#4060ff" d="M568 398l12-7 6-4-13 5z"/>
<path fill="#4070ff" d="M589 384l12-9 6-3-12 8z"/>
<path fill="#4820a0" d="M862 429l13 8 5-5-12-7z"/>
<path fill="#4850ff" d="M552 405l12-3 6-6-12 3z"/>
<path fill="#5048ff" d="M543 406l12-1 6-6-12 1z"/>
<path fill="#5820a8" d="M873 435l12 7 5-5-12-7z"/>
<path fill="#5840ff" d="M527 413l12-1 6-7-11 0z"/>
<path fill="#6820b0" d="M887 437l13 5 5-6-12-5z"/>
<path fill="#6838ff" d="M512 420l11 0 7-9-12 1z"/>
<path fill="#7020b0" d="M898 441l12 6 6-7-13-5z"/>
<path fill="#7820b0" d="M913 440l12 6 5-8-12-4zM908 446l13 5 5-7-13-5z"/>
<path fill="#7830f0" d="M496 426l12 1 7-8-12-1z"/>
<path fill="#8820c8" d="M455 433l12 3 7-8-12-3z"/>
<path fill="#8828d0" d="M471 429l12 3 7-8-12-3z"/>
<path fill="#8828e0" d="M481 431l11 2 7-8-11-2z"/>
<path fill="#203088" d="M807 395l12 11 5 0-12-9z"/>
<path fill="#205088" d="M762 367l13 7 4 5-13-7z"/>
<path fill="#205880" d="M752 359l12 9 5 6-13-9z"/>
<path fill="#206080" d="M731 353l13 0 5 8-12-1zM741 353l13 6 5 8-13-6z"/>
<path fill="#282888" d="M817 404l13 10 5-1-13-9z"/>
<path fill="#282890" d="M827 412l13 8 5-2-13-7z"/>
<path fill="#287898" d="M705 351l13-1 6 5-13 1z"/>
<path fill="#302098" d="M848 425l12 8 5-3-12-8z"/>
<path fill="#302898" d="M837 419l13 7 5-2-12-7z"/>
<path fill="#3088a0" d="M680 348l12-3 6 6-12 1z"/>
<path fill="#3088b8" d="M654 355l12-9 7 6-12 8zM639 358l12-10 6 7-11 8z"/>
<path fill="#3088d8" d="M614 367l12-7 6 2-12 5z"/>
<path fill="#382098" d="M858 432l12 8 6-4-13-8z"/>
<path fill="#4078ff" d="M583 389l12-9 6-5-12 9z"/>
<path fill="#4090ff" d="M598 377l12-9 6-3-12 8z"/>
<path fill="#4858ff" d="M546 410l12-3 6-7-12 3z"/>
<path fill="#5048ff" d="M537 411l12-1 6-7-12 1zM531 418l11-1 7-9-12 2z"/>
<path fill="#5840ff" d="M521 419l12 0 6-9-11 1z"/>
<path fill="#6020b0" d="M883 441l13 6 5-6-13-6z"/>
<path fill="#6820b0" d="M893 446l13 6 5-7-13-5z"/>
<path fill="#6838f8" d="M506 427l11 0 7-9-12 0z"/>
<path fill="#7820a8" d="M919 450l12 5 5-7-12-5z"/>
<path fill="#7830e8" d="M490 432l12 2 7-9-12-1z"/>
<path fill="#8820c8" d="M449 439l12 3 7-8-12-3z"/>
<path fill="#8828d0" d="M465 435l11 3 7-8-11-3zM459 441l11 3 7-8-11-3z"/>
<path fill="#8828e0" d="M474 437l12 3 7-9-12-2z"/>
<path fill="#202888" d="M823 412l12 9 5-1-12-9z"/>
<path fill="#203088" d="M813 403l12 11 5-1-12-9z"/>
<path fill="#203888" d="M803 393l12 12 5 1-12-11z"/>
<path fill="#204088" d="M792 384l13 11 5 2-13-10z"/>
<path fill="#204888" d="M782 378l13 7 5 4-13-7z"/>
<path fill="#205088" d="M772 373l13 6 4 4-13-5z"/>
<path fill="#282890" d="M833 420l12 8 6-2-13-8z"/>
<path fill="#308088" d="M690 346l13 0 5 6-12-1z"/>
<path fill="#308898" d="M716 350l12-2 6 6-13 2zM664 347l12-8 7 9-12 6z"/>
<path fill="#3898d0" d="M623 362l12-7 7 3-12 6z"/>
<path fill="#4068ff" d="M562 402l12-8 6-3-12 6z"/>
<path fill="#4078ff" d="M577 392l12-9 6-3-12 9z"/>
<path fill="#4098ff" d="M593 382l12-9 5-5-12 9z"/>
<path fill="#40a8f8" d="M608 370l12-7 6-2-12 6z"/>
<path fill="#4820a0" d="M868 439l13 7 5-5-13-7z"/>
<path fill="#4858ff" d="M540 417l12-3 6-9-11 3z"/>
<path fill="#5048ff" d="M525 425l11 0 7-10-12 1z"/>
<path fill="#5820a8" d="M878 445l13 7 5-6-12-6z"/>
<path fill="#5840ff" d="M515 426l12 0 6-9-11 0z"/>
<path fill="#6020b0" d="M889 450l12 7 6-6-13-6z"/>
<path fill="#6038ff" d="M509 433l12 0 6-9-11 0z"/>
<path fill="#7020b0" d="M904 451l12 5 6-6-13-6z"/>
<path fill="#7030f8" d="M493 440l12 0 7-8-12-1z"/>
<path fill="#7038f8" d="M500 433l11 1 7-9-12 0z"/>
<path fill="#7820a8" d="M914 455l13 6 5-7-13-6z"/>
<path fill="#8030e8" d="M484 439l12 1 6-8-11-1z"/>
<path fill="#8820c8" d="M443 445l11 4 7-8-11-4z"/>
<path fill="#8828d0" d="M452 448l12 3 7-8-12-3z"/>
<path fill="#8828e0" d="M468 443l12 3 7-8-12-3z"/>
<path fill="#203888" d="M808 403l12 12 5-1-12-11z"/>
<path fill="#206080" d="M757 362l12 9 5 4-12-8zM767 370l13 6 5 3-13-5z"/>
<path fill="#282890" d="M843 426l12 10 6-4-13-8z"/>
<path fill="#286880" d="M747 354l12 10 5 4-12-9z"/>
<path fill="#287078" d="M736 349l13 6 5 5-13-6z"/>
<path fill="#287880" d="M726 348l13 0 5 7-13-1z"/>
<path fill="#302090" d="M853 434l13 10 5-5-12-8z"/>
<path fill="#307870" d="M674 340l12-3 7 10-12 2z"/>
<path fill="#308088" d="M700 346l13-2 5 7-12 2z"/>
<path fill="#3880ff" d="M571 396l12-11 6-2-11 10z"/>
<path fill="#389898" d="M649 350l11-13 7 10-12 10z"/>
<path fill="#3898ff" d="M587 385l11-10 7-2-12 9z"/>
<path fill="#4020a0" d="M863 442l13 9 5-6-12-7z"/>
<path fill="#4068ff" d="M556 407l12-8 6-5-12 7z"/>
<path fill="#40b0c0" d="M633 357l12-13 6 5-11 10z"/>
<path fill="#4850ff" d="M534 424l12-2 6-10-11 3z"/>
<path fill="#48c0ff" d="M602 375l12-8 6-4-12 7z"/>
<path fill="#48c8e8" d="M618 364l12-8 6-1-12 7z"/>
<path fill="#5020a8" d="M874 449l12 7 6-5-13-7z"/>
<path fill="#5848ff" d="M519 432l11 0 7-9-12 0z"/>
<path fill="#6020b0" d="M884 455l13 7 5-7-13-6z"/>
<path fill="#6038ff" d="M503 439l12 1 6-9-11 0z"/>
<path fill="#6820b0" d="M899 455l13 6 5-6-13-6z"/>
<path fill="#7020a8" d="M910 460l12 6 5-7-12-5z"/>
<path fill="#7030f8" d="M487 446l12 1 7-9-12 0z"/>
<path fill="#7820a8" d="M920 465l13 6 5-7-13-6z"/>
<path fill="#8030e8" d="M478 445l11 2 7-9-11-1z"/>
<path fill="#8828c8" d="M446 454l11 4 8-9-12-3z"/>
<path fill="#8828d8" d="M462 450l11 3 8-9-12-2z"/>
<path fill="#203088" d="M818 413l12 10 6-2-13-9z"/>
<path fill="#204888" d="M798 392l12 13 5 0-12-13z"/>
<path fill="#205088" d="M788 382l12 12 5 0-12-11z"/>
<path fill="#205880" d="M777 375l13 9 5 1-13-7z"/>
<path fill="#282888" d="M838 429l13 10 5-4-12-9z"/>
<path fill="#283090" d="M828 421l13 10 5-4-13-8z"/>
<path fill="#302890" d="M849 437l12 11 5-5-12-10z"/>
<path fill="#307060" d="M684 338l13-1 6 10-12 1z"/>
<path fill="#307860" d="M721 342l12 0 6 8-13 0z"/>
<path fill="#3820a0" d="M859 446l12 9 6-5-13-9z"/>
<path fill="#388880" d="M710 345l13-3 6 7-13 3z"/>
<path fill="#38a0f0" d="M581 387l11-11 7 0-12 9z"/>
<path fill="#4068ff" d="M550 414l12-6 6-9-12 7zM544 422l12-5 6-11-12 6z"/>
<path fill="#408868" d="M658 338l12-10 7 13-12 7z"/>
<path fill="#4090ff" d="M565 401l12-12 6-4-12 11z"/>
<path fill="#40c0f0" d="M596 377l12-9 6-1-12 8z"/>
<path fill="#4828b0" d="M869 453l13 8 5-6-12-7z"/>
<path fill="#4850ff" d="M528 432l12-2 6-10-11 2z"/>
<path fill="#5828b0" d="M879 460l13 7 6-7-13-6z"/>
<path fill="#5840ff" d="M513 439l11 0 7-9-12 0z"/>
<path fill="#6038ff" d="M497 446l11 1 7-9-11 0z"/>
<path fill="#6820a8" d="M905 465l13 7 5-7-13-6z"/>
<path fill="#6820b0" d="M895 460l12 7 6-7-13-6z"/>
<path fill="#7020a8" d="M915 471l13 6 6-8-13-5z"/>
<path fill="#7830f0" d="M481 453l12 1 7-9-12-1z"/>
<path fill="#8028e0" d="M465 459l12 2 7-9-12-2z"/>
<path fill="#8030e8" d="M471 452l12 2 7-9-11-2z"/>
<path fill="#8820c8" d="M439 461l12 4 7-9-11-3z"/>
<path fill="#8828d8" d="M456 457l11 3 7-9-11-3z"/>
<path fill="#202888" d="M834 431l12 11 5-4-12-10z"/>
<path fill="#203088" d="M823 423l13 10 5-3-12-9z"/>
<path fill="#203888" d="M813 414l12 11 6-3-13-9z"/>
<path fill="#204088" d="M803 403l12 13 6-1-13-12z"/>
<path fill="#205088" d="M793 390l12 15 5 0-12-14z"/>
<path fill="#206080" d="M783 379l12 13 5 2-12-13z"/>
<path fill="#282888" d="M844 440l12 11 6-4-13-11z"/>
<path fill="#287070" d="M752 357l13 9 4 5-12-8z"/>
<path fill="#287078" d="M762 365l13 8 5 4-13-7z"/>
<path fill="#302898" d="M854 450l12 9 6-5-12-9z"/>
<path fill="#307060" d="M731 342l13 7 5 7-13-6z"/>
<path fill="#307068" d="M741 348l13 10 5 6-13-10z"/>
<path fill="#387858" d="M695 337l12-3 6 12-12 2z"/>
<path fill="#4028a8" d="M864 458l13 8 5-6-12-8z"/>
<path fill="#4060ff" d="M538 429l12-4 6-10-12 5z"/>
<path fill="#4090ff" d="M559 408l12-10 6-9-12 11z"/>
<path fill="#5028b0" d="M875 465l12 7 6-6-13-7z"/>
<path fill="#5050ff" d="M522 438l12-1 6-9-11 2z"/>
<path fill="#50b088" d="M643 347l11-16 7 7-11 13z"/>
<path fill="#50d8f0" d="M612 368l12-9 6-3-12 9z"/>
<path fill="#5840ff" d="M506 446l12 0 7-9-12 0z"/>
<path fill="#58d0c0" d="M627 358l12-13 6 0-11 12z"/>
<path fill="#6020b0" d="M890 465l13 7 5-7-13-6z"/>
<path fill="#6820b0" d="M900 471l13 7 5-8-12-6z"/>
<path fill="#6838ff" d="M491 454l11 1 7-10-11-1z"/>
<path fill="#7020b0" d="M911 476l13 6 5-7-13-6z"/>
<path fill="#7820b0" d="M926 475l13 6 5-8-13-5z"/>
<path fill="#7830f0" d="M475 461l11 1 7-10-11-1z"/>
<path fill="#8828d0" d="M449 464l12 3 7-9-12-3z"/>
<path fill="#8828e0" d="M459 466l11 3 8-9-12-3z"/>
<path fill="#203088" d="M829 432l12 12 6-2-13-12z"/>
<path fill="#203888" d="M819 422l12 12 5-1-12-11z"/>
<path fill="#204088" d="M808 412l13 12 5 0-12-11z"/>
<path fill="#282088" d="M849 452l13 11 5-5-12-9z"/>
<path fill="#282888" d="M839 442l12 12 6-3-12-11z"/>
<path fill="#286880" d="M772 371l13 10 5 2-13-8z"/>
<path fill="#3828a0" d="M860 461l12 9 6-5-13-8z"/>
<path fill="#4060ff" d="M532 437l12-5 6-9-12 5z"/>
<path fill="#407850" d="M705 335l12-5 6 14-12 3z"/>
<path fill="#4080ff" d="M548 425l12-7 5-11-12 8z"/>
<path fill="#4088ff" d="M554 417l11-8 6-12-12 10z"/>
<path fill="#40b8ff" d="M575 391l11-11 6-3-11 11z"/>
<path fill="#487850" d="M669 329l12-4 6 14-12 3z"/>
<path fill="#48b8ff" d="M569 399l12-10 5-9-12 11z"/>
<path fill="#48c0e0" d="M590 378l12-9 6 0-11 9z"/>
<path fill="#5048ff" d="M516 446l12-1 6-10-11 1z"/>
<path fill="#507848" d="M679 326l12-2 6 15-12 1z"/>
<path fill="#50d0d8" d="M606 370l12-10 6-1-12 10z"/>
<path fill="#5820b0" d="M885 471l13 7 5-7-12-7z"/>
<path fill="#5840ff" d="M500 454l12 1 7-11-12 0z"/>
<path fill="#6020b0" d="M896 476l12 7 6-7-13-6z"/>
<path fill="#60d8b8" d="M622 361l11-14 7-2-12 14z"/>
<path fill="#68a058" d="M653 333l11-13 7 9-11 11z"/>
<path fill="#7020b0" d="M906 482l13 6 5-7-12-6z"/>
<path fill="#7038f8" d="M485 462l11 1 7-10-12-1z"/>
<path fill="#7820b0" d="M921 481l13 6 6-8-13-5z"/>
<path fill="#78d088" d="M637 347l12-17 6 1-11 16z"/>
<path fill="#8030e8" d="M469 468l11 2 7-10-11-1z"/>
<path fill="#8828c8" d="M443 470l11 4 8-9-12-3z"/>
<path fill="#8828d8" d="M452 473l12 3 7-9-11-3z"/>
<path fill="#205088" d="M798 399l12 15 6 1-13-13z"/>
<path fill="#206080" d="M788 384l12 18 5 3-12-15z"/>
<path fill="#287078" d="M778 371l12 16 5 5-12-13z"/>
<path fill="#307068" d="M768 362l12 11 5 8-13-9z"/>
<path fill="#307860" d="M757 354l13 9 5 10-13-7z"/>
<path fill="#387858" d="M747 345l13 10 4 12-12-8z"/>
<path fill="#407850" d="M737 335l12 10 5 14-13-9z"/>
<path fill="#4078ff" d="M542 432l12-7 5-9-12 8z"/>
<path fill="#40b0ff" d="M563 409l12-8 5-13-11 10z"/>
<path fill="#4828a8" d="M870 469l13 8 5-6-12-8z"/>
<path fill="#4858ff" d="M526 444l12-4 6-10-12 5z"/>
<path fill="#5020a8" d="M881 475l12 8 6-6-13-8z"/>
<path fill="#5048ff" d="M510 454l12 0 6-12-11 2z"/>
<path fill="#507848" d="M715 331l13-2 5 15-12 0zM726 329l12 6 6 15-13-5z"/>
<path fill="#50c8c0" d="M600 371l11-10 7 0-12 10z"/>
<path fill="#50d8f0" d="M584 382l12-9 6-3-12 9z"/>
<path fill="#5840ff" d="M504 463l12 0 6-12-11 1z"/>
<path fill="#587840" d="M689 325l12-5 6 16-11 3z"/>
<path fill="#6020a8" d="M891 482l13 7 5-7-13-7z"/>
<path fill="#6038ff" d="M494 462l12 1 7-11-12 0z"/>
<path fill="#60d0a0" d="M616 363l11-15 7 0-12 14z"/>
<path fill="#6820a8" d="M902 488l12 6 6-7-13-6z"/>
<path fill="#6838ff" d="M488 470l12 2 7-11-12-1z"/>
<path fill="#7820b0" d="M917 487l13 6 5-8-13-5z"/>
<path fill="#7830f0" d="M478 469l12 2 7-10-12-1z"/>
<path fill="#8028e0" d="M462 475l12 2 7-9-12-2z"/>
<path fill="#8820c0" d="M430 484l11 4 8-9-12-4z"/>
<path fill="#8820c8" d="M436 477l12 4 7-9-11-4z"/>
<path fill="#8828d0" d="M446 480l12 3 7-9-12-3z"/>
<path fill="#203088" d="M835 442l12 14 5-2-12-13z"/>
<path fill="#203888" d="M824 430l13 14 5-1-12-12z"/>
<path fill="#204888" d="M814 420l12 13 6 0-13-11z"/>
<path fill="#205088" d="M804 409l12 13 5 2-12-12z"/>
<path fill="#206080" d="M794 394l12 17 5 3-12-15z"/>
<path fill="#282888" d="M845 454l12 12 6-4-13-11z"/>
<path fill="#302898" d="M855 465l13 9 5-5-13-9z"/>
<path fill="#4028a8" d="M865 473l13 8 6-5-13-8z"/>
<path fill="#4070ff" d="M535 440l12-6 6-11-12 8z"/>
<path fill="#40a0ff" d="M557 418l12-7 6-12-12 9z"/>
<path fill="#4820a8" d="M876 480l13 8 5-6-13-8z"/>
<path fill="#4858ff" d="M520 453l11-3 7-12-12 4z"/>
<path fill="#48d8ff" d="M573 402l11-7 6-14-12 8z"/>
<path fill="#5050ff" d="M514 463l11-2 7-13-12 3z"/>
<path fill="#50e0f0" d="M578 391l13-8 5-10-12 8z"/>
<path fill="#5820a8" d="M886 486l13 8 6-6-13-8z"/>
<path fill="#5840ff" d="M498 471l11 1 7-11-11 0z"/>
<path fill="#6020a8" d="M897 493l13 7 5-7-13-7z"/>
<path fill="#60e0c0" d="M594 375l12-11 6-3-12 11z"/>
<path fill="#687830" d="M699 321l12-8 7 19-12 5z"/>
<path fill="#688038" d="M663 321l12-6 6 12-12 4z"/>
<path fill="#7020b0" d="M912 493l13 6 5-7-12-6z"/>
<path fill="#7030f8" d="M482 478l11 2 7-10-11-2z"/>
<path fill="#7820b0" d="M923 498l13 5 5-7-13-6z"/>
<path fill="#7830f0" d="M472 476l12 3 7-10-12-2z"/>
<path fill="#8030e8" d="M466 484l11 2 7-9-11-3z"/>
<path fill="#8828d0" d="M440 487l11 3 8-9-12-3z"/>
<path fill="#8828e0" d="M456 482l11 3 8-10-12-2z"/>
<path fill="#90e080" d="M632 350l11-17 6-2-11 17z"/>
<path fill="#b0d058" d="M647 333l12-15 6 2-11 14z"/>
<path fill="#203888" d="M830 444l12 15 5-3-12-14z"/>
<path fill="#204088" d="M820 431l12 15 5-2-12-14z"/>
<path fill="#205088" d="M809 420l12 13 6-1-12-12z"/>
<path fill="#282888" d="M840 457l12 13 6-4-12-12z"/>
<path fill="#287078" d="M784 376l11 20 5 5-12-17z"/>
<path fill="#302890" d="M850 468l13 11 5-6-12-9z"/>
<path fill="#3828a8" d="M861 477l12 9 6-6-13-8z"/>
<path fill="#387860" d="M773 360l12 18 5 9-12-15z"/>
<path fill="#4028a8" d="M871 484l13 9 5-6-12-9z"/>
<path fill="#4060ff" d="M524 461l11-4 6-14-11 5z"/>
<path fill="#4068ff" d="M530 450l11-5 6-13-11 6z"/>
<path fill="#4090ff" d="M545 434l12-6 6-11-12 7z"/>
<path fill="#4098ff" d="M551 425l12-7 6-9-12 8z"/>
<path fill="#48c8ff" d="M567 411l12-6 5-12-12 7z"/>
<path fill="#5020a8" d="M882 492l12 8 6-7-13-8z"/>
<path fill="#5048ff" d="M508 472l11-1 7-12-12 1z"/>
<path fill="#6020a8" d="M892 499l13 7 6-7-13-7z"/>
<path fill="#6038ff" d="M492 479l11 1 7-10-11-1z"/>
<path fill="#68e8c8" d="M588 384l12-10 6-10-13 10z"/>
<path fill="#7020b0" d="M908 499l13 6 5-7-13-6z"/>
<path fill="#707830" d="M673 316l12-3 7 14-12 1zM710 314l12-4 6 22-12 1z"/>
<path fill="#70d088" d="M610 363l11-17 7 2-12 15z"/>
<path fill="#7820b0" d="M918 504l13 6 6-8-13-6z"/>
<path fill="#7830f0" d="M475 485l12 3 7-10-11-2z"/>
<path fill="#8028e0" d="M459 491l12 3 7-10-12-2z"/>
<path fill="#8828c8" d="M433 494l12 3 7-9-12-3z"/>
<path fill="#8828d0" d="M443 496l12 4 7-10-12-3z"/>
<path fill="#8828d8" d="M449 489l12 3 7-9-11-3z"/>
<path fill="#98d068" d="M625 350l12-19 6 2-11 17z"/>
<path fill="#203088" d="M835 462l12 13 6-6-12-13z"/>
<path fill="#203888" d="M825 448l12 16 6-5-12-16z"/>
<path fill="#206080" d="M799 407l12 15 5 0-12-13z"/>
<path fill="#282898" d="M845 473l13 11 6-6-13-11z"/>
<path fill="#287078" d="M789 390l12 20 5 1-12-17z"/>
<path fill="#3828a8" d="M856 482l12 10 6-7-13-9z"/>
<path fill="#4028a8" d="M866 490l13 9 6-7-13-9z"/>
<path fill="#4088ff" d="M539 445l12-5 6-14-12 6z"/>
<path fill="#4850ff" d="M517 470l12-1 6-14-11 3z"/>
<path fill="#487848" d="M763 348l13 13 4 13-13-10z"/>
<path fill="#48c0ff" d="M561 419l12-6 6-10-13 6z"/>
<path fill="#5020a8" d="M877 498l13 8 5-7-12-9z"/>
<path fill="#5840ff" d="M501 480l12 0 7-11-12 0z"/>
<path fill="#587840" d="M752 337l13 12 4 16-12-8z"/>
<path fill="#6020b0" d="M887 505l13 7 6-7-13-8z"/>
<path fill="#607838" d="M742 324l12 13 5 20-12-10z"/>
<path fill="#60e8d8" d="M582 395l12-8 6-14-12 9z"/>
<path fill="#6820b0" d="M903 505l13 6 5-7-13-7z"/>
<path fill="#6838f8" d="M485 487l12 2 7-11-12-1z"/>
<path fill="#7020b0" d="M914 510l13 6 5-8-13-6z"/>
<path fill="#707830" d="M732 314l11 10 5 23-11-10z"/>
<path fill="#7820b0" d="M924 515l13 5 6-7-13-6z"/>
<path fill="#7830e8" d="M469 493l12 3 7-10-12-3z"/>
<path fill="#787828" d="M683 314l12-7 7 15-12 5z"/>
<path fill="#787830" d="M721 310l12 4 5 23-11-5z"/>
<path fill="#8828c8" d="M436 504l12 3 8-9-12-3z"/>
<path fill="#8828e0" d="M453 499l11 3 8-10-12-3z"/>
<path fill="#90e088" d="M604 366l11-17 6-2-11 16z"/>
<path fill="#b8b840" d="M657 320l12-9 7 5-13 6z"/>
<path fill="#c8e058" d="M641 335l12-16 6-1-11 15z"/>
<path fill="#203088" d="M830 467l12 14 6-7-12-13z"/>
<path fill="#204888" d="M814 435l12 15 6-5-12-15z"/>
<path fill="#205880" d="M804 422l12 15 6-4-12-14z"/>
<path fill="#282890" d="M840 479l13 11 6-7-13-11z"/>
<path fill="#286880" d="M794 409l12 16 6-4-13-14z"/>
<path fill="#3828a8" d="M851 488l12 10 6-8-12-9z"/>
<path fill="#387860" d="M779 370l11 23 5 3-11-20z"/>
<path fill="#4028a8" d="M861 496l13 9 6-7-13-9z"/>
<path fill="#4060ff" d="M527 468l12-2 6-14-11 3z"/>
<path fill="#4070ff" d="M533 457l12-3 6-16-11 5z"/>
<path fill="#40a0ff" d="M549 440l11-3 6-16-11 4z"/>
<path fill="#40b0ff" d="M555 428l11-5 7-12-12 6z"/>
<path fill="#5020a8" d="M872 504l13 9 5-8-12-9z"/>
<path fill="#5048ff" d="M511 479l12-1 7-12-12 2z"/>
<path fill="#50e0f8" d="M570 413l13-6 5-12-12 8z"/>
<path fill="#5848ff" d="M505 488l12 0 6-12-11 1z"/>
<path fill="#58e0e8" d="M576 405l12-8 6-12-12 8z"/>
<path fill="#6038ff" d="M495 488l12 1 7-11-12 0z"/>
<path fill="#6820b0" d="M898 511l13 7 6-8-13-7z"/>
<path fill="#6838ff" d="M489 497l12 1 7-11-12-1z"/>
<path fill="#7020b0" d="M909 516l13 6 5-8-13-5z"/>
<path fill="#7030f0" d="M479 495l12 3 7-11-12-2z"/>
<path fill="#7830e8" d="M473 504l11 2 8-10-12-3z"/>
<path fill="#8028e8" d="M463 501l11 3 8-10-12-3z"/>
<path fill="#8828d0" d="M446 506l12 4 7-10-11-3z"/>
<path fill="#887028" d="M694 308l12-9 7 16-13 8z"/>
<path fill="#98f090" d="M598 375l11-16 6-10-11 17z"/>
<path fill="#a09030" d="M667 312l12-8 7 11-12 3z"/>
<path fill="#a8c858" d="M619 349l11-22 7 5-11 19z"/>
<path fill="#c8c848" d="M635 334l12-18 7 4-12 15z"/>
<path fill="#203088" d="M825 472l12 14 6-6-12-14z"/>
<path fill="#203888" d="M820 453l12 16 6-6-12-16z"/>
<path fill="#205088" d="M809 440l12 16 6-6-12-16z"/>
<path fill="#206080" d="M799 426l12 16 6-6-12-14z"/>
<path fill="#282888" d="M835 484l13 11 6-6-13-11z"/>
<path fill="#3028a0" d="M846 494l12 10 6-7-12-10z"/>
<path fill="#307068" d="M784 391l11 20 6-2-12-19z"/>
<path fill="#3828a8" d="M856 502l13 9 6-7-13-9z"/>
<path fill="#4070ff" d="M537 466l12-1 6-16-12 2z"/>
<path fill="#4088ff" d="M543 454l11-3 7-17-12 4z"/>
<path fill="#4820a8" d="M867 510l13 9 6-8-13-8z"/>
<path fill="#4858ff" d="M521 478l12-1 6-13-11 2z"/>
<path fill="#48d8ff" d="M564 423l12-5 6-13-12 6z"/>
<path fill="#507840" d="M768 351l12 21 5 6-12-18z"/>
<path fill="#5840ff" d="M499 498l11 0 7-12-11 0z"/>
<path fill="#6020b0" d="M883 511l12 8 6-8-13-8z"/>
<path fill="#6820b0" d="M893 518l13 6 6-8-13-6z"/>
<path fill="#687830" d="M758 337l12 17 5 9-13-14z"/>
<path fill="#7020b0" d="M904 523l13 6 6-8-13-6z"/>
<path fill="#7030f8" d="M483 506l11 2 7-12-11-1z"/>
<path fill="#70e8b8" d="M586 398l12-13 6-13-12 14z"/>
<path fill="#7820b0" d="M920 521l13 6 5-8-13-6z"/>
<path fill="#8028e0" d="M466 512l12 3 7-11-12-2z"/>
<path fill="#80f0a0" d="M592 387l12-14 5-14-12 16z"/>
<path fill="#8820c0" d="M430 511l11 4 8-10-12-3z"/>
<path fill="#8828c8" d="M440 514l11 3 8-9-12-4z"/>
<path fill="#8828d8" d="M456 509l12 3 7-10-11-3z"/>
<path fill="#886820" d="M704 299l13-5 6 18-12 4z"/>
<path fill="#987828" d="M677 305l13-9 6 13-12 7z"/>
<path fill="#e0d040" d="M651 321l12-13 7 3-13 10z"/>
<path fill="#204088" d="M815 457l12 17 6-5-12-16z"/>
<path fill="#205088" d="M804 442l12 17 6-4-12-16z"/>
<path fill="#282888" d="M830 489l13 12 6-7-13-11z"/>
<path fill="#287078" d="M788 412l13 17 6-5-13-16z"/>
<path fill="#302898" d="M841 499l12 10 6-6-12-10z"/>
<path fill="#307060" d="M778 394l12 21 6-4-12-20z"/>
<path fill="#4060ff" d="M531 476l12 0 6-14-11 2z"/>
<path fill="#4088ff" d="M547 464l12-2 6-16-12 3z"/>
<path fill="#40a0ff" d="M553 451l11-3 7-18-12 4z"/>
<path fill="#487850" d="M773 370l12 24 6-1-12-23z"/>
<path fill="#48c0ff" d="M559 436l11-4 6-16-11 5z"/>
<path fill="#5048ff" d="M509 497l11 1 7-13-11 0z"/>
<path fill="#5050ff" d="M515 487l12 0 6-13-11 2z"/>
<path fill="#5820a8" d="M878 517l13 8 5-8-13-7z"/>
<path fill="#6820b0" d="M888 524l13 7 6-8-13-7z"/>
<path fill="#6838ff" d="M493 507l11 1 7-12-11-1z"/>
<path fill="#68e8c8" d="M580 407l12-13 6-10-12 13z"/>
<path fill="#7020b0" d="M899 530l13 6 6-8-13-6z"/>
<path fill="#7820b0" d="M915 528l13 6 6-8-14-6z"/>
<path fill="#7830e8" d="M476 514l12 3 7-11-12-2z"/>
<path fill="#787830" d="M747 321l13 18 4 12-12-12z"/>
<path fill="#8820c8" d="M433 521l12 4 7-9-11-4z"/>
<path fill="#8828d0" d="M450 516l11 4 8-9-12-4z"/>
<path fill="#8828d8" d="M460 519l12 4 7-10-12-3z"/>
<path fill="#886020" d="M715 294l12 2 6 20-12-3z"/>
<path fill="#887028" d="M737 305l13 17 4 18-12-14z"/>
<path fill="#c09830" d="M661 310l12-14 7 9-12 8z"/>
<path fill="#c8b038" d="M629 330l11-19 8 6-12 17z"/>
<path fill="#c8d858" d="M614 351l10-23 7 0-11 21z"/>
<path fill="#d0a838" d="M645 319l12-14 7 4-12 13z"/>
<path fill="#203088" d="M820 476l12 15 6-6-12-14z"/>
<path fill="#204088" d="M810 460l12 18 5-5-12-16z"/>
<path fill="#206080" d="M794 429l12 16 6-4-12-15z"/>
<path fill="#287070" d="M783 414l12 17 6-3-12-16z"/>
<path fill="#3828a0" d="M851 507l13 10 6-7-13-9z"/>
<path fill="#4060ff" d="M535 486l12 1 6-15-11 1z"/>
<path fill="#4070ff" d="M541 475l12 0 6-15-12 2z"/>
<path fill="#40a0ff" d="M557 462l12-4 6-18-12 5z"/>
<path fill="#4820a0" d="M862 516l13 9 6-7-13-9z"/>
<path fill="#4858ff" d="M525 486l12 1 6-13-11 0z"/>
<path fill="#48c0ff" d="M563 448l11-6 6-20-11 8z"/>
<path fill="#5050ff" d="M519 497l11 2 7-14-11-1z"/>
<path fill="#507848" d="M768 372l12 24 6-3-12-23z"/>
<path fill="#50e0f0" d="M569 432l11-8 6-19-12 11z"/>
<path fill="#5820a8" d="M873 523l13 9 5-8-12-8z"/>
<path fill="#5840ff" d="M503 508l11 1 7-13-12-1z"/>
<path fill="#60e8d8" d="M574 418l13-11 5-13-12 12z"/>
<path fill="#6820b0" d="M884 530l13 7 5-8-13-7z"/>
<path fill="#687838" d="M763 350l12 23 5-1-11-21z"/>
<path fill="#7020b0" d="M894 536l14 6 5-8-13-6z"/>
<path fill="#7030f8" d="M486 516l12 2 7-12-12-1z"/>
<path fill="#7820b0" d="M910 535l13 6 6-9-13-6z"/>
<path fill="#8028e0" d="M470 522l12 3 7-10-12-3z"/>
<path fill="#8828c8" d="M443 524l12 4 7-10-11-3z"/>
<path fill="#8828d0" d="M453 527l12 4 7-10-11-4z"/>
<path fill="#886820" d="M726 296l12 9 5 22-12-11z"/>
<path fill="#986820" d="M688 297l12-6 7 9-12 10z"/>
<path fill="#b0f878" d="M596 386l12-16 5-14-11 18z"/>
<path fill="#d0f868" d="M602 375l12-18 5-17-11 21z"/>
<path fill="#e0f060" d="M608 361l11-21 6-11-11 23z"/>
<path fill="#202888" d="M825 495l13 12 6-7-13-12z"/>
<path fill="#203888" d="M815 481l12 16 6-7-12-15z"/>
<path fill="#204888" d="M804 464l12 19 6-6-12-18z"/>
<path fill="#205880" d="M799 444l12 18 6-3-12-17z"/>
<path fill="#286880" d="M789 430l12 16 6-2-12-16z"/>
<path fill="#3028a0" d="M836 505l12 10 6-7-12-10z"/>
<path fill="#3828a0" d="M846 513l13 10 6-7-13-10z"/>
<path fill="#387858" d="M773 394l12 22 6-2-12-20z"/>
<path fill="#4020a0" d="M857 522l13 9 6-7-13-10z"/>
<path fill="#4070ff" d="M545 486l12-2 6-15-12 3z"/>
<path fill="#4088ff" d="M551 474l12-3 6-15-12 4z"/>
<path fill="#4858ff" d="M529 498l12 1 6-15-11 0z"/>
<path fill="#5820a8" d="M868 530l13 8 6-8-13-8z"/>
<path fill="#5848ff" d="M513 509l11 2 7-15-12-1z"/>
<path fill="#6038ff" d="M506 519l12 2 7-13-12-2z"/>
<path fill="#6820b0" d="M879 537l13 7 5-8-13-7z"/>
<path fill="#6838ff" d="M496 517l12 3 7-13-12-1z"/>
<path fill="#7820b0" d="M905 541l14 6 5-8-13-6z"/>
<path fill="#7830e8" d="M480 524l12 3 7-11-12-2z"/>
<path fill="#787828" d="M752 335l12 18 6 1-12-17z"/>
<path fill="#8820c0" d="M436 531l12 4 8-9-12-4z"/>
<path fill="#8828c8" d="M446 534l12 4 8-9-12-4z"/>
<path fill="#8828d8" d="M463 530l12 3 8-10-12-3z"/>
<path fill="#887028" d="M742 321l12 17 6 1-12-18z"/>
<path fill="#a0f088" d="M590 396l12-17 6-10-12 17z"/>
<path fill="#a86820" d="M671 298l13-11 7 10-13 10z"/>
<path fill="#b06820" d="M698 292l14 2 6 1-13 6z"/>
<path fill="#c89030" d="M639 313l12-12 7 5-12 13z"/>
<path fill="#d08830" d="M655 307l12-15 7 5-12 14z"/>
<path fill="#e8b840" d="M623 331l11-20 7 0-11 19z"/>
<path fill="#203888" d="M809 489l13 15 6-8-12-16z"/>
<path fill="#206080" d="M794 448l12 19 6-5-12-18z"/>
<path fill="#283090" d="M820 502l12 12 7-9-13-11z"/>
<path fill="#3030a8" d="M831 513l12 10 6-9-12-10z"/>
<path fill="#307068" d="M778 415l12 17 6-1-12-18z"/>
<path fill="#3828a8" d="M841 521l13 10 6-9-13-10z"/>
<path fill="#4060ff" d="M539 499l12-1 6-16-11 2z"/>
<path fill="#40a0ff" d="M561 471l12-4 6-17-12 5z"/>
<path fill="#4828a8" d="M852 529l13 10 6-9-13-9z"/>
<path fill="#48c0ff" d="M567 458l11-6 6-20-11 7z"/>
<path fill="#5048ff" d="M523 510l12 2 6-15-11-1z"/>
<path fill="#5820b0" d="M863 537l13 8 6-8-13-8z"/>
<path fill="#5840ff" d="M517 521l11 2 7-14-12-1z"/>
<path fill="#587840" d="M763 371l11 26 6-1-11-24z"/>
<path fill="#58e0e8" d="M573 442l11-8 6-24-11 12z"/>
<path fill="#6838f8" d="M500 528l12 3 7-12-12-2z"/>
<path fill="#68e8b8" d="M579 424l11-11 6-21-12 14z"/>
<path fill="#7020b0" d="M890 543l13 6 5-8-13-6z"/>
<path fill="#7030f0" d="M490 526l12 3 7-11-12-3z"/>
<path fill="#707830" d="M757 353l12 22 6-3-11-22z"/>
<path fill="#7820b0" d="M901 548l13 6 5-8-13-6z"/>
<path fill="#8028e8" d="M473 532l12 3 8-10-12-3z"/>
<path fill="#807828" d="M747 341l12 15 6-3-12-18z"/>
<path fill="#8828d0" d="M457 537l12 4 7-10-12-3z"/>
<path fill="#885018" d="M720 299l13 10 6-2-13-11z"/>
<path fill="#886020" d="M731 307l12 16 6 1-12-19z"/>
<path fill="#88f098" d="M584 408l12-16 6-13-12 17z"/>
<path fill="#985020" d="M682 288l14 4 5 1-12 5z"/>
<path fill="#c07028" d="M709 295l13 6 6-4-13-2z"/>
<path fill="#ffd848" d="M618 342l11-18 6-13-12 20z"/>
<path fill="#203088" d="M804 499l12 14 7-10-13-15z"/>
<path fill="#204888" d="M799 473l12 18 6-9-12-18z"/>
<path fill="#2830a0" d="M815 511l12 11 6-9-12-12z"/>
<path fill="#287078" d="M783 434l13 17 6-5-13-17z"/>
<path fill="#3830b0" d="M825 521l13 10 6-10-12-10z"/>
<path fill="#4028b0" d="M836 529l13 10 6-10-13-9z"/>
<path fill="#4070ff" d="M549 498l12-2 6-18-11 3z"/>
<path fill="#407850" d="M768 393l12 24 5-1-11-22z"/>
<path fill="#4088ff" d="M555 484l12-3 6-17-12 5z"/>
<path fill="#4828b0" d="M847 537l13 9 6-9-13-9z"/>
<path fill="#4850ff" d="M533 511l12 1 6-16-11 0z"/>
<path fill="#5048ff" d="M527 523l12 1 7-15-12 0z"/>
<path fill="#6038ff" d="M510 530l12 3 7-12-12-2z"/>
<path fill="#6820b8" d="M874 544l13 7 6-9-13-7z"/>
<path fill="#7020b8" d="M885 550l13 6 5-8-13-7z"/>
<path fill="#7830e8" d="M483 535l12 3 8-11-12-3z"/>
<path fill="#7830f0" d="M494 537l12 3 7-11-12-3z"/>
<path fill="#8820c0" d="M440 542l12 4 7-9-12-4z"/>
<path fill="#8828c8" d="M450 545l12 4 8-10-13-3z"/>
<path fill="#8828e0" d="M467 540l12 4 7-11-12-3z"/>
<path fill="#886020" d="M698 317l12 23 7-19-12-15z"/>
<path fill="#886820" d="M736 333l12 10 7-6-13-17z"/>
<path fill="#a05820" d="M693 291l12 18 7-14-13-3z"/>
<path fill="#b08028" d="M725 328l12 7 7-14-12-15z"/>
<path fill="#b87028" d="M703 308l13 14 6-23-12-6z"/>
<path fill="#c88830" d="M714 322l13 7 6-22-12-9z"/>
<path fill="#d06828" d="M666 294l12-10 7 4-13 11z"/>
<path fill="#e0b038" d="M709 339l12 6 7-18-13-8z"/>
<path fill="#f0f058" d="M606 372l12-14 5-16-12 15z"/>
<path fill="#ffe850" d="M612 358l12-14 5-21-12 18z"/>
<path fill="#204088" d="M793 484l13 17 6-11-12-18z"/>
<path fill="#206080" d="M788 458l13 17 6-9-12-18z"/>
<path fill="#287078" d="M778 443l12 17 7-10-13-17z"/>
<path fill="#3030a0" d="M809 519l13 11 6-9-12-11z"/>
<path fill="#307060" d="M773 418l12 18 6-4-12-18z"/>
<path fill="#3830b0" d="M820 529l13 10 6-10-13-9z"/>
<path fill="#4028b0" d="M831 537l13 9 6-9-13-9z"/>
<path fill="#4060ff" d="M543 511l12 0 6-18-11 2z"/>
<path fill="#48c0ff" d="M571 466l12-3 6-18-12 5z"/>
<path fill="#5050ff" d="M537 524l12 1 7-16-12 0z"/>
<path fill="#50e0f0" d="M577 452l12-4 6-23-12 6z"/>
<path fill="#5820b0" d="M858 545l13 8 6-9-13-8z"/>
<path fill="#5840ff" d="M520 533l13 2 7-13-12-2z"/>
<path fill="#6820b8" d="M869 551l13 7 6-8-13-7z"/>
<path fill="#687838" d="M758 368l11 28 6 1-12-26z"/>
<path fill="#68e8b8" d="M583 434l11-6 6-26-11 8z"/>
<path fill="#7020b8" d="M880 557l13 6 6-8-14-7z"/>
<path fill="#7030f8" d="M504 539l12 4 7-12-12-3z"/>
<path fill="#7820b0" d="M896 555l13 6 6-8-14-7z"/>
<path fill="#787830" d="M752 351l12 23 6 1-12-22z"/>
<path fill="#8028e0" d="M477 543l12 4 7-11-12-3z"/>
<path fill="#8828d0" d="M460 548l12 4 8-10-12-4z"/>
<path fill="#884818" d="M687 292l12 27 7-11-12-18z"/>
<path fill="#886820" d="M703 333l13 9 6 2-14-6z"/>
<path fill="#887028" d="M741 341l13 13 6 1-13-15z"/>
<path fill="#d0a838" d="M730 341l13 2 6-1-13-10z"/>
<path fill="#d8f060" d="M600 382l12-14 6-11-13 14z"/>
<path fill="#e07828" d="M649 303l13-10 6 0-12 15z"/>
<path fill="#f89830" d="M633 313l12-10 7-2-12 13z"/>
<path fill="#ffd848" d="M719 344l13-2 6-9-12-7z"/>
<path fill="#203088" d="M799 508l12 13 6-9-12-14z"/>
<path fill="#204088" d="M788 493l12 16 7-9-13-17z"/>
<path fill="#205880" d="M783 469l12 17 7-12-13-17z"/>
<path fill="#286880" d="M772 456l12 15 7-13-12-16z"/>
<path fill="#307060" d="M767 428l12 17 7-10-12-17z"/>
<path fill="#4068ff" d="M553 511l12 0 7-19-12 1z"/>
<path fill="#4088ff" d="M559 495l12 0 6-19-11 2z"/>
<path fill="#40a0ff" d="M565 480l12-2 6-17-11 3z"/>
<path fill="#487848" d="M762 396l12 25 6-4-11-24z"/>
<path fill="#48d8ff" d="M581 463l12 0 7-19-12 1z"/>
<path fill="#5028b0" d="M842 545l13 9 6-9-13-9z"/>
<path fill="#5840ff" d="M531 534l12 2 7-14-12-1z"/>
<path fill="#6020b0" d="M853 552l13 8 6-9-13-8z"/>
<path fill="#60e0d0" d="M587 448l12-1 6-24-12 2z"/>
<path fill="#6820b8" d="M863 559l14 7 6-9-14-7z"/>
<path fill="#6838ff" d="M514 542l12 3 7-12-12-3z"/>
<path fill="#7820b0" d="M891 562l13 6 6-8-14-6z"/>
<path fill="#7830f0" d="M497 549l13 3 7-11-12-4z"/>
<path fill="#8030e8" d="M487 546l12 3 8-11-13-3z"/>
<path fill="#8820c8" d="M453 556l13 4 7-10-12-4z"/>
<path fill="#8828d8" d="M470 551l12 4 8-10-12-4z"/>
<path fill="#884018" d="M676 284l13 10 7-2-14-5z"/>
<path fill="#886020" d="M693 311l12 25 6 4-12-24z"/>
<path fill="#a0f088" d="M588 413l12-9 6-23-12 11z"/>
<path fill="#c09830" d="M713 341l14-4 6 4-13 3z"/>
<path fill="#c8f868" d="M594 394l12-11 6-16-13 13z"/>
<path fill="#ff8030" d="M643 305l13-6 6-6-13 10z"/>
<path fill="#ffa838" d="M627 326l13-8 5-15-12 9z"/>
<path fill="#ffc040" d="M622 344l11-7 6-21-11 7z"/>
<path fill="#ffe048" d="M616 359l12-6 6-19-12 8z"/>
<path fill="#203088" d="M793 515l13 14 6-9-12-14z"/>
<path fill="#203888" d="M782 501l13 16 6-9-12-16z"/>
<path fill="#205088" d="M777 479l13 16 6-10-12-17z"/>
<path fill="#206080" d="M766 466l13 15 7-11-13-16z"/>
<path fill="#3030a0" d="M804 527l13 11 6-9-13-11z"/>
<path fill="#307068" d="M761 440l13 17 7-13-13-17z"/>
<path fill="#3830b0" d="M815 537l13 9 6-9-13-9z"/>
<path fill="#4028b0" d="M826 544l12 10 7-9-13-9z"/>
<path fill="#4070ff" d="M564 511l12 2 6-19-12-2z"/>
<path fill="#4090ff" d="M569 494l12 2 7-19-12-2z"/>
<path fill="#40b0ff" d="M575 478l12 1 7-18-12 0z"/>
<path fill="#4858ff" d="M547 524l12 2 7-17-12-1z"/>
<path fill="#487848" d="M757 407l12 23 6-10-12-24z"/>
<path fill="#5028b0" d="M836 552l13 9 7-9-13-9z"/>
<path fill="#5048ff" d="M541 535l12 3 7-14-12-2z"/>
<path fill="#6020b0" d="M847 560l13 7 6-8-13-8z"/>
<path fill="#6038ff" d="M524 544l13 3 7-13-12-2z"/>
<path fill="#7020b8" d="M875 564l13 7 6-9-14-6z"/>
<path fill="#7820b0" d="M886 570l13 6 6-9-14-6z"/>
<path fill="#7830f0" d="M508 551l12 4 7-12-12-3z"/>
<path fill="#8028e0" d="M481 554l12 4 7-11-12-3zM491 557l12 4 8-11-13-3z"/>
<path fill="#807828" d="M747 346l12 24 5 4-11-23z"/>
<path fill="#80e090" d="M593 428l11-2 6-27-11 2z"/>
<path fill="#8828d0" d="M464 559l12 5 7-11-12-4z"/>
<path fill="#884018" d="M682 289l12 24 6 6-12-27z"/>
<path fill="#a07828" d="M724 338l14-2 6 6-14 0z"/>
<path fill="#f06828" d="M660 295l12-9 7-2-13 11z"/>
<path fill="#f0f058" d="M604 383l12-4 6-17-12 5z"/>
<path fill="#fff050" d="M610 369l12-5 6-14-12 7z"/>
<path fill="#203088" d="M788 524l12 13 7-9-13-14z"/>
<path fill="#205088" d="M772 487l12 16 7-9-13-16z"/>
<path fill="#206080" d="M761 475l13 14 6-9-12-15z"/>
<path fill="#287070" d="M756 452l12 16 7-12-12-17z"/>
<path fill="#3030a8" d="M798 536l13 10 7-9-13-11z"/>
<path fill="#3830b8" d="M809 545l13 9 7-9-13-10z"/>
<path fill="#3870ff" d="M574 513l12 3 7-20-12-3z"/>
<path fill="#3890ff" d="M580 496l12 3 6-20-12-3z"/>
<path fill="#4028b8" d="M820 552l13 9 6-9-12-9z"/>
<path fill="#407850" d="M751 421l12 21 7-13-12-23z"/>
<path fill="#4858ff" d="M558 525l12 3 6-17-12-3z"/>
<path fill="#48b8ff" d="M586 479l12 2 6-19-12-2z"/>
<path fill="#5028b0" d="M831 560l13 8 6-9-13-8z"/>
<path fill="#5048ff" d="M551 537l13 3 7-14-13-3z"/>
<path fill="#50e0f8" d="M592 463l12 2 6-20-12-1z"/>
<path fill="#5840ff" d="M535 546l12 3 7-13-12-3z"/>
<path fill="#60d8b8" d="M598 447l11 0 7-24-12 0z"/>
<path fill="#6820b8" d="M858 566l14 7 6-9-14-7z"/>
<path fill="#7020b0" d="M869 572l14 6 6-9-14-6z"/>
<path fill="#7038f8" d="M518 554l12 3 7-13-12-2z"/>
<path fill="#707830" d="M752 369l12 30 6-3-12-29z"/>
<path fill="#8030e8" d="M501 561l13 3 7-11-12-4z"/>
<path fill="#8828d0" d="M474 563l12 4 8-10-12-5z"/>
<path fill="#883018" d="M670 286l14 5 6 3-13-10z"/>
<path fill="#886820" d="M736 336l13 12 5 6-13-13z"/>
<path fill="#90e080" d="M603 426l12 0 6-28-12 1z"/>
<path fill="#c8f868" d="M598 404l12-3 6-24-12 4z"/>
<path fill="#ff8830" d="M638 318l12-4 6-16-12 5z"/>
<path fill="#ffa838" d="M632 337l12-5 6-21-12 4z"/>
<path fill="#ffc840" d="M626 352l12-3 6-19-12 4z"/>
<path fill="#203888" d="M777 511l12 15 7-10-12-16z"/>
<path fill="#204888" d="M766 497l13 15 6-10-12-16z"/>
<path fill="#283098" d="M782 535l13 12 6-11-12-13z"/>
<path fill="#287078" d="M750 461l13 16 6-10-12-16z"/>
<path fill="#3830b8" d="M793 546l13 9 6-10-12-11z"/>
<path fill="#387858" d="M745 433l12 20 7-12-12-21z"/>
<path fill="#4030c8" d="M804 554l13 9 6-11-13-9z"/>
<path fill="#4058ff" d="M568 527l12 4 7-18-12-3z"/>
<path fill="#4078ff" d="M585 515l12 2 6-20-12-1z"/>
<path fill="#40a0ff" d="M591 498l12 2 6-21-12-1z"/>
<path fill="#48c8ff" d="M596 481l12 0 7-19-12 0z"/>
<path fill="#5050ff" d="M562 540l12 4 7-15-12-4z"/>
<path fill="#5840ff" d="M545 548l13 4 7-14-13-3z"/>
<path fill="#58e0e8" d="M602 464l12 0 6-20-11 0z"/>
<path fill="#6020b0" d="M842 567l13 8 6-9-13-8z"/>
<path fill="#6838ff" d="M529 556l12 3 7-12-12-3z"/>
<path fill="#68e8b0" d="M608 447l12-1 6-25-12 2z"/>
<path fill="#7020b8" d="M853 574l13 6 6-9-13-6z"/>
<path fill="#707830" d="M746 380l12 29 6-11-11-29z"/>
<path fill="#7820b0" d="M881 577l13 6 6-9-14-6z"/>
<path fill="#7830f0" d="M512 564l12 3 7-12-12-3z"/>
<path fill="#8820c0" d="M457 567l12 5 8-10-12-4z"/>
<path fill="#8828d8" d="M484 566l13 4 7-10-12-4z"/>
<path fill="#884818" d="M687 295l13 21 5 20-13-25z"/>
<path fill="#885820" d="M698 314l13 14 5 14-13-6zM708 328l13 3 6 7-13 4z"/>
<path fill="#d0e860" d="M609 401l12 0 6-25-12 1z"/>
<path fill="#ff6828" d="M654 300l13-10 6-4-13 9z"/>
<path fill="#ffe048" d="M620 364l12-2 7-16-13 4z"/>
<path fill="#fff050" d="M614 379l12 0 7-19-12 2z"/>
<path fill="#203888" d="M771 523l13 13 7-11-13-16z"/>
<path fill="#204088" d="M760 510l13 14 7-13-13-15z"/>
<path fill="#205880" d="M755 486l13 13 7-11-13-14z"/>
<path fill="#286880" d="M744 473l13 14 7-11-13-16z"/>
<path fill="#3030a8" d="M776 546l13 11 7-12-13-11z"/>
<path fill="#307060" d="M739 443l13 20 7-10-13-21z"/>
<path fill="#4030c0" d="M787 556l13 9 7-11-13-10z"/>
<path fill="#4060ff" d="M579 530l12 3 7-18-13-2z"/>
<path fill="#4088ff" d="M595 517l12 2 7-22-12 0z"/>
<path fill="#4828c0" d="M815 561l13 9 6-10-13-9z"/>
<path fill="#4850ff" d="M573 543l12 3 7-15-13-3z"/>
<path fill="#48d8ff" d="M607 481l12-1 6-20-12 1z"/>
<path fill="#5828b8" d="M826 568l13 8 6-9-13-9z"/>
<path fill="#5840ff" d="M556 551l12 4 7-14-12-3z"/>
<path fill="#6038ff" d="M539 559l12 4 7-13-12-4z"/>
<path fill="#60e8d8" d="M613 464l12-1 6-22-12 2z"/>
<path fill="#6820b8" d="M837 575l13 8 6-10-13-7z"/>
<path fill="#687838" d="M740 397l12 26 7-15-12-28z"/>
<path fill="#7820b0" d="M864 579l14 6 6-9-14-6z"/>
<path fill="#7830f0" d="M522 566l13 4 7-13-13-3z"/>
<path fill="#8820c8" d="M467 571l13 4 7-10-12-4z"/>
<path fill="#8828c8" d="M478 574l12 5 8-11-13-4z"/>
<path fill="#8828d8" d="M495 569l12 4 8-11-13-3z"/>
<path fill="#886820" d="M741 346l12 26 6-2-12-25z"/>
<path fill="#a06820" d="M719 332l14 3 5 2-13 2z"/>
<path fill="#a8e870" d="M614 426l11-2 6-29-11 3z"/>
<path fill="#d04020" d="M664 292l13-7 7 6-14-5z"/>
<path fill="#ff7028" d="M648 314l13-9 6-15-13 8z"/>
<path fill="#ff8830" d="M643 332l12-7 5-22-11 8z"/>
<path fill="#ffb038" d="M637 349l12-7 6-20-12 8z"/>
<path fill="#206098" d="M750 500l12 12 7-15-13-13z"/>
<path fill="#283098" d="M766 536l12 12 7-13-13-14z"/>
<path fill="#2840a0" d="M755 525l12 12 7-14-12-14z"/>
<path fill="#2858a8" d="M744 515l12 11 7-16-12-12z"/>
<path fill="#2860a0" d="M733 505l13 11 6-17-12-12z"/>
<path fill="#286890" d="M739 488l12 13 7-15-12-14z"/>
<path fill="#307068" d="M734 456l12 19 7-13-13-20z"/>
<path fill="#4068ff" d="M589 533l12 2 7-19-12-1z"/>
<path fill="#40b0ff" d="M601 499l12 0 6-21-11 1z"/>
<path fill="#4830c8" d="M798 564l13 8 7-11-13-9z"/>
<path fill="#4850ff" d="M583 546l12 2 7-15-12-3z"/>
<path fill="#507848" d="M729 421l12 24 7-11-13-24z"/>
<path fill="#5828c0" d="M809 571l13 7 7-10-13-8z"/>
<path fill="#5848ff" d="M566 554l13 4 7-14-13-3z"/>
<path fill="#587840" d="M734 411l13 24 6-13-12-25z"/>
<path fill="#6028b8" d="M820 577l14 8 6-10-13-8z"/>
<path fill="#6038ff" d="M550 562l12 4 7-13-12-4z"/>
<path fill="#7020b8" d="M848 581l13 7 6-9-13-7z"/>
<path fill="#7030f8" d="M533 569l12 4 7-12-12-4z"/>
<path fill="#7820b0" d="M876 584l13 6 6-9-14-6z"/>
<path fill="#7820b8" d="M859 587l14 6 5-9-13-6z"/>
<path fill="#8028e0" d="M505 573l13 4 7-12-12-3z"/>
<path fill="#803018" d="M675 285l14 11 5 17-12-24z"/>
<path fill="#80e898" d="M619 446l11-2 6-27-11 4z"/>
<path fill="#8828d0" d="M488 578l13 4 7-10-12-5z"/>
<path fill="#885820" d="M730 334l13 14 6 0-13-12z"/>
<path fill="#886820" d="M735 358l12 25 7-12-12-26z"/>
<path fill="#e8f058" d="M619 401l12-4 6-26-12 5z"/>
<path fill="#ffc840" d="M631 362l12-6 6-17-12 7z"/>
<path fill="#ffe048" d="M625 378l12-5 6-20-12 6z"/>
<path fill="#205898" d="M716 508l13 13 7-17-13-14z"/>
<path fill="#206080" d="M722 491l13 15 7-18-13-17z"/>
<path fill="#2840a8" d="M749 538l13 11 7-14-13-12z"/>
<path fill="#2850b8" d="M738 529l13 10 7-15-13-11z"/>
<path fill="#2858b0" d="M727 519l13 11 7-16-13-11z"/>
<path fill="#287078" d="M728 473l12 16 7-16-12-18z"/>
<path fill="#3030a8" d="M760 547l13 11 6-12-12-12z"/>
<path fill="#3830b0" d="M771 557l13 10 6-11-12-11z"/>
<path fill="#3888f8" d="M606 518l12 3 6-22-12-3z"/>
<path fill="#4030c8" d="M782 566l13 8 6-11-13-9z"/>
<path fill="#4068ff" d="M600 535l12 3 7-19-12-3z"/>
<path fill="#40b0f8" d="M612 499l12 2 6-22-12-2z"/>
<path fill="#4858ff" d="M594 548l12 4 7-16-12-4z"/>
<path fill="#5028c8" d="M793 573l13 8 6-11-13-8z"/>
<path fill="#5048ff" d="M577 557l12 3 7-14-12-3z"/>
<path fill="#50d8f0" d="M617 480l13 1 6-20-12-1z"/>
<path fill="#6038ff" d="M560 565l13 4 7-13-13-4z"/>
<path fill="#60e0c0" d="M623 462l12 2 7-22-12-1z"/>
<path fill="#6820b8" d="M832 584l13 7 6-10-13-7z"/>
<path fill="#7030f0" d="M543 573l13 4 7-13-13-4z"/>
<path fill="#7820b0" d="M870 592l14 6 6-9-14-6z"/>
<path fill="#787830" d="M723 392l13 21 7-14-13-23z"/>
<path fill="#8030e8" d="M516 576l12 4 7-12-12-4z"/>
<path fill="#804018" d="M691 308l13 19 6 3-12-16z"/>
<path fill="#8828d0" d="M499 581l12 4 8-10-13-4z"/>
<path fill="#884818" d="M702 325l13 14 7-6-14-6z"/>
<path fill="#887828" d="M729 377l13 22 7-17-13-25z"/>
<path fill="#88d880" d="M629 444l12 1 6-28-12 0z"/>
<path fill="#c0e860" d="M624 423l12-3 6-32-12 6z"/>
<path fill="#ff5028" d="M659 305l13-11 5-9-12 5z"/>
<path fill="#206080" d="M705 495l13 14 7-18-13-17z"/>
<path fill="#2850a0" d="M710 521l13 12 7-14-13-13z"/>
<path fill="#2850b8" d="M721 532l13 10 7-14-13-10z"/>
<path fill="#287078" d="M711 476l13 17 7-21-13-19z"/>
<path fill="#3030b0" d="M754 558l13 10 7-11-13-11z"/>
<path fill="#3038b0" d="M743 549l13 10 7-12-13-11z"/>
<path fill="#3048c0" d="M732 541l13 9 7-13-13-10z"/>
<path fill="#3068d0" d="M627 525l13 7 6-20-12-8z"/>
<path fill="#3078e0" d="M617 520l12 6 6-22-12-6z"/>
<path fill="#3860f0" d="M611 537l12 6 7-19-13-6z"/>
<path fill="#387860" d="M717 454l12 20 7-18-12-22z"/>
<path fill="#3898b8" d="M639 487l12 9 7-19-12-10z"/>
<path fill="#3898d8" d="M622 501l13 6 6-22-12-6z"/>
<path fill="#4030b8" d="M765 567l13 9 7-11-13-9z"/>
<path fill="#40a098" d="M645 469l12 10 7-21-13-10z"/>
<path fill="#40a8b0" d="M656 478l12 9 7-20-13-9z"/>
<path fill="#40b8c8" d="M628 481l12 7 7-20-12-7z"/>
<path fill="#487850" d="M723 434l12 23 7-13-12-23z"/>
<path fill="#50c0a0" d="M634 463l12 7 7-21-12-7z"/>
<path fill="#6028c0" d="M804 579l13 8 6-10-13-8z"/>
<path fill="#6828b8" d="M815 586l13 7 7-10-14-7z"/>
<path fill="#7020b8" d="M843 589l13 7 6-10-13-6z"/>
<path fill="#8030e8" d="M526 579l13 4 7-12-12-4z"/>
<path fill="#8820c8" d="M481 586l13 4 8-10-13-4z"/>
<path fill="#885820" d="M724 345l13 15 7-13-13-13z"/>
<path fill="#e08830" d="M713 337l13 10 7-12-13-4z"/>
<path fill="#ff6828" d="M653 324l12-9 6-22-12 10z"/>
<path fill="#ff8830" d="M647 342l12-9 6-21-12 10z"/>
<path fill="#ffa838" d="M641 356l13-9 6-17-13 9z"/>
<path fill="#ffe848" d="M630 397l12-6 6-29-12 9z"/>
<path fill="#205890" d="M699 509l13 14 7-16-13-14z"/>
<path fill="#3068e0" d="M638 532l13 6 6-19-12-8z"/>
<path fill="#308088" d="M694 483l13 13 7-21-13-14z"/>
<path fill="#3080c0" d="M633 506l12 8 7-20-12-9z"/>
<path fill="#3080d8" d="M644 514l12 7 7-20-12-8z"/>
<path fill="#3858e8" d="M621 542l13 6 7-18-13-7z"/>
<path fill="#3898c8" d="M650 495l12 8 7-19-12-8z"/>
<path fill="#38a0e0" d="M661 503l12 5 7-18-12-6z"/>
<path fill="#4050ff" d="M604 551l13 5 7-16-13-5z"/>
<path fill="#40b8c8" d="M667 486l12 7 7-20-13-7z"/>
<path fill="#5028c8" d="M776 575l13 8 7-10-13-9z"/>
<path fill="#5048ff" d="M588 560l12 4 7-15-12-3z"/>
<path fill="#50a880" d="M662 460l12 9 7-24-13-10z"/>
<path fill="#50b098" d="M673 468l12 8 7-24-13-8z"/>
<path fill="#5828c8" d="M787 582l14 7 6-10-13-8z"/>
<path fill="#5840ff" d="M571 569l12 3 7-14-12-3z"/>
<path fill="#58a068" d="M651 451l12 10 7-25-13-12z"/>
<path fill="#7020b8" d="M826 592l13 7 7-10-14-7z"/>
<path fill="#7038f8" d="M554 576l12 4 8-13-13-4z"/>
<path fill="#707830" d="M718 402l12 22 7-12-12-21z"/>
<path fill="#70b870" d="M640 445l12 6 6-27-12-7z"/>
<path fill="#7820b8" d="M854 595l13 6 6-10-13-6z"/>
<path fill="#7830e8" d="M537 582l12 5 8-12-13-4z"/>
<path fill="#802810" d="M680 294l13 16 6 7-12-22z"/>
<path fill="#8028d8" d="M509 584l13 5 7-11-12-4z"/>
<path fill="#887028" d="M712 379l13 15 7-17-13-16z"/>
<path fill="#906820" d="M718 363l13 16 7-21-13-14z"/>
<path fill="#c07828" d="M707 353l13 11 7-19-13-9z"/>
<path fill="#c0d050" d="M635 420l12 0 6-34-12 2z"/>
<path fill="#ffc040" d="M636 373l12-9 6-20-13 9z"/>
<path fill="#205098" d="M693 524l13 12 7-15-13-13z"/>
<path fill="#2848b0" d="M704 535l13 11 7-14-13-12z"/>
<path fill="#2868b0" d="M682 514l13 11 7-16-13-12z"/>
<path fill="#2878a0" d="M688 499l13 12 7-17-13-13z"/>
<path fill="#3048c8" d="M715 545l13 8 7-13-13-10z"/>
<path fill="#3830b8" d="M749 568l13 10 6-11-13-11z"/>
<path fill="#3838b8" d="M738 560l12 9 7-11-13-11z"/>
<path fill="#3840c8" d="M727 552l12 9 7-13-13-9z"/>
<path fill="#3850f0" d="M632 548l13 6 7-18-13-6z"/>
<path fill="#3868f0" d="M649 538l13 5 6-20-12-5z"/>
<path fill="#387860" d="M700 463l13 14 7-23-13-17z"/>
<path fill="#3888e8" d="M655 520l12 6 7-20-12-6z"/>
<path fill="#3890d0" d="M672 508l12 7 7-17-13-8z"/>
<path fill="#38a0c0" d="M677 492l13 8 7-18-13-9z"/>
<path fill="#4048f0" d="M615 555l13 6 7-15-13-6z"/>
<path fill="#40a098" d="M683 475l13 9 7-23-13-9z"/>
<path fill="#4848ff" d="M598 563l13 5 7-14-13-5z"/>
<path fill="#5840ff" d="M582 571l12 5 7-15-12-3z"/>
<path fill="#6028c0" d="M798 588l14 7 6-10-13-7z"/>
<path fill="#6838f8" d="M565 580l12 4 7-14-12-3z"/>
<path fill="#687838" d="M712 417l12 20 7-14-12-21z"/>
<path fill="#70b068" d="M678 447l13 7 6-27-12-8z"/>
<path fill="#7820b8" d="M837 597l14 7 6-10-13-6z"/>
<path fill="#78a050" d="M667 437l13 10 6-27-12-12z"/>
<path fill="#8028d8" d="M520 588l12 4 8-11-13-4z"/>
<path fill="#807828" d="M706 391l13 13 7-12-13-15z"/>
<path fill="#8828c8" d="M492 589l12 5 8-11-12-4z"/>
<path fill="#905020" d="M696 339l13 15 7-17-13-12z"/>
<path fill="#a88028" d="M701 368l13 12 7-17-13-12z"/>
<path fill="#b83018" d="M669 294l14 2 6 0-13-11z"/>
<path fill="#2848b0" d="M688 539l12 11 7-16-12-12z"/>
<path fill="#2860c0" d="M677 531l12 9 7-17-12-11z"/>
<path fill="#3040c0" d="M699 549l12 10 7-15-12-11z"/>
<path fill="#3078e0" d="M666 525l12 7 7-19-12-7z"/>
<path fill="#3848d8" d="M710 558l13 8 6-14-12-9z"/>
<path fill="#3860e8" d="M660 543l13 6 6-19-12-7z"/>
<path fill="#4028c0" d="M760 577l13 8 6-10-13-10z"/>
<path fill="#4050f0" d="M654 558l13 6 6-17-12-7z"/>
<path fill="#4058f8" d="M643 553l13 5 6-17-12-6z"/>
<path fill="#4840f0" d="M609 567l13 6 7-14-13-6z"/>
<path fill="#4848f8" d="M626 561l13 5 7-15-13-6z"/>
<path fill="#5040ff" d="M592 575l13 5 7-14-13-5z"/>
<path fill="#507840" d="M706 439l12 17 8-21-13-20z"/>
<path fill="#5828c8" d="M771 584l13 8 6-11-13-8z"/>
<path fill="#60a068" d="M689 454l13 10 6-27-12-10z"/>
<path fill="#6820b8" d="M810 594l13 7 6-10-13-7z"/>
<path fill="#7820b0" d="M849 603l13 5 6-9-13-6z"/>
<path fill="#7830e8" d="M548 586l12 5 7-13-12-4z"/>
<path fill="#8028d8" d="M530 591l13 5 7-11-12-5z"/>
<path fill="#803818" d="M685 322l13 18 7-14-13-18z"/>
<path fill="#809840" d="M656 426l13 12 6-29-12-14z"/>
<path fill="#8828c8" d="M503 593l12 4 8-10-13-5z"/>
<path fill="#886820" d="M684 369l13 14 7-15-13-15z"/>
<path fill="#906020" d="M690 355l13 15 7-18-13-15z"/>
<path fill="#909038" d="M701 406l12 12 7-15-12-14z"/>
<path fill="#a0a840" d="M646 419l12 8 6-32-12-9z"/>
<path fill="#a0b848" d="M684 422l13 8 6-25-12-8z"/>
<path fill="#b09030" d="M695 382l13 10 7-14-13-11z"/>
<path fill="#ff5028" d="M664 315l12-2 6-19-12-1z"/>
<path fill="#ff7030" d="M658 333l12-2 6-21-12 2z"/>
<path fill="#3040c0" d="M682 555l13 9 7-16-13-11z"/>
<path fill="#3050d0" d="M671 548l13 8 6-18-12-9z"/>
<path fill="#3840d0" d="M693 563l13 9 7-15-13-10z"/>
<path fill="#3848e0" d="M665 563l13 7 7-16-13-8z"/>
<path fill="#4030c0" d="M743 579l13 9 7-12-13-10z"/>
<path fill="#4038c8" d="M732 572l13 8 7-12-13-10z"/>
<path fill="#4040d8" d="M721 565l13 8 6-14-12-8z"/>
<path fill="#4040e0" d="M704 571l13 7 7-14-13-8z"/>
<path fill="#4848f8" d="M637 566l13 5 7-15-13-5zM648 570l13 6 7-14-13-7z"/>
<path fill="#5038f8" d="M603 579l13 6 7-14-13-6z"/>
<path fill="#5040f8" d="M620 572l13 6 7-14-13-5z"/>
<path fill="#6028c8" d="M782 591l13 7 6-10-13-8z"/>
<path fill="#6828c0" d="M793 596l13 7 7-9-14-8z"/>
<path fill="#6838ff" d="M575 583l13 4 7-14-13-4z"/>
<path fill="#7020b8" d="M821 600l13 6 6-9-13-7z"/>
<path fill="#7830f0" d="M558 590l13 4 7-12-13-4z"/>
<path fill="#8028c8" d="M513 596l13 5 7-10-12-5z"/>
<path fill="#884818" d="M679 339l13 17 7-17-13-18z"/>
<path fill="#885820" d="M673 352l13 18 7-15-13-18z"/>
<path fill="#88a048" d="M695 429l13 11 6-24-12-11z"/>
<path fill="#903018" d="M674 312l13 12 7-15-13-16z"/>
<path fill="#908028" d="M662 397l12 14 7-26-12-16z"/>
<path fill="#909838" d="M673 411l12 11 7-25-12-13z"/>
<path fill="#988028" d="M679 386l12 14 7-19-12-14z"/>
<path fill="#b05020" d="M668 330l13 10 7-18-13-12z"/>
<path fill="#b8b038" d="M690 399l12 8 7-17-12-10z"/>
<path fill="#f0c040" d="M641 391l11-2 7-30-12 3z"/>
<path fill="#ff9030" d="M652 347l12-3 7-16-13 2z"/>
<path fill="#ffa838" d="M646 364l12-2 7-20-13 2z"/>
<path fill="#4038d8" d="M687 576l13 8 7-14-13-9z"/>
<path fill="#4040d0" d="M676 569l13 8 7-15-13-9z"/>
<path fill="#4830d8" d="M726 584l13 7 7-13-13-8z"/>
<path fill="#4838d8" d="M670 581l13 7 7-13-13-8z"/>
<path fill="#4838e0" d="M715 577l13 8 7-14-13-8z"/>
<path fill="#4838e8" d="M698 583l13 7 7-14-13-7z"/>
<path fill="#4840e8" d="M659 575l13 7 7-14-13-7z"/>
<path fill="#5028c0" d="M754 587l13 8 7-11-13-9z"/>
<path fill="#5030c8" d="M737 590l13 8 7-12-13-9z"/>
<path fill="#5030e0" d="M709 589l13 7 7-13-13-8z"/>
<path fill="#5040f8" d="M642 582l13 5 7-13-13-6z"/>
<path fill="#5040ff" d="M631 577l13 5 7-13-13-5z"/>
<path fill="#5838f8" d="M614 584l13 6 7-14-13-6zM625 589l13 5 7-14-13-5z"/>
<path fill="#6028c8" d="M765 594l13 7 7-11-13-8z"/>
<path fill="#6030e8" d="M597 591l13 5 7-13-13-6z"/>
<path fill="#6038f0" d="M586 586l13 5 7-13-13-5z"/>
<path fill="#6828c8" d="M776 600l13 6 7-10-13-7z"/>
<path fill="#7020b8" d="M804 602l13 7 7-10-13-7z"/>
<path fill="#7820b0" d="M832 605l13 6 7-9-14-6z"/>
<path fill="#7820b8" d="M815 608l14 6 6-9-13-7z"/>
<path fill="#7830e8" d="M569 593l13 5 7-13-13-4z"/>
<path fill="#8028c8" d="M524 600l12 5 8-11-13-4z"/>
<path fill="#8028d8" d="M541 595l13 5 7-11-13-5z"/>
<path fill="#8028e0" d="M552 599l13 5 7-12-13-4z"/>
<path fill="#8820c0" d="M496 601l12 5 8-11-12-4z"/>
<path fill="#886020" d="M667 370l13 17 7-19-12-17z"/>
<path fill="#b86020" d="M662 343l13 11 7-16-13-10z"/>
<path fill="#b87828" d="M656 361l13 11 7-20-13-11z"/>
<path fill="#b89030" d="M651 389l12 9 7-29-12-10z"/>
<path fill="#5030e0" d="M681 587l13 8 7-13-13-8zM664 592l13 7 7-12-13-8z"/>
<path fill="#5038e8" d="M653 586l13 7 7-13-13-7z"/>
<path fill="#5830d8" d="M720 595l13 7 7-12-13-8zM675 598l13 7 7-12-13-7z"/>
<path fill="#5830e0" d="M692 594l13 6 7-12-13-7z"/>
<path fill="#5830e8" d="M647 597l13 7 7-13-13-7z"/>
<path fill="#5838f8" d="M636 593l13 5 7-13-13-5z"/>
<path fill="#6028c8" d="M748 597l13 7 7-11-13-8zM731 601l13 7 7-12-13-8z"/>
<path fill="#6030d8" d="M703 599l13 6 7-11-13-7z"/>
<path fill="#6828c8" d="M759 603l14 7 6-11-13-7zM742 607l14 7 6-11-13-8z"/>
<path fill="#6830e8" d="M608 595l13 6 7-13-13-6z"/>
<path fill="#6830f0" d="M619 600l13 5 7-13-13-5z"/>
<path fill="#7020b8" d="M799 611l13 6 6-10-13-6z"/>
<path fill="#7028c0" d="M787 605l14 7 6-10-13-7z"/>
<path fill="#7028c8" d="M771 609l13 6 6-10-13-7z"/>
<path fill="#7030e0" d="M591 601l12 5 8-12-13-5z"/>
<path fill="#7030e8" d="M580 597l13 5 7-13-13-5z"/>
<path fill="#7820b0" d="M827 613l13 6 6-9-13-6z"/>
<path fill="#7820b8" d="M810 616l13 6 7-9-14-7z"/>
<path fill="#7820c0" d="M782 614l13 7 7-11-14-6z"/>
<path fill="#7828d8" d="M573 606l13 5 7-11-12-5z"/>
<path fill="#7830e0" d="M602 605l12 6 8-12-13-6z"/>
<path fill="#8028d0" d="M535 604l12 5 8-11-13-5zM545 608l13 4 7-10-12-5z"/>
<path fill="#8028e0" d="M563 603l12 4 8-11-13-5z"/>
<path fill="#8820c0" d="M507 605l12 5 8-11-13-5zM517 608l13 5 7-10-12-5z"/>
<path fill="#6028d0" d="M714 604l13 7 7-11-13-7z"/>
<path fill="#6030d8" d="M686 604l13 6 7-12-13-6zM658 603l13 6 7-12-13-7z"/>
<path fill="#6828c8" d="M725 610l14 7 6-11-13-7z"/>
<path fill="#6828d0" d="M708 614l14 6 6-11-13-6z"/>
<path fill="#6828d8" d="M697 609l13 6 7-11-13-7zM669 608l13 7 7-12-13-7z"/>
<path fill="#6830e0" d="M641 608l13 6 7-12-13-7z"/>
<path fill="#6830e8" d="M630 604l13 5 7-13-13-5z"/>
<path fill="#7028c0" d="M737 616l13 6 7-10-14-7z"/>
<path fill="#7028c8" d="M754 613l13 6 6-11-13-6zM720 619l13 7 7-11-14-7z"/>
<path fill="#7028d0" d="M652 613l13 6 7-12-13-6z"/>
<path fill="#7028d8" d="M680 614l13 5 7-11-13-6z"/>
<path fill="#7820b0" d="M804 625l14 6 6-10-13-6z"/>
<path fill="#7820b8" d="M793 619l13 7 7-10-13-7zM776 623l14 6 6-10-13-7z"/>
<path fill="#7828c0" d="M765 618l13 6 7-10-14-7zM748 621l13 6 7-10-13-6z"/>
<path fill="#7828d8" d="M584 610l13 6 7-11-12-6z"/>
<path fill="#7828e0" d="M624 614l12 5 8-12-13-5z"/>
<path fill="#7830e0" d="M613 610l12 5 8-12-13-5z"/>
<path fill="#8020b0" d="M821 621l14 6 6-9-13-6z"/>
<path fill="#8028c8" d="M578 619l13 6 7-11-13-5z"/>
<path fill="#8028d0" d="M556 611l13 5 7-11-12-4zM567 615l13 5 7-10-13-5zM595 615l13 5 7-11-13-5z"/>
<path fill="#8820c8" d="M528 612l13 5 7-10-12-5z"/>
<path fill="#8828c8" d="M539 616l13 5 7-10-13-5zM550 620l12 5 8-11-13-4z"/>
<path fill="#7028c8" d="M702 623l14 6 6-10-13-7z"/>
<path fill="#7028d0" d="M691 618l13 6 7-11-13-6zM663 618l13 6 7-11-13-7z"/>
<path fill="#7820b8" d="M787 628l14 6 6-10-13-6zM770 631l14 6 6-10-13-6z"/>
<path fill="#7820c0" d="M759 626l14 6 6-10-13-6zM731 625l13 6 7-10-13-7zM742 630l13 6 7-10-13-6zM725 634l13 6 7-11-13-6z"/>
<path fill="#7828c0" d="M714 628l13 7 7-11-14-7z"/>
<path fill="#7828c8" d="M657 628l13 6 7-12-13-6zM696 633l14 6 7-11-14-6z"/>
<path fill="#7828d0" d="M674 623l13 6 7-11-13-6zM646 623l13 6 7-12-13-6zM685 628l13 6 7-11-13-6z"/>
<path fill="#7828d8" d="M635 618l13 6 7-12-13-6z"/>
<path fill="#8020b0" d="M782 636l13 6 7-10-14-6z"/>
<path fill="#8020b8" d="M753 635l14 6 6-10-13-6zM765 640l13 5 7-9-14-6z"/>
<path fill="#8020c0" d="M571 628l13 6 8-11-13-5zM582 632l13 6 8-11-13-5z"/>
<path fill="#8020c8" d="M561 624l12 5 8-10-13-6z"/>
<path fill="#8028c8" d="M589 624l13 5 7-11-13-5zM600 628l13 5 7-11-13-5zM628 628l13 5 8-11-14-6zM611 632l13 5 7-10-13-6zM668 633l13 5 7-11-13-6zM639 632l14 6 7-11-13-6z"/>
<path fill="#8028d0" d="M606 619l13 5 7-11-13-5zM617 623l13 6 7-12-13-5z"/>
<path fill="#7820c0" d="M708 638l13 5 7-10-13-6z"/>
<path fill="#8020b8" d="M736 639l14 5 6-10-13-6zM748 643l13 6 7-10-14-6zM719 642l13 6 7-10-13-6zM730 647l14 6 7-10-14-6zM702 646l13 6 7-10-13-6zM644 645l14 6 7-10-14-6zM684 650l14 6 7-10-14-6z"/>
<path fill="#8020c0" d="M593 637l14 5 7-11-13-5zM651 637l13 5 7-10-13-6zM622 636l13 6 7-11-13-5zM690 642l14 5 7-10-14-6zM662 641l13 6 7-11-13-5zM605 641l13 5 7-10-13-6zM633 641l13 5 7-10-13-6zM673 646l13 5 7-10-13-6zM616 645l13 6 7-11-13-5z"/>
<path fill="#8028c0" d="M679 637l13 6 7-11-13-6z"/></g></defs>
<polygon points="54.7,111.7 165.3,153.7 212.8,82.1 117.1,53.2" fill="rgb(138,28,168)"/>
<use href="#bA" transform="translate(0.0 0.0)" filter="url(#bl)"/>
<path d="M50.8 112.5L166.4 156.9M166.4 156.9L215.7 81.5M50.9 112.4L44.4 71.4M50.8 112.5l1.3 -2.0M62.4 116.9l0.9 -1.3M73.9 121.4l0.9 -1.3M85.5 125.8l0.9 -1.3M97.0 130.3l0.9 -1.3M108.6 134.7l1.3 -2.0M120.2 139.1l0.9 -1.3M131.7 143.6l0.9 -1.3M143.3 148.0l0.9 -1.3M154.8 152.5l0.9 -1.3M166.4 156.9l1.3 -2.0M166.4 156.9l-2.3 -0.8M171.3 149.4l-1.5 -0.6M176.3 141.8l-1.5 -0.6M181.2 134.3l-1.5 -0.6M186.1 126.7l-1.5 -0.6M191.1 119.2l-2.3 -0.8M196.0 111.7l-1.5 -0.6M200.9 104.1l-1.5 -0.6M205.8 96.6l-1.5 -0.6M210.8 89.0l-1.5 -0.6M215.7 81.5l-2.3 -0.8M50.9 112.4l2.6 0.8M50.5 109.8l1.5 0.4M50.1 107.3l1.5 0.4M49.7 104.7l1.5 0.4M49.3 102.2l1.5 0.4M48.9 99.6l1.5 0.4M48.5 97.0l1.5 0.4M48.1 94.5l1.5 0.4M47.6 91.9l2.6 0.8M47.2 89.3l1.5 0.4M46.8 86.8l1.5 0.4M46.4 84.2l1.5 0.4M46.0 81.7l1.5 0.4M45.6 79.1l1.5 0.4M45.2 76.5l1.5 0.4M44.8 74.0l1.5 0.4M44.4 71.4l2.6 0.8" stroke="#111" stroke-width="1" fill="none"/>
<g fill="#333"><text x="30.80" y="72.60" font-family="Liberation Serif, serif" font-size="9.00">0.4</text><text x="34.00" y="92.40" font-family="Liberation Serif, serif" font-size="9.00">0.2</text><text x="37.30" y="111.80" font-family="Liberation Serif, serif" font-size="9.00">0.0</text><text x="9.00" y="90.60" font-family="Liberation Serif, serif" font-size="11.00">I</text><text x="16.70" y="89.90" font-family="Liberation Serif, serif" font-size="9.60">(a.u.)</text><text x="46.20" y="121.90" font-family="Liberation Serif, serif" font-size="9.00">0</text><text x="61.60" y="149.50" font-family="Liberation Serif, serif" font-size="9.70">x / pixels</text><text x="94.50" y="142.60" font-family="Liberation Serif, serif" font-size="9.00">50</text><text x="150.10" y="166.80" font-family="Liberation Serif, serif" font-size="9.00">100</text><text x="169.20" y="161.80" font-family="Liberation Serif, serif" font-size="9.00">0</text><text x="195.60" y="121.10" font-family="Liberation Serif, serif" font-size="9.00">50</text><text x="203.80" y="124.20" font-family="Liberation Serif, serif" font-size="9.70">y / pixels</text><text x="217.80" y="89.50" font-family="Liberation Serif, serif" font-size="9.00">100</text></g>
<text x="44.80" y="11.00" font-family="Liberation Serif, serif" font-size="11.70" fill="#3a3a3a">BC of Collimated Conformal System</text>
<text x="6.20" y="21.35" font-family="Liberation Sans, sans-serif" font-size="15.51" font-weight="bold" fill="#111">(a)</text>
<polygon points="297.7,111.9 408.3,153.9 455.8,82.3 360.1,53.4" fill="rgb(138,28,168)"/>
<use href="#cB" transform="translate(243.0 0.2)" filter="url(#bl)"/>
<path d="M293.8 112.7L409.4 157.1M409.4 157.1L458.7 81.7M293.9 112.6L287.4 71.6M293.8 112.7l1.3 -2.0M305.4 117.1l0.9 -1.3M316.9 121.6l0.9 -1.3M328.5 126.0l0.9 -1.3M340.0 130.5l0.9 -1.3M351.6 134.9l1.3 -2.0M363.2 139.3l0.9 -1.3M374.7 143.8l0.9 -1.3M386.3 148.2l0.9 -1.3M397.8 152.7l0.9 -1.3M409.4 157.1l1.3 -2.0M409.4 157.1l-2.3 -0.8M414.3 149.6l-1.5 -0.6M419.3 142.0l-1.5 -0.6M424.2 134.5l-1.5 -0.6M429.1 126.9l-1.5 -0.6M434.1 119.4l-2.3 -0.8M439.0 111.9l-1.5 -0.6M443.9 104.3l-1.5 -0.6M448.8 96.8l-1.5 -0.6M453.8 89.2l-1.5 -0.6M458.7 81.7l-2.3 -0.8M293.9 112.6l2.6 0.8M293.5 110.0l1.5 0.4M293.1 107.5l1.5 0.4M292.7 104.9l1.5 0.4M292.3 102.4l1.5 0.4M291.9 99.8l1.5 0.4M291.5 97.2l1.5 0.4M291.1 94.7l1.5 0.4M290.6 92.1l2.6 0.8M290.2 89.5l1.5 0.4M289.8 87.0l1.5 0.4M289.4 84.4l1.5 0.4M289.0 81.9l1.5 0.4M288.6 79.3l1.5 0.4M288.2 76.7l1.5 0.4M287.8 74.2l1.5 0.4M287.4 71.6l2.6 0.8" stroke="#111" stroke-width="1" fill="none"/>
<g fill="#333"><text x="273.80" y="72.80" font-family="Liberation Serif, serif" font-size="9.00">1.0</text><text x="277.00" y="92.60" font-family="Liberation Serif, serif" font-size="9.00">0.5</text><text x="280.30" y="112.00" font-family="Liberation Serif, serif" font-size="9.00">0.0</text><text x="252.00" y="90.80" font-family="Liberation Serif, serif" font-size="11.00">I</text><text x="259.70" y="90.10" font-family="Liberation Serif, serif" font-size="9.60">(a.u.)</text><text x="289.20" y="122.10" font-family="Liberation Serif, serif" font-size="9.00">0</text><text x="304.60" y="149.70" font-family="Liberation Serif, serif" font-size="9.70">x / pixels</text><text x="337.50" y="142.80" font-family="Liberation Serif, serif" font-size="9.00">50</text><text x="393.10" y="167.00" font-family="Liberation Serif, serif" font-size="9.00">100</text><text x="412.20" y="162.00" font-family="Liberation Serif, serif" font-size="9.00">0</text><text x="438.60" y="121.30" font-family="Liberation Serif, serif" font-size="9.00">50</text><text x="446.80" y="124.40" font-family="Liberation Serif, serif" font-size="9.70">y / pixels</text><text x="460.80" y="89.70" font-family="Liberation Serif, serif" font-size="9.00">100</text></g>
<text x="284.80" y="11.70" font-family="Liberation Serif, serif" font-size="11.70" fill="#3a3a3a">CBC of Collimated Conformal System</text>
<text x="249.00" y="23.45" font-family="Liberation Sans, sans-serif" font-size="15.01" font-weight="bold" fill="#111">(b)</text>
<polygon points="54.7,280.6 165.3,322.6 212.8,251.0 117.1,222.1" fill="rgb(138,28,168)"/>
<use href="#bC" transform="translate(0.0 168.8)" filter="url(#bl)"/>
<path d="M50.8 281.4L166.4 325.8M166.4 325.8L215.7 250.3M50.9 281.2L44.4 240.2M50.8 281.4l1.3 -2.0M62.4 285.8l0.9 -1.3M73.9 290.2l0.9 -1.3M85.5 294.7l0.9 -1.3M97.0 299.1l0.9 -1.3M108.6 303.5l1.3 -2.0M120.2 308.0l0.9 -1.3M131.7 312.4l0.9 -1.3M143.3 316.9l0.9 -1.3M154.8 321.3l0.9 -1.3M166.4 325.8l1.3 -2.0M166.4 325.8l-2.3 -0.8M171.3 318.2l-1.5 -0.6M176.3 310.7l-1.5 -0.6M181.2 303.1l-1.5 -0.6M186.1 295.6l-1.5 -0.6M191.1 288.1l-2.3 -0.8M196.0 280.5l-1.5 -0.6M200.9 273.0l-1.5 -0.6M205.8 265.4l-1.5 -0.6M210.8 257.9l-1.5 -0.6M215.7 250.3l-2.3 -0.8M50.9 281.2l2.6 0.8M50.5 278.7l1.5 0.4M50.1 276.1l1.5 0.4M49.7 273.6l1.5 0.4M49.3 271.0l1.5 0.4M48.9 268.4l1.5 0.4M48.5 265.9l1.5 0.4M48.1 263.3l1.5 0.4M47.6 260.8l2.6 0.8M47.2 258.2l1.5 0.4M46.8 255.6l1.5 0.4M46.4 253.1l1.5 0.4M46.0 250.5l1.5 0.4M45.6 247.9l1.5 0.4M45.2 245.4l1.5 0.4M44.8 242.8l1.5 0.4M44.4 240.2l2.6 0.8" stroke="#111" stroke-width="1" fill="none"/>
<g fill="#333"><text x="30.80" y="241.45" font-family="Liberation Serif, serif" font-size="9.00">0.4</text><text x="34.00" y="261.25" font-family="Liberation Serif, serif" font-size="9.00">0.2</text><text x="37.30" y="280.65" font-family="Liberation Serif, serif" font-size="9.00">0.0</text><text x="9.00" y="259.45" font-family="Liberation Serif, serif" font-size="11.00">I</text><text x="16.70" y="258.75" font-family="Liberation Serif, serif" font-size="9.60">(a.u.)</text><text x="46.20" y="290.75" font-family="Liberation Serif, serif" font-size="9.00">0</text><text x="61.60" y="318.35" font-family="Liberation Serif, serif" font-size="9.70">x / pixels</text><text x="94.50" y="311.45" font-family="Liberation Serif, serif" font-size="9.00">50</text><text x="150.10" y="335.65" font-family="Liberation Serif, serif" font-size="9.00">100</text><text x="169.20" y="330.65" font-family="Liberation Serif, serif" font-size="9.00">0</text><text x="195.60" y="289.95" font-family="Liberation Serif, serif" font-size="9.00">50</text><text x="203.80" y="293.05" font-family="Liberation Serif, serif" font-size="9.70">y / pixels</text><text x="217.80" y="258.35" font-family="Liberation Serif, serif" font-size="9.00">100</text></g>
<text x="47.10" y="182.20" font-family="Liberation Serif, serif" font-size="11.70" fill="#3a3a3a">BC of Collimated Conformal System</text>
<text x="7.50" y="193.60" font-family="Liberation Sans, sans-serif" font-size="14.34" font-weight="bold" fill="#111">(c)</text>
<polygon points="297.8,280.8 408.4,322.8 455.9,251.2 360.2,222.3" fill="rgb(138,28,168)"/>
<use href="#cB" transform="translate(243.1 169.1)" filter="url(#bl)"/>
<path d="M293.9 281.6L409.5 326.0M409.5 326.0L458.8 250.6M294.0 281.5L287.5 240.5M293.9 281.6l1.3 -2.0M305.5 286.0l0.9 -1.3M317.0 290.5l0.9 -1.3M328.6 294.9l0.9 -1.3M340.1 299.4l0.9 -1.3M351.7 303.8l1.3 -2.0M363.3 308.2l0.9 -1.3M374.8 312.7l0.9 -1.3M386.4 317.1l0.9 -1.3M397.9 321.6l0.9 -1.3M409.5 326.0l1.3 -2.0M409.5 326.0l-2.3 -0.8M414.4 318.5l-1.5 -0.6M419.4 310.9l-1.5 -0.6M424.3 303.4l-1.5 -0.6M429.2 295.8l-1.5 -0.6M434.1 288.3l-2.3 -0.8M439.1 280.8l-1.5 -0.6M444.0 273.2l-1.5 -0.6M448.9 265.7l-1.5 -0.6M453.9 258.1l-1.5 -0.6M458.8 250.6l-2.3 -0.8M294.0 281.5l2.6 0.8M293.6 278.9l1.5 0.4M293.2 276.4l1.5 0.4M292.8 273.8l1.5 0.4M292.4 271.2l1.5 0.4M292.0 268.7l1.5 0.4M291.6 266.1l1.5 0.4M291.2 263.6l1.5 0.4M290.8 261.0l2.6 0.8M290.3 258.4l1.5 0.4M289.9 255.9l1.5 0.4M289.5 253.3l1.5 0.4M289.1 250.8l1.5 0.4M288.7 248.2l1.5 0.4M288.3 245.6l1.5 0.4M287.9 243.1l1.5 0.4M287.5 240.5l2.6 0.8" stroke="#111" stroke-width="1" fill="none"/>
<g fill="#333"><text x="273.90" y="241.70" font-family="Liberation Serif, serif" font-size="9.00">1.0</text><text x="277.10" y="261.50" font-family="Liberation Serif, serif" font-size="9.00">0.5</text><text x="280.40" y="280.90" font-family="Liberation Serif, serif" font-size="9.00">0.0</text><text x="252.10" y="259.70" font-family="Liberation Serif, serif" font-size="11.00">I</text><text x="259.80" y="259.00" font-family="Liberation Serif, serif" font-size="9.60">(a.u.)</text><text x="289.30" y="291.00" font-family="Liberation Serif, serif" font-size="9.00">0</text><text x="304.70" y="318.60" font-family="Liberation Serif, serif" font-size="9.70">x / pixels</text><text x="337.60" y="311.70" font-family="Liberation Serif, serif" font-size="9.00">50</text><text x="393.20" y="335.90" font-family="Liberation Serif, serif" font-size="9.00">100</text><text x="412.30" y="330.90" font-family="Liberation Serif, serif" font-size="9.00">0</text><text x="438.70" y="290.20" font-family="Liberation Serif, serif" font-size="9.00">50</text><text x="446.90" y="293.30" font-family="Liberation Serif, serif" font-size="9.70">y / pixels</text><text x="460.90" y="258.60" font-family="Liberation Serif, serif" font-size="9.00">100</text></g>
<text x="286.90" y="180.00" font-family="Liberation Serif, serif" font-size="11.70" fill="#3a3a3a">CBC of Collimated Conformal System</text>
<text x="248.00" y="192.10" font-family="Liberation Serif, serif" font-size="16.14" font-weight="bold" fill="#111">(d)</text>
<polygon points="54.9,450.2 165.5,492.2 213.0,420.6 117.3,391.7" fill="rgb(138,28,168)"/>
<use href="#bE" transform="translate(0.2 338.5)" filter="url(#bl)"/>
<path d="M51.0 451.0L166.6 495.4M166.6 495.4L215.9 420.0M51.1 450.9L44.6 409.9M51.0 451.0l1.3 -2.0M62.6 455.4l0.9 -1.3M74.1 459.9l0.9 -1.3M85.7 464.3l0.9 -1.3M97.2 468.8l0.9 -1.3M108.8 473.2l1.3 -2.0M120.4 477.6l0.9 -1.3M131.9 482.1l0.9 -1.3M143.5 486.5l0.9 -1.3M155.0 491.0l0.9 -1.3M166.6 495.4l1.3 -2.0M166.6 495.4l-2.3 -0.8M171.5 487.9l-1.5 -0.6M176.5 480.3l-1.5 -0.6M181.4 472.8l-1.5 -0.6M186.3 465.2l-1.5 -0.6M191.2 457.7l-2.3 -0.8M196.2 450.2l-1.5 -0.6M201.1 442.6l-1.5 -0.6M206.0 435.1l-1.5 -0.6M211.0 427.5l-1.5 -0.6M215.9 420.0l-2.3 -0.8M51.1 450.9l2.6 0.8M50.7 448.3l1.5 0.4M50.3 445.8l1.5 0.4M49.9 443.2l1.5 0.4M49.5 440.6l1.5 0.4M49.1 438.1l1.5 0.4M48.7 435.5l1.5 0.4M48.3 433.0l1.5 0.4M47.9 430.4l2.6 0.8M47.4 427.8l1.5 0.4M47.0 425.3l1.5 0.4M46.6 422.7l1.5 0.4M46.2 420.1l1.5 0.4M45.8 417.6l1.5 0.4M45.4 415.0l1.5 0.4M45.0 412.5l1.5 0.4M44.6 409.9l2.6 0.8" stroke="#111" stroke-width="1" fill="none"/>
<g fill="#333"><text x="31.00" y="411.10" font-family="Liberation Serif, serif" font-size="9.00">0.4</text><text x="34.20" y="430.90" font-family="Liberation Serif, serif" font-size="9.00">0.2</text><text x="37.50" y="450.30" font-family="Liberation Serif, serif" font-size="9.00">0.0</text><text x="9.20" y="429.10" font-family="Liberation Serif, serif" font-size="11.00">I</text><text x="16.90" y="428.40" font-family="Liberation Serif, serif" font-size="9.60">(a.u.)</text><text x="46.40" y="460.40" font-family="Liberation Serif, serif" font-size="9.00">0</text><text x="61.80" y="488.00" font-family="Liberation Serif, serif" font-size="9.70">x / pixels</text><text x="94.70" y="481.10" font-family="Liberation Serif, serif" font-size="9.00">50</text><text x="150.30" y="505.30" font-family="Liberation Serif, serif" font-size="9.00">100</text><text x="169.40" y="500.30" font-family="Liberation Serif, serif" font-size="9.00">0</text><text x="195.80" y="459.60" font-family="Liberation Serif, serif" font-size="9.00">50</text><text x="204.00" y="462.70" font-family="Liberation Serif, serif" font-size="9.70">y / pixels</text><text x="218.00" y="428.00" font-family="Liberation Serif, serif" font-size="9.00">100</text></g>
<text x="44.30" y="350.50" font-family="Liberation Serif, serif" font-size="11.70" fill="#3a3a3a">BC of Collimated Conformal System</text>
<text x="8.00" y="364.15" font-family="Liberation Serif, serif" font-size="16.65" font-weight="bold" fill="#111">(e)</text>
<polygon points="297.7,450.2 408.3,492.2 455.8,420.6 360.1,391.7" fill="rgb(138,28,168)"/>
<use href="#cB" transform="translate(243.0 338.5)" filter="url(#bl)"/>
<path d="M293.8 451.0L409.4 495.4M409.4 495.4L458.7 420.0M293.9 450.9L287.4 409.9M293.8 451.0l1.3 -2.0M305.4 455.4l0.9 -1.3M316.9 459.9l0.9 -1.3M328.5 464.3l0.9 -1.3M340.0 468.8l0.9 -1.3M351.6 473.2l1.3 -2.0M363.2 477.6l0.9 -1.3M374.7 482.1l0.9 -1.3M386.3 486.5l0.9 -1.3M397.8 491.0l0.9 -1.3M409.4 495.4l1.3 -2.0M409.4 495.4l-2.3 -0.8M414.3 487.9l-1.5 -0.6M419.3 480.3l-1.5 -0.6M424.2 472.8l-1.5 -0.6M429.1 465.2l-1.5 -0.6M434.1 457.7l-2.3 -0.8M439.0 450.2l-1.5 -0.6M443.9 442.6l-1.5 -0.6M448.8 435.1l-1.5 -0.6M453.8 427.5l-1.5 -0.6M458.7 420.0l-2.3 -0.8M293.9 450.9l2.6 0.8M293.5 448.3l1.5 0.4M293.1 445.8l1.5 0.4M292.7 443.2l1.5 0.4M292.3 440.6l1.5 0.4M291.9 438.1l1.5 0.4M291.5 435.5l1.5 0.4M291.1 433.0l1.5 0.4M290.6 430.4l2.6 0.8M290.2 427.8l1.5 0.4M289.8 425.3l1.5 0.4M289.4 422.7l1.5 0.4M289.0 420.1l1.5 0.4M288.6 417.6l1.5 0.4M288.2 415.0l1.5 0.4M287.8 412.5l1.5 0.4M287.4 409.9l2.6 0.8" stroke="#111" stroke-width="1" fill="none"/>
<g fill="#333"><text x="273.80" y="411.10" font-family="Liberation Serif, serif" font-size="9.00">1.0</text><text x="277.00" y="430.90" font-family="Liberation Serif, serif" font-size="9.00">0.5</text><text x="280.30" y="450.30" font-family="Liberation Serif, serif" font-size="9.00">0.0</text><text x="252.00" y="429.10" font-family="Liberation Serif, serif" font-size="11.00">I</text><text x="259.70" y="428.40" font-family="Liberation Serif, serif" font-size="9.60">(a.u.)</text><text x="289.20" y="460.40" font-family="Liberation Serif, serif" font-size="9.00">0</text><text x="304.60" y="488.00" font-family="Liberation Serif, serif" font-size="9.70">x / pixels</text><text x="337.50" y="481.10" font-family="Liberation Serif, serif" font-size="9.00">50</text><text x="393.10" y="505.30" font-family="Liberation Serif, serif" font-size="9.00">100</text><text x="412.20" y="500.30" font-family="Liberation Serif, serif" font-size="9.00">0</text><text x="438.60" y="459.60" font-family="Liberation Serif, serif" font-size="9.00">50</text><text x="446.80" y="462.70" font-family="Liberation Serif, serif" font-size="9.70">y / pixels</text><text x="460.80" y="428.00" font-family="Liberation Serif, serif" font-size="9.00">100</text></g>
<text x="285.90" y="350.00" font-family="Liberation Serif, serif" font-size="11.70" fill="#3a3a3a">CBC of Collimated Conformal System</text>
<text x="253.00" y="360.90" font-family="Liberation Serif, serif" font-size="14.19" font-weight="bold" fill="#111">(f)</text>
<circle cx="274.8" cy="361.2" r=".5" fill="#999"/>
<g font-family="Liberation Sans, sans-serif" fill="#222"><rect x="26.5" y="521.5" width="194.0" height="140.1" fill="#fff" stroke="#777" stroke-width="1"/>
<line x1="26.5" y1="583.3" x2="220.5" y2="583.3" stroke="#0000ff" stroke-width="1.3" stroke-dasharray="4 2.5"/>
<line x1="26.5" y1="610.1" x2="220.5" y2="610.1" stroke="#008000" stroke-width="1.3" stroke-dasharray="4 2.5"/>
<line x1="26.5" y1="630.5" x2="220.5" y2="630.5" stroke="#ff0000" stroke-width="1.3" stroke-dasharray="4 2.5"/>
<rect x="59.0" y="642.9" width="5.3" height="18.7" fill="#ff0000" stroke="#222" stroke-width=".5"/>
<rect x="65.1" y="634.9" width="5.3" height="26.7" fill="#007f00" stroke="#222" stroke-width=".5"/>
<rect x="71.2" y="599.1" width="5.3" height="62.5" fill="#0000ff" stroke="#222" stroke-width=".5"/>
<rect x="86.8" y="633.2" width="5.3" height="28.4" fill="#ff0000" stroke="#222" stroke-width=".5"/>
<rect x="92.9" y="623.7" width="5.3" height="37.9" fill="#007f00" stroke="#222" stroke-width=".5"/>
<rect x="99.0" y="595.4" width="5.3" height="66.2" fill="#0000ff" stroke="#222" stroke-width=".5"/>
<rect x="114.7" y="630.4" width="5.3" height="31.2" fill="#ff0000" stroke="#222" stroke-width=".5"/>
<rect x="120.8" y="618.1" width="5.3" height="43.5" fill="#007f00" stroke="#222" stroke-width=".5"/>
<rect x="126.9" y="588.0" width="5.3" height="73.6" fill="#0000ff" stroke="#222" stroke-width=".5"/>
<rect x="142.5" y="622.9" width="5.3" height="38.7" fill="#ff0000" stroke="#222" stroke-width=".5"/>
<rect x="148.6" y="613.7" width="5.3" height="47.9" fill="#007f00" stroke="#222" stroke-width=".5"/>
<rect x="154.7" y="576.7" width="5.3" height="84.9" fill="#0000ff" stroke="#222" stroke-width=".5"/>
<rect x="170.3" y="618.2" width="5.3" height="43.4" fill="#ff0000" stroke="#222" stroke-width=".5"/>
<rect x="176.4" y="598.0" width="5.3" height="63.6" fill="#007f00" stroke="#222" stroke-width=".5"/>
<rect x="182.5" y="567.3" width="5.3" height="94.3" fill="#0000ff" stroke="#222" stroke-width=".5"/>
<rect x="198.2" y="617.0" width="5.3" height="44.6" fill="#ff0000" stroke="#222" stroke-width=".5"/>
<rect x="204.3" y="584.6" width="5.3" height="77.0" fill="#007f00" stroke="#222" stroke-width=".5"/>
<rect x="210.4" y="563.3" width="5.3" height="98.3" fill="#0000ff" stroke="#222" stroke-width=".5"/>
<line x1="67.6" y1="661.6" x2="67.6" y2="659.6" stroke="#777"/>
<line x1="67.6" y1="521.5" x2="67.6" y2="523.5" stroke="#777"/>
<text x="67.6" y="672" font-size="9.2" text-anchor="middle">1</text>
<line x1="95.4" y1="661.6" x2="95.4" y2="659.6" stroke="#777"/>
<line x1="95.4" y1="521.5" x2="95.4" y2="523.5" stroke="#777"/>
<text x="95.4" y="672" font-size="9.2" text-anchor="middle">2</text>
<line x1="123.3" y1="661.6" x2="123.3" y2="659.6" stroke="#777"/>
<line x1="123.3" y1="521.5" x2="123.3" y2="523.5" stroke="#777"/>
<text x="123.3" y="672" font-size="9.2" text-anchor="middle">3</text>
<line x1="151.1" y1="661.6" x2="151.1" y2="659.6" stroke="#777"/>
<line x1="151.1" y1="521.5" x2="151.1" y2="523.5" stroke="#777"/>
<text x="151.1" y="672" font-size="9.2" text-anchor="middle">4</text>
<line x1="178.9" y1="661.6" x2="178.9" y2="659.6" stroke="#777"/>
<line x1="178.9" y1="521.5" x2="178.9" y2="523.5" stroke="#777"/>
<text x="178.9" y="672" font-size="9.2" text-anchor="middle">5</text>
<line x1="206.8" y1="661.6" x2="206.8" y2="659.6" stroke="#777"/>
<line x1="206.8" y1="521.5" x2="206.8" y2="523.5" stroke="#777"/>
<text x="206.8" y="672" font-size="9.2" text-anchor="middle">6</text>
<line x1="26.5" y1="638.2" x2="28.5" y2="638.2" stroke="#777"/>
<line x1="220.5" y1="638.2" x2="218.5" y2="638.2" stroke="#777"/>
<text x="24" y="641.6" font-size="9.2" text-anchor="end">0.6</text>
<line x1="26.5" y1="591.6" x2="28.5" y2="591.6" stroke="#777"/>
<line x1="220.5" y1="591.6" x2="218.5" y2="591.6" stroke="#777"/>
<text x="24" y="595.0" font-size="9.2" text-anchor="end">0.7</text>
<line x1="26.5" y1="544.9" x2="28.5" y2="544.9" stroke="#777"/>
<line x1="220.5" y1="544.9" x2="218.5" y2="544.9" stroke="#777"/>
<text x="24" y="548.2" font-size="9.2" text-anchor="end">0.8</text>
<rect x="38.7" y="528.1" width="82.6" height="37.1" fill="#fff" stroke="#777" stroke-width=".8"/>
<rect x="41.1" y="530.8" width="13.8" height="8.5" fill="#ff0000" stroke="#333" stroke-width=".4"/>
<text x="56.8" y="538.8" font-size="9.2">Sample Point 1</text>
<rect x="41.1" y="542.5" width="13.8" height="8.5" fill="#007f00" stroke="#333" stroke-width=".4"/>
<text x="56.8" y="550.5" font-size="9.2">Sample Point 2</text>
<rect x="41.1" y="554.0" width="13.8" height="8.5" fill="#0000ff" stroke="#333" stroke-width=".4"/>
<text x="56.8" y="562.0" font-size="9.2">Sample Point 3</text>
<text x="32.5" y="580.8" font-size="8.5" font-weight="bold" fill="#0000ff">0.72</text>
<text x="32.5" y="608.1" font-size="8.5" font-weight="bold" fill="#008000">0.66</text>
<text x="32.5" y="628" font-size="8.5" font-weight="bold" fill="#ff0000">0.62</text>
<text x="122.5" y="681.7" font-size="9.2" text-anchor="middle">Secondary Diffraction Sidelobes Number</text>
<text transform="translate(7.5,591.5) rotate(-90)" font-size="9.2" text-anchor="middle">Normalized Peak Value</text>
<text x="0.3" y="525.6" font-size="13.8" font-weight="bold">(g)</text></g>
<g font-family="Liberation Sans, sans-serif" fill="#222"><rect x="265.9" y="521.9" width="195.4" height="141.5" fill="#fff" stroke="#777" stroke-width="1"/>
<path d="M265.9,662.9 266.4,662.9 267.0,662.9 267.5,662.9 268.1,662.9 268.6,662.9 269.2,662.9 269.7,662.9 270.2,662.9 270.8,662.9 271.3,662.9 271.9,662.9 272.4,662.9 273.0,662.9 273.5,662.9 274.0,662.9 274.6,662.9 275.1,662.9 275.7,662.9 276.2,662.9 276.8,662.9 277.3,662.9 277.8,662.9 278.4,662.8 278.9,662.8 279.5,662.7 280.0,662.7 280.6,662.6 281.1,662.5 281.6,662.5 282.2,662.4 282.7,662.3 283.3,662.2 283.8,662.1 284.4,662.0 284.9,661.9 285.4,661.9 286.0,661.8 286.5,661.7 287.1,661.5 287.6,661.4 288.2,661.2 288.7,661.1 289.2,660.9 289.8,660.8 290.3,660.6 290.9,660.5 291.4,660.4 292.0,660.3 292.5,660.2 293.0,660.1 293.6,660.1 294.1,660.1 294.7,660.1 295.2,660.1 295.8,660.2 296.3,660.3 296.8,660.5 297.4,660.6 297.9,660.8 298.5,661.0 299.0,661.2 299.6,661.4 300.1,661.6 300.6,661.8 301.2,661.9 301.7,662.1 302.3,662.2 302.8,662.4 303.4,662.5 303.9,662.6 304.4,662.7 305.0,662.9 305.5,663.0 306.1,663.1 306.6,663.1 307.2,663.1 307.7,662.9 308.2,662.1 308.8,660.9 309.3,659.5 309.9,657.9 310.4,656.2 311.0,654.6 311.5,653.1 312.0,651.6 312.6,649.7 313.1,647.7 313.7,645.7 314.2,643.7 314.8,641.8 315.3,640.3 315.8,639.1 316.4,638.4 316.9,638.3 317.5,638.6 318.0,639.2 318.5,640.0 319.1,641.0 319.6,642.1 320.2,643.3 320.7,644.5 321.3,645.7 321.8,646.9 322.3,648.0 322.9,649.1 323.4,650.4 324.0,651.8 324.5,653.2 325.1,654.5 325.6,655.7 326.1,656.6 326.7,657.2 327.2,657.3 327.8,656.8 328.3,655.7 328.9,654.0 329.4,651.8 329.9,649.2 330.5,646.4 331.0,643.3 331.6,640.2 332.1,637.1 332.7,634.1 333.2,631.2 333.7,628.2 334.3,624.7 334.8,620.8 335.4,616.6 335.9,612.2 336.5,607.8 337.0,603.4 337.5,599.2 338.1,595.3 338.6,591.7 339.2,588.7 339.7,586.3 340.3,584.6 340.8,583.7 341.3,583.8 341.9,584.6 342.4,586.1 343.0,588.2 343.5,590.7 344.1,593.5 344.6,596.5 345.1,599.5 345.7,602.6 346.2,605.5 346.8,608.8 347.3,612.8 347.9,617.4 348.4,622.3 348.9,627.3 349.5,632.1 350.0,636.5 350.6,640.2 351.1,643.1 351.7,644.9 352.2,645.3 352.7,643.9 353.3,640.8 353.8,636.2 354.4,630.7 354.9,624.4 355.5,617.7 356.0,611.0 356.5,604.7 357.1,599.1 357.6,593.5 358.2,587.1 358.7,580.3 359.3,573.2 359.8,566.1 360.3,559.1 360.9,552.7 361.4,546.8 362.0,541.9 362.5,538.1 363.1,535.6 363.6,534.8 364.1,536.2 364.7,540.0 365.2,545.8 365.8,553.1 366.3,561.3 366.9,569.9 367.4,578.5 367.9,586.6 368.5,593.6 369.0,599.1 369.6,603.7 370.1,608.4 370.7,613.1 371.2,617.8 371.7,622.3 372.3,626.6 372.8,630.6 373.4,634.3 373.9,637.5 374.5,640.1 375.0,642.2 375.5,643.5 376.1,644.1 376.6,643.6 377.2,641.5 377.7,638.3 378.3,634.2 378.8,629.5 379.3,624.6 379.9,619.9 380.4,615.5 381.0,611.9 381.5,608.7 382.1,605.3 382.6,601.8 383.1,598.3 383.7,594.8 384.2,591.6 384.8,588.5 385.3,585.9 385.9,583.6 386.4,581.9 386.9,580.8 387.5,580.4 388.0,581.1 388.6,582.9 389.1,585.7 389.7,589.4 390.2,593.6 390.7,598.3 391.3,603.2 391.8,608.1 392.4,613.0 392.9,617.5 393.5,621.5 394.0,624.8 394.5,627.8 395.1,630.9 395.6,634.1 396.2,637.4 396.7,640.5 397.3,643.6 397.8,646.4 398.3,649.0 398.9,651.3 399.4,653.3 400.0,654.8 400.5,655.8 401.1,656.2 401.6,656.0 402.1,655.4 402.7,654.5 403.2,653.3 403.8,651.9 404.3,650.5 404.9,649.1 405.4,647.8 405.9,646.7 406.5,645.7 407.0,644.5 407.6,643.4 408.1,642.2 408.7,641.1 409.2,640.1 409.7,639.2 410.3,638.5 410.8,638.0 411.4,637.7 411.9,637.7 412.4,638.1 413.0,638.8 413.5,639.8 414.1,641.0 414.6,642.3 415.2,643.7 415.7,645.2 416.2,646.7 416.8,648.1 417.3,649.4 417.9,650.5 418.4,651.6 419.0,652.9 419.5,654.1 420.0,655.5 420.6,656.8 421.1,658.0 421.7,659.2 422.2,660.2 422.8,661.1 423.3,661.8 423.8,662.2 424.4,662.4 424.9,662.4 425.5,662.3 426.0,662.3 426.6,662.3 427.1,662.3 427.6,662.2 428.2,662.2 428.7,662.1 429.3,662.0 429.8,661.9 430.4,661.8 430.9,661.6 431.4,661.4 432.0,661.3 432.5,661.1 433.1,660.9 433.6,660.8 434.2,660.7 434.7,660.6 435.2,660.6 435.8,660.6 436.3,660.7 436.9,660.8 437.4,660.9 438.0,661.1 438.5,661.3 439.0,661.5 439.6,661.7 440.1,661.9 440.7,662.1 441.2,662.3 441.8,662.5 442.3,662.6 442.8,662.8 443.4,662.8 443.9,662.9 444.5,662.9 445.0,662.9 445.6,662.9 446.1,662.9 446.6,663.0 447.2,663.0 447.7,663.0 448.3,663.0 448.8,663.0 449.4,663.0 449.9,663.0 450.4,663.0 451.0,663.1 451.5,663.1 452.1,663.1 452.6,663.1 453.2,663.1 453.7,663.1 454.2,663.1 454.8,663.1 455.3,663.1 455.9,663.1 456.4,663.1 457.0,663.1 457.5,663.1 458.0,663.1 458.6,663.1 459.1,663.1 459.7,663.1 460.2,663.1 460.8,663.1 461.3,663.1" fill="none" stroke="#ff0000" stroke-width="1.2"/>
<path d="M265.9,662.6 266.4,662.6 267.0,662.6 267.5,662.6 268.1,662.6 268.6,662.6 269.2,662.6 269.7,662.6 270.2,662.6 270.8,662.6 271.3,662.6 271.9,662.6 272.4,662.6 273.0,662.6 273.5,662.6 274.0,662.6 274.6,662.6 275.1,662.6 275.7,662.6 276.2,662.6 276.8,662.6 277.3,662.6 277.8,662.6 278.4,662.6 278.9,662.5 279.5,662.5 280.0,662.4 280.6,662.3 281.1,662.3 281.6,662.2 282.2,662.1 282.7,662.0 283.3,661.9 283.8,661.8 284.4,661.8 284.9,661.7 285.4,661.6 286.0,661.5 286.5,661.4 287.1,661.3 287.6,661.2 288.2,661.1 288.7,660.9 289.2,660.8 289.8,660.7 290.3,660.5 290.9,660.4 291.4,660.3 292.0,660.2 292.5,660.1 293.0,660.0 293.6,659.9 294.1,659.8 294.7,659.8 295.2,659.8 295.8,659.8 296.3,659.9 296.8,660.0 297.4,660.1 297.9,660.3 298.5,660.5 299.0,660.7 299.6,660.9 300.1,661.1 300.6,661.4 301.2,661.6 301.7,661.8 302.3,662.0 302.8,662.1 303.4,662.3 303.9,662.4 304.4,662.6 305.0,662.7 305.5,662.8 306.1,662.9 306.6,662.7 307.2,662.1 307.7,661.1 308.2,659.9 308.8,658.5 309.3,657.0 309.9,655.4 310.4,653.7 311.0,652.1 311.5,650.5 312.0,648.8 312.6,646.8 313.1,644.5 313.7,642.1 314.2,639.8 314.8,637.6 315.3,635.8 315.8,634.4 316.4,633.6 316.9,633.5 317.5,633.8 318.0,634.5 318.5,635.5 319.1,636.8 319.6,638.2 320.2,639.7 320.7,641.2 321.3,642.7 321.8,644.1 322.3,645.4 322.9,646.7 323.4,648.2 324.0,649.8 324.5,651.3 325.1,652.8 325.6,654.1 326.1,655.1 326.7,655.8 327.2,655.9 327.8,655.3 328.3,653.8 328.9,651.7 329.4,649.0 329.9,645.9 330.5,642.5 331.0,638.8 331.6,635.1 332.1,631.5 332.7,628.0 333.2,624.8 333.7,621.6 334.3,617.9 334.8,614.0 335.4,609.8 335.9,605.5 336.5,601.1 337.0,596.8 337.5,592.7 338.1,588.9 338.6,585.4 339.2,582.3 339.7,579.8 340.3,578.0 340.8,576.9 341.3,576.6 341.9,577.1 342.4,578.3 343.0,580.1 343.5,582.3 344.1,584.8 344.6,587.6 345.1,590.6 345.7,593.6 346.2,596.5 346.8,600.0 347.3,604.5 347.9,609.7 348.4,615.4 348.9,621.2 349.5,626.9 350.0,632.1 350.6,636.6 351.1,640.1 351.7,642.3 352.2,642.8 352.7,641.2 353.3,637.6 353.8,632.6 354.4,626.3 354.9,619.4 355.5,612.2 356.0,605.0 356.5,598.4 357.1,592.6 357.6,587.2 358.2,581.2 358.7,574.9 359.3,568.5 359.8,562.1 360.3,556.0 360.9,550.3 361.4,545.2 362.0,540.9 362.5,537.6 363.1,535.5 363.6,534.8 364.1,535.7 364.7,538.3 365.2,542.2 365.8,547.3 366.3,553.2 366.9,559.8 367.4,566.6 367.9,573.5 368.5,580.1 369.0,586.3 369.6,591.7 370.1,596.6 370.7,601.9 371.2,607.5 371.7,613.2 372.3,619.0 372.8,624.6 373.4,629.9 373.9,634.9 374.5,639.2 375.0,642.8 375.5,645.6 376.1,647.3 376.6,648.0 377.2,647.1 377.7,644.6 378.3,640.8 378.8,636.1 379.3,630.8 379.9,625.1 380.4,619.4 381.0,614.1 381.5,609.3 382.1,605.5 382.6,602.2 383.1,598.7 383.7,595.2 384.2,591.7 384.8,588.4 385.3,585.3 385.9,582.6 386.4,580.2 386.9,578.4 387.5,577.1 388.0,576.6 388.6,577.0 389.1,578.8 389.7,581.8 390.2,585.6 390.7,590.1 391.3,595.0 391.8,600.2 392.4,605.3 392.9,610.2 393.5,614.6 394.0,618.4 394.5,621.8 395.1,625.5 395.6,629.3 396.2,633.1 396.7,636.9 397.3,640.6 397.8,644.1 398.3,647.3 398.9,650.2 399.4,652.6 400.0,654.4 400.5,655.6 401.1,656.2 401.6,656.0 402.1,655.3 402.7,654.2 403.2,652.8 403.8,651.2 404.3,649.6 404.9,648.0 405.4,646.5 405.9,645.4 406.5,644.4 407.0,643.3 407.6,642.2 408.1,641.2 408.7,640.1 409.2,639.2 409.7,638.4 410.3,637.7 410.8,637.3 411.4,637.1 411.9,637.1 412.4,637.5 413.0,638.3 413.5,639.3 414.1,640.6 414.6,642.0 415.2,643.5 415.7,645.0 416.2,646.6 416.8,648.0 417.3,649.4 417.9,650.5 418.4,651.7 419.0,652.9 419.5,654.1 420.0,655.4 420.6,656.7 421.1,657.9 421.7,659.0 422.2,660.1 422.8,660.9 423.3,661.5 423.8,662.0 424.4,662.1 424.9,662.1 425.5,662.1 426.0,662.1 426.6,662.0 427.1,662.0 427.6,662.0 428.2,661.9 428.7,661.9 429.3,661.8 429.8,661.7 430.4,661.5 430.9,661.4 431.4,661.2 432.0,661.0 432.5,660.8 433.1,660.7 433.6,660.5 434.2,660.4 434.7,660.3 435.2,660.3 435.8,660.3 436.3,660.4 436.9,660.5 437.4,660.7 438.0,660.8 438.5,661.0 439.0,661.2 439.6,661.4 440.1,661.6 440.7,661.8 441.2,662.0 441.8,662.2 442.3,662.4 442.8,662.5 443.4,662.6 443.9,662.6 444.5,662.7 445.0,662.7 445.6,662.7 446.1,662.7 446.6,662.7 447.2,662.8 447.7,662.8 448.3,662.8 448.8,662.8 449.4,662.8 449.9,662.9 450.4,662.9 451.0,662.9 451.5,662.9 452.1,662.9 452.6,662.9 453.2,662.9 453.7,662.9 454.2,663.0 454.8,663.0 455.3,663.0 455.9,663.0 456.4,663.0 457.0,663.0 457.5,663.0 458.0,663.0 458.6,663.0 459.1,663.0 459.7,663.0 460.2,663.0 460.8,663.0 461.3,663.0" fill="none" stroke="#008000" stroke-width="1.2"/>
<path d="M265.9,661.1 266.4,661.2 267.0,661.2 267.5,661.3 268.1,661.3 268.6,661.3 269.2,661.4 269.7,661.4 270.2,661.4 270.8,661.4 271.3,661.5 271.9,661.5 272.4,661.5 273.0,661.5 273.5,661.5 274.0,661.5 274.6,661.5 275.1,661.5 275.7,661.4 276.2,661.4 276.8,661.3 277.3,661.2 277.8,661.1 278.4,661.0 278.9,660.8 279.5,660.7 280.0,660.5 280.6,660.4 281.1,660.2 281.6,660.0 282.2,659.9 282.7,659.7 283.3,659.5 283.8,659.4 284.4,659.1 284.9,658.9 285.4,658.6 286.0,658.3 286.5,658.0 287.1,657.7 287.6,657.4 288.2,657.0 288.7,656.7 289.2,656.3 289.8,656.0 290.3,655.6 290.9,655.3 291.4,655.0 292.0,654.7 292.5,654.4 293.0,654.2 293.6,653.9 294.1,653.7 294.7,653.6 295.2,653.5 295.8,653.4 296.3,653.4 296.8,653.4 297.4,653.5 297.9,653.7 298.5,653.9 299.0,654.1 299.6,654.4 300.1,654.7 300.6,655.0 301.2,655.3 301.7,655.5 302.3,655.8 302.8,656.0 303.4,656.2 303.9,656.4 304.4,656.4 305.0,656.4 305.5,656.2 306.1,655.7 306.6,655.1 307.2,654.2 307.7,653.2 308.2,652.1 308.8,650.8 309.3,649.5 309.9,648.2 310.4,646.8 311.0,645.4 311.5,644.1 312.0,642.5 312.6,640.5 313.1,638.2 313.7,635.8 314.2,633.3 314.8,631.0 315.3,629.0 315.8,627.3 316.4,626.2 316.9,625.8 317.5,626.1 318.0,626.9 318.5,628.0 319.1,629.5 319.6,631.1 320.2,633.0 320.7,634.9 321.3,636.8 321.8,638.6 322.3,640.2 322.9,642.0 323.4,643.9 324.0,646.1 324.5,648.1 325.1,650.0 325.6,651.6 326.1,652.6 326.7,653.0 327.2,652.5 327.8,651.3 328.3,649.3 328.9,646.7 329.4,643.7 329.9,640.3 330.5,636.6 331.0,632.8 331.6,629.0 332.1,625.2 332.7,621.6 333.2,618.4 333.7,615.1 334.3,611.3 334.8,607.2 335.4,603.0 335.9,598.5 336.5,594.1 337.0,589.7 337.5,585.5 338.1,581.6 338.6,578.1 339.2,575.0 339.7,572.4 340.3,570.5 340.8,569.4 341.3,569.1 341.9,569.6 342.4,570.8 343.0,572.5 343.5,574.7 344.1,577.2 344.6,579.9 345.1,582.9 345.7,585.9 346.2,588.8 346.8,592.3 347.3,597.0 347.9,602.5 348.4,608.6 348.9,614.8 349.5,621.0 350.0,626.8 350.6,631.9 351.1,636.1 351.7,638.9 352.2,640.2 352.7,639.3 353.3,635.9 353.8,630.4 354.4,623.5 354.9,615.6 355.5,607.4 356.0,599.4 356.5,592.2 357.1,586.2 357.6,580.9 358.2,575.3 358.7,569.6 359.3,563.8 359.8,558.2 360.3,552.8 360.9,547.9 361.4,543.6 362.0,539.9 362.5,537.2 363.1,535.4 363.6,534.8 364.1,535.6 364.7,537.8 365.2,541.2 365.8,545.6 366.3,550.8 366.9,556.5 367.4,562.5 367.9,568.6 368.5,574.6 369.0,580.2 369.6,585.3 370.1,590.0 370.7,595.3 371.2,601.0 371.7,606.9 372.3,612.8 372.8,618.6 373.4,624.0 373.9,628.9 374.5,633.1 375.0,636.4 375.5,638.6 376.1,639.6 376.6,639.1 377.2,637.3 377.7,634.4 378.3,630.6 378.8,626.1 379.3,621.2 379.9,616.2 380.4,611.2 381.0,606.5 381.5,602.4 382.1,599.1 382.6,596.2 383.1,593.1 383.7,590.0 384.2,587.0 384.8,583.9 385.3,581.0 385.9,578.3 386.4,575.9 386.9,573.7 387.5,571.9 388.0,570.5 388.6,569.5 389.1,569.1 389.7,569.6 390.2,571.5 390.7,574.6 391.3,578.6 391.8,583.3 392.4,588.5 392.9,593.8 393.5,599.1 394.0,604.0 394.5,608.4 395.1,611.9 395.6,615.1 396.2,618.3 396.7,621.6 397.3,625.0 397.8,628.2 398.3,631.4 398.9,634.5 399.4,637.4 400.0,640.0 400.5,642.4 401.1,644.4 401.6,646.0 402.1,647.2 402.7,647.9 403.2,648.1 403.8,647.7 404.3,646.8 404.9,645.5 405.4,644.1 405.9,642.6 406.5,641.3 407.0,640.2 407.6,639.3 408.1,638.3 408.7,637.4 409.2,636.4 409.7,635.5 410.3,634.6 410.8,633.9 411.4,633.4 411.9,633.0 412.4,632.9 413.0,633.1 413.5,633.8 414.1,634.7 414.6,636.0 415.2,637.4 415.7,639.0 416.2,640.7 416.8,642.3 417.3,644.0 417.9,645.5 418.4,646.9 419.0,648.0 419.5,649.0 420.0,650.0 420.6,651.0 421.1,652.1 421.7,653.1 422.2,654.2 422.8,655.2 423.3,656.1 423.8,656.9 424.4,657.7 424.9,658.4 425.5,659.0 426.0,659.4 426.6,659.7 427.1,659.8 427.6,659.8 428.2,659.8 428.7,659.7 429.3,659.6 429.8,659.5 430.4,659.4 430.9,659.3 431.4,659.1 432.0,659.0 432.5,658.9 433.1,658.7 433.6,658.6 434.2,658.5 434.7,658.4 435.2,658.3 435.8,658.3 436.3,658.3 436.9,658.3 437.4,658.3 438.0,658.4 438.5,658.5 439.0,658.7 439.6,658.9 440.1,659.1 440.7,659.3 441.2,659.5 441.8,659.7 442.3,659.9 442.8,660.2 443.4,660.4 443.9,660.6 444.5,660.7 445.0,660.9 445.6,661.0 446.1,661.1 446.6,661.1 447.2,661.2 447.7,661.3 448.3,661.3 448.8,661.4 449.4,661.4 449.9,661.5 450.4,661.5 451.0,661.6 451.5,661.6 452.1,661.7 452.6,661.7 453.2,661.8 453.7,661.8 454.2,661.9 454.8,661.9 455.3,661.9 455.9,662.0 456.4,662.0 457.0,662.0 457.5,662.0 458.0,662.1 458.6,662.1 459.1,662.1 459.7,662.1 460.2,662.1 460.8,662.1 461.3,662.1" fill="none" stroke="#0000ff" stroke-width="1.2"/>
<line x1="265.9" y1="663.4" x2="265.9" y2="661.4" stroke="#777"/>
<line x1="265.9" y1="521.9" x2="265.9" y2="523.9" stroke="#777"/>
<text x="265.9" y="673" font-size="9.2" text-anchor="middle">-45</text>
<line x1="315.8" y1="663.4" x2="315.8" y2="661.4" stroke="#777"/>
<line x1="315.8" y1="521.9" x2="315.8" y2="523.9" stroke="#777"/>
<text x="315.8" y="673" font-size="9.2" text-anchor="middle">-22</text>
<line x1="363.6" y1="663.4" x2="363.6" y2="661.4" stroke="#777"/>
<line x1="363.6" y1="521.9" x2="363.6" y2="523.9" stroke="#777"/>
<text x="363.6" y="673" font-size="9.2" text-anchor="middle">0</text>
<line x1="411.4" y1="663.4" x2="411.4" y2="661.4" stroke="#777"/>
<line x1="411.4" y1="521.9" x2="411.4" y2="523.9" stroke="#777"/>
<text x="411.4" y="673" font-size="9.2" text-anchor="middle">22</text>
<line x1="461.3" y1="663.4" x2="461.3" y2="661.4" stroke="#777"/>
<line x1="461.3" y1="521.9" x2="461.3" y2="523.9" stroke="#777"/>
<text x="461.3" y="673" font-size="9.2" text-anchor="middle">45</text>
<line x1="265.9" y1="663.4" x2="267.9" y2="663.4" stroke="#777"/>
<line x1="461.3" y1="663.4" x2="459.3" y2="663.4" stroke="#777"/>
<text x="263.5" y="666.8" font-size="9.2" text-anchor="end">0</text>
<line x1="265.9" y1="637.7" x2="267.9" y2="637.7" stroke="#777"/>
<line x1="461.3" y1="637.7" x2="459.3" y2="637.7" stroke="#777"/>
<text x="263.5" y="641.1" font-size="9.2" text-anchor="end">0.2</text>
<line x1="265.9" y1="611.9" x2="267.9" y2="611.9" stroke="#777"/>
<line x1="461.3" y1="611.9" x2="459.3" y2="611.9" stroke="#777"/>
<text x="263.5" y="615.3" font-size="9.2" text-anchor="end">0.4</text>
<line x1="265.9" y1="586.2" x2="267.9" y2="586.2" stroke="#777"/>
<line x1="461.3" y1="586.2" x2="459.3" y2="586.2" stroke="#777"/>
<text x="263.5" y="589.6" font-size="9.2" text-anchor="end">0.6</text>
<line x1="265.9" y1="560.5" x2="267.9" y2="560.5" stroke="#777"/>
<line x1="461.3" y1="560.5" x2="459.3" y2="560.5" stroke="#777"/>
<text x="263.5" y="563.9" font-size="9.2" text-anchor="end">0.8</text>
<line x1="265.9" y1="534.8" x2="267.9" y2="534.8" stroke="#777"/>
<line x1="461.3" y1="534.8" x2="459.3" y2="534.8" stroke="#777"/>
<text x="263.5" y="538.2" font-size="9.2" text-anchor="end">1</text>
<rect x="376.3" y="523.7" width="82.6" height="37.4" fill="#fff" stroke="#777" stroke-width=".8"/>
<line x1="378.7" y1="530.7" x2="392.7" y2="530.7" stroke="#ff0000" stroke-width="1.2"/>
<text x="393.4" y="534.2" font-size="9.2">Sample Point 1</text>
<line x1="378.7" y1="542.6" x2="392.7" y2="542.6" stroke="#008000" stroke-width="1.2"/>
<text x="393.4" y="546.1" font-size="9.2">Sample Point 2</text>
<line x1="378.7" y1="553.8" x2="392.7" y2="553.8" stroke="#0000ff" stroke-width="1.2"/>
<text x="393.4" y="557.3" font-size="9.2">Sample Point 3</text>
<text x="362.4" y="683" font-size="9.2" text-anchor="middle">Radial Position / (pixels)</text>
<text transform="translate(244.5,592) rotate(-90)" font-size="9.2" text-anchor="middle">Normalized Intensity</text>
<text x="236.5" y="533.2" font-size="16" font-weight="bold" font-family="Liberation Serif, serif">(h)</text></g>
</svg></body></html>
